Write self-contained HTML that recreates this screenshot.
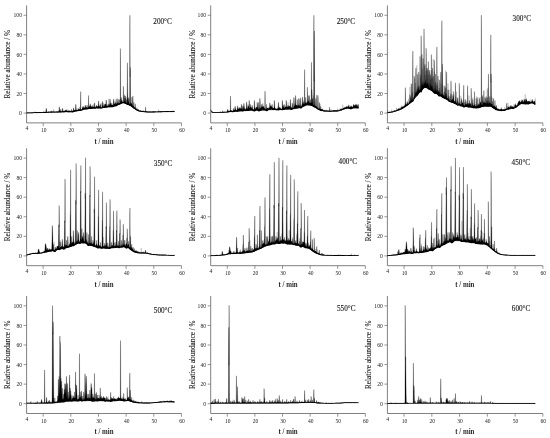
<!DOCTYPE html>
<html lang="en"><head><meta charset="utf-8"><title>Pyrolysis chromatograms</title>
<style>
html,body{margin:0;padding:0;background:#fff;overflow:hidden;}
svg{display:block;}
text{font-family:"Liberation Serif","Times New Roman",serif;fill:#1a1a1a;}
.ax{stroke:#555;stroke-width:0.75;fill:none;}
.tk{stroke:#6a6a6a;stroke-width:0.7;fill:none;}
.tr{stroke:#000;stroke-width:0.26;fill:#000;stroke-linejoin:round;}
.bd{fill:#000;stroke:none;}
.gr{stroke:#000;stroke-width:0.3;fill:none;}
.tl{font-size:6.5px;}
.t4{font-size:5.6px;}
.xl{font-size:7.5px;font-weight:bold;fill:#2a2a2a;}
.yl{font-size:7.5px;stroke:#1a1a1a;stroke-width:0.1;}
.tp{font-size:7.2px;stroke:#1a1a1a;stroke-width:0.12;}
</style></head><body>
<svg width="550" height="438" viewBox="0 0 550 438">
<rect width="550" height="438" fill="#fff"/>
<g>
<path class="ax" d="M26.60,5.46V122.88H181.44"/>
<text class="tl" x="22.00" y="115.25" text-anchor="end" textLength="2.9" lengthAdjust="spacingAndGlyphs">0</text>
<text class="tl" x="22.00" y="95.68" text-anchor="end" textLength="5.5" lengthAdjust="spacingAndGlyphs">20</text>
<text class="tl" x="22.00" y="76.11" text-anchor="end" textLength="5.5" lengthAdjust="spacingAndGlyphs">40</text>
<text class="tl" x="22.00" y="56.54" text-anchor="end" textLength="5.5" lengthAdjust="spacingAndGlyphs">60</text>
<text class="tl" x="22.00" y="36.97" text-anchor="end" textLength="5.5" lengthAdjust="spacingAndGlyphs">80</text>
<text class="tl" x="22.00" y="17.40" text-anchor="end" textLength="8.5" lengthAdjust="spacingAndGlyphs">100</text>
<text class="tl" x="43.69" y="132.38" text-anchor="middle" textLength="5.5" lengthAdjust="spacingAndGlyphs">10</text>
<text class="tl" x="71.34" y="132.38" text-anchor="middle" textLength="5.5" lengthAdjust="spacingAndGlyphs">20</text>
<text class="tl" x="98.99" y="132.38" text-anchor="middle" textLength="5.5" lengthAdjust="spacingAndGlyphs">30</text>
<text class="tl" x="126.64" y="132.38" text-anchor="middle" textLength="5.5" lengthAdjust="spacingAndGlyphs">40</text>
<text class="tl" x="154.29" y="132.38" text-anchor="middle" textLength="5.5" lengthAdjust="spacingAndGlyphs">50</text>
<text class="tl" x="181.94" y="132.38" text-anchor="middle" textLength="5.5" lengthAdjust="spacingAndGlyphs">60</text>
<path class="tk" d="M23.60,113.10H26.60M23.60,93.53H26.60M23.60,73.96H26.60M23.60,54.39H26.60M23.60,34.82H26.60M23.60,15.25H26.60M43.19,122.88v3.2M70.84,122.88v3.2M98.49,122.88v3.2M126.14,122.88v3.2M153.79,122.88v3.2M181.44,122.88v3.2"/>
<text class="t4" x="26.80" y="130.28" text-anchor="middle">4</text>
<text class="xl" x="104.02" y="143.78" text-anchor="middle" textLength="19.1" lengthAdjust="spacingAndGlyphs">t / min</text>
<text class="yl" transform="translate(10.40,64.17) rotate(-90)" text-anchor="middle" textLength="68.6" lengthAdjust="spacingAndGlyphs">Relative abundance / %</text>
<text class="tp" x="153.30" y="24.10">200°C</text>
<polygon class="bd" points="26.6,113.3 26.9,113.3 27.2,113.3 27.4,113.3 27.7,113.3 28.0,113.3 28.3,113.2 28.5,113.2 28.8,113.2 29.1,113.2 29.4,113.2 29.6,113.2 29.9,113.2 30.2,113.2 30.5,113.2 30.7,113.2 31.0,113.2 31.3,113.2 31.6,113.2 31.9,113.2 32.1,113.2 32.4,113.2 32.7,113.2 33.0,113.1 33.2,113.1 33.5,113.1 33.8,113.1 34.1,113.1 34.3,113.1 34.6,113.1 34.9,113.1 35.2,113.0 35.4,113.0 35.7,113.0 36.0,113.0 36.3,113.0 36.6,113.0 36.8,113.0 37.1,113.0 37.4,113.0 37.7,113.0 37.9,113.0 38.2,113.0 38.5,113.0 38.8,112.9 39.0,112.9 39.3,113.0 39.6,113.0 39.9,113.0 40.1,113.0 40.4,113.0 40.7,113.0 41.0,113.0 41.3,113.0 41.5,113.0 41.8,112.9 42.1,112.9 42.4,112.9 42.6,112.9 42.9,112.9 43.2,112.9 43.5,112.9 43.7,112.9 44.0,112.9 44.3,112.9 44.6,112.9 44.8,112.9 45.1,112.9 45.4,112.9 45.7,112.9 46.0,112.9 46.2,112.9 46.5,112.8 46.8,112.8 47.1,112.8 47.3,112.8 47.6,112.8 47.9,112.7 48.2,112.7 48.4,112.7 48.7,112.7 49.0,112.6 49.3,112.6 49.5,112.6 49.8,112.6 50.1,112.6 50.4,112.6 50.7,112.7 50.9,112.7 51.2,112.7 51.5,112.7 51.8,112.6 52.0,112.6 52.3,112.6 52.6,112.6 52.9,112.6 53.1,112.6 53.4,112.5 53.7,112.5 54.0,112.5 54.2,112.5 54.5,112.5 54.8,112.5 55.1,112.5 55.4,112.5 55.6,112.5 55.9,112.5 56.2,112.5 56.5,112.5 56.7,112.5 57.0,112.4 57.3,112.4 57.6,112.4 57.8,112.4 58.1,112.4 58.4,112.4 58.7,112.5 59.0,112.5 59.2,112.5 59.5,112.5 59.8,112.5 60.1,112.5 60.3,112.4 60.6,112.4 60.9,112.4 61.2,112.4 61.4,112.4 61.7,112.4 62.0,112.3 62.3,112.3 62.5,112.3 62.8,112.3 63.1,112.4 63.4,112.4 63.7,112.3 63.9,112.3 64.2,112.3 64.5,112.2 64.8,112.2 65.0,112.1 65.3,112.1 65.6,112.0 65.9,112.0 66.1,112.0 66.4,112.0 66.7,112.0 67.0,112.1 67.2,112.1 67.5,112.2 67.8,112.2 68.1,112.2 68.4,112.3 68.6,112.2 68.9,112.2 69.2,112.2 69.5,112.2 69.7,112.2 70.0,112.2 70.3,112.2 70.6,112.2 70.8,112.3 71.1,112.3 71.4,112.3 71.7,112.3 71.9,112.4 72.2,112.4 72.5,112.4 72.8,112.4 73.1,112.3 73.3,112.3 73.6,112.2 73.9,112.1 74.2,111.9 74.4,111.8 74.7,111.7 75.0,111.6 75.3,111.5 75.5,111.4 75.8,111.3 76.1,111.3 76.4,111.3 76.6,111.2 76.9,111.2 77.2,111.2 77.5,111.1 77.8,111.1 78.0,111.0 78.3,111.0 78.6,111.0 78.9,111.0 79.1,111.0 79.4,111.0 79.7,111.0 80.0,111.0 80.2,110.9 80.5,110.9 80.8,110.9 81.1,110.8 81.3,110.7 81.6,110.7 81.9,110.6 82.2,110.4 82.5,110.3 82.7,110.1 83.0,109.9 83.3,109.7 83.6,109.5 83.8,109.4 84.1,109.3 84.4,109.2 84.7,109.2 84.9,109.2 85.2,109.2 85.5,109.2 85.8,109.3 86.0,109.3 86.3,109.4 86.6,109.4 86.9,109.4 87.2,109.4 87.4,109.3 87.7,109.2 88.0,109.2 88.3,109.1 88.5,109.0 88.8,109.0 89.1,109.0 89.4,109.1 89.6,109.1 89.9,109.1 90.2,109.0 90.5,109.0 90.7,109.0 91.0,108.9 91.3,108.8 91.6,108.8 91.9,108.7 92.1,108.6 92.4,108.6 92.7,108.6 93.0,108.6 93.2,108.6 93.5,108.6 93.8,108.6 94.1,108.6 94.3,108.7 94.6,108.7 94.9,108.6 95.2,108.6 95.4,108.5 95.7,108.4 96.0,108.4 96.3,108.3 96.6,108.3 96.8,108.3 97.1,108.3 97.4,108.4 97.7,108.4 97.9,108.5 98.2,108.5 98.5,108.5 98.8,108.5 99.0,108.5 99.3,108.4 99.6,108.4 99.9,108.4 100.1,108.5 100.4,108.6 100.7,108.7 101.0,108.7 101.3,108.8 101.5,108.7 101.8,108.6 102.1,108.5 102.4,108.3 102.6,108.2 102.9,108.0 103.2,108.0 103.5,107.9 103.7,107.9 104.0,107.9 104.3,107.9 104.6,107.9 104.8,107.9 105.1,107.9 105.4,107.8 105.7,107.8 106.0,107.7 106.2,107.6 106.5,107.5 106.8,107.4 107.1,107.4 107.3,107.3 107.6,107.2 107.9,107.2 108.2,107.2 108.4,107.1 108.7,107.1 109.0,107.2 109.3,107.2 109.5,107.2 109.8,107.3 110.1,107.3 110.4,107.3 110.7,107.3 110.9,107.3 111.2,107.3 111.5,107.3 111.8,107.3 112.0,107.3 112.3,107.3 112.6,107.3 112.9,107.2 113.1,107.2 113.4,107.1 113.7,106.9 114.0,106.8 114.3,106.6 114.5,106.4 114.8,106.2 115.1,106.2 115.4,106.2 115.6,106.2 115.9,106.3 116.2,106.3 116.5,106.3 116.7,106.2 117.0,106.0 117.3,105.8 117.6,105.6 117.8,105.3 118.1,105.1 118.4,105.0 118.7,104.9 119.0,104.8 119.2,104.7 119.5,104.7 119.8,104.6 120.1,104.5 120.3,104.4 120.6,104.2 120.9,104.1 121.2,103.9 121.4,103.7 121.7,103.6 122.0,103.5 122.3,103.4 122.5,103.3 122.8,103.3 123.1,103.2 123.4,103.2 123.7,103.2 123.9,103.2 124.2,103.3 124.5,103.3 124.8,103.4 125.0,103.6 125.3,103.7 125.6,103.9 125.9,104.1 126.1,104.3 126.4,104.5 126.7,104.6 127.0,104.8 127.2,104.9 127.5,104.9 127.8,105.0 128.1,105.1 128.4,105.1 128.6,105.2 128.9,105.3 129.2,105.3 129.5,105.4 129.7,105.4 130.0,105.5 130.3,105.6 130.6,105.8 130.8,106.0 131.1,106.3 131.4,106.5 131.7,106.7 131.9,107.0 132.2,107.2 132.5,107.4 132.8,107.5 133.1,107.7 133.3,107.9 133.6,108.2 133.9,108.4 134.2,108.6 134.4,108.9 134.7,109.1 135.0,109.3 135.3,109.5 135.5,109.7 135.8,109.9 136.1,110.1 136.4,110.3 136.6,110.5 136.9,110.6 137.2,110.8 137.5,110.9 137.8,111.1 138.0,111.2 138.3,111.2 138.6,111.3 138.9,111.4 139.1,111.4 139.4,111.5 139.7,111.6 140.0,111.6 140.2,111.7 140.5,111.8 140.8,111.8 141.1,111.9 141.3,111.9 141.6,111.9 141.9,111.9 142.2,112.0 142.5,112.0 142.7,112.0 143.0,112.0 143.3,112.0 143.6,112.0 143.8,112.1 144.1,112.1 144.4,112.2 144.7,112.2 144.9,112.2 145.2,112.3 145.5,112.3 145.8,112.3 146.0,112.3 146.3,112.4 146.6,112.4 146.9,112.4 147.2,112.4 147.4,112.5 147.7,112.5 148.0,112.5 148.3,112.5 148.5,112.5 148.8,112.5 149.1,112.5 149.4,112.5 149.6,112.5 149.9,112.5 150.2,112.5 150.5,112.4 150.7,112.4 151.0,112.4 151.3,112.4 151.6,112.4 151.9,112.4 152.1,112.4 152.4,112.4 152.7,112.4 153.0,112.4 153.2,112.4 153.5,112.4 153.8,112.4 154.1,112.4 154.3,112.4 154.6,112.4 154.9,112.4 155.2,112.3 155.4,112.3 155.7,112.3 156.0,112.3 156.3,112.3 156.6,112.3 156.8,112.3 157.1,112.3 157.4,112.3 157.7,112.3 157.9,112.3 158.2,112.3 158.5,112.3 158.8,112.3 159.0,112.3 159.3,112.3 159.6,112.2 159.9,112.2 160.1,112.2 160.4,112.2 160.7,112.2 161.0,112.2 161.3,112.2 161.5,112.2 161.8,112.2 162.1,112.2 162.4,112.1 162.6,112.1 162.9,112.1 163.2,112.1 163.5,112.1 163.7,112.1 164.0,112.1 164.3,112.0 164.6,112.0 164.8,112.0 165.1,112.0 165.4,112.0 165.7,112.0 166.0,112.0 166.2,112.1 166.5,112.1 166.8,112.1 167.1,112.1 167.3,112.1 167.6,112.1 167.9,112.1 168.2,112.1 168.4,112.1 168.7,112.1 169.0,112.1 169.3,112.1 169.6,112.0 169.8,112.0 170.1,112.0 170.4,112.0 170.7,112.0 170.9,112.0 171.2,112.0 171.5,112.0 171.8,112.0 172.0,112.0 172.3,112.0 172.6,112.0 172.9,112.0 173.1,112.0 173.4,111.9 173.7,111.9 174.0,111.9 174.3,111.9 174.5,111.9 174.5,111.1 174.3,111.0 174.0,111.0 173.7,111.1 173.4,111.0 173.1,111.1 172.9,111.2 172.6,111.1 172.3,111.2 172.0,111.1 171.8,111.1 171.5,111.1 171.2,111.0 170.9,111.0 170.7,111.1 170.4,111.1 170.1,111.2 169.8,111.2 169.6,111.2 169.3,111.2 169.0,111.1 168.7,111.0 168.4,111.2 168.2,111.0 167.9,111.2 167.6,111.1 167.3,111.1 167.1,111.1 166.8,111.1 166.5,111.1 166.2,111.1 166.0,111.2 165.7,111.1 165.4,111.2 165.1,111.2 164.8,111.1 164.6,111.0 164.3,111.2 164.0,111.0 163.7,111.2 163.5,111.2 163.2,111.2 162.9,111.3 162.6,111.2 162.4,111.2 162.1,111.2 161.8,111.2 161.5,111.1 161.3,111.2 161.0,111.3 160.7,111.3 160.4,111.2 160.1,111.0 159.9,111.1 159.6,111.3 159.3,111.4 159.0,111.1 158.8,111.4 158.5,111.4 158.2,111.4 157.9,111.4 157.7,111.4 157.4,111.4 157.1,111.4 156.8,111.5 156.6,111.4 156.3,111.5 156.0,111.4 155.7,111.4 155.4,111.3 155.2,111.3 154.9,111.4 154.6,111.5 154.3,111.2 154.1,111.2 153.8,111.4 153.5,111.3 153.2,111.1 153.0,111.5 152.7,111.3 152.4,111.5 152.1,111.5 151.9,111.4 151.6,111.5 151.3,111.4 151.0,111.4 150.7,111.6 150.5,111.4 150.2,111.5 149.9,111.5 149.6,111.4 149.4,111.4 149.1,111.4 148.8,111.4 148.5,111.6 148.3,111.7 148.0,111.6 147.7,111.5 147.4,111.6 147.2,111.5 146.9,111.2 146.6,111.2 146.3,111.3 146.0,111.2 145.8,111.1 145.5,111.1 145.2,111.4 144.9,111.2 144.7,111.2 144.4,111.3 144.1,111.2 143.8,111.2 143.6,111.0 143.3,111.1 143.0,111.0 142.7,110.9 142.5,111.0 142.2,110.8 141.9,111.0 141.6,110.9 141.3,110.7 141.1,110.9 140.8,110.6 140.5,110.7 140.2,110.8 140.0,110.8 139.7,110.7 139.4,110.6 139.1,110.5 138.9,110.5 138.6,110.3 138.3,109.9 138.0,109.8 137.8,109.4 137.5,109.5 137.2,109.7 136.9,109.2 136.6,109.3 136.4,108.8 136.1,109.1 135.8,108.7 135.5,108.4 135.3,108.0 135.0,107.7 134.7,107.7 134.4,107.2 134.2,107.4 133.9,107.1 133.6,106.3 133.3,106.6 133.1,106.0 132.8,106.2 132.5,105.1 132.2,105.5 131.9,103.8 131.7,102.9 131.4,103.9 131.1,102.7 130.8,103.6 130.6,103.5 130.3,104.1 130.0,104.3 129.7,104.2 129.5,104.2 129.2,104.1 128.9,103.6 128.6,102.6 128.4,101.1 128.1,101.3 127.8,102.2 127.5,102.9 127.2,103.6 127.0,103.6 126.7,103.6 126.4,103.2 126.1,103.0 125.9,103.1 125.6,101.4 125.3,102.2 125.0,101.1 124.8,101.6 124.5,100.7 124.2,101.1 123.9,101.4 123.7,101.7 123.4,102.1 123.1,102.0 122.8,102.3 122.5,101.7 122.3,101.4 122.0,101.3 121.7,100.8 121.4,101.5 121.2,102.0 120.9,102.1 120.6,101.8 120.3,102.4 120.1,102.5 119.8,103.5 119.5,102.9 119.2,102.9 119.0,102.8 118.7,102.9 118.4,103.5 118.1,103.8 117.8,103.3 117.6,103.1 117.3,103.0 117.0,104.2 116.7,103.6 116.5,102.6 116.2,104.1 115.9,103.3 115.6,103.4 115.4,103.1 115.1,103.3 114.8,104.6 114.5,103.6 114.3,103.7 114.0,104.6 113.7,105.2 113.4,104.6 113.1,105.1 112.9,105.0 112.6,104.6 112.3,105.0 112.0,104.6 111.8,105.1 111.5,105.3 111.2,103.8 110.9,105.2 110.7,102.9 110.4,103.6 110.1,103.5 109.8,103.9 109.5,104.7 109.3,105.3 109.0,105.1 108.7,105.4 108.4,106.1 108.2,105.9 107.9,106.0 107.6,106.3 107.3,106.4 107.1,106.2 106.8,106.4 106.5,105.8 106.2,105.4 106.0,104.4 105.7,103.6 105.4,104.8 105.1,103.9 104.8,104.4 104.6,106.2 104.3,106.2 104.0,106.6 103.7,106.4 103.5,106.8 103.2,106.7 102.9,106.9 102.6,107.1 102.4,106.9 102.1,107.1 101.8,107.7 101.5,107.8 101.3,107.6 101.0,107.6 100.7,107.6 100.4,106.4 100.1,106.6 99.9,106.7 99.6,106.1 99.3,106.6 99.0,104.0 98.8,104.7 98.5,106.9 98.2,105.4 97.9,106.8 97.7,106.1 97.4,106.5 97.1,106.2 96.8,105.6 96.6,105.8 96.3,106.9 96.0,106.9 95.7,106.4 95.4,106.9 95.2,107.5 94.9,107.8 94.6,107.6 94.3,107.4 94.1,107.0 93.8,107.3 93.5,107.0 93.2,106.5 93.0,106.9 92.7,107.1 92.4,106.5 92.1,106.8 91.9,106.2 91.6,107.1 91.3,106.5 91.0,106.0 90.7,105.2 90.5,107.3 90.2,106.1 89.9,105.4 89.6,105.8 89.4,106.8 89.1,106.4 88.8,106.3 88.5,107.5 88.3,107.0 88.0,107.4 87.7,107.8 87.4,107.7 87.2,107.9 86.9,107.5 86.6,107.3 86.3,106.9 86.0,107.7 85.8,107.6 85.5,108.0 85.2,107.4 84.9,107.5 84.7,108.0 84.4,108.0 84.1,107.6 83.8,108.1 83.6,107.5 83.3,106.4 83.0,106.8 82.7,107.8 82.5,107.1 82.2,108.2 81.9,109.4 81.6,109.7 81.3,109.5 81.1,109.7 80.8,109.7 80.5,109.4 80.2,109.8 80.0,109.8 79.7,109.6 79.4,108.9 79.1,108.7 78.9,108.6 78.6,109.0 78.3,109.5 78.0,110.0 77.8,110.1 77.5,110.1 77.2,110.2 76.9,110.2 76.6,110.2 76.4,110.1 76.1,109.7 75.8,109.6 75.5,109.9 75.3,109.9 75.0,110.3 74.7,110.4 74.4,109.9 74.2,109.7 73.9,110.1 73.6,111.1 73.3,110.7 73.1,111.1 72.8,111.0 72.5,110.6 72.2,110.7 71.9,111.4 71.7,111.3 71.4,111.2 71.1,111.2 70.8,111.2 70.6,110.9 70.3,111.0 70.0,110.7 69.7,110.8 69.5,110.9 69.2,110.6 68.9,111.1 68.6,110.8 68.4,111.2 68.1,111.2 67.8,111.1 67.5,111.1 67.2,111.2 67.0,111.0 66.7,110.6 66.4,110.6 66.1,110.1 65.9,110.5 65.6,110.2 65.3,110.8 65.0,110.5 64.8,110.4 64.5,110.8 64.2,110.9 63.9,111.0 63.7,110.7 63.4,110.7 63.1,111.4 62.8,111.3 62.5,111.0 62.3,111.3 62.0,111.1 61.7,111.4 61.4,111.4 61.2,111.4 60.9,111.1 60.6,111.4 60.3,110.8 60.1,111.4 59.8,110.9 59.5,111.3 59.2,111.6 59.0,111.6 58.7,111.4 58.4,111.5 58.1,111.4 57.8,111.5 57.6,111.6 57.3,111.6 57.0,111.6 56.7,111.5 56.5,111.5 56.2,111.7 55.9,111.6 55.6,111.7 55.4,111.6 55.1,111.7 54.8,111.5 54.5,111.6 54.2,111.7 54.0,111.4 53.7,111.7 53.4,111.6 53.1,111.5 52.9,111.5 52.6,111.4 52.3,111.5 52.0,111.6 51.8,111.7 51.5,111.7 51.2,111.7 50.9,111.6 50.7,111.8 50.4,111.5 50.1,111.6 49.8,111.8 49.5,111.8 49.3,111.7 49.0,111.8 48.7,111.7 48.4,111.8 48.2,111.9 47.9,111.9 47.6,111.9 47.3,111.9 47.1,111.8 46.8,111.7 46.5,111.7 46.2,111.8 46.0,112.0 45.7,111.9 45.4,112.1 45.1,112.1 44.8,112.0 44.6,112.0 44.3,112.0 44.0,112.1 43.7,112.0 43.5,112.0 43.2,112.1 42.9,112.2 42.6,112.2 42.4,112.2 42.1,112.2 41.8,112.1 41.5,112.1 41.3,112.1 41.0,112.1 40.7,112.2 40.4,112.1 40.1,112.0 39.9,112.2 39.6,112.0 39.3,112.0 39.0,112.1 38.8,112.0 38.5,112.0 38.2,112.0 37.9,112.1 37.7,112.0 37.4,112.2 37.1,112.1 36.8,112.1 36.6,112.2 36.3,112.1 36.0,112.1 35.7,112.1 35.4,112.1 35.2,112.2 34.9,112.2 34.6,112.3 34.3,112.3 34.1,112.3 33.8,112.3 33.5,112.3 33.2,112.3 33.0,112.3 32.7,112.3 32.4,112.4 32.1,112.3 31.9,112.4 31.6,112.4 31.3,112.3 31.0,112.4 30.7,112.4 30.5,112.4 30.2,112.4 29.9,112.4 29.6,112.4 29.4,112.4 29.1,112.4 28.8,112.4 28.5,112.5 28.3,112.5 28.0,112.4 27.7,112.5 27.4,112.5 27.2,112.5 26.9,112.5 26.6,112.5"/>
<path class="gr" d="M26.72,112.9v-0.2M27.31,112.9v-0.2M27.45,112.9v-0.3M28.36,112.9v-0.2M28.68,112.9v-0.3M29.15,112.8v-0.3M30.34,112.8v-0.2M30.64,112.8v-0.2M31.20,112.8v-0.2M31.52,112.8v-0.4M33.33,112.8v-0.5M33.62,112.7v-0.3M34.32,112.7v-0.3M34.49,112.7v-0.2M34.82,112.7v-1.3M36.39,112.7v-0.2M36.74,112.7v-0.3M37.47,112.7v-0.2M37.96,112.6v-0.2M38.45,112.6v-0.4M40.56,112.6v-0.3M40.89,112.6v-0.3M41.82,112.5v-0.3M42.67,112.5v-0.3M43.13,112.5v-0.5M43.63,112.5v-1.5M43.93,112.5v-0.6M44.63,112.5v-0.2M45.21,112.5v-2.4M45.53,112.5v-0.4M45.95,112.4v-0.2M46.37,112.4v-0.2M46.70,112.4v-0.4M48.07,112.4v-1.1M48.43,112.4v-0.9M48.74,112.4v-0.8M49.07,112.4v-0.2M49.95,112.3v-1.1M50.40,112.3v-0.2M50.66,112.3v-0.2M50.83,112.3v-0.2M51.17,112.3v-0.3M51.76,112.3v-0.2M52.26,112.3v-0.7M52.83,112.2v-0.5M53.06,112.2v-0.4M53.32,112.2v-0.2M53.60,112.2v-2.8M54.07,112.2v-0.6M54.25,112.2v-0.2M54.48,112.2v-0.3M54.77,112.2v-0.3M55.59,112.2v-0.2M55.76,112.2v-0.4M56.52,112.1v-0.6M56.61,112.1v-0.2M56.97,112.1v-0.7M57.35,112.1v-0.3M57.58,112.1v-0.3M58.23,112.1v-0.6M58.60,112.1v-0.6M58.89,112.1v-0.3M59.08,112.1v-2.1M59.48,112.1v-0.5M59.71,112.1v-0.4M60.00,112.0v-0.5M60.47,112.0v-1.1M60.61,112.0v-0.3M61.08,112.0v-0.3M61.20,112.0v-0.2M61.59,112.0v-0.5M61.85,112.0v-0.7M62.26,112.0v-3.0M62.90,112.0v-0.2M63.15,112.0v-0.5M63.32,112.0v-0.8M63.75,112.0v-1.0M63.91,112.0v-0.4M64.52,111.9v-0.3M64.81,111.9v-0.2M65.20,111.9v-1.7M65.58,111.9v-0.5M65.89,111.9v-0.5M66.18,111.9v-0.4M66.47,111.9v-0.5M66.84,111.9v-1.7M67.06,111.9v-3.1M67.26,111.9v-0.2M67.57,111.9v-0.7M68.08,111.8v-0.8M68.34,111.8v-0.5M68.45,111.8v-0.8M68.99,111.8v-0.8M69.22,111.8v-1.6M69.59,111.8v-0.2M69.70,111.8v-0.3M70.12,111.8v-0.6M70.40,111.8v-1.0M70.62,111.7v-0.2M70.90,111.7v-0.2M71.35,111.7v-0.8M71.50,111.7v-0.4M71.85,111.7v-0.9M72.23,111.6v-0.2M72.55,111.6v-0.2M72.78,111.6v-0.9M73.22,111.5v-0.2M73.54,111.5v-0.2M73.80,111.5v-0.4M74.15,111.4v-1.3M74.24,111.4v-1.1M74.55,111.4v-0.2M74.87,111.3v-0.2M75.17,111.3v-0.2M75.58,111.3v-0.4M75.97,111.2v-1.0M76.10,111.2v-0.2M76.60,111.1v-0.6M76.88,111.1v-0.3M77.05,111.0v-0.3M77.32,111.0v-0.2M77.70,110.9v-0.2M77.96,110.9v-0.6M78.19,110.8v-0.9M78.51,110.7v-1.3M78.94,110.6v-0.6M79.25,110.6v-0.3M79.64,110.5v-3.8M79.71,110.5v-1.5M80.19,110.4v-0.8M80.47,110.3v-1.9M80.74,110.2v-0.3M80.95,110.2v-0.4M81.43,110.1v-0.5M81.70,110.0v-0.7M81.97,110.0v-0.5M82.38,109.9v-0.2M82.46,109.9v-0.3M82.92,109.8v-0.5M83.17,109.7v-0.3M83.42,109.6v-0.9M83.87,109.5v-1.6M84.16,109.5v-1.0M84.37,109.4v-2.1M84.73,109.4v-0.7M85.03,109.3v-2.1M85.18,109.3v-3.1M85.54,109.2v-1.1M85.84,109.1v-1.7M86.15,109.1v-3.9M86.58,109.0v-0.2M86.93,109.0v-0.2M87.07,108.9v-0.8M87.49,108.9v-1.5M87.61,108.9v-0.7M88.11,108.8v-0.8M88.42,108.8v-0.4M88.54,108.8v-0.6M88.85,108.7v-1.5M89.27,108.7v-0.7M89.62,108.6v-0.8M89.92,108.6v-0.2M90.21,108.6v-1.0M90.54,108.6v-1.2M90.80,108.5v-1.0M91.02,108.5v-0.6M91.27,108.5v-1.6M91.79,108.4v-0.3M91.97,108.4v-0.5M92.35,108.4v-0.3M92.54,108.4v-1.5M93.02,108.3v-0.6M93.13,108.3v-0.2M93.40,108.3v-4.3M93.82,108.3v-1.4M94.09,108.3v-2.2M94.46,108.2v-0.4M94.61,108.2v-1.5M94.95,108.2v-0.7M95.43,108.2v-0.4M95.69,108.1v-0.3M95.91,108.1v-0.5M96.13,108.1v-0.3M96.44,108.1v-2.1M96.83,108.1v-0.3M97.27,108.0v-0.2M97.57,108.0v-0.4M97.73,108.0v-0.3M98.04,108.0v-2.3M98.32,107.9v-0.3M98.60,107.9v-1.5M99.01,107.9v-0.3M99.28,107.8v-1.1M99.68,107.8v-0.5M99.90,107.8v-0.3M100.09,107.8v-0.9M100.49,107.7v-3.1M100.72,107.7v-4.0M101.08,107.7v-4.4M101.42,107.7v-0.3M101.74,107.6v-0.4M102.08,107.6v-0.5M102.45,107.6v-1.9M102.61,107.6v-0.5M103.00,107.5v-2.4M103.25,107.5v-1.7M103.64,107.5v-4.8M103.87,107.5v-2.5M104.13,107.5v-0.6M104.46,107.4v-0.6M104.77,107.4v-0.4M105.19,107.4v-3.5M105.27,107.4v-0.3M105.57,107.3v-0.3M105.91,107.3v-0.4M106.17,107.3v-0.3M106.50,107.3v-2.0M106.87,107.2v-0.3M107.13,107.2v-0.8M107.50,107.2v-2.5M107.89,107.1v-0.4M108.15,107.1v-2.4M108.48,107.1v-2.2M108.80,107.0v-8.3M108.93,107.0v-0.8M109.22,107.0v-2.4M109.62,106.9v-1.9M109.93,106.9v-0.4M110.35,106.8v-4.2M110.49,106.8v-0.6M110.84,106.8v-0.4M111.17,106.7v-1.0M111.54,106.7v-1.0M111.67,106.7v-1.5M112.17,106.6v-1.2M112.39,106.6v-0.9M112.67,106.5v-1.1M112.96,106.5v-1.0M113.17,106.4v-0.8M113.53,106.4v-4.5M113.92,106.3v-0.4M114.30,106.2v-2.7M114.60,106.2v-0.3M114.74,106.1v-0.4M115.12,106.0v-0.3M115.36,106.0v-0.8M115.68,105.9v-1.6M115.98,105.8v-6.5M116.31,105.6v-1.0M116.51,105.6v-1.5M116.92,105.4v-0.5M117.19,105.2v-0.5M117.48,105.1v-2.8M117.86,104.9v-0.5M118.15,104.8v-2.8M118.51,104.6v-0.7M118.75,104.5v-0.5M119.15,104.3v-0.6M119.44,104.2v-4.1M119.68,104.1v-4.3M120.08,103.9v-5.0M120.31,103.8v-0.5M120.56,103.6v-2.6M120.82,103.5v-1.1M121.11,103.3v-4.1M121.46,103.2v-3.5M121.74,103.1v-2.7M122.10,102.9v-2.8M122.47,102.9v-1.1M122.60,102.8v-1.0M123.08,102.8v-0.6M123.24,102.9v-0.5M123.65,102.9v-0.6M123.81,103.0v-0.5M124.31,103.1v-4.9M124.59,103.2v-1.2M124.76,103.3v-9.0M125.25,103.5v-5.5M125.41,103.5v-4.8M125.78,103.7v-1.8M125.99,103.7v-6.8M126.36,103.9v-0.9M126.71,104.0v-0.8M126.90,104.1v-1.5M127.23,104.2v-5.9M127.56,104.4v-0.5M127.90,104.5v-0.8M128.14,104.6v-1.0M128.48,104.8v-3.1M128.70,104.9v-7.7M129.08,105.1v-6.7M129.29,105.2v-0.4M129.63,105.4v-2.1M130.11,105.7v-3.2M130.24,105.7v-0.6M130.59,105.9v-3.5M130.85,106.1v-0.7M131.25,106.4v-1.1M131.55,106.6v-2.7M131.93,106.9v-0.4M132.20,107.1v-1.8M132.55,107.4v-1.1M132.67,107.4v-0.5M132.99,107.7v-0.5M133.45,108.0v-2.1M133.75,108.2v-2.0M133.88,108.3v-0.3M134.24,108.6v-1.6M134.45,108.7v-1.5M134.81,108.9v-0.3M135.14,109.1v-1.6M135.44,109.3v-0.3M135.70,109.5v-1.5M136.20,109.8v-0.3M136.36,109.9v-1.0M136.70,110.1v-0.8M137.05,110.3v-1.0M137.39,110.5v-1.0M137.71,110.6v-0.4M137.94,110.7v-0.3M138.32,110.9v-0.2M138.54,110.9v-0.2M138.90,111.0v-0.7M139.07,111.1v-0.3M139.50,111.2v-0.2M139.69,111.2v-0.9M140.07,111.3v-0.2M140.46,111.3v-0.9M140.68,111.4v-0.2M140.86,111.4v-1.2M141.57,111.5v-0.3M141.77,111.5v-0.5M142.15,111.6v-1.2M142.54,111.6v-0.2M142.69,111.6v-0.7M143.13,111.7v-0.3M143.51,111.7v-1.4M143.62,111.7v-0.9M144.04,111.8v-0.2M144.41,111.8v-0.3M145.26,111.9v-0.8M145.61,111.9v-0.2M145.87,111.9v-0.6M146.82,112.0v-0.3M147.26,112.0v-0.7M147.96,112.1v-0.3M148.17,112.1v-0.7M148.97,112.1v-0.2M149.23,112.1v-0.5M149.37,112.1v-0.2M149.84,112.1v-0.7M150.50,112.1v-0.3M150.74,112.1v-0.4M151.67,112.1v-0.2M152.44,112.1v-0.3M152.84,112.1v-0.6M153.20,112.1v-0.2M153.37,112.0v-0.2M154.67,112.0v-0.7M157.36,111.9v-0.4M158.03,111.9v-0.5M158.37,111.9v-0.2M158.64,111.8v-2.4M159.46,111.8v-0.5M160.05,111.8v-0.2M160.80,111.8v-0.4M161.12,111.8v-0.5M161.28,111.8v-0.2M162.33,111.8v-0.5M162.93,111.8v-0.6M163.18,111.8v-0.4M165.30,111.7v-0.3M165.57,111.7v-0.3M165.88,111.7v-0.2M166.10,111.7v-0.4M166.53,111.7v-0.2M166.86,111.7v-0.2M167.02,111.7v-0.4M168.14,111.7v-0.8M168.44,111.7v-0.2M168.72,111.7v-0.2M168.94,111.7v-0.4M169.23,111.7v-0.2M169.43,111.7v-0.2M170.35,111.7v-0.3M171.99,111.6v-0.4M172.31,111.6v-0.7M172.98,111.6v-0.2M173.10,111.6v-1.4M173.69,111.6v-0.2M174.47,111.6v-0.2"/>
<polygon class="tr" points="26.60,112.90 28.81,112.86 31.02,112.81 33.24,112.76 35.45,112.71 37.66,112.65 39.87,112.60 42.08,112.54 44.30,112.48 45.68,112.41 45.79,112.26 45.84,112.06 45.90,111.71 45.95,111.19 46.01,110.50 46.12,108.96 46.18,108.41 46.23,108.21 46.29,108.29 46.34,108.53 46.45,109.36 46.62,110.84 46.73,111.58 46.84,112.04 47.01,112.33 47.67,112.39 49.88,112.33 51.21,112.28 51.26,112.22 51.32,112.01 51.37,111.54 51.43,110.94 51.48,110.65 51.54,110.78 51.71,111.82 51.76,112.05 51.87,112.24 54.08,112.21 56.30,112.14 58.51,112.08 58.73,111.97 58.78,111.84 58.84,111.59 58.90,111.15 58.95,110.50 59.01,109.63 59.12,107.69 59.17,106.99 59.23,106.74 59.28,106.84 59.34,107.15 59.39,107.61 59.61,110.06 59.72,111.00 59.84,111.58 59.95,111.87 60.17,112.03 60.33,112.02 60.39,111.91 60.44,111.55 60.50,110.73 60.55,109.69 60.61,109.19 60.66,109.40 60.72,109.96 60.83,111.24 60.89,111.64 60.94,111.87 61.05,112.01 61.99,111.98 62.10,111.84 62.16,111.65 62.21,111.35 62.27,110.88 62.43,108.88 62.49,108.39 62.54,108.21 62.60,108.28 62.66,108.50 62.77,109.24 62.93,110.56 63.04,111.23 63.15,111.64 63.32,111.90 64.15,111.96 65.59,111.90 65.64,111.82 65.70,111.53 65.75,110.89 65.81,110.07 65.86,109.68 65.92,109.85 66.08,111.28 66.14,111.60 66.25,111.86 67.80,111.84 67.85,111.78 67.91,111.56 67.96,111.08 68.02,110.46 68.07,110.16 68.13,110.29 68.30,111.37 68.35,111.61 68.46,111.80 70.67,111.74 71.12,111.70 71.17,111.60 71.23,111.28 71.28,110.56 71.34,109.64 71.39,109.19 71.45,109.38 71.50,109.87 71.61,110.99 71.67,111.34 71.72,111.54 71.89,111.66 73.05,111.53 73.16,111.38 73.22,111.20 73.27,110.88 73.33,110.42 73.49,108.40 73.55,107.90 73.60,107.72 73.66,107.79 73.72,108.00 73.83,108.73 73.99,110.04 74.10,110.69 74.21,111.09 74.38,111.33 75.10,111.32 75.32,111.16 75.37,110.98 75.43,110.64 75.49,110.07 75.54,109.21 75.60,108.08 75.71,105.54 75.76,104.63 75.82,104.29 75.87,104.42 75.93,104.81 75.98,105.41 76.20,108.57 76.26,109.23 76.31,109.78 76.37,110.21 76.48,110.74 76.65,111.02 77.31,110.99 77.75,110.88 77.81,110.77 77.86,110.42 77.92,109.66 77.97,108.69 78.03,108.21 78.08,108.40 78.14,108.91 78.25,110.06 78.31,110.43 78.36,110.63 78.53,110.73 80.35,110.30 80.41,110.16 80.46,109.47 80.52,107.06 80.57,101.72 80.63,94.90 80.68,91.57 80.74,93.00 80.79,96.66 80.85,101.11 80.90,105.00 80.96,107.65 81.02,109.11 81.07,109.78 81.13,110.02 81.29,110.10 82.73,109.77 82.78,109.63 82.84,109.17 82.90,108.16 82.95,106.88 83.01,106.25 83.06,106.51 83.12,107.18 83.17,108.00 83.23,108.72 83.28,109.20 83.34,109.47 83.45,109.62 84.66,109.35 84.78,109.18 84.83,108.98 84.89,108.64 84.94,108.14 85.05,106.73 85.11,106.00 85.16,105.47 85.22,105.27 85.27,105.34 85.33,105.56 85.44,106.32 85.61,107.69 85.72,108.38 85.83,108.79 85.99,109.04 86.77,108.99 86.88,108.94 86.93,108.80 86.99,108.32 87.04,107.27 87.10,105.93 87.15,105.27 87.21,105.55 87.26,106.26 87.32,107.13 87.37,107.88 87.43,108.40 87.49,108.68 87.60,108.85 88.20,108.79 88.26,108.69 88.31,108.20 88.37,106.49 88.43,102.70 88.48,97.85 88.54,95.49 88.59,96.50 88.65,99.11 88.70,102.28 88.76,105.05 88.81,106.93 88.87,107.98 88.92,108.45 88.98,108.63 89.31,108.68 89.64,108.61 89.75,108.42 89.81,108.19 89.86,107.80 89.92,107.20 89.97,106.42 90.08,104.66 90.14,104.04 90.19,103.80 90.25,103.89 90.31,104.16 90.36,104.58 90.58,106.76 90.69,107.59 90.80,108.11 90.97,108.42 91.47,108.47 91.85,108.42 91.91,108.30 91.96,107.89 92.02,106.99 92.08,105.83 92.13,105.27 92.19,105.51 92.24,106.12 92.35,107.52 92.41,107.97 92.46,108.21 92.57,108.36 94.07,108.22 94.18,108.02 94.23,107.76 94.29,107.32 94.34,106.65 94.40,105.77 94.51,103.79 94.56,103.09 94.62,102.83 94.67,102.93 94.73,103.23 94.78,103.70 95.01,106.17 95.12,107.12 95.23,107.70 95.34,107.98 95.56,108.13 96.28,108.07 96.33,107.97 96.39,107.60 96.44,106.80 96.50,105.77 96.55,105.27 96.61,105.48 96.67,106.03 96.78,107.28 96.83,107.67 96.89,107.89 97.00,108.02 98.05,107.90 98.16,107.63 98.21,107.30 98.27,106.72 98.32,105.85 98.38,104.70 98.49,102.13 98.55,101.21 98.60,100.87 98.66,101.00 98.71,101.40 98.77,102.01 98.99,105.23 99.04,105.91 99.10,106.47 99.15,106.90 99.26,107.45 99.43,107.75 100.09,107.78 100.20,107.64 100.26,107.25 100.31,106.40 100.37,105.31 100.43,104.78 100.48,105.01 100.54,105.59 100.65,106.91 100.70,107.33 100.76,107.56 100.87,107.70 101.81,107.59 101.92,107.36 101.97,107.06 102.03,106.55 102.08,105.78 102.14,104.76 102.25,102.47 102.31,101.66 102.36,101.36 102.42,101.48 102.47,101.83 102.53,102.37 102.75,105.22 102.80,105.83 102.86,106.32 102.91,106.71 103.02,107.19 103.19,107.46 103.96,107.47 104.08,107.32 104.13,106.91 104.19,106.01 104.24,104.86 104.30,104.29 104.35,104.53 104.41,105.15 104.52,106.55 104.57,106.99 104.63,107.24 104.74,107.39 105.57,107.28 105.68,107.00 105.73,106.64 105.79,106.04 105.84,105.13 105.90,103.92 106.01,101.21 106.07,100.25 106.12,99.89 106.18,100.03 106.23,100.45 106.29,101.09 106.40,102.78 106.51,104.48 106.56,105.19 106.62,105.78 106.67,106.23 106.73,106.57 106.84,106.97 107.01,107.16 107.89,107.09 107.95,106.97 108.00,106.54 108.06,105.60 108.11,104.39 108.17,103.80 108.22,104.05 108.28,104.69 108.33,105.47 108.39,106.15 108.44,106.61 108.50,106.87 108.61,107.02 109.38,106.93 109.49,106.79 109.55,106.59 109.61,106.20 109.66,105.55 109.72,104.56 109.77,103.26 109.88,100.34 109.94,99.30 109.99,98.91 110.05,99.06 110.10,99.51 110.16,100.21 110.27,102.02 110.38,103.84 110.43,104.61 110.49,105.25 110.55,105.74 110.60,106.10 110.71,106.52 110.88,106.73 111.49,106.67 111.54,106.52 111.60,106.02 111.65,104.92 111.71,103.51 111.76,102.83 111.82,103.11 111.87,103.86 111.93,104.77 111.98,105.56 112.04,106.10 112.09,106.40 112.20,106.57 113.09,106.43 113.20,106.29 113.26,106.10 113.31,105.74 113.37,105.12 113.42,104.20 113.48,102.98 113.59,100.25 113.64,99.28 113.70,98.91 113.75,99.05 113.81,99.46 113.86,100.10 113.97,101.78 114.08,103.48 114.14,104.19 114.20,104.78 114.25,105.23 114.31,105.57 114.42,105.95 114.58,106.12 114.80,106.08 114.86,105.90 114.91,105.28 114.97,103.93 115.02,102.20 115.08,101.36 115.14,101.71 115.19,102.62 115.25,103.73 115.30,104.69 115.36,105.35 115.41,105.70 115.47,105.86 115.69,105.88 116.46,105.53 116.57,105.23 116.63,104.88 116.68,104.29 116.74,103.42 116.79,102.27 116.90,99.70 116.96,98.78 117.02,98.42 117.07,98.53 117.13,98.90 117.18,99.48 117.40,102.55 117.46,103.20 117.51,103.73 117.57,104.13 117.68,104.63 117.84,104.86 118.34,104.69 118.40,104.63 118.45,104.41 118.51,103.73 118.56,102.24 118.62,100.34 118.67,99.40 118.73,99.77 118.79,100.76 118.84,101.96 118.90,103.01 118.95,103.72 119.01,104.10 119.06,104.26 119.28,104.27 120.06,103.84 120.11,103.44 120.17,101.41 120.22,94.29 120.28,78.50 120.33,58.34 120.39,48.52 120.44,52.73 120.50,63.57 120.55,76.76 120.61,88.25 120.67,96.09 120.72,100.43 120.78,102.41 120.83,103.14 120.89,103.36 121.11,103.33 121.16,103.26 121.22,103.02 121.27,102.26 121.33,100.60 121.38,98.49 121.44,97.44 121.49,97.86 121.55,98.97 121.61,100.31 121.66,101.49 121.72,102.28 121.77,102.72 121.83,102.90 122.05,102.95 123.04,102.82 123.10,102.71 123.15,102.11 123.21,99.97 123.26,95.22 123.32,89.14 123.37,86.19 123.43,87.48 123.49,90.78 123.54,94.78 123.60,98.27 123.65,100.67 123.71,102.00 123.76,102.62 123.82,102.86 123.93,102.93 123.98,102.67 124.04,101.71 124.09,99.57 124.15,96.82 124.20,95.49 124.26,96.09 124.32,97.60 124.37,99.44 124.43,101.04 124.48,102.14 124.54,102.76 124.59,103.05 124.70,103.23 125.03,103.32 125.09,103.07 125.14,102.12 125.20,100.00 125.26,97.29 125.31,95.98 125.37,96.58 125.42,98.08 125.48,99.90 125.53,101.48 125.59,102.58 125.64,103.19 125.70,103.49 125.81,103.67 126.14,103.77 126.20,103.63 126.25,103.07 126.31,101.80 126.36,100.18 126.42,99.40 126.47,99.77 126.53,100.68 126.58,101.78 126.64,102.74 126.69,103.40 126.75,103.78 126.80,103.97 126.97,104.11 127.02,104.08 127.08,103.79 127.14,102.29 127.19,97.13 127.25,85.71 127.30,70.87 127.36,62.71 127.41,63.78 127.47,69.16 127.52,76.25 127.58,82.74 127.63,87.66 127.69,90.94 127.74,93.01 127.80,94.58 127.96,98.92 128.02,100.24 128.08,101.39 128.13,102.34 128.19,103.09 128.24,103.66 128.30,104.06 128.35,104.30 128.41,104.26 128.46,103.56 128.52,101.81 128.57,99.52 128.63,98.42 128.68,98.95 128.74,100.25 128.79,101.83 128.85,103.20 128.90,104.15 128.96,104.68 129.02,104.95 129.18,105.16 129.51,105.33 129.57,105.28 129.62,104.71 129.68,101.46 129.73,89.89 129.79,64.15 129.85,31.24 129.90,15.25 129.96,22.19 130.01,39.76 130.07,60.08 130.12,74.28 130.18,76.78 130.23,70.66 130.29,67.50 130.34,71.59 130.40,79.21 130.45,88.08 130.51,95.75 130.56,100.99 130.62,103.91 130.67,105.27 130.73,105.81 130.79,106.01 131.61,106.63 131.67,106.61 131.73,106.29 131.78,105.05 131.84,102.26 131.89,98.68 131.95,96.95 132.00,97.76 132.06,99.76 132.11,102.18 132.17,104.29 132.22,105.75 132.28,106.58 132.33,106.99 132.44,107.25 132.55,107.34 132.61,107.31 132.67,106.92 132.72,105.46 132.78,102.15 132.83,97.92 132.89,95.88 132.94,96.82 133.00,99.17 133.05,102.02 133.11,104.51 133.16,106.23 133.22,107.20 133.27,107.67 133.33,107.87 133.55,108.10 133.61,108.10 133.66,107.92 133.72,107.18 133.77,105.51 133.83,103.36 133.88,102.34 133.94,102.84 133.99,104.05 134.05,105.53 134.10,106.82 134.16,107.71 134.21,108.22 134.27,108.47 134.43,108.69 134.99,109.00 135.04,108.84 135.10,108.18 135.15,106.67 135.21,104.73 135.26,103.80 135.32,104.26 135.38,105.36 135.43,106.69 135.49,107.86 135.54,108.67 135.60,109.13 135.65,109.37 135.87,109.61 136.65,110.07 136.70,110.01 136.76,109.72 136.81,109.03 136.87,108.14 136.92,107.72 136.98,107.94 137.03,108.47 137.14,109.66 137.20,110.05 137.26,110.28 137.42,110.50 138.31,110.85 138.36,110.81 138.42,110.60 138.47,110.11 138.53,109.48 138.58,109.19 138.64,109.34 138.80,110.51 138.86,110.78 138.97,111.01 141.18,111.45 143.39,111.70 145.22,111.84 145.27,111.67 145.33,111.05 145.38,109.66 145.44,107.89 145.49,107.03 145.55,107.41 145.61,108.38 145.66,109.54 145.72,110.56 145.77,111.26 145.83,111.65 145.88,111.83 146.10,111.95 148.32,112.09 150.53,112.12 152.74,112.07 154.95,111.98 157.16,111.89 159.38,111.83 161.59,111.79 163.80,111.75 166.01,111.71 168.22,111.68 170.44,111.66 172.65,111.64 174.53,111.63 174.5,111.63 173.9,111.63 173.2,111.64 172.5,111.64 171.9,111.64 171.2,111.65 170.5,111.65 169.9,111.66 169.2,111.67 168.6,111.68 167.9,111.68 167.2,111.69 166.6,111.70 165.9,111.71 165.2,111.72 164.6,111.73 163.9,111.74 163.2,111.76 162.6,111.77 161.9,111.78 161.3,111.79 160.6,111.80 159.9,111.82 159.3,111.83 158.6,111.84 157.9,111.86 157.3,111.89 156.6,111.91 155.9,111.94 155.3,111.97 154.6,112.00 154.0,112.02 153.3,112.05 152.6,112.07 152.0,112.09 151.3,112.11 150.6,112.12 150.0,112.12 149.3,112.12 148.6,112.10 148.0,112.07 147.3,112.04 146.7,111.99 146.0,111.94 145.3,111.88 144.7,111.82 144.0,111.76 143.3,111.69 142.7,111.63 142.0,111.55 141.3,111.47 140.7,111.37 140.0,111.26 139.4,111.13 138.7,110.97 138.0,110.77 137.4,110.48 136.7,110.12 136.0,109.72 135.4,109.29 134.7,108.87 134.0,108.45 133.4,107.98 132.7,107.48 132.1,106.97 131.4,106.48 130.7,106.03 130.1,105.64 129.4,105.28 128.7,104.93 128.1,104.61 127.4,104.31 126.7,104.03 126.1,103.78 125.4,103.53 124.8,103.27 124.1,103.04 123.4,102.88 122.8,102.83 122.1,102.93 121.4,103.17 120.8,103.50 120.1,103.86 119.4,104.20 118.8,104.49 118.1,104.80 117.5,105.12 116.8,105.43 116.1,105.72 115.5,105.95 114.8,106.12 114.1,106.26 113.5,106.39 112.8,106.50 112.1,106.60 111.5,106.70 110.8,106.78 110.2,106.86 109.5,106.94 108.8,107.02 108.2,107.09 107.5,107.16 106.8,107.22 106.2,107.28 105.5,107.34 104.8,107.40 104.2,107.45 103.5,107.50 102.9,107.56 102.2,107.61 101.5,107.66 100.9,107.72 100.2,107.77 99.5,107.82 98.9,107.88 98.2,107.94 97.5,107.99 96.9,108.05 96.2,108.10 95.6,108.15 94.9,108.20 94.2,108.25 93.6,108.30 92.9,108.35 92.2,108.41 91.6,108.46 90.9,108.52 90.3,108.58 89.6,108.65 88.9,108.72 88.3,108.79 87.6,108.87 86.9,108.96 86.3,109.07 85.6,109.19 84.9,109.32 84.3,109.46 83.6,109.60 83.0,109.75 82.3,109.89 81.6,110.03 81.0,110.17 80.3,110.33 79.6,110.48 79.0,110.64 78.3,110.79 77.6,110.92 77.0,111.05 76.3,111.15 75.7,111.24 75.0,111.33 74.3,111.42 73.7,111.49 73.0,111.57 72.3,111.63 71.7,111.68 71.0,111.72 70.3,111.75 69.7,111.78 69.0,111.81 68.4,111.83 67.7,111.86 67.0,111.88 66.4,111.90 65.7,111.92 65.0,111.93 64.4,111.95 63.7,111.97 63.0,111.98 62.4,112.00 61.7,112.01 61.1,112.02 60.4,112.04 59.7,112.05 59.1,112.07 58.4,112.08 57.7,112.10 57.1,112.12 56.4,112.14 55.7,112.16 55.1,112.18 54.4,112.20 53.8,112.22 53.1,112.23 52.4,112.25 51.8,112.27 51.1,112.29 50.4,112.31 49.8,112.33 49.1,112.35 48.4,112.37 47.8,112.39 47.1,112.41 46.5,112.43 45.8,112.44 45.1,112.46 44.5,112.48 43.8,112.50 43.1,112.51 42.5,112.53 41.8,112.55 41.1,112.57 40.5,112.58 39.8,112.60 39.2,112.62 38.5,112.63 37.8,112.65 37.2,112.66 36.5,112.68 35.8,112.70 35.2,112.71 34.5,112.73 33.8,112.74 33.2,112.76 32.5,112.77 31.9,112.79 31.2,112.80 30.5,112.82 29.9,112.83 29.2,112.85 28.5,112.86 27.9,112.88 27.2,112.89"/>
</g>
<g>
<path class="ax" d="M210.70,5.46V122.88H365.37"/>
<text class="tl" x="206.10" y="115.25" text-anchor="end" textLength="2.9" lengthAdjust="spacingAndGlyphs">0</text>
<text class="tl" x="206.10" y="95.68" text-anchor="end" textLength="5.5" lengthAdjust="spacingAndGlyphs">20</text>
<text class="tl" x="206.10" y="76.11" text-anchor="end" textLength="5.5" lengthAdjust="spacingAndGlyphs">40</text>
<text class="tl" x="206.10" y="56.54" text-anchor="end" textLength="5.5" lengthAdjust="spacingAndGlyphs">60</text>
<text class="tl" x="206.10" y="36.97" text-anchor="end" textLength="5.5" lengthAdjust="spacingAndGlyphs">80</text>
<text class="tl" x="206.10" y="17.40" text-anchor="end" textLength="8.5" lengthAdjust="spacingAndGlyphs">100</text>
<text class="tl" x="227.77" y="132.38" text-anchor="middle" textLength="5.5" lengthAdjust="spacingAndGlyphs">10</text>
<text class="tl" x="255.39" y="132.38" text-anchor="middle" textLength="5.5" lengthAdjust="spacingAndGlyphs">20</text>
<text class="tl" x="283.01" y="132.38" text-anchor="middle" textLength="5.5" lengthAdjust="spacingAndGlyphs">30</text>
<text class="tl" x="310.63" y="132.38" text-anchor="middle" textLength="5.5" lengthAdjust="spacingAndGlyphs">40</text>
<text class="tl" x="338.25" y="132.38" text-anchor="middle" textLength="5.5" lengthAdjust="spacingAndGlyphs">50</text>
<text class="tl" x="365.87" y="132.38" text-anchor="middle" textLength="5.5" lengthAdjust="spacingAndGlyphs">60</text>
<path class="tk" d="M207.70,113.10H210.70M207.70,93.53H210.70M207.70,73.96H210.70M207.70,54.39H210.70M207.70,34.82H210.70M207.70,15.25H210.70M227.27,122.88v3.2M254.89,122.88v3.2M282.51,122.88v3.2M310.13,122.88v3.2M337.75,122.88v3.2M365.37,122.88v3.2"/>
<text class="t4" x="210.90" y="130.28" text-anchor="middle">4</text>
<text class="xl" x="288.12" y="143.78" text-anchor="middle" textLength="19.1" lengthAdjust="spacingAndGlyphs">t / min</text>
<text class="yl" transform="translate(194.50,64.17) rotate(-90)" text-anchor="middle" textLength="68.6" lengthAdjust="spacingAndGlyphs">Relative abundance / %</text>
<text class="tp" x="336.70" y="24.10">250°C</text>
<polygon class="bd" points="210.7,110.0 211.0,111.0 211.3,111.8 211.5,112.3 211.8,112.4 212.1,112.6 212.4,112.7 212.6,112.8 212.9,112.8 213.2,112.8 213.5,112.8 213.7,112.8 214.0,112.8 214.3,112.8 214.6,112.8 214.8,112.8 215.1,112.8 215.4,112.8 215.7,112.8 216.0,112.8 216.2,112.8 216.5,112.8 216.8,112.8 217.1,112.8 217.3,112.8 217.6,112.8 217.9,112.8 218.2,112.8 218.4,112.8 218.7,112.8 219.0,112.8 219.3,112.8 219.5,112.8 219.8,112.8 220.1,112.8 220.4,112.8 220.7,112.8 220.9,112.8 221.2,112.8 221.5,112.8 221.8,112.8 222.0,112.8 222.3,112.8 222.6,112.8 222.9,112.8 223.1,112.8 223.4,112.7 223.7,112.7 224.0,112.7 224.2,112.7 224.5,112.7 224.8,112.6 225.1,112.6 225.4,112.6 225.6,112.6 225.9,112.6 226.2,112.5 226.5,112.5 226.7,112.5 227.0,112.5 227.3,112.5 227.6,112.4 227.8,112.4 228.1,112.3 228.4,112.3 228.7,112.2 228.9,112.2 229.2,112.1 229.5,112.1 229.8,112.1 230.1,112.0 230.3,112.0 230.6,112.0 230.9,112.0 231.2,112.0 231.4,112.0 231.7,112.1 232.0,112.1 232.3,112.2 232.5,112.2 232.8,112.3 233.1,112.3 233.4,112.2 233.6,112.1 233.9,112.0 234.2,111.9 234.5,111.8 234.8,111.7 235.0,111.7 235.3,111.6 235.6,111.6 235.9,111.7 236.1,111.8 236.4,111.8 236.7,111.8 237.0,111.8 237.2,111.8 237.5,111.7 237.8,111.7 238.1,111.6 238.3,111.6 238.6,111.6 238.9,111.6 239.2,111.5 239.5,111.5 239.7,111.4 240.0,111.3 240.3,111.2 240.6,111.2 240.8,111.2 241.1,111.2 241.4,111.3 241.7,111.4 241.9,111.4 242.2,111.5 242.5,111.5 242.8,111.5 243.1,111.4 243.3,111.3 243.6,111.2 243.9,111.1 244.2,111.0 244.4,111.0 244.7,110.9 245.0,110.9 245.3,110.9 245.5,110.8 245.8,110.8 246.1,110.7 246.4,110.7 246.6,110.7 246.9,110.7 247.2,110.8 247.5,110.9 247.8,111.0 248.0,111.0 248.3,111.0 248.6,110.9 248.9,110.8 249.1,110.6 249.4,110.4 249.7,110.3 250.0,110.1 250.2,110.0 250.5,109.9 250.8,109.9 251.1,110.0 251.3,110.1 251.6,110.3 251.9,110.4 252.2,110.6 252.5,110.8 252.7,111.0 253.0,111.1 253.3,111.2 253.6,111.3 253.8,111.4 254.1,111.5 254.4,111.5 254.7,111.5 254.9,111.4 255.2,111.2 255.5,111.0 255.8,110.8 256.0,110.6 256.3,110.4 256.6,110.3 256.9,110.3 257.2,110.4 257.4,110.6 257.7,110.8 258.0,111.1 258.3,111.3 258.5,111.5 258.8,111.6 259.1,111.5 259.4,111.4 259.6,111.2 259.9,111.1 260.2,111.0 260.5,110.9 260.7,110.8 261.0,110.8 261.3,110.7 261.6,110.6 261.9,110.5 262.1,110.4 262.4,110.3 262.7,110.3 263.0,110.3 263.2,110.3 263.5,110.4 263.8,110.4 264.1,110.5 264.3,110.5 264.6,110.5 264.9,110.5 265.2,110.6 265.4,110.7 265.7,110.9 266.0,111.0 266.3,111.2 266.6,111.3 266.8,111.3 267.1,111.2 267.4,111.0 267.7,110.8 267.9,110.5 268.2,110.3 268.5,110.1 268.8,109.9 269.0,109.8 269.3,109.7 269.6,109.7 269.9,109.6 270.1,109.6 270.4,109.5 270.7,109.4 271.0,109.3 271.3,109.2 271.5,109.2 271.8,109.3 272.1,109.4 272.4,109.6 272.6,109.8 272.9,109.9 273.2,110.0 273.5,110.0 273.7,109.9 274.0,109.8 274.3,109.8 274.6,109.7 274.8,109.7 275.1,109.8 275.4,110.0 275.7,110.1 276.0,110.2 276.2,110.3 276.5,110.3 276.8,110.3 277.1,110.3 277.3,110.3 277.6,110.3 277.9,110.3 278.2,110.4 278.4,110.4 278.7,110.4 279.0,110.3 279.3,110.2 279.5,110.1 279.8,110.0 280.1,109.9 280.4,109.9 280.7,109.9 280.9,110.0 281.2,110.0 281.5,110.1 281.8,110.2 282.0,110.2 282.3,110.2 282.6,110.2 282.9,110.1 283.1,110.1 283.4,110.0 283.7,110.0 284.0,109.9 284.2,109.8 284.5,109.6 284.8,109.4 285.1,109.2 285.4,109.1 285.6,109.0 285.9,108.9 286.2,108.8 286.5,108.8 286.7,108.9 287.0,108.9 287.3,109.0 287.6,109.1 287.8,109.2 288.1,109.2 288.4,109.2 288.7,109.2 288.9,109.1 289.2,109.1 289.5,109.1 289.8,109.2 290.1,109.4 290.3,109.6 290.6,109.8 290.9,110.0 291.2,110.1 291.4,110.1 291.7,110.0 292.0,109.9 292.3,109.7 292.5,109.6 292.8,109.4 293.1,109.2 293.4,109.0 293.6,108.8 293.9,108.5 294.2,108.3 294.5,108.2 294.8,108.1 295.0,108.0 295.3,108.1 295.6,108.1 295.9,108.2 296.1,108.2 296.4,108.2 296.7,108.1 297.0,107.9 297.2,107.8 297.5,107.7 297.8,107.6 298.1,107.6 298.4,107.7 298.6,107.8 298.9,107.9 299.2,108.0 299.5,108.1 299.7,108.2 300.0,108.3 300.3,108.4 300.6,108.5 300.8,108.6 301.1,108.5 301.4,108.4 301.7,108.2 301.9,107.9 302.2,107.6 302.5,107.2 302.8,106.9 303.1,106.7 303.3,106.6 303.6,106.5 303.9,106.4 304.2,106.3 304.4,106.1 304.7,105.9 305.0,105.6 305.3,105.4 305.5,105.3 305.8,105.1 306.1,105.1 306.4,105.1 306.6,105.1 306.9,105.1 307.2,105.2 307.5,105.3 307.8,105.3 308.0,105.4 308.3,105.5 308.6,105.5 308.9,105.5 309.1,105.5 309.4,105.4 309.7,105.4 310.0,105.5 310.2,105.6 310.5,105.7 310.8,105.8 311.1,105.9 311.3,106.0 311.6,106.0 311.9,106.1 312.2,106.2 312.5,106.3 312.7,106.5 313.0,106.7 313.3,106.9 313.6,107.1 313.8,107.2 314.1,107.3 314.4,107.4 314.7,107.5 314.9,107.6 315.2,107.7 315.5,107.9 315.8,108.0 316.0,108.2 316.3,108.4 316.6,108.6 316.9,108.8 317.2,109.1 317.4,109.3 317.7,109.5 318.0,109.7 318.3,109.8 318.5,109.9 318.8,110.0 319.1,110.1 319.4,110.2 319.6,110.3 319.9,110.5 320.2,110.6 320.5,110.8 320.7,110.9 321.0,111.0 321.3,111.0 321.6,111.1 321.9,111.1 322.1,111.1 322.4,111.1 322.7,111.1 323.0,111.1 323.2,111.2 323.5,111.3 323.8,111.3 324.1,111.4 324.3,111.4 324.6,111.5 324.9,111.5 325.2,111.5 325.4,111.6 325.7,111.6 326.0,111.6 326.3,111.6 326.6,111.6 326.8,111.6 327.1,111.6 327.4,111.6 327.7,111.6 327.9,111.6 328.2,111.6 328.5,111.7 328.8,111.7 329.0,111.7 329.3,111.7 329.6,111.7 329.9,111.7 330.1,111.7 330.4,111.7 330.7,111.7 331.0,111.7 331.3,111.7 331.5,111.7 331.8,111.6 332.1,111.6 332.4,111.6 332.6,111.5 332.9,111.5 333.2,111.5 333.5,111.5 333.7,111.5 334.0,111.5 334.3,111.5 334.6,111.5 334.8,111.5 335.1,111.5 335.4,111.5 335.7,111.5 336.0,111.5 336.2,111.5 336.5,111.5 336.8,111.5 337.1,111.5 337.3,111.5 337.6,111.5 337.9,111.4 338.2,111.4 338.4,111.3 338.7,111.2 339.0,111.1 339.3,111.0 339.5,110.8 339.8,110.7 340.1,110.6 340.4,110.5 340.7,110.5 340.9,110.4 341.2,110.4 341.5,110.4 341.8,110.3 342.0,110.3 342.3,110.1 342.6,110.0 342.9,109.8 343.1,109.6 343.4,109.5 343.7,109.4 344.0,109.3 344.2,109.2 344.5,109.2 344.8,109.1 345.1,109.1 345.4,109.0 345.6,108.9 345.9,108.8 346.2,108.7 346.5,108.6 346.7,108.5 347.0,108.4 347.3,108.4 347.6,108.3 347.8,108.4 348.1,108.4 348.4,108.5 348.7,108.6 348.9,108.8 349.2,108.9 349.5,109.0 349.8,109.1 350.1,109.2 350.3,109.2 350.6,109.3 350.9,109.3 351.2,109.3 351.4,109.2 351.7,109.2 352.0,109.0 352.3,108.9 352.5,108.7 352.8,108.5 353.1,108.4 353.4,108.3 353.7,108.3 353.9,108.2 354.2,108.2 354.5,108.2 354.8,108.2 355.0,108.2 355.3,108.2 355.6,108.2 355.9,108.2 356.1,108.3 356.4,108.3 356.7,108.3 357.0,108.3 357.2,108.3 357.5,108.3 357.8,108.4 358.1,108.4 358.4,108.5 358.6,108.5 358.6,105.0 358.4,104.6 358.1,104.2 357.8,104.3 357.5,106.3 357.2,106.2 357.0,103.6 356.7,104.1 356.4,105.4 356.1,104.9 355.9,104.2 355.6,106.0 355.3,103.7 355.0,104.7 354.8,106.2 354.5,104.4 354.2,105.4 353.9,103.8 353.7,103.9 353.4,105.7 353.1,104.7 352.8,106.8 352.5,107.4 352.3,106.7 352.0,106.5 351.7,107.5 351.4,105.6 351.2,105.8 350.9,106.8 350.6,105.3 350.3,106.9 350.1,107.1 349.8,107.5 349.5,107.3 349.2,105.3 348.9,104.4 348.7,105.0 348.4,105.8 348.1,106.8 347.8,106.6 347.6,106.6 347.3,106.5 347.0,106.9 346.7,106.1 346.5,106.4 346.2,106.4 345.9,107.0 345.6,106.6 345.4,107.6 345.1,107.7 344.8,106.9 344.5,107.2 344.2,107.7 344.0,108.1 343.7,107.8 343.4,108.0 343.1,108.1 342.9,108.7 342.6,108.3 342.3,108.7 342.0,109.2 341.8,108.9 341.5,109.1 341.2,108.8 340.9,108.9 340.7,108.9 340.4,109.2 340.1,109.6 339.8,109.8 339.5,110.0 339.3,110.1 339.0,110.3 338.7,110.4 338.4,110.4 338.2,110.4 337.9,110.4 337.6,110.6 337.3,110.4 337.1,110.3 336.8,110.1 336.5,110.4 336.2,110.5 336.0,109.7 335.7,110.2 335.4,110.2 335.1,110.4 334.8,109.9 334.6,110.1 334.3,110.4 334.0,110.5 333.7,110.2 333.5,110.1 333.2,110.3 332.9,110.5 332.6,110.5 332.4,110.3 332.1,110.4 331.8,110.5 331.5,110.7 331.3,110.7 331.0,110.8 330.7,110.7 330.4,110.8 330.1,110.6 329.9,110.8 329.6,110.8 329.3,110.8 329.0,110.8 328.8,110.9 328.5,110.8 328.2,110.7 327.9,110.5 327.7,110.7 327.4,110.6 327.1,110.7 326.8,110.7 326.6,110.4 326.3,110.3 326.0,110.5 325.7,110.2 325.4,110.4 325.2,110.3 324.9,110.4 324.6,110.4 324.3,110.2 324.1,110.1 323.8,110.3 323.5,110.2 323.2,109.9 323.0,110.0 322.7,109.6 322.4,109.6 322.1,109.8 321.9,109.6 321.6,109.0 321.3,109.0 321.0,109.2 320.7,108.5 320.5,109.5 320.2,108.7 319.9,108.7 319.6,108.2 319.4,108.7 319.1,108.4 318.8,108.5 318.5,109.0 318.3,108.7 318.0,108.8 317.7,108.3 317.4,107.4 317.2,107.4 316.9,106.8 316.6,106.5 316.3,106.4 316.0,106.6 315.8,106.6 315.5,105.8 315.2,106.3 314.9,106.1 314.7,105.5 314.4,105.5 314.1,104.7 313.8,105.1 313.6,105.4 313.3,104.1 313.0,105.2 312.7,104.6 312.5,104.8 312.2,103.7 311.9,102.9 311.6,102.4 311.3,103.0 311.1,102.7 310.8,103.3 310.5,102.2 310.2,102.7 310.0,103.6 309.7,103.0 309.4,102.4 309.1,102.8 308.9,101.3 308.6,100.4 308.3,101.8 308.0,100.7 307.8,101.2 307.5,102.8 307.2,102.2 306.9,103.5 306.6,103.3 306.4,103.2 306.1,101.7 305.8,102.3 305.5,103.6 305.3,102.9 305.0,103.3 304.7,104.3 304.4,104.0 304.2,103.3 303.9,103.6 303.6,100.0 303.3,102.8 303.1,104.0 302.8,101.7 302.5,104.7 302.2,103.8 301.9,104.6 301.7,105.3 301.4,106.0 301.1,107.1 300.8,107.0 300.6,107.4 300.3,107.2 300.0,107.3 299.7,106.5 299.5,105.7 299.2,105.0 298.9,104.9 298.6,104.8 298.4,104.8 298.1,105.9 297.8,104.9 297.5,105.9 297.2,105.5 297.0,106.3 296.7,104.9 296.4,105.1 296.1,104.8 295.9,106.1 295.6,103.5 295.3,105.5 295.0,103.9 294.8,104.4 294.5,105.7 294.2,106.5 293.9,106.5 293.6,107.6 293.4,107.8 293.1,107.9 292.8,108.3 292.5,108.2 292.3,107.4 292.0,108.2 291.7,106.5 291.4,108.0 291.2,107.4 290.9,108.6 290.6,108.1 290.3,107.9 290.1,106.0 289.8,106.1 289.5,106.7 289.2,106.1 288.9,105.8 288.7,105.1 288.4,106.7 288.1,106.3 287.8,105.0 287.6,107.1 287.3,107.0 287.0,106.7 286.7,107.3 286.5,106.8 286.2,106.9 285.9,107.1 285.6,107.2 285.4,105.8 285.1,106.5 284.8,107.6 284.5,107.6 284.2,108.4 284.0,107.8 283.7,107.1 283.4,105.1 283.1,105.0 282.9,106.2 282.6,107.8 282.3,108.2 282.0,109.0 281.8,109.1 281.5,109.1 281.2,108.8 280.9,108.7 280.7,108.5 280.4,108.1 280.1,108.2 279.8,107.6 279.5,107.7 279.3,107.4 279.0,108.1 278.7,108.8 278.4,108.1 278.2,108.7 277.9,107.7 277.6,108.2 277.3,108.9 277.1,109.2 276.8,109.1 276.5,109.1 276.2,109.2 276.0,108.8 275.7,108.4 275.4,108.5 275.1,108.3 274.8,107.5 274.6,106.7 274.3,107.3 274.0,106.9 273.7,108.0 273.5,108.6 273.2,108.0 272.9,108.2 272.6,107.2 272.4,108.2 272.1,107.7 271.8,106.4 271.5,105.3 271.3,107.1 271.0,104.8 270.7,105.4 270.4,106.3 270.1,106.3 269.9,107.8 269.6,108.2 269.3,107.1 269.0,108.5 268.8,107.5 268.5,108.0 268.2,108.7 267.9,107.8 267.7,107.7 267.4,107.9 267.1,108.6 266.8,109.3 266.6,109.4 266.3,108.6 266.0,109.3 265.7,109.5 265.4,109.4 265.2,108.7 264.9,108.4 264.6,108.0 264.3,108.7 264.1,106.5 263.8,106.4 263.5,107.0 263.2,105.8 263.0,102.6 262.7,104.0 262.4,106.9 262.1,106.7 261.9,106.5 261.6,107.3 261.3,105.9 261.0,108.2 260.7,108.3 260.5,107.4 260.2,108.2 259.9,107.6 259.6,109.2 259.4,108.8 259.1,109.3 258.8,109.9 258.5,108.9 258.3,109.0 258.0,106.7 257.7,107.5 257.4,107.7 257.2,107.1 256.9,107.6 256.6,107.0 256.3,106.8 256.0,108.5 255.8,109.1 255.5,106.9 255.2,109.0 254.9,108.4 254.7,109.5 254.4,109.6 254.1,109.3 253.8,110.1 253.6,109.6 253.3,109.8 253.0,109.2 252.7,109.3 252.5,108.5 252.2,106.5 251.9,108.6 251.6,108.1 251.3,106.4 251.1,106.6 250.8,107.7 250.5,107.0 250.2,106.5 250.0,108.1 249.7,107.8 249.4,108.3 249.1,108.6 248.9,107.0 248.6,106.4 248.3,105.8 248.0,106.4 247.8,106.9 247.5,108.2 247.2,109.0 246.9,108.1 246.6,108.5 246.4,108.6 246.1,108.1 245.8,108.6 245.5,109.3 245.3,109.5 245.0,109.6 244.7,109.8 244.4,109.1 244.2,107.6 243.9,108.8 243.6,108.4 243.3,106.7 243.1,106.1 242.8,107.7 242.5,109.3 242.2,109.8 241.9,108.5 241.7,109.3 241.4,109.0 241.1,108.4 240.8,107.9 240.6,109.1 240.3,108.3 240.0,107.6 239.7,109.2 239.5,108.0 239.2,108.0 238.9,109.8 238.6,108.1 238.3,108.6 238.1,108.4 237.8,109.9 237.5,108.3 237.2,108.7 237.0,109.1 236.7,109.9 236.4,110.2 236.1,110.2 235.9,109.9 235.6,109.6 235.3,109.9 235.0,109.3 234.8,109.7 234.5,110.1 234.2,110.1 233.9,110.1 233.6,110.2 233.4,110.4 233.1,110.7 232.8,111.0 232.5,111.2 232.3,111.0 232.0,110.2 231.7,110.4 231.4,110.0 231.2,110.9 230.9,110.2 230.6,110.4 230.3,110.4 230.1,110.8 229.8,111.0 229.5,110.5 229.2,111.0 228.9,110.7 228.7,111.1 228.4,110.9 228.1,111.2 227.8,111.3 227.6,111.6 227.3,111.7 227.0,111.7 226.7,111.8 226.5,111.7 226.2,111.7 225.9,111.7 225.6,111.7 225.4,111.7 225.1,111.8 224.8,111.8 224.5,111.7 224.2,111.8 224.0,111.8 223.7,111.7 223.4,111.8 223.1,111.9 222.9,111.9 222.6,111.9 222.3,111.9 222.0,112.0 221.8,112.0 221.5,112.0 221.2,112.1 220.9,112.0 220.7,112.0 220.4,112.0 220.1,112.0 219.8,112.0 219.5,112.0 219.3,112.0 219.0,112.0 218.7,112.0 218.4,112.0 218.2,112.0 217.9,112.0 217.6,112.0 217.3,112.0 217.1,112.0 216.8,112.1 216.5,112.1 216.2,112.1 216.0,112.1 215.7,112.1 215.4,112.0 215.1,112.0 214.8,112.1 214.6,112.0 214.3,112.0 214.0,112.0 213.7,111.9 213.5,112.0 213.2,112.0 212.9,111.9 212.6,111.9 212.4,111.8 212.1,111.7 211.8,111.5 211.5,111.4 211.3,111.0 211.0,110.2 210.7,109.3"/>
<path class="gr" d="M211.69,112.0v-0.6M212.17,112.3v-1.1M212.47,112.4v-0.8M212.85,112.5v-0.4M213.02,112.5v-0.5M213.72,112.5v-0.3M214.31,112.5v-0.3M214.60,112.5v-0.4M214.90,112.5v-0.4M215.85,112.5v-0.3M216.45,112.5v-0.4M216.84,112.5v-0.5M217.41,112.5v-0.6M217.73,112.5v-0.3M219.41,112.5v-0.4M219.76,112.5v-0.4M220.17,112.4v-0.8M220.33,112.4v-1.0M220.64,112.4v-0.4M221.09,112.4v-0.2M221.94,112.4v-0.4M222.20,112.4v-0.3M223.47,112.4v-0.2M223.68,112.3v-0.2M224.11,112.3v-0.5M224.79,112.3v-0.2M225.10,112.3v-0.2M225.65,112.2v-0.2M226.48,112.2v-0.2M227.19,112.1v-0.3M227.53,112.1v-2.0M227.82,112.1v-0.3M228.08,112.1v-1.1M228.73,112.0v-2.0M228.85,112.0v-0.2M230.14,111.8v-0.8M230.37,111.8v-0.7M230.88,111.7v-1.5M231.10,111.7v-0.7M231.35,111.7v-0.2M231.77,111.6v-0.2M232.01,111.6v-0.5M232.38,111.6v-0.2M232.59,111.6v-0.2M232.90,111.5v-2.0M233.14,111.5v-0.5M233.56,111.5v-0.2M233.84,111.4v-1.0M234.21,111.4v-0.7M234.52,111.4v-0.3M234.78,111.4v-0.7M234.92,111.4v-1.1M235.34,111.3v-3.7M235.54,111.3v-2.5M235.91,111.3v-0.3M236.15,111.3v-0.6M236.56,111.2v-1.1M236.86,111.2v-0.2M237.16,111.2v-0.2M237.52,111.2v-2.2M237.84,111.1v-1.5M237.96,111.1v-2.2M238.42,111.1v-0.2M238.65,111.1v-0.6M239.02,111.1v-0.3M239.30,111.1v-1.2M239.70,111.0v-0.8M239.82,111.0v-0.3M240.17,111.0v-3.8M240.48,111.0v-1.0M240.79,111.0v-0.3M241.04,111.0v-0.2M241.52,110.9v-0.9M241.76,110.9v-1.3M241.99,110.9v-0.4M242.40,110.9v-0.7M242.75,110.9v-0.7M242.92,110.9v-0.5M243.17,110.8v-0.7M243.61,110.8v-0.2M243.94,110.8v-0.8M244.12,110.8v-0.4M244.42,110.8v-4.3M244.86,110.8v-0.4M245.06,110.8v-0.9M245.47,110.7v-0.4M245.70,110.7v-1.8M246.09,110.7v-0.4M246.36,110.7v-0.7M246.60,110.7v-0.3M246.87,110.7v-0.2M247.30,110.7v-0.4M247.55,110.6v-1.3M247.91,110.6v-0.2M248.18,110.6v-0.5M248.48,110.6v-0.8M248.80,110.6v-0.4M249.06,110.6v-0.8M249.37,110.6v-0.7M249.67,110.6v-0.4M249.98,110.5v-0.3M250.33,110.5v-0.2M250.56,110.5v-2.7M250.92,110.5v-1.4M251.07,110.5v-0.7M251.47,110.5v-0.5M251.67,110.5v-0.2M252.01,110.5v-0.3M252.29,110.5v-0.5M252.79,110.4v-0.8M252.93,110.4v-0.3M253.21,110.4v-0.4M253.49,110.4v-1.0M253.81,110.4v-1.6M254.15,110.4v-1.1M254.60,110.4v-0.7M254.77,110.4v-3.1M255.14,110.4v-1.5M255.29,110.3v-0.3M255.60,110.3v-1.9M256.12,110.3v-1.1M256.23,110.3v-0.9M256.66,110.3v-0.6M256.84,110.3v-1.7M257.30,110.3v-0.4M257.53,110.3v-1.0M257.84,110.2v-0.3M258.20,110.2v-0.3M258.48,110.2v-0.5M258.83,110.2v-0.5M258.97,110.2v-1.0M259.31,110.2v-4.6M259.59,110.2v-1.9M259.87,110.2v-0.4M260.25,110.2v-0.3M260.57,110.1v-1.2M260.82,110.1v-0.8M261.29,110.1v-1.5M261.41,110.1v-2.1M261.79,110.1v-0.5M261.99,110.1v-2.1M262.46,110.1v-1.1M262.82,110.1v-0.6M263.09,110.0v-3.9M263.25,110.0v-1.3M263.66,110.0v-2.7M263.95,110.0v-0.6M264.31,110.0v-0.5M264.59,110.0v-0.3M264.73,110.0v-2.2M265.14,110.0v-0.3M265.43,110.0v-0.2M265.75,110.0v-1.3M266.00,110.0v-1.1M266.39,109.9v-2.8M266.62,109.9v-0.3M267.04,109.9v-1.0M267.24,109.9v-0.4M267.65,109.9v-0.3M267.80,109.9v-0.2M268.30,109.9v-1.2M268.50,109.9v-0.6M268.75,109.9v-0.3M269.01,109.9v-3.1M269.42,109.9v-0.3M269.65,109.8v-1.4M270.05,109.8v-0.5M270.40,109.8v-0.5M270.62,109.8v-0.9M270.82,109.8v-0.3M271.23,109.8v-0.3M271.59,109.8v-0.3M271.90,109.8v-0.5M272.07,109.8v-0.6M272.52,109.8v-2.7M272.73,109.8v-1.6M272.97,109.8v-0.2M273.31,109.8v-0.6M273.57,109.8v-0.4M273.96,109.8v-0.5M274.26,109.8v-1.6M274.67,109.7v-0.3M274.80,109.7v-1.9M275.22,109.7v-0.5M275.51,109.7v-0.5M275.79,109.7v-0.2M275.98,109.7v-0.3M276.46,109.7v-0.3M276.80,109.7v-1.6M277.01,109.7v-1.8M277.19,109.7v-0.4M277.60,109.7v-0.2M277.89,109.7v-0.2M278.16,109.7v-3.0M278.61,109.7v-1.5M278.93,109.7v-1.8M279.22,109.7v-3.0M279.54,109.7v-2.0M279.76,109.7v-0.4M279.93,109.6v-0.3M280.29,109.6v-2.5M280.69,109.6v-1.2M281.07,109.6v-0.5M281.29,109.6v-0.4M281.57,109.6v-0.3M281.92,109.6v-0.5M282.06,109.6v-0.9M282.55,109.6v-0.9M282.73,109.6v-1.9M283.01,109.6v-2.7M283.35,109.6v-0.4M283.58,109.5v-1.0M283.89,109.5v-0.4M284.26,109.5v-1.0M284.57,109.5v-1.1M284.93,109.5v-0.4M285.30,109.5v-1.0M285.46,109.5v-0.3M285.70,109.5v-1.3M286.15,109.4v-0.6M286.55,109.4v-0.6M286.80,109.4v-0.8M287.07,109.4v-1.4M287.35,109.4v-0.4M287.68,109.4v-2.6M288.07,109.4v-7.2M288.18,109.4v-4.3M288.60,109.3v-0.6M288.79,109.3v-1.2M289.21,109.3v-0.4M289.49,109.3v-0.7M289.89,109.3v-0.3M290.04,109.2v-0.8M290.39,109.2v-0.3M290.71,109.2v-0.6M291.08,109.2v-1.3M291.21,109.2v-0.5M291.59,109.1v-2.1M292.01,109.1v-0.8M292.12,109.1v-0.6M292.53,109.0v-4.8M292.80,109.0v-0.5M293.24,109.0v-0.9M293.55,108.9v-0.5M293.85,108.9v-1.4M294.11,108.9v-0.6M294.27,108.8v-0.4M294.56,108.8v-2.9M295.07,108.7v-2.3M295.23,108.7v-1.4M295.64,108.7v-1.4M295.94,108.6v-0.5M296.25,108.6v-1.3M296.41,108.5v-2.9M296.89,108.4v-0.9M296.96,108.4v-0.3M297.29,108.4v-0.5M297.69,108.3v-1.2M297.92,108.3v-0.3M298.22,108.2v-0.8M298.55,108.1v-0.3M298.91,108.1v-1.8M299.26,108.0v-1.7M299.52,107.9v-0.9M299.93,107.8v-8.7M300.02,107.8v-3.3M300.39,107.7v-2.0M300.77,107.6v-1.8M301.15,107.4v-0.8M301.25,107.4v-1.1M301.72,107.2v-1.1M301.86,107.2v-0.8M302.21,107.0v-2.4M302.54,106.9v-0.6M302.79,106.8v-0.5M303.05,106.7v-0.5M303.48,106.5v-0.5M303.71,106.4v-1.4M304.18,106.2v-0.4M304.47,106.1v-1.3M304.75,106.0v-0.5M304.88,106.0v-4.2M305.33,105.8v-1.5M305.64,105.7v-0.6M306.01,105.5v-0.6M306.15,105.4v-0.5M306.44,105.3v-1.1M306.77,105.1v-3.4M307.12,105.0v-2.8M307.44,104.9v-1.8M307.61,104.9v-0.5M308.07,104.8v-4.4M308.29,104.8v-1.3M308.74,104.8v-1.5M309.05,104.8v-3.8M309.30,104.9v-2.0M309.43,104.9v-2.0M309.88,105.0v-0.4M310.06,105.0v-0.5M310.52,105.1v-1.0M310.79,105.2v-1.4M311.02,105.3v-1.8M311.48,105.4v-2.7M311.71,105.5v-2.5M311.86,105.5v-4.5M312.37,105.8v-0.8M312.54,105.8v-7.2M312.87,106.0v-0.5M313.17,106.2v-1.3M313.51,106.4v-10.9M313.89,106.6v-5.0M314.19,106.8v-0.9M314.40,107.0v-0.6M314.82,107.2v-2.4M315.01,107.4v-0.7M315.21,107.5v-0.4M315.64,107.7v-0.9M315.91,107.9v-1.1M316.34,108.2v-1.3M316.60,108.3v-0.4M316.95,108.5v-0.8M317.05,108.6v-1.5M317.47,108.9v-0.5M317.74,109.0v-1.5M317.95,109.2v-0.3M318.26,109.4v-1.2M318.57,109.5v-0.6M319.02,109.8v-0.9M319.17,109.9v-1.0M319.49,110.0v-0.3M319.89,110.2v-0.6M320.14,110.2v-6.5M320.46,110.3v-1.1M320.69,110.4v-0.8M321.16,110.6v-0.6M321.43,110.6v-0.4M321.69,110.7v-0.2M322.09,110.8v-0.5M322.24,110.9v-1.4M322.55,110.9v-0.5M322.96,111.0v-0.7M323.88,111.1v-0.4M324.06,111.1v-1.8M324.55,111.2v-0.2M324.68,111.2v-0.7M325.00,111.2v-0.4M325.43,111.2v-0.2M325.75,111.2v-0.2M326.07,111.3v-0.5M326.47,111.3v-1.6M326.91,111.3v-0.9M327.11,111.3v-0.5M327.44,111.3v-1.0M327.69,111.3v-0.3M328.46,111.3v-1.4M329.26,111.3v-0.5M329.85,111.3v-0.4M330.16,111.3v-0.2M330.46,111.3v-0.4M330.96,111.3v-0.2M331.24,111.3v-2.1M331.44,111.3v-0.3M332.05,111.3v-0.4M332.57,111.3v-0.3M332.86,111.3v-0.6M333.21,111.3v-0.2M333.48,111.3v-0.2M333.90,111.3v-1.3M334.30,111.2v-0.4M334.58,111.2v-0.3M334.77,111.2v-0.9M335.00,111.2v-0.2M335.29,111.2v-0.5M335.83,111.2v-0.6M335.98,111.2v-0.7M336.34,111.2v-0.5M336.57,111.1v-0.9M337.03,111.1v-0.8M337.13,111.1v-0.4M337.61,111.0v-2.3M337.87,111.0v-1.3M338.17,110.9v-0.6M338.41,110.9v-0.2M338.70,110.8v-1.0M339.16,110.7v-0.3M339.70,110.6v-0.7M339.89,110.5v-1.9M340.52,110.4v-0.3M340.95,110.3v-0.5M341.07,110.2v-2.2M341.69,110.0v-0.9M342.05,109.9v-0.7M342.40,109.8v-0.2M342.79,109.6v-4.9M342.92,109.5v-0.4M343.27,109.4v-0.3M343.72,109.2v-0.2M343.95,109.1v-0.3M344.11,109.1v-0.3M344.93,108.9v-0.5M345.08,108.8v-0.3M345.35,108.8v-0.4M345.74,108.7v-1.1M346.17,108.6v-0.8M346.24,108.6v-0.3M346.60,108.5v-1.4M346.98,108.4v-1.6M347.22,108.4v-0.4M347.68,108.3v-0.6M347.88,108.3v-0.3M348.26,108.3v-0.5M348.36,108.3v-0.6M348.68,108.2v-0.3M349.14,108.2v-0.7M349.42,108.2v-0.7M349.82,108.2v-0.4M350.10,108.1v-0.4M350.21,108.1v-0.8M350.59,108.1v-0.3M350.83,108.1v-1.6M351.16,108.1v-0.2M351.54,108.1v-2.2M351.87,108.1v-0.4M352.23,108.1v-0.4M352.48,108.0v-0.2M352.79,108.0v-0.2M352.99,108.0v-0.7M353.40,108.0v-1.3M353.72,108.0v-0.7M353.97,108.0v-0.3M354.14,108.0v-0.3M354.54,108.0v-0.3M354.79,108.0v-0.3M355.06,108.0v-1.3M355.41,108.0v-0.5M355.77,108.0v-1.0M355.98,108.0v-0.4M356.32,108.0v-0.2M356.62,108.0v-0.2M357.11,108.0v-0.2M357.38,108.0v-1.2M357.69,108.0v-0.5M358.01,108.0v-0.4M358.25,108.0v-0.6M358.59,108.0v-0.9"/>
<polygon class="tr" points="210.70,109.68 211.20,111.33 211.42,111.81 212.08,112.21 213.19,112.50 215.40,112.51 217.61,112.48 219.82,112.45 222.04,112.41 222.31,112.39 222.37,112.32 222.42,112.10 222.48,111.60 222.53,110.96 222.59,110.65 222.64,110.79 222.81,111.90 222.87,112.15 222.98,112.34 225.19,112.26 227.07,112.08 227.18,111.86 227.23,111.62 227.29,111.26 227.46,109.71 227.51,109.33 227.57,109.19 227.62,109.24 227.73,109.65 228.01,111.25 228.17,111.79 228.40,111.99 230.17,111.81 230.22,111.70 230.28,111.12 230.33,109.08 230.39,104.56 230.44,98.79 230.50,95.98 230.55,97.19 230.61,100.29 230.66,104.07 230.72,107.36 230.77,109.61 230.83,110.86 230.88,111.43 230.94,111.64 231.16,111.71 233.37,111.46 233.43,111.34 233.48,110.92 233.54,109.98 233.59,108.79 233.65,108.21 233.70,108.45 233.76,109.09 233.87,110.54 233.93,111.00 233.98,111.25 234.09,111.41 234.48,111.36 234.59,111.16 234.64,110.92 234.70,110.50 234.76,109.87 234.81,109.03 234.92,107.16 234.98,106.50 235.03,106.25 235.09,106.35 235.14,106.63 235.20,107.08 235.42,109.41 235.53,110.30 235.64,110.85 235.81,111.19 236.25,111.26 236.97,111.17 237.08,110.96 237.13,110.70 237.19,110.26 237.24,109.59 237.30,108.71 237.41,106.73 237.47,106.02 237.52,105.76 237.58,105.86 237.63,106.17 237.69,106.64 237.91,109.11 238.02,110.07 238.13,110.65 238.24,110.94 238.46,111.09 238.90,111.05 238.96,110.91 239.01,110.41 239.07,109.31 239.12,107.91 239.18,107.23 239.23,107.52 239.29,108.27 239.35,109.19 239.40,109.98 239.46,110.52 239.51,110.82 239.62,111.01 240.84,110.91 240.95,110.66 241.00,110.35 241.06,109.81 241.11,108.99 241.17,107.90 241.28,105.48 241.34,104.61 241.39,104.29 241.45,104.42 241.50,104.80 241.56,105.38 241.78,108.42 241.83,109.06 241.89,109.59 241.94,110.00 242.06,110.52 242.22,110.82 242.50,110.83 242.55,110.65 242.61,109.99 242.66,108.53 242.72,106.67 242.77,105.76 242.83,106.15 242.88,107.15 242.94,108.37 243.00,109.43 243.05,110.16 243.11,110.56 243.16,110.74 243.27,110.81 243.38,110.69 243.44,110.50 243.49,110.14 243.55,109.53 243.60,108.61 243.66,107.39 243.77,104.65 243.82,103.67 243.88,103.32 243.94,103.46 243.99,103.89 244.05,104.54 244.16,106.25 244.27,107.98 244.32,108.70 244.38,109.30 244.43,109.77 244.49,110.11 244.60,110.52 244.76,110.72 246.04,110.69 246.15,110.54 246.20,110.31 246.26,109.89 246.31,109.17 246.37,108.09 246.42,106.65 246.53,103.42 246.59,102.27 246.64,101.85 246.70,102.02 246.76,102.52 246.81,103.30 246.92,105.31 247.03,107.35 247.09,108.21 247.14,108.91 247.20,109.46 247.25,109.87 247.36,110.35 247.53,110.59 247.75,110.59 247.81,110.38 247.86,109.63 247.92,107.96 247.97,105.82 248.03,104.78 248.08,105.23 248.14,106.38 248.19,107.78 248.25,108.99 248.30,109.82 248.36,110.28 248.41,110.49 248.53,110.57 248.64,110.41 248.69,110.15 248.75,109.67 248.80,108.84 248.86,107.58 248.91,105.92 249.02,102.19 249.08,100.87 249.13,100.38 249.19,100.58 249.24,101.16 249.30,102.05 249.35,103.16 249.47,105.60 249.52,106.74 249.58,107.73 249.63,108.54 249.69,109.18 249.74,109.65 249.80,109.98 249.91,110.35 250.13,110.53 250.24,110.49 250.29,110.26 250.35,109.46 250.41,107.68 250.46,105.40 250.52,104.29 250.57,104.77 250.63,106.00 250.68,107.49 250.74,108.79 250.79,109.67 250.85,110.17 250.90,110.39 251.07,110.51 251.90,110.44 251.95,110.25 252.01,109.58 252.06,108.09 252.12,106.20 252.17,105.27 252.23,105.67 252.29,106.69 252.34,107.93 252.40,109.01 252.45,109.75 252.51,110.16 252.56,110.35 252.78,110.44 253.78,110.38 253.89,110.21 253.94,109.96 254.00,109.48 254.06,108.67 254.11,107.44 254.17,105.81 254.28,102.16 254.33,100.86 254.39,100.38 254.44,100.58 254.50,101.14 254.55,102.02 254.61,103.11 254.72,105.50 254.77,106.61 254.83,107.58 254.88,108.38 254.94,109.01 255.00,109.47 255.05,109.79 255.16,110.15 255.38,110.33 256.54,110.28 256.65,110.14 256.71,109.94 256.76,109.56 256.82,108.92 256.88,107.94 256.93,106.65 257.04,103.75 257.10,102.72 257.15,102.34 257.21,102.49 257.26,102.94 257.32,103.64 257.43,105.45 257.54,107.28 257.59,108.05 257.65,108.68 257.70,109.18 257.76,109.54 257.87,109.98 258.04,110.19 258.26,110.17 258.31,109.88 258.37,108.87 258.42,106.62 258.48,103.74 258.53,102.34 258.59,102.94 258.65,104.49 258.70,106.38 258.76,108.02 258.81,109.14 258.87,109.77 258.92,110.05 259.03,110.19 259.31,110.16 259.42,109.96 259.47,109.67 259.53,109.11 259.59,108.15 259.64,106.71 259.70,104.80 259.81,100.51 259.86,98.98 259.92,98.42 259.97,98.65 260.03,99.32 260.08,100.35 260.14,101.63 260.25,104.44 260.30,105.74 260.36,106.89 260.41,107.82 260.47,108.56 260.53,109.10 260.58,109.48 260.69,109.90 260.86,110.10 261.30,110.07 261.35,109.86 261.41,109.11 261.47,107.45 261.52,105.33 261.58,104.29 261.63,104.74 261.69,105.88 261.74,107.27 261.80,108.48 261.85,109.31 261.91,109.77 261.96,109.98 262.13,110.08 264.34,110.01 264.67,109.98 264.73,109.85 264.78,109.16 264.84,106.73 264.89,101.33 264.95,94.44 265.00,91.08 265.06,92.54 265.12,96.26 265.17,100.78 265.23,104.72 265.28,107.42 265.34,108.91 265.39,109.60 265.45,109.86 265.61,109.96 266.28,109.90 266.33,109.69 266.39,108.97 266.44,107.36 266.50,105.30 266.55,104.29 266.61,104.73 266.66,105.83 266.72,107.18 266.77,108.36 266.83,109.16 266.88,109.61 266.94,109.81 267.11,109.92 269.32,109.80 269.43,109.55 269.48,109.21 269.54,108.64 269.59,107.78 269.65,106.64 269.76,104.07 269.82,103.16 269.87,102.83 269.93,102.96 269.98,103.36 270.04,103.98 270.26,107.20 270.31,107.88 270.37,108.44 270.42,108.88 270.53,109.43 270.70,109.75 271.42,109.81 271.81,109.76 271.86,109.56 271.92,108.85 271.97,107.28 272.03,105.27 272.08,104.29 272.14,104.72 272.19,105.80 272.25,107.11 272.30,108.26 272.36,109.05 272.41,109.48 272.47,109.68 272.69,109.78 273.69,109.74 273.80,109.58 273.85,109.35 273.91,108.90 273.96,108.14 274.02,106.99 274.07,105.47 274.18,102.04 274.24,100.83 274.29,100.38 274.35,100.56 274.41,101.10 274.46,101.92 274.57,104.06 274.68,106.23 274.74,107.14 274.79,107.89 274.85,108.48 274.90,108.91 274.96,109.22 275.07,109.56 275.29,109.72 277.50,109.70 277.89,109.63 278.00,109.37 278.06,109.02 278.11,108.42 278.17,107.52 278.22,106.32 278.33,103.64 278.39,102.69 278.44,102.34 278.50,102.48 278.55,102.90 278.61,103.54 278.72,105.22 278.83,106.92 278.88,107.63 278.94,108.22 279.00,108.67 279.05,109.01 279.16,109.41 279.33,109.62 281.54,109.61 281.76,109.53 281.82,109.42 281.87,109.19 281.93,108.76 281.98,108.01 282.04,106.88 282.09,105.38 282.20,102.02 282.26,100.82 282.31,100.38 282.37,100.56 282.42,101.08 282.48,101.89 282.59,103.99 282.70,106.12 282.76,107.01 282.81,107.75 282.87,108.32 282.92,108.75 283.03,109.25 283.20,109.50 283.97,109.49 284.03,109.30 284.08,108.63 284.14,107.13 284.19,105.22 284.25,104.29 284.30,104.69 284.36,105.72 284.41,106.97 284.47,108.06 284.53,108.81 284.58,109.22 284.64,109.41 284.86,109.50 285.58,109.45 285.69,109.30 285.74,109.07 285.80,108.64 285.85,107.90 285.91,106.78 285.96,105.31 286.07,101.99 286.13,100.81 286.18,100.38 286.24,100.56 286.30,101.07 286.35,101.87 286.46,103.94 286.57,106.03 286.63,106.91 286.68,107.63 286.74,108.20 286.79,108.61 286.90,109.11 287.07,109.35 289.28,109.29 289.78,109.19 289.83,109.07 289.89,108.82 289.94,108.35 290.00,107.55 290.06,106.34 290.11,104.74 290.22,101.15 290.28,99.87 290.33,99.40 290.39,99.59 290.44,100.15 290.50,101.01 290.55,102.08 290.66,104.42 290.72,105.51 290.77,106.46 290.83,107.25 290.88,107.86 290.94,108.31 291.00,108.63 291.11,108.98 291.33,109.14 291.99,109.05 292.05,108.82 292.10,108.01 292.16,106.22 292.21,103.94 292.27,102.83 292.32,103.30 292.38,104.53 292.43,106.02 292.49,107.31 292.54,108.20 292.60,108.69 292.65,108.91 292.82,109.01 293.32,108.93 293.43,108.73 293.48,108.44 293.54,107.89 293.59,106.96 293.65,105.55 293.71,103.68 293.82,99.49 293.87,98.00 293.93,97.44 293.98,97.66 294.04,98.31 294.09,99.31 294.15,100.55 294.26,103.28 294.31,104.54 294.37,105.65 294.42,106.56 294.48,107.27 294.53,107.79 294.59,108.16 294.70,108.56 294.87,108.73 295.03,108.64 295.09,108.48 295.14,108.15 295.20,107.51 295.25,106.44 295.31,104.81 295.36,102.66 295.42,100.20 295.47,97.84 295.53,96.12 295.59,95.49 295.64,95.74 295.70,96.48 295.75,97.63 295.81,99.06 295.92,102.20 295.97,103.66 296.03,104.93 296.08,105.98 296.14,106.79 296.19,107.39 296.25,107.82 296.30,108.10 296.41,108.38 296.69,108.48 296.97,108.37 297.02,108.03 297.08,106.87 297.13,104.29 297.19,101.00 297.24,99.40 297.30,100.08 297.36,101.84 297.41,103.98 297.47,105.85 297.52,107.12 297.58,107.82 297.63,108.14 297.74,108.28 298.30,108.16 298.41,107.98 298.46,107.73 298.52,107.26 298.57,106.47 298.63,105.28 298.68,103.70 298.79,100.16 298.85,98.89 298.90,98.42 298.96,98.60 299.01,99.14 299.07,99.98 299.12,101.02 299.24,103.30 299.29,104.37 299.35,105.29 299.40,106.05 299.46,106.64 299.51,107.08 299.57,107.38 299.68,107.70 299.90,107.82 300.23,107.73 300.29,107.65 300.34,107.28 300.40,106.02 300.45,103.23 300.51,99.67 300.56,97.93 300.62,98.66 300.67,100.55 300.73,102.86 300.78,104.86 300.84,106.23 300.89,106.98 300.95,107.31 301.06,107.45 301.89,107.13 302.00,106.92 302.06,106.65 302.11,106.16 302.17,105.33 302.22,104.09 302.28,102.44 302.39,98.77 302.44,97.45 302.50,96.95 302.55,97.13 302.61,97.68 302.66,98.53 302.72,99.59 302.83,101.93 302.89,103.02 302.94,103.97 303.00,104.74 303.05,105.34 303.11,105.78 303.16,106.09 303.27,106.41 303.49,106.50 304.27,106.18 304.32,105.92 304.38,104.57 304.43,99.85 304.49,89.41 304.54,76.06 304.60,69.56 304.65,72.35 304.71,79.52 304.77,88.25 304.82,95.86 304.88,101.05 304.93,103.92 304.99,105.23 305.04,105.71 305.10,105.85 305.21,105.85 305.26,105.77 305.32,105.45 305.37,104.36 305.43,101.98 305.48,98.94 305.54,97.44 305.59,98.05 305.65,99.66 305.71,101.61 305.76,103.31 305.82,104.46 305.87,105.09 305.93,105.36 306.04,105.46 307.03,105.03 307.09,104.89 307.14,104.22 307.20,101.92 307.25,96.84 307.31,90.34 307.36,87.17 307.42,88.52 307.47,92.00 307.53,96.24 307.59,99.94 307.64,102.46 307.70,103.85 307.75,104.49 307.81,104.72 307.97,104.79 308.03,104.73 308.08,104.38 308.14,103.19 308.19,100.53 308.25,97.14 308.30,95.49 308.36,96.20 308.42,98.03 308.47,100.26 308.53,102.20 308.58,103.53 308.64,104.27 308.69,104.61 308.80,104.79 309.08,104.83 309.13,104.77 309.19,104.44 309.24,103.24 309.30,100.56 309.36,97.15 309.41,95.49 309.47,96.22 309.52,98.08 309.58,100.34 309.63,102.32 309.69,103.67 309.74,104.42 309.80,104.78 309.91,104.97 310.24,105.03 310.30,104.83 310.35,104.11 310.41,102.48 310.46,100.40 310.52,99.40 310.57,99.86 310.63,101.00 310.68,102.39 310.74,103.61 310.79,104.44 310.85,104.92 310.90,105.14 311.07,105.30 311.12,105.28 311.18,105.01 311.24,103.47 311.29,98.00 311.35,85.80 311.40,70.13 311.46,62.22 311.51,64.76 311.57,71.88 311.62,80.15 311.68,86.48 311.73,89.64 311.79,90.23 311.84,89.75 311.90,89.62 311.95,90.14 312.01,91.10 312.06,92.52 312.12,94.25 312.23,98.06 312.29,99.83 312.34,101.38 312.40,102.66 312.45,103.62 312.51,104.10 312.56,103.70 312.62,101.98 312.67,99.56 312.73,98.42 312.78,99.10 312.84,100.62 312.89,102.43 312.95,104.00 313.00,105.09 313.06,105.70 313.12,106.00 313.23,106.20 313.50,106.37 313.56,106.33 313.61,105.76 313.67,102.47 313.72,90.76 313.78,64.72 313.83,31.43 313.89,15.25 313.95,22.31 314.00,40.28 314.06,61.68 314.11,78.05 314.17,81.43 314.22,67.16 314.28,42.99 314.33,30.91 314.39,37.15 314.44,52.16 314.50,70.29 314.55,86.08 314.61,96.88 314.66,102.90 314.72,105.67 314.77,106.75 314.83,107.12 314.94,107.31 315.44,107.61 315.49,107.58 315.55,107.28 315.60,106.10 315.66,103.45 315.71,100.06 315.77,98.42 315.83,99.18 315.88,101.06 315.94,103.34 315.99,105.33 316.05,106.71 316.10,107.48 316.16,107.86 316.27,108.10 316.54,108.27 316.60,108.21 316.65,107.76 316.71,106.06 316.77,102.24 316.82,97.36 316.88,95.00 316.93,96.07 316.99,98.76 317.04,102.03 317.10,104.88 317.15,106.84 317.21,107.95 317.26,108.47 317.32,108.70 317.59,108.95 317.71,108.92 317.76,108.46 317.82,106.73 317.87,102.85 317.93,97.89 317.98,95.49 318.04,96.58 318.09,99.31 318.15,102.62 318.20,105.52 318.26,107.51 318.31,108.63 318.37,109.16 318.42,109.38 318.70,109.62 319.09,109.76 319.14,109.51 319.20,108.56 319.25,106.41 319.31,103.66 319.36,102.34 319.42,102.95 319.48,104.47 319.53,106.31 319.59,107.93 319.64,109.03 319.70,109.66 319.75,109.96 319.86,110.13 320.47,110.31 320.53,110.18 320.58,109.66 320.64,108.48 320.69,106.98 320.75,106.25 320.80,106.59 320.86,107.43 320.91,108.45 320.97,109.34 321.02,109.95 321.08,110.30 321.19,110.55 322.13,110.81 322.18,110.74 322.24,110.48 322.30,109.86 322.35,109.07 322.41,108.70 322.46,108.88 322.63,110.33 322.68,110.66 322.79,110.93 324.12,111.15 326.33,111.27 328.54,111.33 329.32,111.31 329.37,111.16 329.43,110.63 329.48,109.46 329.54,107.96 329.59,107.23 329.65,107.54 329.71,108.35 329.76,109.34 329.82,110.20 329.87,110.78 329.93,111.11 330.04,111.31 332.25,111.31 334.46,111.24 336.67,111.13 338.89,110.79 341.10,110.24 343.31,109.38 345.13,108.82 347.35,108.39 349.56,108.17 351.77,108.07 353.98,108.01 356.19,108.01 358.41,108.01 358.63,108.01 358.6,108.01 358.0,108.01 357.3,108.01 356.6,108.01 356.0,108.01 355.3,108.01 354.6,108.01 354.0,108.01 353.3,108.02 352.7,108.04 352.0,108.06 351.3,108.08 350.7,108.11 350.0,108.15 349.3,108.18 348.7,108.23 348.0,108.29 347.3,108.39 346.7,108.50 346.0,108.63 345.4,108.77 344.7,108.92 344.0,109.11 343.4,109.36 342.7,109.63 342.0,109.90 341.4,110.15 340.7,110.35 340.0,110.51 339.4,110.67 338.7,110.82 338.1,110.95 337.4,111.06 336.7,111.13 336.1,111.17 335.4,111.20 334.7,111.23 334.1,111.25 333.4,111.28 332.7,111.29 332.1,111.31 331.4,111.32 330.8,111.33 330.1,111.34 329.4,111.34 328.8,111.33 328.1,111.32 327.4,111.31 326.8,111.28 326.1,111.26 325.4,111.22 324.8,111.19 324.1,111.15 323.5,111.08 322.8,110.97 322.1,110.83 321.5,110.65 320.8,110.45 320.1,110.24 319.5,110.00 318.8,109.68 318.1,109.30 317.5,108.88 316.8,108.46 316.2,108.04 315.5,107.65 314.8,107.24 314.2,106.81 313.5,106.38 312.8,105.99 312.2,105.67 311.5,105.43 310.8,105.24 310.2,105.06 309.5,104.91 308.9,104.81 308.2,104.79 307.5,104.89 306.9,105.11 306.2,105.40 305.5,105.71 304.9,105.99 304.2,106.24 303.5,106.49 302.9,106.76 302.2,107.03 301.6,107.28 300.9,107.52 300.2,107.74 299.6,107.92 298.9,108.07 298.2,108.20 297.6,108.33 296.9,108.44 296.2,108.56 295.6,108.66 294.9,108.76 294.3,108.85 293.6,108.93 292.9,109.00 292.3,109.07 291.6,109.13 290.9,109.18 290.3,109.23 289.6,109.27 288.9,109.31 288.3,109.35 287.6,109.38 287.0,109.41 286.3,109.44 285.6,109.47 285.0,109.50 284.3,109.52 283.6,109.54 283.0,109.57 282.3,109.59 281.6,109.60 281.0,109.62 280.3,109.64 279.7,109.65 279.0,109.67 278.3,109.68 277.7,109.69 277.0,109.71 276.3,109.72 275.7,109.73 275.0,109.74 274.4,109.75 273.7,109.77 273.0,109.78 272.4,109.79 271.7,109.80 271.0,109.82 270.4,109.83 269.7,109.85 269.0,109.86 268.4,109.88 267.7,109.90 267.1,109.92 266.4,109.94 265.7,109.96 265.1,109.98 264.4,110.00 263.7,110.03 263.1,110.05 262.4,110.07 261.7,110.10 261.1,110.12 260.4,110.15 259.8,110.17 259.1,110.20 258.4,110.22 257.8,110.25 257.1,110.28 256.4,110.30 255.8,110.33 255.1,110.35 254.4,110.38 253.8,110.40 253.1,110.43 252.5,110.46 251.8,110.48 251.1,110.51 250.5,110.53 249.8,110.56 249.1,110.58 248.5,110.61 247.8,110.64 247.1,110.66 246.5,110.69 245.8,110.72 245.2,110.75 244.5,110.78 243.8,110.81 243.2,110.84 242.5,110.87 241.8,110.91 241.2,110.94 240.5,110.98 239.8,111.02 239.2,111.06 238.5,111.10 237.9,111.15 237.2,111.19 236.5,111.24 235.9,111.29 235.2,111.34 234.5,111.39 233.9,111.45 233.2,111.50 232.5,111.56 231.9,111.63 231.2,111.70 230.6,111.78 229.9,111.86 229.2,111.94 228.6,112.01 227.9,112.07 227.2,112.13 226.6,112.17 225.9,112.22 225.2,112.26 224.6,112.30 223.9,112.34 223.3,112.37 222.6,112.39 221.9,112.41 221.3,112.42 220.6,112.44 219.9,112.45 219.3,112.46 218.6,112.47 217.9,112.48 217.3,112.49 216.6,112.50 216.0,112.50 215.3,112.51 214.6,112.51 214.0,112.51 213.3,112.51 212.6,112.41 212.0,112.16 211.3,111.61"/>
</g>
<g>
<path class="ax" d="M387.40,5.46V122.88H542.86"/>
<text class="tl" x="382.80" y="115.25" text-anchor="end" textLength="2.9" lengthAdjust="spacingAndGlyphs">0</text>
<text class="tl" x="382.80" y="95.68" text-anchor="end" textLength="5.5" lengthAdjust="spacingAndGlyphs">20</text>
<text class="tl" x="382.80" y="76.11" text-anchor="end" textLength="5.5" lengthAdjust="spacingAndGlyphs">40</text>
<text class="tl" x="382.80" y="56.54" text-anchor="end" textLength="5.5" lengthAdjust="spacingAndGlyphs">60</text>
<text class="tl" x="382.80" y="36.97" text-anchor="end" textLength="5.5" lengthAdjust="spacingAndGlyphs">80</text>
<text class="tl" x="382.80" y="17.40" text-anchor="end" textLength="8.5" lengthAdjust="spacingAndGlyphs">100</text>
<text class="tl" x="404.56" y="132.38" text-anchor="middle" textLength="5.5" lengthAdjust="spacingAndGlyphs">10</text>
<text class="tl" x="432.32" y="132.38" text-anchor="middle" textLength="5.5" lengthAdjust="spacingAndGlyphs">20</text>
<text class="tl" x="460.08" y="132.38" text-anchor="middle" textLength="5.5" lengthAdjust="spacingAndGlyphs">30</text>
<text class="tl" x="487.84" y="132.38" text-anchor="middle" textLength="5.5" lengthAdjust="spacingAndGlyphs">40</text>
<text class="tl" x="515.60" y="132.38" text-anchor="middle" textLength="5.5" lengthAdjust="spacingAndGlyphs">50</text>
<text class="tl" x="543.36" y="132.38" text-anchor="middle" textLength="5.5" lengthAdjust="spacingAndGlyphs">60</text>
<path class="tk" d="M384.40,113.10H387.40M384.40,93.53H387.40M384.40,73.96H387.40M384.40,54.39H387.40M384.40,34.82H387.40M384.40,15.25H387.40M404.06,122.88v3.2M431.82,122.88v3.2M459.58,122.88v3.2M487.34,122.88v3.2M515.10,122.88v3.2M542.86,122.88v3.2"/>
<text class="t4" x="387.60" y="130.28" text-anchor="middle">4</text>
<text class="xl" x="464.82" y="143.78" text-anchor="middle" textLength="19.1" lengthAdjust="spacingAndGlyphs">t / min</text>
<text class="yl" transform="translate(371.20,64.17) rotate(-90)" text-anchor="middle" textLength="68.6" lengthAdjust="spacingAndGlyphs">Relative abundance / %</text>
<text class="tp" x="512.60" y="21.20">300°C</text>
<polygon class="bd" points="387.4,113.1 387.7,113.1 388.0,113.1 388.2,113.0 388.5,113.0 388.8,113.0 389.1,112.9 389.3,112.9 389.6,112.8 389.9,112.8 390.2,112.7 390.4,112.7 390.7,112.7 391.0,112.6 391.3,112.6 391.5,112.5 391.8,112.5 392.1,112.4 392.4,112.4 392.7,112.4 392.9,112.3 393.2,112.2 393.5,112.1 393.8,112.0 394.0,112.0 394.3,111.9 394.6,111.8 394.9,111.7 395.1,111.7 395.4,111.6 395.7,111.5 396.0,111.4 396.2,111.3 396.5,111.2 396.8,111.1 397.1,111.0 397.4,110.9 397.6,110.8 397.9,110.7 398.2,110.6 398.5,110.5 398.7,110.4 399.0,110.4 399.3,110.3 399.6,110.2 399.8,110.0 400.1,109.9 400.4,109.8 400.7,109.7 400.9,109.5 401.2,109.4 401.5,109.3 401.8,109.2 402.1,109.1 402.3,108.9 402.6,108.7 402.9,108.5 403.2,108.2 403.4,108.0 403.7,107.8 404.0,107.7 404.3,107.5 404.5,107.3 404.8,107.2 405.1,107.0 405.4,106.7 405.6,106.5 405.9,106.3 406.2,106.1 406.5,105.9 406.8,105.8 407.0,105.7 407.3,105.6 407.6,105.5 407.9,105.3 408.1,105.1 408.4,104.9 408.7,104.6 409.0,104.4 409.2,104.2 409.5,104.0 409.8,103.8 410.1,103.6 410.3,103.4 410.6,103.2 410.9,103.0 411.2,102.8 411.5,102.6 411.7,102.4 412.0,102.2 412.3,102.0 412.6,101.9 412.8,101.7 413.1,101.5 413.4,101.3 413.7,100.9 413.9,100.3 414.2,99.5 414.5,98.6 414.8,97.7 415.0,96.9 415.3,96.2 415.6,95.8 415.9,95.5 416.2,95.5 416.4,95.5 416.7,95.6 417.0,95.7 417.3,95.6 417.5,95.4 417.8,95.1 418.1,94.7 418.4,94.2 418.6,93.7 418.9,93.2 419.2,92.7 419.5,92.2 419.8,92.0 420.0,91.9 420.3,92.0 420.6,92.2 420.9,92.4 421.1,92.5 421.4,92.4 421.7,92.0 422.0,91.4 422.2,90.7 422.5,90.0 422.8,89.4 423.1,89.0 423.3,88.7 423.6,88.5 423.9,88.4 424.2,88.3 424.5,88.1 424.7,88.0 425.0,87.9 425.3,87.8 425.6,87.8 425.8,87.9 426.1,87.9 426.4,88.0 426.7,88.0 426.9,88.1 427.2,88.3 427.5,88.5 427.8,88.8 428.0,89.1 428.3,89.4 428.6,89.6 428.9,89.8 429.2,89.9 429.4,90.0 429.7,90.1 430.0,90.2 430.3,90.2 430.5,90.3 430.8,90.4 431.1,90.6 431.4,90.8 431.6,91.0 431.9,91.2 432.2,91.5 432.5,91.8 432.7,92.1 433.0,92.5 433.3,92.8 433.6,93.1 433.9,93.4 434.1,93.6 434.4,93.8 434.7,93.9 435.0,94.0 435.2,94.0 435.5,94.0 435.8,93.9 436.1,93.8 436.3,93.8 436.6,93.9 436.9,94.2 437.2,94.5 437.4,94.8 437.7,95.2 438.0,95.6 438.3,96.0 438.6,96.3 438.8,96.5 439.1,96.6 439.4,96.6 439.7,96.6 439.9,96.5 440.2,96.4 440.5,96.3 440.8,96.4 441.0,96.6 441.3,96.9 441.6,97.2 441.9,97.4 442.1,97.7 442.4,97.8 442.7,98.0 443.0,98.1 443.3,98.3 443.5,98.4 443.8,98.5 444.1,98.7 444.4,98.8 444.6,98.8 444.9,98.9 445.2,99.0 445.5,99.2 445.7,99.3 446.0,99.4 446.3,99.5 446.6,99.6 446.8,99.7 447.1,99.9 447.4,100.2 447.7,100.5 448.0,100.9 448.2,101.2 448.5,101.5 448.8,101.7 449.1,101.9 449.3,102.0 449.6,102.0 449.9,102.1 450.2,102.2 450.4,102.3 450.7,102.4 451.0,102.5 451.3,102.7 451.5,102.8 451.8,102.9 452.1,103.0 452.4,103.1 452.7,103.1 452.9,103.2 453.2,103.3 453.5,103.4 453.8,103.5 454.0,103.7 454.3,103.8 454.6,104.0 454.9,104.1 455.1,104.2 455.4,104.3 455.7,104.4 456.0,104.6 456.2,104.8 456.5,105.1 456.8,105.3 457.1,105.6 457.4,105.7 457.6,105.8 457.9,105.8 458.2,105.7 458.5,105.6 458.7,105.5 459.0,105.5 459.3,105.6 459.6,105.7 459.8,105.9 460.1,106.1 460.4,106.3 460.7,106.4 460.9,106.5 461.2,106.5 461.5,106.5 461.8,106.5 462.1,106.6 462.3,106.7 462.6,106.8 462.9,107.0 463.2,107.2 463.4,107.4 463.7,107.5 464.0,107.6 464.3,107.5 464.5,107.4 464.8,107.3 465.1,107.1 465.4,107.0 465.6,106.9 465.9,106.8 466.2,106.7 466.5,106.8 466.8,106.8 467.0,107.0 467.3,107.1 467.6,107.2 467.9,107.4 468.1,107.5 468.4,107.5 468.7,107.5 469.0,107.5 469.2,107.4 469.5,107.3 469.8,107.3 470.1,107.2 470.3,107.2 470.6,107.2 470.9,107.3 471.2,107.4 471.5,107.6 471.7,107.7 472.0,107.8 472.3,107.9 472.6,108.0 472.8,108.2 473.1,108.3 473.4,108.3 473.7,108.4 473.9,108.4 474.2,108.3 474.5,108.3 474.8,108.3 475.1,108.3 475.3,108.4 475.6,108.5 475.9,108.6 476.2,108.6 476.4,108.6 476.7,108.5 477.0,108.5 477.3,108.4 477.5,108.3 477.8,108.2 478.1,108.3 478.4,108.3 478.6,108.3 478.9,108.3 479.2,108.2 479.5,108.1 479.8,108.0 480.0,107.9 480.3,107.7 480.6,107.6 480.9,107.5 481.1,107.3 481.4,107.1 481.7,106.9 482.0,106.7 482.2,106.5 482.5,106.4 482.8,106.4 483.1,106.3 483.3,106.3 483.6,106.3 483.9,106.2 484.2,106.2 484.5,106.1 484.7,106.1 485.0,106.1 485.3,106.1 485.6,106.2 485.8,106.3 486.1,106.4 486.4,106.4 486.7,106.5 486.9,106.6 487.2,106.6 487.5,106.6 487.8,106.6 488.0,106.5 488.3,106.4 488.6,106.3 488.9,106.2 489.2,106.1 489.4,106.1 489.7,106.1 490.0,106.0 490.3,106.0 490.5,106.1 490.8,106.1 491.1,106.3 491.4,106.6 491.6,106.9 491.9,107.3 492.2,107.7 492.5,108.0 492.7,108.2 493.0,108.3 493.3,108.4 493.6,108.5 493.9,108.7 494.1,108.8 494.4,109.1 494.7,109.3 495.0,109.6 495.2,109.8 495.5,110.0 495.8,110.2 496.1,110.2 496.3,110.3 496.6,110.3 496.9,110.3 497.2,110.3 497.4,110.4 497.7,110.5 498.0,110.5 498.3,110.6 498.6,110.6 498.8,110.6 499.1,110.6 499.4,110.7 499.7,110.7 499.9,110.8 500.2,110.9 500.5,111.0 500.8,111.1 501.0,111.1 501.3,111.2 501.6,111.2 501.9,111.1 502.1,111.1 502.4,111.0 502.7,111.0 503.0,111.0 503.3,111.0 503.5,111.0 503.8,111.0 504.1,111.0 504.4,111.0 504.6,110.9 504.9,110.8 505.2,110.7 505.5,110.6 505.7,110.4 506.0,110.2 506.3,110.0 506.6,109.9 506.8,109.7 507.1,109.6 507.4,109.5 507.7,109.5 508.0,109.5 508.2,109.5 508.5,109.5 508.8,109.4 509.1,109.3 509.3,109.2 509.6,109.1 509.9,108.9 510.2,108.8 510.4,108.7 510.7,108.7 511.0,108.7 511.3,108.7 511.5,108.7 511.8,108.8 512.1,108.8 512.4,108.9 512.7,108.9 512.9,108.9 513.2,108.9 513.5,108.9 513.8,108.8 514.0,108.8 514.3,108.6 514.6,108.5 514.9,108.3 515.1,108.1 515.4,107.9 515.7,107.8 516.0,107.6 516.2,107.5 516.5,107.3 516.8,107.2 517.1,106.9 517.4,106.7 517.6,106.4 517.9,106.1 518.2,105.9 518.5,105.6 518.7,105.3 519.0,105.0 519.3,104.8 519.6,104.5 519.8,104.4 520.1,104.2 520.4,104.1 520.7,104.1 520.9,104.0 521.2,104.0 521.5,104.0 521.8,104.0 522.1,104.0 522.3,104.1 522.6,104.2 522.9,104.2 523.2,104.3 523.4,104.3 523.7,104.3 524.0,104.3 524.3,104.3 524.5,104.3 524.8,104.4 525.1,104.4 525.4,104.5 525.6,104.5 525.9,104.5 526.2,104.4 526.5,104.4 526.8,104.3 527.0,104.3 527.3,104.3 527.6,104.4 527.9,104.4 528.1,104.4 528.4,104.5 528.7,104.4 529.0,104.3 529.2,104.2 529.5,104.1 529.8,104.0 530.1,103.8 530.4,103.7 530.6,103.6 530.9,103.4 531.2,103.3 531.5,103.1 531.7,103.0 532.0,103.0 532.3,103.0 532.6,103.2 532.8,103.3 533.1,103.6 533.4,103.8 533.7,104.1 533.9,104.3 534.2,104.5 534.5,104.8 534.8,104.9 535.1,105.1 535.3,105.2 535.3,101.4 535.1,97.3 534.8,100.5 534.5,101.5 534.2,101.4 533.9,101.7 533.7,102.8 533.4,101.7 533.1,100.8 532.8,101.2 532.6,100.6 532.3,98.9 532.0,99.5 531.7,101.4 531.5,100.9 531.2,101.9 530.9,101.8 530.6,102.5 530.4,102.0 530.1,102.3 529.8,101.5 529.5,100.6 529.2,102.0 529.0,99.9 528.7,101.7 528.4,101.1 528.1,101.0 527.9,101.2 527.6,101.7 527.3,101.2 527.0,100.4 526.8,100.0 526.5,97.5 526.2,100.0 525.9,98.7 525.6,99.8 525.4,102.4 525.1,100.1 524.8,100.4 524.5,100.6 524.3,99.0 524.0,101.7 523.7,101.8 523.4,101.7 523.2,100.9 522.9,101.9 522.6,99.4 522.3,99.9 522.1,100.1 521.8,99.3 521.5,101.2 521.2,101.0 520.9,102.4 520.7,101.7 520.4,101.8 520.1,102.6 519.8,100.9 519.6,100.4 519.3,100.8 519.0,101.0 518.7,101.5 518.5,102.1 518.2,101.9 517.9,104.4 517.6,104.0 517.4,105.1 517.1,105.4 516.8,106.0 516.5,105.3 516.2,104.4 516.0,105.6 515.7,104.9 515.4,103.6 515.1,103.4 514.9,104.4 514.6,105.2 514.3,107.5 514.0,107.8 513.8,107.7 513.5,107.1 513.2,106.6 512.9,107.1 512.7,107.3 512.4,106.2 512.1,105.9 511.8,106.8 511.5,107.1 511.3,105.0 511.0,106.3 510.7,104.4 510.4,106.7 510.2,106.6 509.9,106.6 509.6,106.7 509.3,107.4 509.1,108.0 508.8,107.1 508.5,107.0 508.2,106.6 508.0,107.4 507.7,107.9 507.4,108.1 507.1,108.4 506.8,108.7 506.6,109.0 506.3,109.1 506.0,109.1 505.7,108.9 505.5,109.1 505.2,109.2 504.9,109.6 504.6,109.3 504.4,109.4 504.1,109.5 503.8,109.5 503.5,109.2 503.3,109.5 503.0,109.2 502.7,109.0 502.4,109.7 502.1,109.7 501.9,108.0 501.6,109.0 501.3,108.7 501.0,108.9 500.8,109.4 500.5,109.2 500.2,109.1 499.9,109.3 499.7,109.0 499.4,109.6 499.1,109.2 498.8,109.0 498.6,109.3 498.3,109.1 498.0,109.2 497.7,108.9 497.4,108.3 497.2,108.3 496.9,108.3 496.6,107.9 496.3,107.8 496.1,106.0 495.8,107.7 495.5,106.8 495.2,107.0 495.0,105.2 494.7,106.0 494.4,105.9 494.1,106.2 493.9,106.9 493.6,106.0 493.3,106.8 493.0,106.6 492.7,106.6 492.5,105.2 492.2,104.8 491.9,103.7 491.6,104.4 491.4,103.9 491.1,103.7 490.8,104.4 490.5,103.4 490.3,102.6 490.0,103.2 489.7,102.1 489.4,103.3 489.2,102.5 488.9,103.4 488.6,104.2 488.3,101.3 488.0,102.1 487.8,103.8 487.5,100.4 487.2,102.7 486.9,104.5 486.7,102.6 486.4,104.4 486.1,103.7 485.8,103.4 485.6,102.4 485.3,103.0 485.0,102.5 484.7,103.6 484.5,102.5 484.2,101.7 483.9,103.4 483.6,102.1 483.3,103.2 483.1,103.2 482.8,104.7 482.5,104.0 482.2,105.2 482.0,105.3 481.7,105.2 481.4,104.8 481.1,103.0 480.9,102.4 480.6,102.7 480.3,101.9 480.0,102.2 479.8,104.9 479.5,105.5 479.2,104.9 478.9,103.9 478.6,106.0 478.4,102.9 478.1,105.1 477.8,106.2 477.5,105.5 477.3,104.7 477.0,105.9 476.7,105.6 476.4,105.9 476.2,106.8 475.9,106.7 475.6,105.6 475.3,106.2 475.1,106.3 474.8,104.8 474.5,104.4 474.2,105.5 473.9,105.7 473.7,105.8 473.4,105.7 473.1,104.6 472.8,104.9 472.6,104.4 472.3,105.5 472.0,106.5 471.7,106.3 471.5,106.4 471.2,106.1 470.9,104.4 470.6,103.4 470.3,102.5 470.1,104.5 469.8,102.3 469.5,103.7 469.2,103.2 469.0,105.2 468.7,104.7 468.4,103.2 468.1,103.3 467.9,103.5 467.6,104.6 467.3,104.8 467.0,103.1 466.8,104.9 466.5,103.5 466.2,104.4 465.9,102.0 465.6,103.9 465.4,104.6 465.1,105.6 464.8,106.1 464.5,105.8 464.3,105.7 464.0,105.4 463.7,105.4 463.4,105.1 463.2,105.2 462.9,103.1 462.6,103.2 462.3,102.4 462.1,102.1 461.8,103.0 461.5,104.8 461.2,104.6 460.9,104.4 460.7,104.8 460.4,104.4 460.1,103.8 459.8,103.1 459.6,103.7 459.3,103.3 459.0,104.4 458.7,104.3 458.5,104.1 458.2,104.2 457.9,104.4 457.6,104.5 457.4,104.4 457.1,103.7 456.8,102.6 456.5,103.4 456.2,100.1 456.0,102.6 455.7,100.7 455.4,102.5 455.1,102.6 454.9,101.1 454.6,101.6 454.3,100.2 454.0,101.7 453.8,100.2 453.5,99.3 453.2,98.5 452.9,98.2 452.7,99.1 452.4,99.0 452.1,100.4 451.8,99.9 451.5,100.1 451.3,100.3 451.0,100.9 450.7,101.0 450.4,100.8 450.2,101.2 449.9,101.0 449.6,100.8 449.3,100.3 449.1,99.9 448.8,99.1 448.5,99.3 448.2,98.0 448.0,96.9 447.7,98.9 447.4,98.1 447.1,98.1 446.8,97.9 446.6,96.8 446.3,95.6 446.0,93.5 445.7,93.0 445.5,93.7 445.2,96.3 444.9,96.0 444.6,97.4 444.4,96.8 444.1,96.3 443.8,96.6 443.5,95.2 443.3,94.5 443.0,94.7 442.7,94.4 442.4,95.4 442.1,94.1 441.9,93.1 441.6,94.5 441.3,94.7 441.0,95.2 440.8,94.4 440.5,94.8 440.2,94.8 439.9,93.8 439.7,93.2 439.4,92.8 439.1,91.9 438.8,90.5 438.6,91.8 438.3,92.0 438.0,88.9 437.7,89.9 437.4,91.8 437.2,92.6 436.9,92.5 436.6,90.3 436.3,91.0 436.1,88.5 435.8,90.5 435.5,91.2 435.2,87.6 435.0,90.7 434.7,90.5 434.4,90.1 434.1,91.3 433.9,91.4 433.6,91.7 433.3,91.5 433.0,91.3 432.7,90.6 432.5,88.4 432.2,88.9 431.9,87.2 431.6,86.3 431.4,85.9 431.1,86.3 430.8,84.2 430.5,86.8 430.3,88.0 430.0,88.3 429.7,88.9 429.4,88.6 429.2,88.6 428.9,87.3 428.6,84.5 428.3,86.6 428.0,82.1 427.8,83.4 427.5,82.9 427.2,83.6 426.9,82.7 426.7,84.4 426.4,84.7 426.1,83.8 425.8,80.5 425.6,79.3 425.3,84.7 425.0,82.0 424.7,84.6 424.5,82.9 424.2,84.0 423.9,85.1 423.6,86.3 423.3,85.9 423.1,82.4 422.8,86.3 422.5,82.8 422.2,85.3 422.0,84.9 421.7,86.6 421.4,88.5 421.1,86.9 420.9,90.3 420.6,88.1 420.3,89.6 420.0,89.8 419.8,90.3 419.5,90.5 419.2,89.9 418.9,89.0 418.6,86.7 418.4,89.2 418.1,90.5 417.8,89.6 417.5,92.1 417.3,92.0 417.0,90.6 416.7,91.4 416.4,92.5 416.2,92.6 415.9,92.4 415.6,92.7 415.3,94.0 415.0,94.9 414.8,95.8 414.5,96.2 414.2,97.1 413.9,98.6 413.7,99.1 413.4,99.9 413.1,100.1 412.8,100.6 412.6,100.0 412.3,100.1 412.0,99.2 411.7,99.6 411.5,100.6 411.2,100.7 410.9,101.5 410.6,101.0 410.3,100.9 410.1,101.7 409.8,101.6 409.5,101.4 409.2,102.1 409.0,103.0 408.7,103.5 408.4,103.7 408.1,103.9 407.9,104.0 407.6,103.9 407.3,103.8 407.0,102.4 406.8,102.8 406.5,104.5 406.2,104.5 405.9,104.3 405.6,104.4 405.4,104.2 405.1,104.9 404.8,105.7 404.5,104.5 404.3,105.4 404.0,106.2 403.7,106.4 403.4,106.4 403.2,106.4 402.9,106.8 402.6,107.2 402.3,106.8 402.1,106.8 401.8,107.7 401.5,107.5 401.2,106.9 400.9,107.1 400.7,108.0 400.4,108.5 400.1,109.1 399.8,109.0 399.6,109.1 399.3,108.5 399.0,108.5 398.7,109.0 398.5,108.4 398.2,108.8 397.9,109.5 397.6,109.6 397.4,109.6 397.1,109.6 396.8,109.9 396.5,110.3 396.2,110.4 396.0,110.6 395.7,110.5 395.4,110.5 395.1,110.4 394.9,110.5 394.6,110.4 394.3,110.6 394.0,110.8 393.8,111.2 393.5,111.2 393.2,111.4 392.9,111.4 392.7,111.5 392.4,111.4 392.1,111.6 391.8,111.6 391.5,111.8 391.3,111.8 391.0,111.9 390.7,111.8 390.4,111.9 390.2,111.8 389.9,111.7 389.6,112.0 389.3,111.8 389.1,112.1 388.8,112.1 388.5,112.1 388.2,112.2 388.0,112.3 387.7,112.4 387.4,112.4"/>
<path class="gr" d="M387.42,112.8v-0.2M387.72,112.8v-2.5M388.74,112.6v-0.5M389.10,112.6v-1.0M389.32,112.5v-0.4M389.83,112.5v-0.3M389.94,112.4v-1.0M390.44,112.3v-0.4M390.95,112.2v-0.4M391.17,112.2v-0.5M391.41,112.2v-0.5M391.69,112.1v-2.6M392.61,111.9v-0.5M392.75,111.9v-0.8M393.22,111.8v-0.4M393.92,111.6v-1.9M394.39,111.5v-0.8M395.01,111.3v-0.7M395.17,111.2v-0.3M396.52,110.8v-2.9M396.80,110.7v-0.4M397.01,110.7v-2.3M397.51,110.5v-0.4M397.93,110.4v-0.3M398.72,110.1v-1.5M398.89,110.0v-0.3M399.10,109.9v-2.0M399.36,109.8v-0.5M399.84,109.7v-2.0M400.04,109.6v-0.6M400.34,109.4v-0.3M400.81,109.3v-0.4M401.02,109.2v-1.1M401.23,109.1v-0.5M401.46,109.0v-3.5M401.78,108.8v-1.2M402.06,108.7v-0.2M402.25,108.6v-0.3M402.35,108.6v-2.6M402.65,108.4v-1.1M402.99,108.3v-1.3M403.22,108.1v-2.4M403.40,108.0v-0.3M403.62,107.9v-0.3M403.87,107.8v-1.2M404.02,107.7v-0.6M404.40,107.5v-0.9M404.64,107.3v-1.4M404.86,107.2v-1.0M405.08,107.0v-0.3M405.31,106.9v-4.2M405.48,106.8v-2.7M405.68,106.6v-1.6M405.95,106.4v-1.0M406.26,106.2v-1.2M406.41,106.1v-1.4M406.73,105.8v-1.3M406.87,105.7v-0.3M407.06,105.6v-0.4M407.32,105.4v-1.4M407.53,105.2v-2.2M407.89,104.9v-3.2M408.00,104.8v-1.6M408.41,104.5v-0.7M408.60,104.3v-5.7M408.82,104.1v-0.4M409.10,103.9v-0.5M409.20,103.8v-0.9M409.45,103.6v-9.4M409.70,103.4v-3.2M409.94,103.1v-16.1M410.17,102.9v-0.8M410.45,102.7v-2.0M410.65,102.5v-4.8M410.81,102.3v-4.3M411.06,102.1v-18.6M411.30,101.9v-0.9M411.52,101.6v-1.5M411.83,101.3v-3.9M411.98,101.2v-8.5M412.25,100.9v-1.0M412.57,100.6v-8.3M412.79,100.4v-1.2M413.00,100.1v-1.6M413.34,99.8v-1.3M413.50,99.6v-1.2M413.79,99.3v-1.8M414.00,99.1v-1.8M414.10,99.0v-3.3M414.51,98.5v-2.9M414.67,98.3v-20.1M414.95,98.0v-5.8M415.15,97.8v-2.4M415.30,97.7v-1.9M415.52,97.4v-14.3M415.80,97.1v-6.0M416.01,96.8v-3.9M416.22,96.6v-7.9M416.58,96.2v-3.5M416.82,95.9v-30.5M417.08,95.5v-3.9M417.26,95.3v-5.6M417.57,94.9v-8.4M417.65,94.8v-6.4M418.04,94.3v-1.0M418.20,94.1v-2.2M418.52,93.8v-7.3M418.60,93.7v-2.5M418.91,93.3v-7.8M419.15,93.0v-4.9M419.40,92.7v-2.2M419.67,92.4v-6.4M419.78,92.3v-2.1M419.99,92.0v-17.1M420.35,91.6v-1.2M420.50,91.5v-13.8M420.83,91.1v-5.5M421.02,90.9v-16.8M421.33,90.5v-1.6M421.52,90.3v-7.2M421.69,90.1v-3.1M421.86,89.8v-2.0M422.15,89.5v-1.8M422.38,89.2v-20.5M422.60,88.9v-7.7M422.80,88.7v-4.6M423.22,88.3v-6.3M423.36,88.1v-1.8M423.60,87.9v-2.7M423.74,87.8v-1.6M424.10,87.6v-1.3M424.34,87.5v-3.6M424.57,87.5v-21.6M424.73,87.5v-4.6M425.04,87.5v-5.4M425.27,87.5v-6.1M425.46,87.5v-12.6M425.74,87.6v-3.9M425.97,87.7v-17.1M426.20,87.8v-2.4M426.48,87.9v-1.1M426.73,88.0v-19.7M426.88,88.0v-9.4M427.15,88.2v-17.6M427.40,88.3v-1.4M427.55,88.4v-1.4M427.88,88.5v-18.4M427.98,88.6v-1.6M428.27,88.7v-13.9M428.57,88.9v-5.5M428.80,89.0v-1.2M428.93,89.1v-3.4M429.22,89.2v-1.6M429.40,89.3v-17.5M429.61,89.4v-6.3M429.88,89.6v-1.5M430.23,89.8v-10.4M430.50,89.9v-14.0M430.61,90.0v-6.3M430.96,90.2v-1.6M431.06,90.3v-19.8M431.35,90.5v-5.9M431.51,90.6v-4.0M431.76,90.8v-12.5M432.11,91.0v-1.2M432.25,91.1v-13.6M432.45,91.3v-5.0M432.69,91.4v-5.4M433.03,91.7v-3.5M433.19,91.8v-32.8M433.54,92.0v-2.8M433.62,92.1v-2.6M433.93,92.3v-1.0M434.20,92.4v-20.9M434.49,92.6v-1.0M434.70,92.7v-4.8M434.92,92.8v-1.0M435.05,92.9v-9.8M435.41,93.1v-7.4M435.62,93.3v-11.5M435.90,93.4v-0.8M436.00,93.5v-0.9M436.35,93.6v-1.5M436.50,93.7v-8.9M436.82,93.9v-3.3M437.03,94.0v-3.5M437.27,94.2v-11.3M437.38,94.2v-8.3M437.76,94.4v-1.9M437.96,94.5v-0.7M438.11,94.6v-1.8M438.37,94.7v-1.1M438.56,94.8v-1.1M438.90,95.0v-2.6M439.17,95.2v-7.2M439.28,95.2v-4.7M439.54,95.4v-2.1M439.85,95.5v-2.8M439.96,95.6v-4.3M440.22,95.7v-1.4M440.45,95.9v-1.5M440.71,96.0v-0.6M440.90,96.1v-1.4M441.17,96.3v-12.7M441.39,96.4v-3.1M441.74,96.6v-1.6M441.99,96.7v-6.9M442.22,96.9v-3.0M442.45,97.0v-2.2M442.65,97.1v-2.2M442.79,97.2v-1.0M443.10,97.4v-3.2M443.25,97.5v-0.9M443.53,97.6v-1.4M443.73,97.7v-2.4M444.11,97.9v-6.0M444.25,98.0v-6.2M444.42,98.1v-0.7M444.65,98.3v-3.0M445.00,98.4v-12.3M445.21,98.6v-1.2M445.41,98.7v-2.3M445.69,98.8v-28.3M446.01,99.0v-0.6M446.14,99.1v-0.9M446.43,99.2v-0.6M446.67,99.4v-3.6M446.85,99.5v-5.6M447.05,99.6v-1.3M447.38,99.7v-10.0M447.53,99.8v-1.2M447.75,99.9v-0.5M447.99,100.1v-16.6M448.31,100.2v-0.6M448.50,100.3v-4.0M448.80,100.5v-1.1M448.98,100.6v-0.5M449.20,100.7v-4.5M449.51,100.8v-1.2M449.59,100.9v-3.2M449.97,101.1v-2.4M450.18,101.2v-0.7M450.29,101.2v-5.6M450.55,101.4v-0.5M450.89,101.6v-7.4M451.08,101.7v-8.1M451.40,101.8v-1.0M451.61,101.9v-0.5M451.81,102.0v-0.5M452.08,102.2v-6.1M452.28,102.3v-0.5M452.43,102.3v-0.7M452.80,102.5v-0.8M453.00,102.6v-8.5M453.22,102.7v-11.8M453.38,102.8v-5.7M453.70,102.9v-10.8M453.84,103.0v-8.6M454.18,103.2v-1.2M454.30,103.2v-0.4M454.64,103.4v-0.5M454.80,103.4v-2.1M455.12,103.6v-2.5M455.38,103.7v-0.4M455.47,103.7v-3.6M455.70,103.8v-7.1M456.11,103.9v-0.9M456.32,104.0v-0.4M456.45,104.1v-12.4M456.73,104.2v-0.7M456.90,104.2v-1.0M457.28,104.4v-0.4M457.35,104.4v-5.0M457.60,104.5v-2.7M458.00,104.6v-6.6M458.07,104.6v-4.1M458.34,104.7v-2.1M458.54,104.8v-2.2M458.81,104.9v-1.3M459.07,105.0v-2.2M459.34,105.1v-0.4M459.57,105.1v-0.5M459.79,105.2v-0.6M460.01,105.3v-0.4M460.34,105.4v-0.7M460.50,105.4v-3.2M460.79,105.5v-9.6M460.89,105.5v-1.5M461.22,105.6v-4.5M461.41,105.7v-0.5M461.75,105.8v-5.9M461.97,105.8v-0.6M462.07,105.9v-0.8M462.29,105.9v-4.9M462.58,106.0v-0.6M462.89,106.1v-1.6M462.99,106.1v-1.0M463.34,106.2v-3.0M463.52,106.2v-1.6M463.75,106.2v-0.7M464.07,106.3v-7.0M464.18,106.3v-3.5M464.48,106.4v-4.6M464.67,106.4v-1.7M464.88,106.5v-0.5M465.23,106.5v-1.8M465.44,106.5v-1.5M465.60,106.6v-2.3M465.91,106.6v-1.2M466.14,106.7v-5.6M466.39,106.7v-3.0M466.61,106.7v-2.2M466.93,106.8v-1.2M467.10,106.8v-4.9M467.30,106.9v-0.3M467.48,106.9v-2.8M467.83,106.9v-0.5M467.92,107.0v-3.6M468.32,107.0v-4.0M468.55,107.1v-1.0M468.66,107.1v-2.3M468.94,107.1v-11.5M469.24,107.1v-1.2M469.34,107.2v-2.5M469.66,107.2v-0.7M469.91,107.2v-1.0M470.08,107.2v-0.5M470.41,107.3v-0.4M470.58,107.3v-1.0M470.87,107.3v-1.5M471.16,107.3v-3.6M471.35,107.4v-0.4M471.46,107.4v-0.5M471.85,107.4v-1.7M471.99,107.4v-0.6M472.24,107.4v-4.9M472.47,107.4v-4.0M472.75,107.4v-9.9M473.00,107.4v-0.4M473.12,107.4v-1.5M473.40,107.4v-0.7M473.64,107.4v-1.3M473.89,107.4v-4.1M474.21,107.4v-0.4M474.28,107.4v-0.6M474.65,107.4v-0.3M474.78,107.4v-0.8M475.08,107.4v-1.1M475.25,107.4v-0.8M475.59,107.4v-3.4M475.68,107.4v-0.9M475.93,107.4v-1.2M476.26,107.4v-0.5M476.47,107.4v-0.6M476.66,107.4v-11.0M476.99,107.4v-1.1M477.10,107.4v-3.0M477.51,107.4v-0.7M477.59,107.4v-0.4M477.88,107.4v-0.8M478.18,107.4v-0.6M478.35,107.4v-1.8M478.52,107.4v-3.6M478.79,107.4v-3.6M478.97,107.4v-0.8M479.34,107.4v-0.9M479.46,107.4v-3.6M479.84,107.3v-1.2M480.08,107.3v-10.2M480.18,107.3v-1.0M480.48,107.2v-0.7M480.64,107.2v-5.8M480.96,107.1v-1.1M481.22,107.0v-4.3M481.47,107.0v-0.6M481.72,106.9v-1.5M481.94,106.9v-0.9M482.06,106.9v-0.4M482.34,106.8v-6.2M482.53,106.8v-0.8M482.80,106.7v-9.5M483.06,106.7v-6.1M483.37,106.7v-1.1M483.50,106.6v-4.3M483.68,106.6v-0.4M483.92,106.6v-5.1M484.23,106.5v-0.7M484.47,106.5v-3.9M484.78,106.4v-1.3M484.96,106.4v-2.8M485.19,106.4v-2.4M485.34,106.4v-0.5M485.57,106.3v-8.0M485.92,106.3v-1.4M486.17,106.3v-2.9M486.38,106.3v-6.8M486.64,106.3v-5.0M486.91,106.3v-4.1M487.14,106.3v-16.7M487.25,106.3v-0.5M487.50,106.3v-0.7M487.83,106.3v-18.5M487.96,106.3v-1.0M488.26,106.3v-0.6M488.45,106.3v-0.5M488.71,106.4v-0.4M488.85,106.4v-2.2M489.11,106.4v-2.3M489.37,106.4v-0.6M489.58,106.5v-0.7M489.94,106.5v-5.6M490.08,106.6v-3.1M490.28,106.6v-2.8M490.61,106.6v-1.2M490.90,106.7v-0.4M491.11,106.7v-1.2M491.20,106.8v-10.1M491.56,106.9v-0.5M491.70,106.9v-0.6M492.04,107.1v-0.3M492.17,107.2v-1.4M492.51,107.4v-3.4M492.65,107.5v-9.9M492.84,107.6v-1.0M493.13,107.8v-0.3M493.36,108.0v-1.1M493.57,108.1v-3.4M493.82,108.3v-2.2M494.08,108.5v-0.4M494.37,108.7v-0.9M494.54,108.8v-1.8M494.77,109.0v-0.6M495.01,109.1v-1.7M495.28,109.2v-0.8M495.46,109.3v-0.6M495.78,109.4v-1.2M496.05,109.5v-0.8M496.18,109.6v-3.0M496.48,109.7v-0.4M496.77,109.8v-0.7M496.98,109.9v-0.3M497.14,110.0v-1.6M497.43,110.1v-0.3M497.54,110.1v-0.9M497.93,110.3v-0.5M498.17,110.4v-1.7M498.36,110.4v-1.1M498.60,110.5v-2.0M498.79,110.5v-0.3M498.94,110.6v-0.4M499.18,110.6v-0.5M499.52,110.6v-0.3M499.65,110.6v-1.0M500.01,110.7v-0.4M500.14,110.7v-0.3M500.45,110.6v-0.6M500.69,110.6v-1.3M500.98,110.6v-0.7M501.18,110.6v-3.5M501.43,110.6v-0.2M501.56,110.6v-0.2M501.80,110.6v-0.4M502.02,110.5v-0.6M502.23,110.5v-0.2M502.62,110.5v-0.5M502.88,110.4v-0.8M502.97,110.4v-0.5M503.90,110.3v-1.3M504.28,110.3v-0.6M504.48,110.2v-0.3M504.62,110.2v-0.8M504.87,110.1v-2.9M505.08,110.1v-0.9M505.38,110.0v-0.6M505.64,110.0v-1.7M505.87,109.9v-0.2M506.12,109.8v-0.3M506.31,109.8v-0.7M506.57,109.7v-0.2M506.74,109.7v-0.2M507.45,109.5v-3.0M507.73,109.4v-0.4M507.90,109.4v-6.7M508.12,109.3v-0.5M508.35,109.3v-0.6M509.00,109.1v-3.3M509.22,109.1v-0.4M509.36,109.1v-1.2M509.63,109.0v-0.4M509.93,108.9v-0.8M510.03,108.9v-0.3M510.39,108.8v-0.2M510.57,108.8v-1.6M510.99,108.7v-0.2M511.32,108.6v-2.8M511.46,108.6v-0.4M511.73,108.5v-0.4M512.00,108.4v-1.2M512.13,108.4v-0.5M512.49,108.3v-0.5M512.68,108.3v-2.4M512.84,108.2v-0.2M513.13,108.2v-0.2M513.35,108.1v-1.1M513.59,108.0v-0.4M513.79,108.0v-0.3M514.00,107.9v-3.8M514.31,107.8v-0.2M514.47,107.8v-1.0M514.75,107.7v-1.4M515.09,107.6v-0.8M515.32,107.5v-1.3M515.47,107.4v-0.2M515.72,107.3v-1.1M516.04,107.2v-0.4M516.15,107.2v-1.4M516.45,107.0v-0.6M516.57,106.9v-0.6M516.82,106.8v-0.4M517.12,106.6v-0.2M517.46,106.4v-0.8M517.68,106.2v-3.4M517.83,106.1v-3.0M518.09,105.9v-0.2M518.38,105.7v-0.6M518.56,105.6v-0.2M518.84,105.3v-0.4M518.97,105.2v-3.9M519.20,105.0v-3.6M519.47,104.8v-3.1M519.77,104.6v-1.7M519.98,104.5v-0.7M520.11,104.4v-4.1M520.42,104.2v-0.2M520.64,104.0v-0.5M520.91,103.9v-2.1M521.14,103.8v-0.2M521.31,103.7v-0.3M521.60,103.6v-0.8M521.78,103.5v-1.1M522.08,103.4v-0.4M522.39,103.3v-1.9M522.60,103.3v-0.2M522.78,103.2v-0.4M523.07,103.1v-1.3M523.18,103.1v-0.2M523.45,103.0v-0.6M523.68,103.0v-3.8M523.93,102.9v-0.3M524.13,102.9v-0.7M524.46,102.8v-0.7M524.64,102.8v-3.7M524.91,102.8v-3.8M525.19,102.7v-8.3M525.39,102.7v-1.2M525.67,102.7v-0.7M525.78,102.7v-0.2M526.08,102.7v-0.3M526.29,102.7v-0.2M526.57,102.7v-1.1M526.78,102.7v-0.4M527.02,102.8v-1.1M527.24,102.8v-0.2M527.57,102.8v-0.2M527.67,102.8v-0.4M527.97,102.8v-0.2M528.25,102.8v-0.4M528.46,102.8v-0.5M528.63,102.8v-0.8M528.96,102.9v-0.4M529.21,102.9v-1.0M529.29,102.9v-0.6M529.55,102.9v-0.5M529.91,102.9v-0.7M530.01,102.9v-1.9M530.22,103.0v-1.7M530.53,103.0v-0.2M530.70,103.0v-0.8M531.06,103.1v-3.8M531.24,103.1v-0.2M531.47,103.1v-0.7M531.70,103.1v-0.4M531.96,103.2v-1.5M532.15,103.2v-0.9M532.40,103.3v-0.3M532.63,103.3v-0.4M532.95,103.4v-0.8M533.09,103.4v-1.0M533.35,103.4v-0.8M533.64,103.5v-1.8M533.90,103.6v-0.3M534.10,103.6v-0.2M534.32,103.7v-1.8M534.57,103.7v-2.1M534.81,103.8v-0.3M534.95,103.8v-1.4M535.18,103.9v-0.2"/>
<polygon class="tr" points="387.40,112.81 389.61,112.49 391.82,112.07 394.04,111.56 396.25,110.92 398.46,110.16 400.67,109.32 402.88,108.31 404.99,107.11 405.04,107.06 405.10,106.89 405.15,106.16 405.21,103.65 405.26,98.14 405.32,91.10 405.37,87.66 405.43,89.10 405.48,92.84 405.54,97.39 405.59,101.36 405.65,104.06 405.70,105.54 405.76,106.20 405.81,106.42 405.98,106.42 407.03,105.58 407.09,105.39 407.14,104.83 407.20,103.63 407.25,102.12 407.31,101.36 407.36,101.62 407.42,102.37 407.47,103.29 407.53,104.08 407.58,104.61 407.64,104.89 407.75,105.00 409.96,103.12 410.07,102.97 410.13,102.65 410.18,101.66 410.24,99.54 410.29,96.83 410.35,95.49 410.40,96.00 410.46,97.38 410.52,99.07 410.57,100.54 410.63,101.52 410.68,102.05 410.74,102.26 410.85,102.29 411.40,101.75 411.46,101.58 411.51,100.88 411.57,98.55 411.62,93.45 411.68,86.94 411.73,83.75 411.79,85.05 411.84,88.48 411.90,92.66 411.95,96.29 412.01,98.76 412.06,100.11 412.12,100.69 412.17,100.88 412.34,100.82 412.51,100.60 412.56,100.22 412.62,98.37 412.67,91.97 412.73,77.83 412.78,59.78 412.84,50.97 412.89,54.70 412.95,64.36 413.00,76.11 413.06,86.35 413.11,93.34 413.17,97.19 413.23,98.92 413.28,99.54 413.34,99.70 413.67,99.43 413.89,99.17 413.94,98.96 414.00,98.06 414.05,95.06 414.11,88.46 414.17,80.04 414.22,75.92 414.28,77.62 414.33,82.07 414.39,87.50 414.44,92.22 414.50,95.43 414.55,97.19 414.61,97.96 414.66,98.22 414.77,98.23 415.55,97.35 415.60,97.09 415.66,95.98 415.71,92.20 415.77,83.89 415.82,73.28 415.88,68.09 415.93,70.25 415.99,75.87 416.05,82.73 416.10,88.69 416.16,92.75 416.21,94.98 416.27,95.96 416.32,96.29 416.43,96.32 416.93,95.70 416.99,95.49 417.04,94.65 417.10,91.84 417.15,85.67 417.21,77.82 417.26,73.96 417.32,75.53 417.37,79.67 417.43,84.71 417.48,89.10 417.54,92.08 417.59,93.70 417.65,94.41 417.70,94.63 417.81,94.62 418.31,93.99 418.37,93.78 418.42,92.92 418.48,90.08 418.53,83.85 418.59,75.90 418.64,72.00 418.70,73.60 418.76,77.78 418.81,82.89 418.87,87.33 418.92,90.34 418.98,91.98 419.03,92.70 419.09,92.93 419.20,92.92 419.70,92.32 419.75,92.02 419.81,90.66 419.86,86.02 419.92,75.79 419.97,62.73 420.03,56.35 420.08,59.02 420.14,65.98 420.19,74.45 420.25,81.83 420.30,86.85 420.36,89.61 420.41,90.85 420.47,91.28 420.52,91.38 420.75,91.20 420.80,91.09 420.86,90.66 420.91,88.60 420.97,81.47 421.02,65.72 421.08,45.61 421.13,35.80 421.19,39.96 421.24,50.71 421.30,63.80 421.35,75.20 421.41,82.98 421.46,87.26 421.52,89.19 421.58,89.88 421.63,90.02 421.69,89.78 421.74,88.44 421.80,83.84 421.85,73.68 421.91,60.73 421.96,54.39 422.02,57.04 422.07,63.93 422.13,72.32 422.18,79.62 422.24,84.59 422.29,87.32 422.35,88.54 422.40,88.96 422.46,89.05 422.74,88.76 422.79,88.49 422.85,87.34 422.90,83.41 422.96,74.75 423.01,63.71 423.07,58.30 423.12,60.56 423.18,66.44 423.23,73.60 423.29,79.83 423.34,84.08 423.40,86.42 423.46,87.46 423.51,87.83 423.62,87.91 423.68,87.83 423.73,87.40 423.79,85.22 423.84,77.64 423.90,60.85 423.95,39.40 424.01,28.95 424.06,33.43 424.12,44.97 424.17,59.01 424.23,71.24 424.29,79.60 424.34,84.23 424.40,86.34 424.45,87.14 424.51,87.39 424.67,87.44 424.73,87.29 424.78,86.44 424.84,83.45 424.89,76.80 424.95,68.30 425.00,64.18 425.06,65.97 425.11,70.57 425.17,76.15 425.23,81.02 425.28,84.36 425.34,86.21 425.39,87.07 425.45,87.40 425.56,87.56 425.78,87.59 425.83,87.34 425.89,85.92 425.94,80.86 426.00,69.60 426.05,55.21 426.11,48.23 426.17,51.28 426.22,59.08 426.28,68.56 426.33,76.82 426.39,82.48 426.44,85.63 426.50,87.09 426.55,87.66 426.61,87.86 426.88,88.02 426.94,87.91 426.99,87.21 427.05,84.65 427.11,78.94 427.16,71.63 427.22,68.09 427.27,69.66 427.33,73.65 427.38,78.49 427.44,82.72 427.49,85.61 427.55,87.23 427.60,87.99 427.66,88.30 427.82,88.50 427.99,88.57 428.05,88.41 428.10,87.45 428.16,83.98 428.21,76.24 428.27,66.34 428.32,61.53 428.38,63.65 428.43,69.04 428.49,75.59 428.54,81.30 428.60,85.21 428.65,87.39 428.71,88.41 428.76,88.81 428.87,89.02 429.10,89.12 429.15,89.02 429.21,88.35 429.26,85.90 429.32,80.43 429.37,73.43 429.43,70.05 429.48,71.56 429.54,75.38 429.59,80.02 429.65,84.07 429.70,86.85 429.76,88.41 429.82,89.14 429.87,89.44 429.93,89.55 429.98,89.50 430.04,88.96 430.09,86.96 430.15,82.47 430.20,76.73 430.26,73.96 430.31,75.21 430.37,78.36 430.42,82.19 430.48,85.53 430.53,87.82 430.59,89.11 430.64,89.72 430.70,89.98 430.92,90.22 431.03,90.26 431.09,90.06 431.14,88.78 431.20,84.19 431.25,73.95 431.31,60.84 431.36,54.49 431.42,57.30 431.47,64.43 431.53,73.09 431.58,80.65 431.64,85.83 431.70,88.72 431.75,90.07 431.81,90.61 431.86,90.80 432.14,91.03 432.19,90.92 432.25,90.11 432.30,87.17 432.36,80.59 432.41,72.17 432.47,68.09 432.52,69.91 432.58,74.52 432.64,80.11 432.69,84.99 432.75,88.34 432.80,90.21 432.86,91.09 432.91,91.45 432.97,91.58 433.02,91.54 433.08,91.00 433.13,88.99 433.19,84.48 433.24,78.71 433.30,75.92 433.35,77.18 433.41,80.35 433.46,84.21 433.52,87.57 433.58,89.88 433.63,91.18 433.69,91.79 433.74,92.05 433.96,92.28 434.07,92.32 434.13,92.14 434.18,91.00 434.24,86.88 434.29,77.70 434.35,65.96 434.40,60.26 434.46,62.78 434.52,69.17 434.57,76.93 434.63,83.70 434.68,88.34 434.74,90.93 434.79,92.14 434.85,92.62 434.90,92.79 435.18,92.98 435.23,92.89 435.29,92.22 435.35,89.78 435.40,84.32 435.46,77.34 435.51,73.96 435.57,75.47 435.62,79.29 435.68,83.92 435.73,87.96 435.79,90.74 435.84,92.29 435.90,93.02 435.95,93.32 436.12,93.52 436.56,93.72 436.62,93.44 436.67,91.76 436.73,85.74 436.78,72.33 436.84,55.18 436.89,46.86 436.95,50.51 437.00,59.81 437.06,71.11 437.11,80.97 437.17,87.72 437.23,91.48 437.28,93.22 437.34,93.90 437.39,94.14 437.67,94.35 437.72,94.25 437.78,93.60 437.83,91.24 437.89,85.95 437.94,79.19 438.00,75.92 438.05,77.38 438.11,81.08 438.17,85.56 438.22,89.48 438.28,92.17 438.33,93.67 438.39,94.38 438.44,94.66 438.61,94.86 439.05,95.09 439.11,95.02 439.16,94.48 439.22,92.53 439.27,88.15 439.33,82.54 439.38,79.83 439.44,81.05 439.49,84.12 439.55,87.85 439.60,91.11 439.66,93.34 439.71,94.60 439.77,95.19 439.82,95.43 440.05,95.65 440.43,95.84 440.49,95.71 440.54,94.87 440.60,91.81 440.65,84.98 440.71,76.24 440.76,72.00 440.82,73.88 440.88,78.65 440.93,84.44 440.99,89.49 441.04,92.95 441.10,94.88 441.15,95.79 441.21,96.15 441.32,96.35 441.54,96.41 441.59,95.94 441.65,93.20 441.70,83.47 441.76,61.79 441.82,34.09 441.87,20.63 441.93,26.51 441.98,41.52 442.04,59.75 442.09,75.62 442.15,86.29 442.20,91.15 442.26,89.73 442.31,81.46 442.37,69.87 442.42,64.17 442.48,66.75 442.53,73.24 442.59,81.12 442.64,87.99 442.70,92.70 442.76,95.33 442.81,96.55 442.87,97.04 442.92,97.22 443.75,97.73 443.81,97.68 443.86,97.26 443.92,95.73 443.97,92.27 444.03,87.84 444.08,85.70 444.14,86.67 444.19,89.11 444.25,92.07 444.30,94.65 444.36,96.43 444.41,97.43 444.47,97.90 444.52,98.10 444.91,98.39 445.13,98.51 445.19,98.47 445.24,98.10 445.30,96.71 445.35,93.59 445.41,89.59 445.46,87.66 445.52,88.54 445.58,90.74 445.63,93.42 445.69,95.76 445.74,97.36 445.80,98.27 445.85,98.70 445.91,98.88 446.24,99.11 446.29,98.95 446.35,97.99 446.41,94.51 446.46,86.75 446.52,76.82 446.57,72.00 446.63,74.13 446.68,79.54 446.74,86.11 446.79,91.84 446.85,95.76 446.90,97.96 446.96,98.98 447.01,99.39 447.12,99.60 448.45,100.29 448.51,100.24 448.56,99.88 448.62,98.51 448.67,95.44 448.73,91.51 448.78,89.62 448.84,90.48 448.89,92.64 448.95,95.27 449.00,97.56 449.06,99.14 449.11,100.03 449.17,100.45 449.23,100.63 449.83,101.01 450.66,101.42 450.72,101.31 450.77,100.58 450.83,97.94 450.88,92.03 450.94,84.47 450.99,80.81 451.05,82.44 451.11,86.56 451.16,91.57 451.22,95.94 451.27,98.93 451.33,100.61 451.38,101.39 451.44,101.71 451.55,101.88 452.88,102.54 452.93,102.52 452.99,102.28 453.04,101.38 453.10,99.35 453.15,96.74 453.21,95.49 453.26,96.07 453.32,97.52 453.37,99.27 453.43,100.80 453.48,101.86 453.54,102.45 453.59,102.74 453.70,102.92 455.09,103.52 455.14,103.41 455.20,102.67 455.25,100.01 455.31,94.06 455.36,86.45 455.42,82.77 455.47,84.40 455.53,88.54 455.58,93.57 455.64,97.95 455.70,100.96 455.75,102.64 455.81,103.42 455.86,103.73 455.97,103.89 457.08,104.24 457.13,104.01 457.19,103.13 457.24,101.17 457.30,98.66 457.35,97.44 457.41,98.00 457.47,99.38 457.52,101.07 457.58,102.53 457.63,103.54 457.69,104.11 457.74,104.38 457.85,104.55 458.96,104.91 459.01,104.78 459.07,104.01 459.12,101.23 459.18,95.03 459.23,87.10 459.29,83.26 459.35,84.95 459.40,89.26 459.46,94.49 459.51,99.05 459.57,102.18 459.62,103.92 459.68,104.73 459.73,105.05 459.84,105.21 461.17,105.60 461.23,105.57 461.28,105.32 461.34,104.40 461.39,102.34 461.45,99.70 461.50,98.42 461.56,99.00 461.61,100.45 461.67,102.20 461.72,103.74 461.78,104.79 461.83,105.38 461.89,105.66 462.00,105.82 463.38,106.15 463.44,106.02 463.49,105.27 463.55,102.58 463.60,96.59 463.66,88.93 463.71,85.21 463.77,86.84 463.82,90.99 463.88,96.04 463.94,100.44 463.99,103.45 464.05,105.13 464.10,105.90 464.16,106.20 464.27,106.34 465.37,106.48 465.43,106.23 465.48,105.32 465.54,103.28 465.59,100.67 465.65,99.40 465.70,99.96 465.76,101.39 465.82,103.12 465.87,104.63 465.93,105.66 465.98,106.24 466.04,106.51 466.15,106.66 467.25,106.83 467.31,106.70 467.36,105.94 467.42,103.22 467.47,97.18 467.53,89.46 467.58,85.70 467.64,87.34 467.70,91.53 467.75,96.61 467.81,101.04 467.86,104.08 467.92,105.77 467.97,106.54 468.03,106.85 468.14,106.98 469.24,107.09 469.30,106.85 469.35,105.99 469.41,104.05 469.47,101.58 469.52,100.38 469.58,100.91 469.63,102.26 469.69,103.89 469.74,105.32 469.80,106.29 469.85,106.84 469.91,107.09 470.02,107.23 470.85,107.30 470.90,107.18 470.96,106.49 471.01,104.02 471.07,98.55 471.12,91.55 471.18,88.15 471.23,89.63 471.29,93.41 471.35,98.01 471.40,102.03 471.46,104.77 471.51,106.29 471.57,106.99 471.62,107.26 471.79,107.39 472.51,107.41 472.56,107.36 472.62,107.07 472.67,106.04 472.73,103.75 472.78,100.82 472.84,99.40 472.89,100.02 472.95,101.60 473.00,103.52 473.06,105.19 473.11,106.34 473.17,106.97 473.23,107.27 473.34,107.41 474.17,107.41 474.22,107.30 474.28,106.73 474.33,104.69 474.39,100.17 474.44,94.39 474.50,91.57 474.55,92.79 474.61,95.91 474.66,99.71 474.72,103.02 474.77,105.28 474.83,106.53 474.88,107.11 474.94,107.33 475.16,107.42 475.82,107.42 475.88,107.36 475.94,107.03 475.99,105.87 476.05,103.30 476.10,100.02 476.16,98.42 476.21,99.11 476.27,100.89 476.32,103.04 476.38,104.92 476.43,106.21 476.49,106.92 476.54,107.25 476.65,107.41 477.48,107.42 477.54,107.35 477.59,106.99 477.65,105.70 477.70,102.86 477.76,99.21 477.82,97.44 477.87,98.21 477.93,100.18 477.98,102.57 478.04,104.65 478.09,106.07 478.15,106.86 478.20,107.23 478.31,107.41 479.14,107.40 479.20,107.33 479.25,107.00 479.31,105.85 479.36,103.29 479.42,100.02 479.47,98.42 479.53,99.10 479.59,100.86 479.64,102.99 479.70,104.85 479.75,106.12 479.81,106.82 479.86,107.14 479.97,107.29 480.97,107.09 481.02,107.01 481.08,106.38 481.13,103.03 481.19,91.23 481.24,65.03 481.30,31.54 481.35,15.25 481.41,22.29 481.47,40.36 481.52,62.31 481.58,81.45 481.63,94.53 481.69,101.79 481.74,105.11 481.80,106.37 481.85,106.77 481.96,106.88 482.18,106.83 482.24,106.74 482.29,106.32 482.35,104.86 482.41,101.63 482.46,97.50 482.52,95.49 482.57,96.35 482.63,98.56 482.68,101.26 482.74,103.61 482.79,105.21 482.85,106.10 482.90,106.50 482.96,106.65 483.46,106.64 483.57,106.61 483.62,106.49 483.68,105.91 483.73,103.84 483.79,99.27 483.84,93.44 483.90,90.59 483.95,91.81 484.01,94.95 484.06,98.77 484.12,102.09 484.17,104.37 484.23,105.62 484.29,106.19 484.34,106.41 484.56,106.47 484.73,106.38 484.78,106.04 484.84,104.88 484.89,102.32 484.95,99.04 485.00,97.44 485.06,98.13 485.12,99.88 485.17,102.02 485.23,103.88 485.28,105.16 485.34,105.86 485.39,106.18 485.50,106.33 485.78,106.30 485.83,106.23 485.89,105.87 485.94,104.60 486.00,101.80 486.06,98.21 486.11,96.47 486.17,97.22 486.22,99.15 486.28,101.49 486.33,103.54 486.39,104.94 486.44,105.71 486.50,106.07 486.61,106.24 486.94,106.18 487.00,105.86 487.05,104.73 487.11,102.22 487.16,99.01 487.22,97.44 487.27,98.12 487.33,99.86 487.38,101.97 487.44,103.81 487.49,105.07 487.55,105.77 487.60,106.09 487.71,106.26 488.10,106.27 488.16,106.06 488.21,104.89 488.27,100.73 488.32,91.50 488.38,79.70 488.43,73.96 488.49,76.45 488.54,82.84 488.60,90.59 488.65,97.35 488.71,101.98 488.76,104.55 488.82,105.73 488.88,106.18 488.93,106.33 489.10,106.39 489.15,106.34 489.21,105.98 489.26,104.70 489.32,101.86 489.37,98.23 489.43,96.47 489.48,97.24 489.54,99.22 489.59,101.61 489.65,103.71 489.70,105.14 489.76,105.94 489.82,106.31 489.93,106.51 490.42,106.61 490.48,106.56 490.53,106.09 490.59,103.49 490.65,94.26 490.70,73.76 490.76,47.56 490.81,34.82 490.87,40.33 490.92,54.29 490.98,70.36 491.03,81.34 491.09,82.65 491.14,76.91 491.20,73.96 491.25,77.38 491.31,83.90 491.36,91.51 491.42,98.10 491.47,102.60 491.53,105.11 491.59,106.27 491.64,106.73 491.70,106.89 492.19,107.15 492.25,106.97 492.30,106.23 492.36,104.55 492.41,102.39 492.47,101.36 492.53,101.86 492.58,103.08 492.64,104.55 492.69,105.85 492.75,106.74 492.80,107.26 492.86,107.51 493.02,107.75 493.24,107.90 493.30,107.88 493.35,107.57 493.41,106.36 493.47,103.62 493.52,100.11 493.58,98.42 493.63,99.21 493.69,101.17 493.74,103.54 493.80,105.61 493.85,107.04 493.91,107.85 493.96,108.25 494.07,108.50 494.63,108.87 494.68,108.84 494.74,108.56 494.79,107.48 494.85,105.03 494.90,101.89 494.96,100.38 495.01,101.07 495.07,102.81 495.12,104.91 495.18,106.75 495.23,108.01 495.29,108.72 495.35,109.06 495.46,109.26 496.06,109.50 496.12,109.37 496.18,108.83 496.23,107.60 496.29,106.03 496.34,105.27 496.40,105.63 496.45,106.52 496.51,107.59 496.56,108.53 496.62,109.18 496.67,109.55 496.78,109.82 498.55,110.47 499.99,110.65 502.20,110.51 504.41,110.23 506.29,109.75 506.35,109.51 506.41,108.67 506.46,106.82 506.52,104.47 506.57,103.32 506.63,103.79 506.68,105.04 506.74,106.57 506.79,107.89 506.85,108.79 506.90,109.29 506.96,109.50 507.12,109.59 509.34,109.06 511.55,108.55 513.76,107.97 515.97,107.23 517.30,106.50 519.51,104.81 521.06,103.80 522.77,103.22 524.93,102.77 527.14,102.76 529.36,102.89 531.57,103.12 533.78,103.54 535.33,103.90 535.3,103.90 534.7,103.74 534.0,103.59 533.3,103.44 532.7,103.31 532.0,103.19 531.3,103.09 530.7,103.01 530.0,102.94 529.4,102.89 528.7,102.85 528.0,102.80 527.4,102.77 526.7,102.74 526.0,102.73 525.4,102.73 524.7,102.79 524.0,102.90 523.4,103.06 522.7,103.23 522.1,103.43 521.4,103.65 520.7,103.98 520.1,104.41 519.4,104.89 518.7,105.41 518.1,105.93 517.4,106.42 516.7,106.85 516.1,107.18 515.4,107.44 514.8,107.66 514.1,107.87 513.4,108.07 512.8,108.25 512.1,108.42 511.4,108.58 510.8,108.73 510.1,108.89 509.4,109.04 508.8,109.19 508.1,109.34 507.5,109.50 506.8,109.67 506.1,109.84 505.5,110.00 504.8,110.15 504.1,110.27 503.5,110.37 502.8,110.44 502.1,110.52 501.5,110.58 500.8,110.63 500.2,110.65 499.5,110.63 498.8,110.53 498.2,110.36 497.5,110.13 496.8,109.87 496.2,109.59 495.5,109.30 494.8,109.00 494.2,108.59 493.5,108.12 492.9,107.63 492.2,107.20 491.5,106.87 490.9,106.70 490.2,106.57 489.5,106.47 488.9,106.38 488.2,106.31 487.5,106.26 486.9,106.25 486.2,106.28 485.6,106.34 484.9,106.42 484.2,106.52 483.6,106.62 482.9,106.72 482.2,106.83 481.6,106.97 480.9,107.11 480.2,107.25 479.6,107.36 478.9,107.42 478.3,107.42 477.6,107.42 476.9,107.42 476.3,107.42 475.6,107.42 474.9,107.42 474.3,107.42 473.6,107.42 472.9,107.42 472.3,107.41 471.6,107.38 471.0,107.33 470.3,107.27 469.6,107.19 469.0,107.11 468.3,107.01 467.6,106.91 467.0,106.81 466.3,106.70 465.6,106.59 465.0,106.47 464.3,106.36 463.7,106.23 463.0,106.08 462.3,105.92 461.7,105.75 461.0,105.56 460.3,105.37 459.7,105.16 459.0,104.95 458.3,104.73 457.7,104.50 457.0,104.27 456.4,104.04 455.7,103.79 455.0,103.52 454.4,103.24 453.7,102.94 453.0,102.62 452.4,102.30 451.7,101.97 451.1,101.64 450.4,101.30 449.7,100.95 449.1,100.61 448.4,100.27 447.7,99.93 447.1,99.58 446.4,99.22 445.7,98.86 445.1,98.49 444.4,98.11 443.8,97.74 443.1,97.36 442.4,96.98 441.8,96.61 441.1,96.23 440.4,95.86 439.8,95.49 439.1,95.13 438.4,94.78 437.8,94.42 437.1,94.06 436.5,93.71 435.8,93.34 435.1,92.97 434.5,92.58 433.8,92.18 433.1,91.74 432.5,91.28 431.8,90.82 431.1,90.37 430.5,89.93 429.8,89.52 429.2,89.16 428.5,88.84 427.8,88.50 427.2,88.17 426.5,87.87 425.8,87.64 425.2,87.49 424.5,87.48 423.8,87.77 423.2,88.31 422.5,89.04 421.9,89.86 421.2,90.69 420.5,91.44 419.9,92.16 419.2,92.93 418.5,93.73 417.9,94.56 417.2,95.38 416.5,96.20 415.9,96.99 415.2,97.75 414.6,98.47 413.9,99.19 413.2,99.90 412.6,100.59 411.9,101.27 411.2,101.93 410.6,102.56 409.9,103.17 409.2,103.75 408.6,104.32 407.9,104.88 407.3,105.43 406.6,105.96 405.9,106.46 405.3,106.93 404.6,107.36 403.9,107.75 403.3,108.11 402.6,108.44 401.9,108.76 401.3,109.06 400.6,109.34 400.0,109.61 399.3,109.86 398.6,110.10 398.0,110.34 397.3,110.57 396.6,110.79 396.0,111.00 395.3,111.21 394.6,111.40 394.0,111.57 393.3,111.74 392.7,111.89 392.0,112.03 391.3,112.17 390.7,112.30 390.0,112.42 389.3,112.53 388.7,112.64 388.0,112.73"/>
</g>
<g>
<path class="ax" d="M26.60,148.26V265.69H181.44"/>
<text class="tl" x="22.00" y="258.05" text-anchor="end" textLength="2.9" lengthAdjust="spacingAndGlyphs">0</text>
<text class="tl" x="22.00" y="238.48" text-anchor="end" textLength="5.5" lengthAdjust="spacingAndGlyphs">20</text>
<text class="tl" x="22.00" y="218.91" text-anchor="end" textLength="5.5" lengthAdjust="spacingAndGlyphs">40</text>
<text class="tl" x="22.00" y="199.34" text-anchor="end" textLength="5.5" lengthAdjust="spacingAndGlyphs">60</text>
<text class="tl" x="22.00" y="179.77" text-anchor="end" textLength="5.5" lengthAdjust="spacingAndGlyphs">80</text>
<text class="tl" x="22.00" y="160.20" text-anchor="end" textLength="8.5" lengthAdjust="spacingAndGlyphs">100</text>
<text class="tl" x="43.69" y="275.19" text-anchor="middle" textLength="5.5" lengthAdjust="spacingAndGlyphs">10</text>
<text class="tl" x="71.34" y="275.19" text-anchor="middle" textLength="5.5" lengthAdjust="spacingAndGlyphs">20</text>
<text class="tl" x="98.99" y="275.19" text-anchor="middle" textLength="5.5" lengthAdjust="spacingAndGlyphs">30</text>
<text class="tl" x="126.64" y="275.19" text-anchor="middle" textLength="5.5" lengthAdjust="spacingAndGlyphs">40</text>
<text class="tl" x="154.29" y="275.19" text-anchor="middle" textLength="5.5" lengthAdjust="spacingAndGlyphs">50</text>
<text class="tl" x="181.94" y="275.19" text-anchor="middle" textLength="5.5" lengthAdjust="spacingAndGlyphs">60</text>
<path class="tk" d="M23.60,255.90H26.60M23.60,236.33H26.60M23.60,216.76H26.60M23.60,197.19H26.60M23.60,177.62H26.60M23.60,158.05H26.60M43.19,265.69v3.2M70.84,265.69v3.2M98.49,265.69v3.2M126.14,265.69v3.2M153.79,265.69v3.2M181.44,265.69v3.2"/>
<text class="t4" x="26.80" y="273.08" text-anchor="middle">4</text>
<text class="xl" x="104.02" y="286.58" text-anchor="middle" textLength="19.1" lengthAdjust="spacingAndGlyphs">t / min</text>
<text class="yl" transform="translate(10.40,206.97) rotate(-90)" text-anchor="middle" textLength="68.6" lengthAdjust="spacingAndGlyphs">Relative abundance / %</text>
<text class="tp" x="153.80" y="166.00">350°C</text>
<polygon class="bd" points="26.6,255.5 26.9,255.4 27.2,255.4 27.4,255.3 27.7,255.2 28.0,255.1 28.3,255.1 28.5,255.0 28.8,254.9 29.1,254.9 29.4,254.8 29.6,254.7 29.9,254.6 30.2,254.6 30.5,254.5 30.7,254.4 31.0,254.3 31.3,254.2 31.6,254.1 31.9,254.1 32.1,254.0 32.4,253.9 32.7,253.9 33.0,253.9 33.2,253.9 33.5,253.9 33.8,253.9 34.1,253.9 34.3,253.9 34.6,253.9 34.9,253.9 35.2,253.8 35.4,253.8 35.7,253.8 36.0,253.8 36.3,253.8 36.6,253.8 36.8,253.8 37.1,253.9 37.4,253.9 37.7,253.9 37.9,253.9 38.2,253.8 38.5,253.8 38.8,253.8 39.0,253.7 39.3,253.7 39.6,253.7 39.9,253.6 40.1,253.6 40.4,253.6 40.7,253.5 41.0,253.5 41.3,253.5 41.5,253.4 41.8,253.4 42.1,253.3 42.4,253.3 42.6,253.2 42.9,253.1 43.2,253.1 43.5,253.0 43.7,252.9 44.0,252.9 44.3,252.8 44.6,252.8 44.8,252.7 45.1,252.7 45.4,252.6 45.7,252.6 46.0,252.5 46.2,252.5 46.5,252.4 46.8,252.4 47.1,252.3 47.3,252.3 47.6,252.2 47.9,252.1 48.2,252.0 48.4,251.9 48.7,251.8 49.0,251.6 49.3,251.6 49.5,251.5 49.8,251.5 50.1,251.6 50.4,251.6 50.7,251.7 50.9,251.7 51.2,251.6 51.5,251.5 51.8,251.4 52.0,251.3 52.3,251.2 52.6,251.1 52.9,251.2 53.1,251.3 53.4,251.5 53.7,251.7 54.0,251.9 54.2,252.0 54.5,252.1 54.8,252.1 55.1,252.0 55.4,251.9 55.6,251.7 55.9,251.4 56.2,251.1 56.5,250.8 56.7,250.5 57.0,250.2 57.3,250.0 57.6,249.9 57.8,249.8 58.1,249.9 58.4,250.0 58.7,250.1 59.0,250.1 59.2,250.2 59.5,250.1 59.8,250.0 60.1,249.9 60.3,249.7 60.6,249.6 60.9,249.4 61.2,249.3 61.4,249.2 61.7,249.1 62.0,249.1 62.3,249.1 62.5,249.2 62.8,249.3 63.1,249.5 63.4,249.6 63.7,249.8 63.9,249.8 64.2,249.8 64.5,249.6 64.8,249.3 65.0,249.0 65.3,248.7 65.6,248.4 65.9,248.3 66.1,248.2 66.4,248.1 66.7,248.1 67.0,248.0 67.2,248.0 67.5,247.9 67.8,247.8 68.1,247.7 68.4,247.5 68.6,247.4 68.9,247.3 69.2,247.3 69.5,247.2 69.7,247.2 70.0,247.1 70.3,247.0 70.6,246.9 70.8,246.7 71.1,246.6 71.4,246.4 71.7,246.3 71.9,246.2 72.2,246.1 72.5,246.1 72.8,246.2 73.1,246.2 73.3,246.2 73.6,246.2 73.9,246.2 74.2,246.0 74.4,245.8 74.7,245.6 75.0,245.3 75.3,245.1 75.5,244.8 75.8,244.6 76.1,244.5 76.4,244.3 76.6,244.2 76.9,244.0 77.2,243.9 77.5,243.7 77.8,243.6 78.0,243.5 78.3,243.4 78.6,243.5 78.9,243.6 79.1,243.7 79.4,243.8 79.7,243.9 80.0,244.0 80.2,243.9 80.5,243.8 80.8,243.7 81.1,243.5 81.3,243.4 81.6,243.3 81.9,243.3 82.2,243.3 82.5,243.3 82.7,243.4 83.0,243.4 83.3,243.4 83.6,243.4 83.8,243.3 84.1,243.2 84.4,243.0 84.7,242.8 84.9,242.6 85.2,242.6 85.5,242.8 85.8,243.1 86.0,243.6 86.3,244.1 86.6,244.6 86.9,245.0 87.2,245.4 87.4,245.6 87.7,245.8 88.0,245.9 88.3,245.9 88.5,246.0 88.8,245.9 89.1,245.9 89.4,245.9 89.6,245.8 89.9,245.8 90.2,245.8 90.5,245.8 90.7,245.8 91.0,245.8 91.3,245.9 91.6,245.9 91.9,246.0 92.1,246.1 92.4,246.1 92.7,246.1 93.0,246.1 93.2,246.2 93.5,246.2 93.8,246.2 94.1,246.3 94.3,246.4 94.6,246.5 94.9,246.7 95.2,246.8 95.4,247.0 95.7,247.2 96.0,247.4 96.3,247.6 96.6,247.9 96.8,248.1 97.1,248.3 97.4,248.4 97.7,248.5 97.9,248.5 98.2,248.4 98.5,248.4 98.8,248.3 99.0,248.2 99.3,248.2 99.6,248.2 99.9,248.2 100.1,248.3 100.4,248.4 100.7,248.5 101.0,248.6 101.3,248.7 101.5,248.8 101.8,248.8 102.1,248.7 102.4,248.6 102.6,248.4 102.9,248.3 103.2,248.2 103.5,248.1 103.7,248.1 104.0,248.2 104.3,248.3 104.6,248.4 104.8,248.4 105.1,248.5 105.4,248.6 105.7,248.7 106.0,248.7 106.2,248.8 106.5,248.8 106.8,248.8 107.1,248.7 107.3,248.7 107.6,248.6 107.9,248.6 108.2,248.7 108.4,248.7 108.7,248.8 109.0,248.9 109.3,249.0 109.5,249.0 109.8,248.9 110.1,248.8 110.4,248.6 110.7,248.4 110.9,248.3 111.2,248.1 111.5,247.9 111.8,247.8 112.0,247.7 112.3,247.7 112.6,247.7 112.9,247.7 113.1,247.8 113.4,247.8 113.7,247.8 114.0,247.8 114.3,247.8 114.5,247.8 114.8,247.8 115.1,247.8 115.4,247.8 115.6,247.8 115.9,247.8 116.2,247.7 116.5,247.7 116.7,247.7 117.0,247.6 117.3,247.6 117.6,247.7 117.8,247.8 118.1,247.9 118.4,248.1 118.7,248.2 119.0,248.3 119.2,248.3 119.5,248.2 119.8,248.1 120.1,248.0 120.3,247.8 120.6,247.7 120.9,247.7 121.2,247.7 121.4,247.7 121.7,247.7 122.0,247.7 122.3,247.7 122.5,247.6 122.8,247.5 123.1,247.4 123.4,247.3 123.7,247.3 123.9,247.3 124.2,247.4 124.5,247.5 124.8,247.7 125.0,247.9 125.3,248.1 125.6,248.3 125.9,248.5 126.1,248.7 126.4,248.7 126.7,248.6 127.0,248.5 127.2,248.4 127.5,248.2 127.8,248.1 128.1,248.1 128.4,248.2 128.6,248.4 128.9,248.7 129.2,249.0 129.5,249.3 129.7,249.6 130.0,249.8 130.3,249.9 130.6,250.1 130.8,250.2 131.1,250.3 131.4,250.4 131.7,250.6 131.9,250.7 132.2,250.9 132.5,251.2 132.8,251.4 133.1,251.6 133.3,251.9 133.6,252.0 133.9,252.2 134.2,252.3 134.4,252.4 134.7,252.5 135.0,252.5 135.3,252.6 135.5,252.6 135.8,252.7 136.1,252.8 136.4,252.9 136.6,253.0 136.9,253.1 137.2,253.2 137.5,253.2 137.8,253.2 138.0,253.2 138.3,253.3 138.6,253.3 138.9,253.3 139.1,253.4 139.4,253.4 139.7,253.5 140.0,253.5 140.2,253.5 140.5,253.5 140.8,253.5 141.1,253.5 141.3,253.5 141.6,253.5 141.9,253.5 142.2,253.5 142.5,253.5 142.7,253.5 143.0,253.5 143.3,253.5 143.6,253.5 143.8,253.5 144.1,253.4 144.4,253.4 144.7,253.4 144.9,253.5 145.2,253.5 145.5,253.5 145.8,253.5 146.0,253.6 146.3,253.6 146.6,253.7 146.9,253.7 147.2,253.8 147.4,253.8 147.7,253.9 148.0,253.9 148.3,254.0 148.5,254.0 148.8,254.1 149.1,254.2 149.4,254.2 149.6,254.3 149.9,254.4 150.2,254.4 150.5,254.4 150.7,254.5 151.0,254.6 151.3,254.6 151.6,254.7 151.9,254.7 152.1,254.8 152.4,254.8 152.7,254.8 153.0,254.9 153.2,254.9 153.5,254.9 153.8,255.0 154.1,255.0 154.3,255.0 154.6,255.0 154.9,255.0 155.2,255.1 155.4,255.1 155.7,255.1 156.0,255.1 156.3,255.2 156.6,255.2 156.8,255.2 157.1,255.2 157.4,255.3 157.7,255.3 157.9,255.3 158.2,255.3 158.5,255.4 158.8,255.4 159.0,255.4 159.3,255.4 159.6,255.4 159.9,255.4 160.1,255.5 160.4,255.5 160.7,255.5 161.0,255.5 161.3,255.5 161.5,255.5 161.8,255.5 162.1,255.5 162.4,255.5 162.6,255.5 162.9,255.5 163.2,255.6 163.5,255.6 163.7,255.6 164.0,255.6 164.3,255.6 164.6,255.6 164.8,255.6 165.1,255.6 165.4,255.6 165.7,255.6 166.0,255.6 166.2,255.6 166.5,255.6 166.8,255.6 167.1,255.6 167.3,255.6 167.6,255.6 167.9,255.6 168.2,255.6 168.4,255.7 168.7,255.7 169.0,255.7 169.3,255.7 169.6,255.7 169.8,255.7 170.1,255.7 170.4,255.7 170.7,255.7 170.9,255.7 171.2,255.7 171.5,255.7 171.8,255.7 172.0,255.8 172.3,255.8 172.6,255.8 172.9,255.8 173.1,255.8 173.4,255.8 173.7,255.8 174.0,255.8 174.3,255.8 174.5,255.8 174.5,255.1 174.3,255.0 174.0,255.0 173.7,255.0 173.4,255.0 173.1,255.0 172.9,255.0 172.6,255.0 172.3,255.0 172.0,255.0 171.8,254.9 171.5,254.9 171.2,254.9 170.9,255.0 170.7,254.9 170.4,255.0 170.1,255.0 169.8,254.9 169.6,254.9 169.3,254.9 169.0,254.9 168.7,254.9 168.4,254.9 168.2,254.8 167.9,254.9 167.6,254.9 167.3,254.9 167.1,254.9 166.8,254.8 166.5,254.9 166.2,254.9 166.0,254.8 165.7,254.8 165.4,254.8 165.1,254.8 164.8,254.8 164.6,254.8 164.3,254.7 164.0,254.7 163.7,254.7 163.5,254.7 163.2,254.6 162.9,254.5 162.6,254.7 162.4,254.6 162.1,254.7 161.8,254.7 161.5,254.7 161.3,254.7 161.0,254.7 160.7,254.7 160.4,254.7 160.1,254.7 159.9,254.6 159.6,254.7 159.3,254.6 159.0,254.6 158.8,254.6 158.5,254.5 158.2,254.5 157.9,254.5 157.7,254.5 157.4,254.3 157.1,254.3 156.8,254.2 156.6,254.4 156.3,254.2 156.0,254.2 155.7,254.3 155.4,254.3 155.2,254.3 154.9,254.2 154.6,254.2 154.3,254.0 154.1,254.1 153.8,254.1 153.5,254.0 153.2,254.0 153.0,254.0 152.7,253.9 152.4,253.9 152.1,253.9 151.9,253.9 151.6,253.8 151.3,253.7 151.0,253.5 150.7,253.7 150.5,253.5 150.2,253.4 149.9,253.6 149.6,253.4 149.4,253.3 149.1,253.4 148.8,253.1 148.5,253.1 148.3,253.1 148.0,252.6 147.7,252.8 147.4,252.6 147.2,252.6 146.9,252.9 146.6,252.8 146.3,252.8 146.0,252.6 145.8,252.5 145.5,252.4 145.2,252.3 144.9,252.4 144.7,252.4 144.4,252.5 144.1,252.3 143.8,252.1 143.6,252.5 143.3,252.5 143.0,252.4 142.7,252.3 142.5,252.5 142.2,252.4 141.9,252.4 141.6,252.2 141.3,252.2 141.1,252.6 140.8,252.1 140.5,252.4 140.2,252.6 140.0,252.4 139.7,252.6 139.4,252.5 139.1,252.5 138.9,252.4 138.6,252.2 138.3,251.8 138.0,251.6 137.8,251.9 137.5,251.8 137.2,251.9 136.9,251.4 136.6,251.6 136.4,250.9 136.1,250.7 135.8,250.9 135.5,251.3 135.3,250.3 135.0,250.7 134.7,251.0 134.4,250.9 134.2,250.8 133.9,250.6 133.6,250.1 133.3,250.6 133.1,250.0 132.8,249.3 132.5,249.0 132.2,248.7 131.9,248.6 131.7,248.6 131.4,247.0 131.1,247.4 130.8,246.8 130.6,247.7 130.3,247.8 130.0,248.1 129.7,247.0 129.5,247.5 129.2,246.7 128.9,245.1 128.6,243.5 128.4,245.1 128.1,243.7 127.8,246.0 127.5,246.0 127.2,244.2 127.0,244.6 126.7,243.1 126.4,244.6 126.1,242.3 125.9,244.1 125.6,245.3 125.3,246.6 125.0,246.1 124.8,245.6 124.5,244.3 124.2,244.9 123.9,243.5 123.7,244.5 123.4,245.6 123.1,245.5 122.8,246.0 122.5,245.5 122.3,246.2 122.0,246.3 121.7,245.2 121.4,245.4 121.2,245.5 120.9,246.1 120.6,246.8 120.3,246.9 120.1,247.1 119.8,247.0 119.5,247.2 119.2,246.4 119.0,246.1 118.7,246.2 118.4,246.3 118.1,245.4 117.8,246.3 117.6,245.4 117.3,245.6 117.0,246.5 116.7,245.8 116.5,246.3 116.2,245.4 115.9,246.4 115.6,245.2 115.4,245.7 115.1,246.2 114.8,246.6 114.5,246.4 114.3,246.2 114.0,245.4 113.7,246.3 113.4,246.5 113.1,245.3 112.9,245.8 112.6,244.9 112.3,245.2 112.0,245.8 111.8,245.1 111.5,245.9 111.2,246.7 110.9,246.7 110.7,247.2 110.4,246.9 110.1,247.3 109.8,247.5 109.5,247.9 109.3,247.8 109.0,248.0 108.7,247.6 108.4,247.7 108.2,247.3 107.9,246.9 107.6,247.4 107.3,246.5 107.1,245.8 106.8,245.4 106.5,246.9 106.2,244.6 106.0,244.9 105.7,245.6 105.4,245.0 105.1,247.0 104.8,246.8 104.6,246.5 104.3,246.0 104.0,246.7 103.7,245.8 103.5,246.1 103.2,246.6 102.9,246.6 102.6,247.4 102.4,247.0 102.1,247.2 101.8,246.9 101.5,247.0 101.3,246.4 101.0,246.1 100.7,245.6 100.4,246.6 100.1,246.6 99.9,245.6 99.6,245.6 99.3,245.8 99.0,245.0 98.8,244.7 98.5,245.6 98.2,243.8 97.9,244.6 97.7,244.9 97.4,245.4 97.1,245.9 96.8,244.8 96.6,244.4 96.3,243.4 96.0,243.9 95.7,245.8 95.4,245.2 95.2,245.5 94.9,245.4 94.6,245.4 94.3,245.4 94.1,244.6 93.8,243.5 93.5,242.9 93.2,244.1 93.0,244.4 92.7,243.5 92.4,244.4 92.1,243.7 91.9,244.1 91.6,242.8 91.3,242.6 91.0,242.8 90.7,243.1 90.5,244.1 90.2,242.8 89.9,242.5 89.6,243.5 89.4,244.1 89.1,243.9 88.8,243.7 88.5,244.0 88.3,243.2 88.0,243.1 87.7,242.3 87.4,243.5 87.2,241.1 86.9,242.1 86.6,240.8 86.3,239.7 86.0,239.3 85.8,239.4 85.5,240.4 85.2,238.8 84.9,241.3 84.7,241.2 84.4,241.2 84.1,241.5 83.8,241.1 83.6,240.6 83.3,239.5 83.0,238.3 82.7,235.4 82.5,236.0 82.2,237.4 81.9,240.4 81.6,237.8 81.3,240.8 81.1,238.7 80.8,238.1 80.5,239.7 80.2,238.7 80.0,239.5 79.7,242.0 79.4,241.8 79.1,242.0 78.9,240.4 78.6,240.2 78.3,240.4 78.0,239.4 77.8,241.5 77.5,240.0 77.2,242.2 76.9,240.8 76.6,242.2 76.4,242.2 76.1,242.9 75.8,242.8 75.5,243.2 75.3,243.4 75.0,243.9 74.7,243.9 74.4,242.7 74.2,242.7 73.9,240.5 73.6,241.9 73.3,243.6 73.1,239.8 72.8,243.4 72.5,241.3 72.2,242.6 71.9,241.8 71.7,244.0 71.4,242.8 71.1,243.5 70.8,244.7 70.6,244.1 70.3,242.9 70.0,243.3 69.7,244.3 69.5,243.9 69.2,245.1 68.9,245.6 68.6,246.0 68.4,245.9 68.1,245.6 67.8,245.9 67.5,246.0 67.2,246.1 67.0,245.6 66.7,245.6 66.4,245.0 66.1,245.0 65.9,246.5 65.6,243.6 65.3,245.7 65.0,244.4 64.8,244.8 64.5,245.7 64.2,247.1 63.9,247.2 63.7,247.0 63.4,247.8 63.1,246.5 62.8,246.9 62.5,246.8 62.3,246.9 62.0,246.6 61.7,246.3 61.4,246.2 61.2,246.8 60.9,247.0 60.6,247.1 60.3,248.0 60.1,247.2 59.8,247.7 59.5,248.7 59.2,248.5 59.0,247.5 58.7,247.3 58.4,245.1 58.1,246.4 57.8,246.5 57.6,246.5 57.3,245.8 57.0,247.9 56.7,247.4 56.5,249.0 56.2,248.5 55.9,249.8 55.6,250.0 55.4,250.5 55.1,250.3 54.8,250.1 54.5,249.9 54.2,250.1 54.0,250.1 53.7,250.2 53.4,250.2 53.1,250.3 52.9,249.8 52.6,249.7 52.3,248.7 52.0,248.8 51.8,249.8 51.5,248.9 51.2,250.0 50.9,249.3 50.7,249.5 50.4,250.1 50.1,250.0 49.8,250.1 49.5,249.6 49.3,249.5 49.0,249.6 48.7,249.8 48.4,249.9 48.2,249.9 47.9,251.0 47.6,251.1 47.3,251.1 47.1,250.7 46.8,251.4 46.5,251.4 46.2,251.5 46.0,251.6 45.7,251.3 45.4,251.4 45.1,250.8 44.8,250.9 44.6,251.5 44.3,251.2 44.0,251.4 43.7,251.8 43.5,251.9 43.2,252.0 42.9,251.8 42.6,252.1 42.4,252.4 42.1,252.5 41.8,252.5 41.5,252.6 41.3,252.7 41.0,252.7 40.7,252.8 40.4,252.8 40.1,252.8 39.9,252.9 39.6,252.9 39.3,252.8 39.0,252.8 38.8,252.8 38.5,252.9 38.2,253.0 37.9,252.9 37.7,253.1 37.4,253.0 37.1,253.0 36.8,253.0 36.6,252.8 36.3,252.8 36.0,252.7 35.7,252.8 35.4,252.8 35.2,252.8 34.9,252.8 34.6,253.1 34.3,253.0 34.1,253.1 33.8,253.0 33.5,252.8 33.2,252.9 33.0,252.8 32.7,252.9 32.4,253.0 32.1,253.1 31.9,253.2 31.6,253.3 31.3,253.4 31.0,253.4 30.7,253.6 30.5,253.7 30.2,253.7 29.9,253.8 29.6,253.8 29.4,254.0 29.1,253.9 28.8,254.1 28.5,254.1 28.3,254.2 28.0,254.3 27.7,254.4 27.4,254.4 27.2,254.5 26.9,254.5 26.6,254.6"/>
<path class="gr" d="M26.60,255.1v-0.2M27.40,254.9v-0.4M27.79,254.8v-0.2M28.13,254.7v-0.2M28.37,254.7v-0.8M29.11,254.5v-0.2M29.23,254.5v-0.2M29.65,254.4v-0.3M29.85,254.3v-0.4M30.15,254.2v-0.2M30.47,254.1v-0.2M30.88,254.0v-0.2M32.08,253.6v-0.3M32.42,253.6v-0.4M32.59,253.5v-0.4M32.87,253.5v-0.2M33.41,253.5v-0.3M33.62,253.5v-0.5M34.14,253.5v-0.4M34.77,253.5v-0.2M35.41,253.5v-0.2M35.80,253.5v-0.7M36.05,253.5v-0.2M36.32,253.5v-0.3M36.60,253.5v-0.5M36.87,253.5v-0.2M37.57,253.5v-0.6M37.91,253.5v-0.3M38.14,253.4v-0.5M38.70,253.4v-0.2M38.97,253.4v-0.4M39.68,253.3v-0.2M39.92,253.3v-0.4M40.28,253.2v-0.3M40.47,253.2v-0.3M41.20,253.1v-0.5M41.74,253.0v-0.5M42.04,252.9v-0.3M42.36,252.9v-0.2M42.82,252.8v-0.4M42.95,252.7v-0.2M43.29,252.6v-1.9M43.67,252.6v-0.2M43.94,252.5v-0.9M44.13,252.5v-0.2M44.53,252.4v-0.7M44.80,252.3v-1.2M45.21,252.2v-0.7M45.43,252.2v-0.6M45.65,252.1v-0.2M46.07,252.0v-2.1M46.35,252.0v-0.6M46.64,251.9v-1.5M47.07,251.8v-0.4M47.16,251.8v-0.2M47.55,251.7v-0.6M47.88,251.7v-1.5M48.29,251.6v-2.9M48.61,251.5v-0.2M48.78,251.5v-0.2M49.06,251.4v-0.4M49.45,251.4v-0.7M49.62,251.3v-2.3M49.90,251.3v-0.3M50.27,251.2v-0.9M50.65,251.2v-0.6M51.02,251.1v-0.3M51.15,251.1v-1.6M51.57,251.0v-1.4M51.88,251.0v-0.7M52.12,250.9v-0.3M52.52,250.8v-0.7M52.68,250.8v-0.5M52.99,250.8v-0.3M53.38,250.7v-0.9M53.61,250.6v-2.0M54.09,250.6v-8.5M54.36,250.5v-1.1M54.69,250.4v-0.7M54.87,250.4v-0.3M55.16,250.3v-0.5M55.61,250.2v-1.3M55.76,250.1v-0.7M56.01,250.1v-0.4M56.44,250.0v-0.5M56.70,249.9v-0.3M57.06,249.8v-0.4M57.33,249.7v-3.9M57.68,249.6v-3.5M57.90,249.5v-1.2M58.15,249.5v-0.3M58.49,249.4v-0.3M58.87,249.3v-1.2M59.11,249.2v-2.6M59.37,249.1v-1.0M59.72,249.1v-7.8M60.10,249.0v-0.6M60.38,248.9v-8.4M60.64,248.9v-1.8M61.00,248.8v-0.9M61.26,248.8v-0.8M61.66,248.7v-0.5M61.77,248.7v-1.4M62.09,248.6v-0.9M62.59,248.6v-2.3M62.84,248.5v-2.8M63.16,248.5v-1.5M63.43,248.4v-1.5M63.61,248.4v-1.9M64.07,248.3v-2.0M64.37,248.3v-0.8M64.59,248.2v-0.6M64.87,248.2v-1.7M65.18,248.1v-0.5M65.59,248.0v-0.6M65.81,248.0v-0.4M66.17,247.9v-2.7M66.45,247.8v-2.2M66.85,247.7v-0.9M67.09,247.7v-1.0M67.41,247.6v-0.6M67.63,247.5v-0.4M67.98,247.4v-0.4M68.28,247.4v-0.3M68.51,247.3v-1.5M68.92,247.2v-1.0M69.26,247.1v-0.8M69.50,247.0v-0.7M69.73,247.0v-1.3M70.09,246.8v-3.7M70.45,246.7v-4.8M70.74,246.6v-1.4M71.12,246.5v-4.5M71.19,246.5v-0.5M71.71,246.3v-1.1M71.86,246.2v-0.7M72.13,246.1v-0.4M72.43,246.0v-1.9M72.79,245.8v-3.7M73.13,245.7v-1.5M73.32,245.6v-0.6M73.71,245.4v-0.7M74.09,245.2v-1.3M74.44,245.0v-0.5M74.75,244.9v-0.8M74.98,244.8v-3.5M75.16,244.7v-0.9M75.48,244.5v-1.7M75.84,244.4v-2.6M76.27,244.2v-1.7M76.45,244.1v-0.4M76.70,244.0v-3.4M77.02,243.9v-1.3M77.48,243.7v-2.0M77.72,243.6v-0.6M77.97,243.4v-0.7M78.23,243.3v-0.5M78.50,243.2v-8.6M78.90,243.0v-0.6M79.18,242.9v-0.7M79.47,242.8v-0.4M79.75,242.8v-1.3M80.03,242.7v-1.0M80.52,242.7v-2.0M80.80,242.7v-0.6M80.94,242.7v-3.4M81.26,242.7v-1.4M81.56,242.7v-0.5M81.84,242.8v-1.1M82.29,242.8v-0.5M82.59,242.8v-1.1M82.91,242.9v-0.8M83.18,242.9v-0.6M83.52,243.0v-0.6M83.88,243.0v-0.7M84.01,243.1v-2.1M84.42,243.1v-0.5M84.79,243.2v-1.4M84.95,243.2v-7.7M85.21,243.3v-0.7M85.60,243.4v-4.4M85.98,243.5v-0.4M86.16,243.6v-3.7M86.46,243.7v-0.5M86.89,243.8v-1.6M87.14,243.9v-0.6M87.33,244.0v-2.1M87.72,244.1v-0.5M87.94,244.2v-0.5M88.40,244.4v-0.4M88.56,244.5v-1.4M89.06,244.7v-0.6M89.18,244.8v-2.4M89.53,244.9v-1.1M89.90,245.0v-1.4M90.23,245.1v-4.4M90.39,245.2v-1.0M90.81,245.4v-1.2M91.12,245.5v-0.8M91.46,245.6v-1.6M91.73,245.7v-0.4M91.94,245.8v-0.8M92.32,245.9v-2.1M92.55,246.0v-1.0M92.95,246.2v-2.6M93.12,246.3v-0.3M93.40,246.4v-4.6M93.70,246.5v-3.5M94.21,246.7v-0.5M94.33,246.7v-0.5M94.62,246.8v-3.1M95.14,246.9v-0.4M95.46,247.0v-0.3M95.54,247.0v-0.3M95.95,247.1v-2.1M96.37,247.2v-0.3M96.48,247.3v-1.6M96.82,247.3v-0.3M97.23,247.4v-0.8M97.54,247.5v-1.0M97.78,247.6v-1.1M98.10,247.6v-0.3M98.34,247.7v-0.3M98.63,247.7v-2.0M99.06,247.8v-3.1M99.33,247.9v-0.4M99.50,247.9v-0.4M99.95,247.9v-1.0M100.20,248.0v-1.1M100.61,248.0v-0.8M100.84,248.0v-0.4M101.08,248.1v-1.1M101.46,248.1v-1.4M101.62,248.1v-0.4M102.04,248.1v-0.3M102.29,248.1v-0.3M102.73,248.2v-0.8M102.93,248.2v-0.3M103.23,248.2v-11.1M103.53,248.2v-0.3M103.86,248.2v-0.3M104.13,248.2v-2.2M104.35,248.2v-3.4M104.83,248.2v-1.1M105.04,248.2v-0.3M105.37,248.3v-2.6M105.76,248.3v-0.8M105.94,248.3v-0.6M106.36,248.3v-0.3M106.50,248.3v-4.7M106.79,248.3v-0.3M107.20,248.3v-5.9M107.50,248.3v-0.4M107.91,248.3v-2.6M108.21,248.3v-1.5M108.52,248.2v-1.7M108.77,248.2v-0.8M109.05,248.2v-1.0M109.42,248.2v-1.3M109.67,248.2v-1.2M109.90,248.2v-0.3M110.25,248.2v-0.6M110.57,248.2v-1.4M110.90,248.1v-2.8M111.14,248.1v-0.4M111.50,248.1v-1.0M111.78,248.1v-1.0M111.98,248.1v-0.8M112.26,248.1v-0.6M112.61,248.1v-0.8M112.89,248.0v-1.9M113.16,248.0v-0.6M113.62,248.0v-3.1M113.80,247.9v-5.3M114.26,247.9v-5.0M114.56,247.8v-0.4M114.90,247.8v-1.6M115.15,247.7v-0.3M115.31,247.7v-1.0M115.69,247.6v-1.0M115.92,247.6v-3.0M116.35,247.5v-1.1M116.72,247.5v-0.8M117.05,247.4v-2.0M117.36,247.4v-2.8M117.58,247.3v-0.4M117.93,247.3v-1.8M118.05,247.3v-0.7M118.54,247.2v-1.0M118.69,247.2v-0.5M119.16,247.1v-0.4M119.25,247.1v-2.0M119.66,247.0v-0.3M120.09,246.9v-2.1M120.37,246.8v-1.0M120.68,246.8v-0.7M120.77,246.8v-0.6M121.13,246.7v-0.5M121.53,246.7v-0.3M121.92,246.6v-1.5M122.09,246.6v-0.5M122.46,246.5v-2.9M122.74,246.5v-0.5M122.93,246.5v-2.4M123.26,246.5v-1.7M123.68,246.5v-1.3M123.84,246.5v-0.6M124.19,246.5v-1.7M124.51,246.6v-1.5M124.79,246.6v-6.3M125.17,246.6v-1.7M125.51,246.7v-0.8M125.68,246.7v-2.2M125.99,246.8v-1.9M126.47,246.9v-0.3M126.64,246.9v-0.4M127.01,247.0v-0.4M127.27,247.0v-1.3M127.61,247.1v-0.4M127.80,247.2v-1.1M128.20,247.4v-0.4M128.49,247.6v-1.2M128.68,247.7v-1.1M129.18,248.2v-0.4M129.35,248.4v-0.4M129.59,248.6v-0.9M130.11,249.2v-0.5M130.35,249.4v-0.3M130.69,249.7v-0.5M130.97,250.0v-4.0M131.14,250.1v-1.6M131.56,250.4v-1.5M131.82,250.6v-2.2M132.02,250.7v-3.2M132.51,251.0v-2.8M132.77,251.2v-2.5M133.06,251.3v-0.4M133.32,251.5v-0.2M133.66,251.7v-0.6M133.85,251.7v-1.1M134.33,252.0v-0.5M134.54,252.1v-0.3M134.98,252.2v-0.2M135.21,252.3v-0.7M135.48,252.4v-0.5M135.79,252.5v-1.2M136.14,252.5v-2.2M136.38,252.6v-2.2M136.60,252.6v-0.9M137.10,252.7v-0.6M137.38,252.8v-0.5M137.68,252.8v-1.7M138.02,252.9v-0.2M138.24,252.9v-0.2M138.51,252.9v-0.2M138.88,253.0v-1.2M139.19,253.0v-0.3M139.55,253.0v-1.2M139.64,253.0v-0.2M140.02,253.1v-0.5M140.62,253.1v-0.3M140.90,253.1v-0.5M141.18,253.1v-5.2M141.63,253.1v-0.2M141.90,253.1v-1.2M142.24,253.1v-0.2M142.51,253.1v-0.4M142.80,253.1v-1.3M143.03,253.1v-0.4M143.30,253.1v-0.3M143.71,253.1v-1.6M144.35,253.1v-0.2M144.66,253.1v-0.3M145.94,253.2v-0.2M146.13,253.2v-0.2M146.34,253.2v-0.5M146.95,253.3v-0.4M147.97,253.6v-0.2M149.27,253.9v-0.2M150.09,254.0v-0.3M150.58,254.1v-1.0M151.51,254.3v-0.3M151.94,254.4v-0.2M152.13,254.4v-0.3M152.74,254.5v-0.3M153.34,254.6v-0.4M154.14,254.7v-0.2M154.59,254.7v-0.9M155.37,254.8v-0.5M155.46,254.8v-0.4M156.37,254.8v-0.4M156.80,254.9v-0.2M156.99,254.9v-0.4M158.52,255.0v-0.2M159.78,255.0v-0.5M160.74,255.1v-0.5M160.98,255.1v-0.2M161.59,255.1v-1.0M161.85,255.1v-0.3M162.58,255.1v-0.2M162.91,255.1v-0.4M163.88,255.2v-0.2M164.00,255.2v-1.1M164.80,255.2v-0.9M164.98,255.2v-0.2M165.81,255.2v-0.2M166.26,255.3v-0.8M167.66,255.3v-0.2M170.72,255.4v-0.4M171.05,255.4v-0.2M172.36,255.4v-0.3M172.85,255.4v-0.2M173.44,255.4v-0.4M173.85,255.4v-0.3M174.16,255.4v-0.3M174.37,255.4v-0.7"/>
<polygon class="tr" points="26.60,255.12 28.81,254.57 29.70,254.31 29.75,254.19 29.86,253.62 29.92,253.45 30.03,253.65 30.19,254.09 30.42,254.13 32.63,253.53 34.78,253.45 37.00,253.44 37.38,253.26 37.60,252.86 37.77,252.29 37.99,251.13 38.21,249.84 38.32,249.36 38.43,249.09 38.60,249.10 38.82,249.50 39.15,250.61 39.54,251.94 39.82,252.59 40.15,252.99 40.65,253.12 42.86,252.75 44.30,252.35 44.46,252.14 44.57,251.82 44.68,251.27 44.79,250.40 44.90,249.18 45.18,245.34 45.24,244.69 45.29,244.18 45.35,243.84 45.40,243.67 45.51,243.64 45.68,243.97 45.90,244.78 46.12,245.88 46.51,248.44 46.73,249.62 46.90,250.24 47.01,250.45 47.12,250.39 47.23,250.01 47.50,248.31 47.56,248.12 47.61,248.07 47.72,248.22 47.89,248.81 48.22,250.39 48.39,250.94 48.61,251.32 48.94,251.42 49.16,251.29 49.33,250.91 49.49,250.10 49.66,249.08 49.77,248.63 49.88,248.58 50.05,248.89 50.49,250.42 50.71,250.87 51.04,251.06 51.37,250.99 51.48,250.83 51.54,250.65 51.60,250.36 51.65,249.88 51.71,249.15 51.76,248.09 51.82,246.60 51.87,244.64 51.93,242.21 51.98,239.35 52.09,233.03 52.15,230.09 52.20,227.69 52.26,226.12 52.31,225.57 52.37,225.78 52.43,226.43 52.48,227.48 52.54,228.88 52.59,230.56 52.65,232.44 52.81,238.47 52.87,240.38 52.92,242.14 52.98,243.73 53.03,245.12 53.09,246.31 53.14,247.27 53.20,247.87 53.25,247.78 53.31,246.63 53.37,244.90 53.42,244.16 53.48,244.81 53.53,246.11 53.59,247.60 53.64,248.88 53.70,249.75 53.75,250.23 53.81,250.46 53.97,250.57 54.80,250.37 54.91,250.23 54.97,250.06 55.02,249.79 55.08,249.39 55.25,247.68 55.30,247.26 55.36,247.09 55.41,247.14 55.52,247.57 55.80,249.25 55.91,249.68 56.07,249.95 56.52,249.93 56.74,249.84 56.79,249.69 56.85,249.20 56.90,248.14 56.96,246.78 57.01,246.12 57.07,246.38 57.13,247.09 57.18,247.95 57.24,248.70 57.29,249.21 57.35,249.48 57.46,249.63 58.12,249.44 58.23,249.25 58.29,248.95 58.34,248.32 58.40,247.13 58.45,245.12 58.51,242.07 58.56,238.04 58.62,233.42 58.67,229.00 58.73,225.78 58.78,224.59 58.84,225.03 58.90,226.20 58.95,227.10 59.01,225.36 59.06,218.48 59.12,208.87 59.17,205.51 59.23,210.54 59.28,219.29 59.34,229.06 59.39,237.37 59.45,243.08 59.50,246.34 59.56,247.93 59.61,248.61 59.67,248.87 59.78,249.01 60.61,248.84 60.66,248.58 60.72,247.72 60.78,245.82 60.83,243.39 60.89,242.20 60.94,242.70 61.00,244.00 61.05,245.58 61.11,246.95 61.16,247.89 61.22,248.41 61.27,248.64 61.44,248.74 61.72,248.62 61.77,248.51 61.83,248.27 61.88,247.81 61.94,247.05 61.99,245.89 62.05,244.36 62.16,240.94 62.21,239.72 62.27,239.27 62.32,239.44 62.38,239.97 62.43,240.78 62.54,242.90 62.66,245.04 62.71,245.94 62.77,246.68 62.82,247.25 62.88,247.68 62.99,248.17 63.15,248.41 63.98,248.30 64.09,248.10 64.15,247.77 64.20,247.08 64.26,245.76 64.31,243.52 64.37,240.14 64.43,235.64 64.48,230.50 64.54,225.58 64.59,222.00 64.65,220.67 64.70,221.16 64.76,222.33 64.81,222.60 64.87,218.05 64.92,204.58 64.98,186.45 65.03,179.09 65.09,186.27 65.14,200.03 65.20,215.79 65.25,229.31 65.31,238.58 65.37,243.83 65.42,246.34 65.48,247.38 65.53,247.77 65.64,247.95 66.08,247.90 66.14,247.83 66.19,247.54 66.25,246.56 66.31,244.38 66.36,241.60 66.42,240.24 66.47,240.81 66.53,242.30 66.58,244.10 66.64,245.67 66.69,246.74 66.75,247.32 66.80,247.59 66.91,247.70 67.19,247.61 67.30,247.40 67.36,247.11 67.41,246.57 67.47,245.65 67.52,244.27 67.58,242.44 67.69,238.34 67.74,236.88 67.80,236.33 67.85,236.54 67.91,237.16 67.96,238.13 68.02,239.33 68.13,241.97 68.19,243.20 68.24,244.27 68.30,245.15 68.35,245.84 68.41,246.34 68.46,246.69 68.57,247.07 68.74,247.21 69.62,246.96 69.73,246.71 69.79,246.33 69.84,245.52 69.90,243.99 69.96,241.38 70.01,237.45 70.07,232.24 70.12,226.26 70.18,220.56 70.23,216.39 70.29,214.80 70.34,215.01 70.40,214.58 70.45,209.49 70.51,195.44 70.56,176.87 70.62,169.79 70.67,178.05 70.73,193.22 70.78,210.44 70.84,225.23 70.90,235.44 70.95,241.33 71.01,244.24 71.06,245.53 71.12,246.06 71.17,246.28 71.34,246.40 71.39,246.32 71.45,245.94 71.50,244.64 71.56,241.78 71.61,238.12 71.67,236.33 71.72,237.07 71.78,239.01 71.84,241.38 71.89,243.44 71.95,244.84 72.00,245.60 72.06,245.94 72.17,246.07 72.72,245.80 72.78,245.70 72.83,245.50 72.89,245.10 72.94,244.36 73.00,243.11 73.05,241.23 73.11,238.75 73.16,235.91 73.22,233.19 73.27,231.20 73.33,230.46 73.38,230.73 73.44,231.57 73.49,232.87 73.55,234.49 73.66,238.05 73.72,239.70 73.77,241.14 73.83,242.33 73.88,243.25 73.94,243.92 73.99,244.39 74.05,244.69 74.16,244.99 74.38,245.04 75.04,244.69 75.10,244.59 75.15,244.35 75.21,243.81 75.26,242.68 75.32,240.56 75.37,236.94 75.43,231.48 75.49,224.25 75.54,215.96 75.60,208.04 75.65,202.27 75.71,200.13 75.76,200.93 75.82,203.00 75.87,204.54 75.93,201.10 75.98,188.05 76.04,169.91 76.09,163.43 76.15,172.66 76.20,188.83 76.26,206.95 76.31,222.39 76.37,232.98 76.43,239.02 76.48,241.96 76.54,243.22 76.59,243.71 76.65,243.89 76.81,243.96 76.92,243.82 76.98,243.31 77.03,241.57 77.09,237.74 77.14,232.85 77.20,230.46 77.25,231.46 77.31,234.06 77.37,237.23 77.42,239.99 77.48,241.86 77.53,242.89 77.59,243.35 77.64,243.51 77.92,243.45 78.03,243.33 78.08,243.18 78.14,242.88 78.19,242.35 78.25,241.45 78.31,240.11 78.36,238.34 78.47,234.37 78.53,232.95 78.58,232.42 78.64,232.61 78.69,233.20 78.75,234.12 78.80,235.27 78.91,237.80 78.97,238.98 79.02,240.00 79.08,240.84 79.13,241.50 79.19,241.98 79.25,242.31 79.36,242.67 79.58,242.80 79.91,242.70 79.96,242.60 80.02,242.34 80.08,241.74 80.13,240.46 80.19,238.02 80.24,233.85 80.30,227.56 80.35,219.20 80.41,209.62 80.46,200.47 80.52,193.81 80.57,191.32 80.63,191.99 80.68,193.01 80.74,190.80 80.79,181.47 80.85,168.52 80.90,165.39 80.96,175.13 81.02,190.43 81.07,207.08 81.13,221.21 81.18,231.06 81.24,236.89 81.29,239.93 81.35,241.39 81.40,242.07 81.46,242.40 81.57,242.64 81.62,242.59 81.68,242.10 81.73,240.28 81.79,236.22 81.84,231.03 81.90,228.50 81.96,229.60 82.01,232.42 82.07,235.84 82.12,238.82 82.18,240.86 82.23,242.00 82.29,242.52 82.34,242.73 82.62,242.85 83.01,242.82 83.06,242.71 83.12,242.46 83.17,241.96 83.23,241.11 83.28,239.83 83.34,238.11 83.45,234.27 83.50,232.91 83.56,232.42 83.61,232.63 83.67,233.25 83.72,234.19 83.78,235.35 83.89,237.90 83.95,239.09 84.00,240.12 84.06,240.98 84.11,241.65 84.17,242.15 84.22,242.51 84.33,242.91 84.50,243.07 84.55,243.01 84.61,242.78 84.66,242.22 84.72,240.99 84.78,238.63 84.83,234.59 84.89,228.47 84.94,220.34 85.00,211.02 85.05,202.13 85.11,195.65 85.16,193.28 85.22,194.22 85.27,196.64 85.33,198.62 85.38,195.50 85.44,182.41 85.49,164.03 85.55,157.76 85.61,167.78 85.66,184.97 85.72,204.12 85.77,220.41 85.83,231.60 85.88,238.02 85.94,241.17 85.99,242.56 86.05,243.13 86.10,243.37 86.27,243.58 86.55,243.69 86.60,243.63 86.66,243.24 86.71,241.79 86.77,238.56 86.82,234.42 86.88,232.42 86.93,233.31 86.99,235.58 87.04,238.33 87.10,240.73 87.15,242.38 87.21,243.31 87.26,243.74 87.32,243.92 87.82,244.19 87.98,244.18 88.04,243.84 88.09,242.58 88.15,239.75 88.20,236.12 88.26,234.37 88.31,235.16 88.37,237.16 88.43,239.57 88.48,241.68 88.54,243.13 88.59,243.95 88.65,244.33 88.76,244.56 89.09,244.67 89.14,244.60 89.20,244.38 89.25,243.83 89.31,242.62 89.37,240.28 89.42,236.28 89.48,230.21 89.53,222.14 89.59,212.89 89.64,204.06 89.70,197.62 89.75,195.23 89.81,195.87 89.86,196.75 89.92,194.13 89.97,184.00 90.03,170.07 90.08,166.37 90.14,176.12 90.19,191.71 90.25,208.77 90.31,223.29 90.36,233.40 90.42,239.36 90.47,242.46 90.53,243.94 90.58,244.64 90.64,244.98 90.75,245.26 91.25,245.52 91.30,245.48 91.36,245.16 91.41,243.98 91.47,241.34 91.52,237.96 91.58,236.33 91.63,237.07 91.69,238.93 91.74,241.18 91.80,243.15 91.85,244.50 91.91,245.26 91.96,245.62 92.08,245.84 92.68,246.04 92.74,245.85 92.79,245.11 92.85,243.43 92.90,241.28 92.96,240.24 93.02,240.72 93.07,241.92 93.13,243.36 93.18,244.63 93.24,245.50 93.29,245.99 93.35,246.22 93.46,246.37 93.57,246.32 93.62,246.16 93.68,245.74 93.73,244.83 93.79,243.06 93.84,240.02 93.90,235.42 93.96,229.30 94.01,222.29 94.07,215.59 94.12,210.71 94.18,208.93 94.23,209.65 94.29,211.45 94.34,212.74 94.40,209.68 94.45,198.24 94.51,182.35 94.56,176.64 94.62,184.63 94.67,198.69 94.73,214.47 94.78,227.92 94.84,237.16 94.90,242.44 94.95,245.03 95.01,246.15 95.06,246.61 95.12,246.80 95.34,246.99 96.00,247.11 96.06,246.87 96.11,245.98 96.17,244.00 96.22,241.47 96.28,240.24 96.33,240.79 96.39,242.18 96.44,243.87 96.50,245.33 96.55,246.34 96.61,246.91 96.67,247.18 96.78,247.33 97.61,247.50 97.72,247.31 97.77,246.97 97.83,246.22 97.88,244.76 97.94,242.27 97.99,238.50 98.05,233.49 98.10,227.74 98.16,222.25 98.21,218.25 98.27,216.76 98.32,217.10 98.38,217.31 98.43,214.53 98.49,205.67 98.55,193.75 98.60,189.85 98.66,196.60 98.71,208.05 98.77,220.79 98.82,231.68 98.88,239.23 98.93,243.65 98.99,245.90 99.04,246.94 99.10,247.41 99.15,247.63 99.32,247.83 100.15,247.93 100.20,247.72 100.26,246.98 100.31,245.33 100.37,243.22 100.43,242.20 100.48,242.65 100.54,243.80 100.59,245.20 100.65,246.41 100.70,247.24 100.76,247.71 100.81,247.92 100.98,248.05 101.59,248.07 101.70,247.89 101.75,247.58 101.81,246.90 101.86,245.60 101.92,243.38 101.97,240.02 102.03,235.56 102.08,230.45 102.14,225.57 102.20,222.01 102.25,220.67 102.31,220.93 102.36,220.94 102.42,217.82 102.47,208.55 102.53,196.15 102.58,191.81 102.64,198.17 102.69,209.31 102.75,221.80 102.80,232.49 102.86,239.90 102.91,244.21 102.97,246.38 103.02,247.37 103.08,247.80 103.14,247.99 103.30,248.16 104.02,248.17 104.08,247.99 104.13,247.35 104.19,245.91 104.24,244.07 104.30,243.18 104.35,243.57 104.41,244.56 104.46,245.77 104.52,246.83 104.57,247.55 104.63,247.95 104.68,248.13 104.90,248.24 105.40,248.19 105.46,248.09 105.51,247.84 105.57,247.30 105.62,246.27 105.68,244.51 105.73,241.85 105.79,238.32 105.84,234.27 105.90,230.40 105.96,227.58 106.01,226.55 106.07,226.95 106.12,227.93 106.18,228.48 106.23,226.02 106.29,217.91 106.34,206.81 106.40,202.57 106.45,207.57 106.51,216.71 106.56,227.05 106.62,235.90 106.67,241.97 106.73,245.42 106.78,247.09 106.84,247.80 106.90,248.08 107.01,248.23 107.61,248.22 107.67,248.04 107.73,247.38 107.78,245.93 107.84,244.08 107.89,243.18 107.95,243.57 108.00,244.57 108.06,245.78 108.11,246.84 108.17,247.56 108.22,247.97 108.28,248.15 108.50,248.24 109.11,248.17 109.16,248.06 109.22,247.81 109.27,247.27 109.33,246.24 109.38,244.49 109.44,241.83 109.49,238.31 109.55,234.28 109.61,230.42 109.66,227.61 109.72,226.55 109.77,226.71 109.83,226.55 109.88,223.53 109.94,214.95 109.99,203.55 110.05,199.34 110.10,204.70 110.16,214.35 110.21,225.25 110.27,234.60 110.32,241.07 110.38,244.81 110.43,246.67 110.49,247.51 110.55,247.87 110.66,248.09 111.15,248.13 111.21,248.09 111.26,247.87 111.32,247.11 111.37,245.41 111.43,243.25 111.49,242.20 111.54,242.65 111.60,243.82 111.65,245.23 111.71,246.46 111.76,247.30 111.82,247.77 111.87,247.98 112.04,248.09 112.59,248.01 112.65,247.92 112.70,247.71 112.76,247.27 112.81,246.44 112.87,245.01 112.92,242.86 112.98,240.00 113.03,236.73 113.09,233.60 113.14,231.32 113.20,230.46 113.26,230.61 113.31,230.56 113.37,228.43 113.42,222.19 113.48,213.86 113.53,210.89 113.59,215.03 113.64,222.35 113.70,230.58 113.75,237.63 113.81,242.51 113.86,245.34 113.92,246.75 113.97,247.39 114.03,247.66 114.14,247.83 114.75,247.79 114.80,247.74 114.86,247.53 114.91,246.81 114.97,245.22 115.02,243.19 115.08,242.20 115.14,242.62 115.19,243.70 115.25,245.02 115.30,246.16 115.36,246.94 115.41,247.37 115.47,247.57 115.69,247.64 115.91,247.55 115.96,247.46 116.02,247.26 116.08,246.82 116.13,246.01 116.19,244.62 116.24,242.52 116.30,239.74 116.35,236.55 116.41,233.50 116.46,231.28 116.52,230.46 116.57,230.76 116.63,231.52 116.68,231.90 116.74,229.84 116.79,223.18 116.85,214.11 116.90,210.60 116.96,214.58 117.02,221.94 117.07,230.28 117.13,237.42 117.18,242.31 117.24,245.09 117.29,246.43 117.35,246.99 117.40,247.21 117.62,247.32 118.12,247.20 118.18,246.98 118.23,246.20 118.29,244.48 118.34,242.29 118.40,241.22 118.45,241.67 118.51,242.84 118.56,244.26 118.62,245.50 118.67,246.35 118.73,246.81 118.79,247.02 118.95,247.10 119.12,246.97 119.17,246.81 119.23,246.46 119.28,245.81 119.34,244.70 119.39,243.02 119.45,240.80 119.50,238.26 119.56,235.83 119.61,234.05 119.67,233.39 119.73,233.63 119.78,234.25 119.84,234.62 119.89,233.23 119.95,228.47 120.00,221.95 120.06,219.50 120.11,222.53 120.17,228.00 120.22,234.18 120.28,239.45 120.33,243.07 120.39,245.13 120.44,246.12 120.50,246.54 120.55,246.69 120.83,246.76 121.16,246.66 121.22,246.42 121.27,245.58 121.33,243.74 121.38,241.39 121.44,240.24 121.49,240.73 121.55,241.99 121.61,243.52 121.66,244.85 121.72,245.76 121.77,246.26 121.83,246.48 121.99,246.59 122.32,246.53 122.43,246.33 122.49,246.05 122.55,245.52 122.60,244.61 122.66,243.24 122.71,241.42 122.82,237.34 122.88,235.89 122.93,235.35 122.99,235.56 123.04,236.07 123.10,236.39 123.15,235.26 123.21,231.40 123.26,226.09 123.32,224.10 123.37,226.59 123.43,231.07 123.49,236.13 123.54,240.45 123.60,243.42 123.65,245.11 123.71,245.93 123.76,246.28 123.87,246.48 124.48,246.51 124.54,246.28 124.59,245.47 124.65,243.67 124.70,241.36 124.76,240.24 124.81,240.74 124.87,241.99 124.92,243.52 124.98,244.85 125.03,245.76 125.09,246.27 125.14,246.51 125.31,246.65 126.31,246.76 126.36,246.67 126.42,246.47 126.47,246.07 126.53,245.38 126.58,244.33 126.64,242.93 126.75,239.80 126.80,238.69 126.86,238.29 126.91,238.46 126.97,238.86 127.02,239.09 127.08,238.11 127.14,234.85 127.19,230.40 127.25,228.70 127.30,230.71 127.36,234.39 127.41,238.55 127.47,242.12 127.52,244.57 127.58,245.97 127.63,246.65 127.69,246.96 127.80,247.15 128.35,247.45 128.41,247.25 128.46,246.46 128.52,244.65 128.57,242.33 128.63,241.22 128.68,241.77 128.74,243.09 128.79,244.69 128.85,246.09 128.90,247.07 128.96,247.63 129.02,247.92 129.18,248.20 129.57,248.56 129.62,248.34 129.68,246.90 129.73,241.70 129.79,230.06 129.85,215.17 129.90,207.95 129.96,211.16 130.01,219.29 130.07,229.16 130.12,237.77 130.18,243.67 130.23,246.97 130.29,248.42 130.34,248.56 130.40,247.09 130.45,243.41 130.51,238.63 130.56,236.33 130.62,237.41 130.67,240.07 130.73,243.31 130.79,246.13 130.84,248.08 130.90,249.18 130.95,249.71 131.01,249.94 131.28,250.25 131.39,250.29 131.45,250.09 131.50,249.32 131.56,247.54 131.61,245.25 131.67,244.16 131.73,244.68 131.78,245.97 131.84,247.52 131.89,248.88 131.95,249.82 132.00,250.36 132.06,250.62 132.22,250.85 132.78,251.14 132.83,251.02 132.89,250.50 132.94,249.33 133.00,247.81 133.05,247.09 133.11,247.45 133.16,248.31 133.22,249.36 133.27,250.27 133.33,250.91 133.38,251.27 133.49,251.54 134.16,251.87 134.21,251.77 134.27,251.35 134.32,250.39 134.38,249.15 134.43,248.56 134.49,248.85 134.55,249.55 134.60,250.41 134.66,251.15 134.71,251.66 134.77,251.96 134.88,252.18 136.43,252.60 137.48,252.79 137.53,252.73 137.59,252.50 137.64,251.99 137.70,251.32 137.75,251.01 137.81,251.16 137.97,252.37 138.03,252.64 138.14,252.86 140.13,253.07 142.34,253.11 144.55,253.14 145.00,253.09 145.11,252.86 145.16,252.61 145.22,252.23 145.38,250.58 145.44,250.18 145.49,250.03 145.55,250.09 145.66,250.55 145.94,252.32 146.05,252.78 146.21,253.11 146.71,253.30 148.92,253.80 151.14,254.22 153.35,254.58 155.56,254.78 157.77,254.92 159.98,255.03 162.20,255.12 164.41,255.20 166.62,255.27 168.83,255.33 171.04,255.37 173.26,255.40 174.53,255.41 174.5,255.41 173.9,255.41 173.2,255.40 172.5,255.40 171.9,255.39 171.2,255.38 170.5,255.37 169.9,255.35 169.2,255.34 168.6,255.32 167.9,255.30 167.2,255.28 166.6,255.27 165.9,255.24 165.2,255.22 164.6,255.20 163.9,255.18 163.2,255.16 162.6,255.13 161.9,255.11 161.3,255.09 160.6,255.06 159.9,255.03 159.3,255.00 158.6,254.97 157.9,254.93 157.3,254.89 156.6,254.85 155.9,254.80 155.3,254.75 154.6,254.70 154.0,254.64 153.3,254.57 152.6,254.48 152.0,254.37 151.3,254.25 150.6,254.13 150.0,254.00 149.3,253.88 148.6,253.73 148.0,253.58 147.3,253.42 146.7,253.29 146.0,253.20 145.3,253.15 144.7,253.14 144.0,253.13 143.3,253.12 142.7,253.11 142.0,253.10 141.3,253.09 140.7,253.08 140.0,253.06 139.4,253.03 138.7,252.97 138.0,252.89 137.4,252.78 136.7,252.66 136.0,252.52 135.4,252.36 134.7,252.13 134.0,251.84 133.4,251.51 132.7,251.14 132.1,250.75 131.4,250.33 130.7,249.77 130.1,249.11 129.4,248.42 128.7,247.80 128.1,247.32 127.4,247.07 126.7,246.92 126.1,246.78 125.4,246.67 124.8,246.58 124.1,246.53 123.4,246.51 122.8,246.52 122.1,246.58 121.4,246.66 120.8,246.77 120.1,246.89 119.4,247.02 118.8,247.14 118.1,247.25 117.5,247.35 116.8,247.45 116.1,247.56 115.5,247.68 114.8,247.78 114.1,247.88 113.5,247.97 112.8,248.04 112.1,248.08 111.5,248.12 110.8,248.15 110.2,248.18 109.5,248.21 108.8,248.23 108.2,248.25 107.5,248.26 106.8,248.27 106.2,248.26 105.5,248.25 104.8,248.24 104.2,248.22 103.5,248.19 102.9,248.16 102.2,248.13 101.5,248.09 100.9,248.04 100.2,247.98 99.5,247.89 98.9,247.78 98.2,247.65 97.5,247.51 96.9,247.36 96.2,247.21 95.6,247.05 94.9,246.87 94.2,246.66 93.6,246.42 92.9,246.18 92.2,245.92 91.6,245.66 90.9,245.40 90.3,245.16 89.6,244.91 88.9,244.65 88.3,244.37 87.6,244.10 86.9,243.84 86.3,243.60 85.6,243.39 84.9,243.23 84.3,243.11 83.6,243.00 83.0,242.90 82.3,242.81 81.6,242.74 81.0,242.70 80.3,242.70 79.6,242.80 79.0,243.01 78.3,243.28 77.6,243.59 77.0,243.90 76.3,244.18 75.7,244.46 75.0,244.76 74.3,245.07 73.7,245.40 73.0,245.71 72.3,246.02 71.7,246.30 71.0,246.55 70.3,246.77 69.7,246.97 69.0,247.16 68.4,247.35 67.7,247.52 67.0,247.68 66.4,247.84 65.7,247.99 65.0,248.13 64.4,248.26 63.7,248.37 63.0,248.48 62.4,248.59 61.7,248.69 61.1,248.81 60.4,248.93 59.7,249.06 59.1,249.22 58.4,249.39 57.7,249.58 57.1,249.77 56.4,249.96 55.7,250.15 55.1,250.32 54.4,250.48 53.8,250.62 53.1,250.75 52.4,250.86 51.8,250.98 51.1,251.09 50.4,251.19 49.8,251.31 49.1,251.42 48.4,251.55 47.8,251.68 47.1,251.82 46.5,251.95 45.8,252.10 45.1,252.24 44.5,252.38 43.8,252.52 43.1,252.68 42.5,252.84 41.8,252.96 41.1,253.07 40.5,253.18 39.8,253.28 39.2,253.36 38.5,253.42 37.8,253.45 37.2,253.45 36.5,253.45 35.8,253.45 35.2,253.45 34.5,253.45 33.8,253.45 33.2,253.47 32.5,253.55 31.9,253.70 31.2,253.89 30.5,254.10 29.9,254.30 29.2,254.47 28.5,254.63 27.9,254.80 27.2,254.96"/>
</g>
<g>
<path class="ax" d="M210.70,148.26V265.69H365.37"/>
<text class="tl" x="206.10" y="258.05" text-anchor="end" textLength="2.9" lengthAdjust="spacingAndGlyphs">0</text>
<text class="tl" x="206.10" y="238.48" text-anchor="end" textLength="5.5" lengthAdjust="spacingAndGlyphs">20</text>
<text class="tl" x="206.10" y="218.91" text-anchor="end" textLength="5.5" lengthAdjust="spacingAndGlyphs">40</text>
<text class="tl" x="206.10" y="199.34" text-anchor="end" textLength="5.5" lengthAdjust="spacingAndGlyphs">60</text>
<text class="tl" x="206.10" y="179.77" text-anchor="end" textLength="5.5" lengthAdjust="spacingAndGlyphs">80</text>
<text class="tl" x="206.10" y="160.20" text-anchor="end" textLength="8.5" lengthAdjust="spacingAndGlyphs">100</text>
<text class="tl" x="227.77" y="275.19" text-anchor="middle" textLength="5.5" lengthAdjust="spacingAndGlyphs">10</text>
<text class="tl" x="255.39" y="275.19" text-anchor="middle" textLength="5.5" lengthAdjust="spacingAndGlyphs">20</text>
<text class="tl" x="283.01" y="275.19" text-anchor="middle" textLength="5.5" lengthAdjust="spacingAndGlyphs">30</text>
<text class="tl" x="310.63" y="275.19" text-anchor="middle" textLength="5.5" lengthAdjust="spacingAndGlyphs">40</text>
<text class="tl" x="338.25" y="275.19" text-anchor="middle" textLength="5.5" lengthAdjust="spacingAndGlyphs">50</text>
<text class="tl" x="365.87" y="275.19" text-anchor="middle" textLength="5.5" lengthAdjust="spacingAndGlyphs">60</text>
<path class="tk" d="M207.70,255.90H210.70M207.70,236.33H210.70M207.70,216.76H210.70M207.70,197.19H210.70M207.70,177.62H210.70M207.70,158.05H210.70M227.27,265.69v3.2M254.89,265.69v3.2M282.51,265.69v3.2M310.13,265.69v3.2M337.75,265.69v3.2M365.37,265.69v3.2"/>
<text class="t4" x="210.90" y="273.08" text-anchor="middle">4</text>
<text class="xl" x="288.12" y="286.58" text-anchor="middle" textLength="19.1" lengthAdjust="spacingAndGlyphs">t / min</text>
<text class="yl" transform="translate(194.50,206.97) rotate(-90)" text-anchor="middle" textLength="68.6" lengthAdjust="spacingAndGlyphs">Relative abundance / %</text>
<text class="tp" x="338.60" y="164.00">400°C</text>
<polygon class="bd" points="210.7,256.1 211.0,256.1 211.3,256.1 211.5,256.1 211.8,256.0 212.1,256.0 212.4,256.0 212.6,256.0 212.9,256.0 213.2,256.0 213.5,256.0 213.7,256.0 214.0,256.0 214.3,256.0 214.6,256.0 214.8,256.0 215.1,256.0 215.4,255.9 215.7,255.9 216.0,255.9 216.2,255.9 216.5,255.9 216.8,255.9 217.1,255.9 217.3,255.8 217.6,255.8 217.9,255.8 218.2,255.8 218.4,255.8 218.7,255.8 219.0,255.8 219.3,255.8 219.5,255.8 219.8,255.7 220.1,255.7 220.4,255.7 220.7,255.7 220.9,255.6 221.2,255.6 221.5,255.6 221.8,255.6 222.0,255.6 222.3,255.5 222.6,255.5 222.9,255.4 223.1,255.4 223.4,255.4 223.7,255.3 224.0,255.3 224.2,255.3 224.5,255.3 224.8,255.3 225.1,255.2 225.4,255.2 225.6,255.1 225.9,255.1 226.2,255.0 226.5,254.9 226.7,254.8 227.0,254.8 227.3,254.7 227.6,254.6 227.8,254.5 228.1,254.4 228.4,254.4 228.7,254.3 228.9,254.3 229.2,254.3 229.5,254.3 229.8,254.3 230.1,254.3 230.3,254.3 230.6,254.2 230.9,254.2 231.2,254.1 231.4,254.1 231.7,254.0 232.0,254.0 232.3,254.0 232.5,254.0 232.8,254.1 233.1,254.1 233.4,254.1 233.6,254.1 233.9,254.1 234.2,254.0 234.5,254.0 234.8,254.0 235.0,254.0 235.3,254.0 235.6,253.9 235.9,253.9 236.1,253.8 236.4,253.8 236.7,253.7 237.0,253.6 237.2,253.6 237.5,253.5 237.8,253.5 238.1,253.5 238.3,253.5 238.6,253.6 238.9,253.7 239.2,253.8 239.5,253.8 239.7,253.9 240.0,253.9 240.3,253.9 240.6,253.9 240.8,253.9 241.1,253.8 241.4,253.7 241.7,253.7 241.9,253.6 242.2,253.5 242.5,253.5 242.8,253.4 243.1,253.4 243.3,253.3 243.6,253.3 243.9,253.3 244.2,253.2 244.4,253.2 244.7,253.2 245.0,253.2 245.3,253.2 245.5,253.1 245.8,253.1 246.1,253.1 246.4,253.1 246.6,253.0 246.9,253.0 247.2,252.9 247.5,252.9 247.8,252.8 248.0,252.8 248.3,252.7 248.6,252.7 248.9,252.6 249.1,252.6 249.4,252.5 249.7,252.5 250.0,252.5 250.2,252.4 250.5,252.4 250.8,252.4 251.1,252.4 251.3,252.5 251.6,252.5 251.9,252.5 252.2,252.5 252.5,252.4 252.7,252.3 253.0,252.1 253.3,252.0 253.6,251.9 253.8,251.9 254.1,251.8 254.4,251.7 254.7,251.6 254.9,251.4 255.2,251.1 255.5,250.9 255.8,250.6 256.0,250.4 256.3,250.2 256.6,250.1 256.9,250.0 257.2,249.9 257.4,249.9 257.7,249.8 258.0,249.8 258.3,249.7 258.5,249.6 258.8,249.4 259.1,249.3 259.4,249.2 259.6,249.2 259.9,249.1 260.2,249.1 260.5,249.0 260.7,248.9 261.0,248.7 261.3,248.6 261.6,248.4 261.9,248.2 262.1,248.0 262.4,247.7 262.7,247.5 263.0,247.2 263.2,247.0 263.5,246.8 263.8,246.6 264.1,246.4 264.3,246.3 264.6,246.2 264.9,246.2 265.2,246.1 265.4,246.1 265.7,246.1 266.0,246.1 266.3,246.0 266.6,245.9 266.8,245.8 267.1,245.6 267.4,245.5 267.7,245.4 267.9,245.4 268.2,245.4 268.5,245.4 268.8,245.5 269.0,245.5 269.3,245.4 269.6,245.4 269.9,245.4 270.1,245.3 270.4,245.2 270.7,245.2 271.0,245.1 271.3,245.0 271.5,244.9 271.8,244.8 272.1,244.7 272.4,244.6 272.6,244.6 272.9,244.5 273.2,244.5 273.5,244.5 273.7,244.5 274.0,244.6 274.3,244.6 274.6,244.6 274.8,244.6 275.1,244.4 275.4,244.3 275.7,244.1 276.0,243.9 276.2,243.7 276.5,243.6 276.8,243.6 277.1,243.6 277.3,243.6 277.6,243.7 277.9,243.8 278.2,243.9 278.4,244.0 278.7,244.1 279.0,244.1 279.3,244.1 279.5,244.1 279.8,244.0 280.1,243.8 280.4,243.7 280.7,243.5 280.9,243.3 281.2,243.2 281.5,243.1 281.8,243.1 282.0,243.1 282.3,243.2 282.6,243.3 282.9,243.4 283.1,243.4 283.4,243.4 283.7,243.3 284.0,243.2 284.2,243.1 284.5,243.1 284.8,243.1 285.1,243.2 285.4,243.4 285.6,243.6 285.9,243.9 286.2,244.1 286.5,244.3 286.7,244.5 287.0,244.5 287.3,244.5 287.6,244.5 287.8,244.4 288.1,244.4 288.4,244.3 288.7,244.4 288.9,244.4 289.2,244.5 289.5,244.5 289.8,244.5 290.1,244.4 290.3,244.3 290.6,244.1 290.9,244.0 291.2,243.9 291.4,243.9 291.7,243.9 292.0,244.1 292.3,244.2 292.5,244.4 292.8,244.6 293.1,244.7 293.4,244.7 293.6,244.8 293.9,244.8 294.2,244.9 294.5,244.9 294.8,245.0 295.0,245.1 295.3,245.3 295.6,245.4 295.9,245.5 296.1,245.6 296.4,245.6 296.7,245.6 297.0,245.5 297.2,245.4 297.5,245.3 297.8,245.3 298.1,245.3 298.4,245.4 298.6,245.6 298.9,245.9 299.2,246.2 299.5,246.6 299.7,246.9 300.0,247.2 300.3,247.4 300.6,247.6 300.8,247.7 301.1,247.6 301.4,247.5 301.7,247.4 301.9,247.2 302.2,247.1 302.5,247.0 302.8,247.0 303.1,247.0 303.3,247.1 303.6,247.3 303.9,247.4 304.2,247.6 304.4,247.8 304.7,248.0 305.0,248.2 305.3,248.3 305.5,248.3 305.8,248.3 306.1,248.3 306.4,248.3 306.6,248.3 306.9,248.4 307.2,248.4 307.5,248.5 307.8,248.6 308.0,248.6 308.3,248.6 308.6,248.6 308.9,248.6 309.1,248.6 309.4,248.6 309.7,248.7 310.0,248.9 310.2,249.1 310.5,249.3 310.8,249.6 311.1,249.9 311.3,250.2 311.6,250.4 311.9,250.7 312.2,251.0 312.5,251.2 312.7,251.4 313.0,251.6 313.3,251.8 313.6,252.0 313.8,252.2 314.1,252.4 314.4,252.5 314.7,252.7 314.9,252.9 315.2,253.0 315.5,253.2 315.8,253.3 316.0,253.5 316.3,253.6 316.6,253.7 316.9,253.8 317.2,254.0 317.4,254.0 317.7,254.1 318.0,254.2 318.3,254.3 318.5,254.4 318.8,254.5 319.1,254.6 319.4,254.7 319.6,254.8 319.9,254.9 320.2,255.0 320.5,255.1 320.7,255.2 321.0,255.2 321.3,255.3 321.6,255.3 321.9,255.4 322.1,255.4 322.4,255.5 322.7,255.5 323.0,255.5 323.2,255.6 323.5,255.6 323.8,255.6 324.1,255.6 324.3,255.6 324.6,255.6 324.9,255.6 325.2,255.6 325.4,255.6 325.7,255.6 326.0,255.7 326.3,255.7 326.6,255.7 326.8,255.7 327.1,255.7 327.4,255.7 327.7,255.7 327.9,255.8 328.2,255.8 328.5,255.8 328.8,255.8 329.0,255.8 329.3,255.8 329.6,255.8 329.9,255.8 330.1,255.8 330.4,255.8 330.7,255.8 331.0,255.8 331.3,255.8 331.5,255.8 331.8,255.8 332.1,255.8 332.4,255.8 332.6,255.8 332.9,255.8 333.2,255.9 333.5,255.9 333.7,255.9 334.0,255.9 334.3,255.9 334.6,255.9 334.8,255.9 335.1,255.9 335.4,255.9 335.7,255.9 336.0,255.9 336.2,255.9 336.5,255.9 336.8,255.9 337.1,255.9 337.3,255.9 337.6,255.9 337.9,255.9 338.2,255.9 338.4,255.9 338.7,255.9 339.0,255.9 339.3,255.8 339.5,255.8 339.8,255.8 340.1,255.8 340.4,255.8 340.7,255.9 340.9,255.9 341.2,255.9 341.5,255.9 341.8,255.9 342.0,255.9 342.3,255.9 342.6,255.9 342.9,255.9 343.1,255.9 343.4,255.9 343.7,255.9 344.0,255.9 344.2,255.9 344.5,255.9 344.8,255.8 345.1,255.8 345.4,255.8 345.6,255.8 345.9,255.8 346.2,255.8 346.5,255.8 346.7,255.8 347.0,255.8 347.3,255.8 347.6,255.8 347.8,255.8 348.1,255.8 348.4,255.9 348.7,255.9 348.9,255.9 349.2,255.9 349.5,255.9 349.8,255.9 350.1,255.9 350.3,255.9 350.6,255.9 350.9,255.9 351.2,255.9 351.4,255.9 351.7,255.8 352.0,255.8 352.3,255.8 352.5,255.8 352.8,255.8 353.1,255.8 353.4,255.8 353.7,255.8 353.9,255.8 354.2,255.8 354.5,255.8 354.8,255.8 355.0,255.8 355.3,255.8 355.6,255.8 355.9,255.8 356.1,255.8 356.4,255.8 356.7,255.8 357.0,255.8 357.2,255.8 357.5,255.8 357.8,255.8 358.1,255.8 358.4,255.8 358.6,255.8 358.6,254.9 358.4,255.0 358.1,255.0 357.8,255.0 357.5,255.0 357.2,255.0 357.0,255.0 356.7,255.0 356.4,255.0 356.1,255.0 355.9,255.0 355.6,255.1 355.3,255.1 355.0,255.0 354.8,255.0 354.5,255.1 354.2,255.1 353.9,255.0 353.7,255.1 353.4,255.1 353.1,255.1 352.8,255.0 352.5,255.0 352.3,255.1 352.0,255.0 351.7,255.0 351.4,255.1 351.2,255.0 350.9,255.1 350.6,255.1 350.3,255.1 350.1,255.1 349.8,255.1 349.5,255.1 349.2,255.1 348.9,255.1 348.7,255.1 348.4,255.1 348.1,255.1 347.8,255.1 347.6,255.0 347.3,254.9 347.0,254.9 346.7,255.0 346.5,255.0 346.2,255.0 345.9,255.0 345.6,255.1 345.4,254.9 345.1,255.0 344.8,255.0 344.5,255.0 344.2,255.0 344.0,255.1 343.7,255.1 343.4,255.1 343.1,255.1 342.9,255.1 342.6,255.1 342.3,255.1 342.0,255.1 341.8,255.1 341.5,255.0 341.2,255.1 340.9,255.1 340.7,255.0 340.4,255.1 340.1,255.0 339.8,255.0 339.5,255.0 339.3,255.0 339.0,255.1 338.7,255.0 338.4,255.0 338.2,255.1 337.9,255.0 337.6,255.0 337.3,255.0 337.1,255.0 336.8,255.0 336.5,255.1 336.2,255.1 336.0,255.1 335.7,255.1 335.4,255.1 335.1,255.1 334.8,255.1 334.6,255.1 334.3,255.1 334.0,255.1 333.7,255.1 333.5,255.0 333.2,254.9 332.9,254.9 332.6,254.9 332.4,255.0 332.1,255.1 331.8,255.0 331.5,255.0 331.3,255.0 331.0,255.0 330.7,255.1 330.4,255.0 330.1,255.1 329.9,255.0 329.6,255.0 329.3,255.0 329.0,254.9 328.8,254.9 328.5,255.0 328.2,254.8 327.9,254.8 327.7,254.9 327.4,254.9 327.1,254.9 326.8,255.0 326.6,254.9 326.3,254.9 326.0,254.9 325.7,254.9 325.4,254.9 325.2,254.9 324.9,254.8 324.6,254.7 324.3,254.7 324.1,254.5 323.8,254.7 323.5,254.6 323.2,254.5 323.0,254.6 322.7,254.6 322.4,254.5 322.1,254.4 321.9,254.5 321.6,254.4 321.3,254.4 321.0,254.3 320.7,254.3 320.5,254.2 320.2,254.1 319.9,254.1 319.6,253.9 319.4,253.7 319.1,253.6 318.8,253.1 318.5,253.3 318.3,253.1 318.0,253.3 317.7,253.0 317.4,252.8 317.2,252.7 316.9,252.3 316.6,252.2 316.3,252.1 316.0,251.6 315.8,251.0 315.5,251.1 315.2,250.7 314.9,251.7 314.7,251.1 314.4,250.8 314.1,250.7 313.8,250.1 313.6,250.5 313.3,249.9 313.0,249.8 312.7,248.2 312.5,249.5 312.2,248.4 311.9,248.6 311.6,248.3 311.3,248.4 311.1,248.7 310.8,247.7 310.5,248.2 310.2,247.1 310.0,247.0 309.7,245.9 309.4,246.6 309.1,247.0 308.9,246.6 308.6,246.9 308.3,246.0 308.0,247.3 307.8,247.4 307.5,246.9 307.2,246.6 306.9,247.1 306.6,246.9 306.4,246.6 306.1,246.2 305.8,245.9 305.5,246.3 305.3,244.2 305.0,244.0 304.7,245.4 304.4,241.5 304.2,241.4 303.9,242.6 303.6,241.8 303.3,242.6 303.1,241.6 302.8,241.1 302.5,244.1 302.2,244.3 301.9,243.9 301.7,245.1 301.4,244.3 301.1,244.0 300.8,245.0 300.6,245.4 300.3,244.9 300.0,245.0 299.7,244.8 299.5,244.5 299.2,244.8 298.9,243.8 298.6,243.2 298.4,244.2 298.1,243.0 297.8,243.0 297.5,243.8 297.2,243.9 297.0,242.9 296.7,243.0 296.4,243.0 296.1,243.7 295.9,241.1 295.6,242.5 295.3,243.1 295.0,243.2 294.8,243.2 294.5,243.6 294.2,243.3 293.9,243.8 293.6,243.3 293.4,243.4 293.1,243.6 292.8,243.4 292.5,243.2 292.3,242.1 292.0,240.8 291.7,241.4 291.4,241.0 291.2,241.5 290.9,242.1 290.6,242.4 290.3,241.5 290.1,241.6 289.8,240.2 289.5,240.4 289.2,239.5 288.9,241.3 288.7,241.4 288.4,239.8 288.1,240.5 287.8,239.5 287.6,240.1 287.3,240.9 287.0,241.9 286.7,241.5 286.5,240.2 286.2,240.9 285.9,239.9 285.6,239.8 285.4,241.2 285.1,241.2 284.8,241.7 284.5,240.1 284.2,240.3 284.0,238.8 283.7,238.9 283.4,240.1 283.1,239.4 282.9,241.3 282.6,239.6 282.3,239.8 282.0,241.7 281.8,240.4 281.5,240.1 281.2,239.6 280.9,241.2 280.7,240.2 280.4,239.9 280.1,240.7 279.8,240.7 279.5,240.5 279.3,242.1 279.0,241.4 278.7,242.1 278.4,240.4 278.2,241.0 277.9,238.0 277.6,237.9 277.3,239.2 277.1,240.9 276.8,238.8 276.5,239.2 276.2,240.6 276.0,240.0 275.7,240.2 275.4,241.1 275.1,241.2 274.8,241.9 274.6,243.2 274.3,243.0 274.0,242.6 273.7,242.3 273.5,242.6 273.2,242.1 272.9,243.1 272.6,243.1 272.4,241.8 272.1,241.7 271.8,241.4 271.5,242.6 271.3,241.4 271.0,243.3 270.7,242.2 270.4,243.2 270.1,243.0 269.9,241.3 269.6,239.3 269.3,239.2 269.0,238.4 268.8,241.4 268.5,241.0 268.2,242.1 267.9,243.7 267.7,243.3 267.4,244.3 267.1,244.0 266.8,244.2 266.6,244.2 266.3,245.0 266.0,244.9 265.7,244.6 265.4,244.9 265.2,244.8 264.9,242.9 264.6,242.4 264.3,243.9 264.1,244.1 263.8,242.7 263.5,243.6 263.2,243.8 263.0,243.9 262.7,243.3 262.4,243.8 262.1,245.7 261.9,245.5 261.6,246.8 261.3,247.1 261.0,247.3 260.7,247.6 260.5,247.7 260.2,247.7 259.9,247.2 259.6,247.2 259.4,248.1 259.1,247.8 258.8,248.1 258.5,248.3 258.3,248.3 258.0,248.7 257.7,248.1 257.4,247.8 257.2,247.5 256.9,248.3 256.6,248.1 256.3,248.5 256.0,248.7 255.8,249.2 255.5,247.9 255.2,248.3 254.9,247.6 254.7,248.5 254.4,248.9 254.1,248.4 253.8,250.3 253.6,248.8 253.3,249.2 253.0,250.0 252.7,251.1 252.5,251.1 252.2,251.1 251.9,251.0 251.6,251.1 251.3,251.2 251.1,250.7 250.8,251.1 250.5,251.2 250.2,250.5 250.0,249.8 249.7,250.4 249.4,250.2 249.1,251.3 248.9,250.8 248.6,251.2 248.3,250.7 248.0,250.6 247.8,250.8 247.5,250.7 247.2,250.7 246.9,250.6 246.6,251.2 246.4,251.2 246.1,251.5 245.8,251.7 245.5,251.2 245.3,251.7 245.0,251.8 244.7,250.9 244.4,250.0 244.2,249.7 243.9,250.7 243.6,250.7 243.3,251.4 243.1,251.5 242.8,251.8 242.5,251.2 242.2,251.0 241.9,251.9 241.7,251.3 241.4,252.4 241.1,252.5 240.8,252.0 240.6,252.8 240.3,252.1 240.0,252.4 239.7,252.5 239.5,252.6 239.2,252.3 238.9,252.4 238.6,252.6 238.3,252.6 238.1,252.5 237.8,252.6 237.5,252.6 237.2,252.2 237.0,252.3 236.7,252.2 236.4,252.3 236.1,252.0 235.9,252.6 235.6,252.5 235.3,252.6 235.0,252.8 234.8,253.1 234.5,253.1 234.2,253.0 233.9,252.7 233.6,253.0 233.4,252.5 233.1,252.8 232.8,252.6 232.5,252.7 232.3,252.9 232.0,252.9 231.7,252.9 231.4,252.9 231.2,252.9 230.9,252.5 230.6,253.1 230.3,252.8 230.1,253.0 229.8,253.2 229.5,253.4 229.2,253.1 228.9,253.3 228.7,253.4 228.4,253.3 228.1,253.5 227.8,253.5 227.6,253.5 227.3,253.4 227.0,253.7 226.7,253.7 226.5,253.8 226.2,253.9 225.9,254.2 225.6,254.3 225.4,254.2 225.1,254.4 224.8,254.5 224.5,254.3 224.2,254.3 224.0,254.2 223.7,254.3 223.4,254.5 223.1,254.5 222.9,254.6 222.6,254.7 222.3,254.7 222.0,254.7 221.8,254.7 221.5,254.7 221.2,254.7 220.9,254.8 220.7,254.8 220.4,254.9 220.1,254.9 219.8,255.0 219.5,254.8 219.3,255.0 219.0,254.8 218.7,254.9 218.4,255.0 218.2,255.0 217.9,255.0 217.6,255.1 217.3,255.0 217.1,255.0 216.8,255.0 216.5,255.1 216.2,255.1 216.0,255.1 215.7,255.1 215.4,255.1 215.1,255.1 214.8,255.1 214.6,255.2 214.3,255.2 214.0,255.2 213.7,255.3 213.5,255.3 213.2,255.3 212.9,255.3 212.6,255.3 212.4,255.3 212.1,255.3 211.8,255.3 211.5,255.3 211.3,255.3 211.0,255.3 210.7,255.3"/>
<path class="gr" d="M210.81,255.7v-0.3M211.38,255.7v-0.3M211.63,255.7v-0.2M212.51,255.7v-0.3M213.95,255.6v-0.2M215.67,255.6v-0.2M215.93,255.6v-0.6M216.49,255.5v-0.9M216.69,255.5v-0.4M217.21,255.5v-0.3M217.31,255.5v-0.7M217.77,255.5v-0.6M218.90,255.4v-0.2M220.20,255.3v-0.6M220.86,255.3v-0.2M221.75,255.2v-0.2M222.87,255.1v-0.4M223.56,255.0v-0.3M224.09,255.0v-0.2M224.27,255.0v-0.2M225.04,254.8v-0.3M225.30,254.8v-0.2M225.60,254.7v-0.6M226.30,254.5v-0.2M226.44,254.5v-0.5M226.75,254.4v-0.2M227.19,254.2v-0.3M227.34,254.2v-0.9M227.64,254.1v-0.4M228.02,254.0v-1.0M228.24,254.0v-0.3M228.70,253.9v-3.7M228.89,253.9v-1.8M229.25,253.9v-0.5M229.63,253.9v-0.7M229.81,253.8v-0.2M230.22,253.8v-1.2M230.36,253.8v-0.9M230.81,253.8v-0.5M231.03,253.7v-0.6M231.43,253.7v-0.3M231.77,253.7v-1.9M231.97,253.7v-0.4M232.21,253.7v-0.2M232.48,253.7v-0.2M232.83,253.6v-0.3M233.31,253.6v-0.2M233.43,253.6v-0.2M233.87,253.6v-0.4M234.06,253.6v-0.3M234.42,253.6v-1.0M234.76,253.6v-0.3M235.14,253.6v-0.3M235.41,253.6v-0.5M235.74,253.5v-0.2M235.98,253.5v-0.5M236.27,253.5v-0.2M236.65,253.5v-0.5M236.83,253.5v-0.4M237.14,253.5v-0.9M237.52,253.5v-0.2M237.80,253.5v-0.2M238.16,253.5v-1.5M238.30,253.5v-0.2M238.62,253.5v-0.5M238.95,253.4v-0.3M239.40,253.4v-0.2M239.56,253.4v-1.5M239.80,253.4v-1.1M240.30,253.4v-0.5M240.61,253.4v-3.9M240.72,253.4v-0.7M241.04,253.4v-0.3M241.49,253.3v-0.7M241.66,253.3v-0.4M242.03,253.3v-0.5M242.24,253.3v-0.3M242.62,253.3v-0.5M242.86,253.2v-0.2M243.17,253.2v-1.1M243.49,253.2v-0.9M243.77,253.2v-0.9M244.08,253.1v-2.8M244.51,253.1v-0.2M244.70,253.1v-0.4M244.97,253.1v-1.0M245.46,253.0v-1.8M245.70,253.0v-0.4M245.87,253.0v-0.3M246.17,252.9v-1.5M246.59,252.9v-0.5M246.99,252.8v-0.4M247.09,252.8v-0.4M247.60,252.7v-0.3M247.73,252.7v-0.5M248.11,252.7v-0.8M248.44,252.6v-0.3M248.80,252.6v-1.7M248.97,252.5v-0.8M249.29,252.5v-0.3M249.55,252.5v-0.8M249.96,252.4v-12.2M250.30,252.3v-0.7M250.63,252.2v-0.8M250.92,252.2v-1.2M251.17,252.1v-1.0M251.43,252.1v-3.0M251.74,252.0v-3.5M251.95,251.9v-0.6M252.30,251.8v-0.8M252.56,251.8v-1.6M252.95,251.6v-0.7M253.28,251.5v-0.3M253.56,251.5v-0.6M253.94,251.3v-0.3M254.24,251.2v-1.3M254.60,251.1v-1.8M254.70,251.1v-1.1M255.10,251.0v-0.3M255.29,250.9v-2.1M255.65,250.8v-0.3M256.10,250.6v-2.8M256.39,250.5v-1.5M256.72,250.3v-0.4M256.99,250.2v-4.8M257.29,250.1v-0.9M257.58,249.9v-0.4M257.84,249.8v-0.6M258.27,249.6v-0.9M258.39,249.5v-0.3M258.83,249.3v-2.4M258.99,249.2v-2.5M259.36,249.1v-0.6M259.61,249.0v-2.4M260.06,248.7v-0.3M260.20,248.7v-3.7M260.54,248.5v-0.6M260.82,248.4v-0.5M261.11,248.3v-0.9M261.45,248.1v-0.6M261.92,247.9v-0.4M262.22,247.8v-3.4M262.49,247.6v-1.6M262.79,247.5v-6.4M262.95,247.4v-1.8M263.25,247.3v-0.5M263.60,247.1v-4.2M263.88,247.0v-0.4M264.24,246.9v-0.7M264.54,246.7v-8.0M264.95,246.5v-0.7M265.21,246.4v-2.9M265.50,246.3v-0.4M265.63,246.3v-0.8M266.16,246.1v-0.5M266.41,246.0v-1.4M266.67,245.9v-0.8M266.96,245.7v-0.4M267.24,245.6v-1.4M267.65,245.5v-1.1M267.80,245.4v-0.4M268.29,245.2v-0.4M268.45,245.1v-0.5M268.83,245.0v-0.4M269.06,244.9v-0.4M269.36,244.8v-0.8M269.72,244.7v-6.3M269.90,244.6v-0.8M270.29,244.5v-0.5M270.59,244.4v-1.7M271.01,244.3v-0.7M271.11,244.3v-2.5M271.62,244.1v-0.4M271.72,244.1v-1.8M272.07,244.0v-0.4M272.44,243.9v-8.0M272.67,243.9v-0.5M273.01,243.8v-0.4M273.24,243.7v-1.0M273.60,243.7v-2.5M273.91,243.6v-1.2M274.30,243.5v-0.5M274.57,243.5v-0.9M274.86,243.4v-0.8M275.08,243.4v-1.0M275.47,243.3v-1.8M275.86,243.2v-0.6M276.05,243.2v-2.2M276.30,243.2v-1.6M276.72,243.2v-0.7M277.10,243.2v-11.2M277.19,243.2v-1.7M277.68,243.2v-1.7M277.98,243.2v-0.6M278.10,243.2v-0.8M278.41,243.2v-0.4M278.80,243.2v-1.5M279.14,243.2v-1.3M279.46,243.2v-0.5M279.72,243.2v-1.1M279.94,243.2v-0.8M280.47,243.2v-1.7M280.75,243.2v-0.7M280.97,243.2v-1.0M281.29,243.2v-3.7M281.53,243.2v-2.2M281.79,243.2v-9.3M282.06,243.2v-0.5M282.59,243.2v-0.4M282.68,243.2v-3.0M282.99,243.2v-0.5M283.48,243.2v-0.7M283.62,243.2v-3.0M283.99,243.3v-0.5M284.28,243.3v-0.8M284.64,243.3v-0.5M284.99,243.4v-0.5M285.16,243.4v-0.4M285.41,243.4v-0.4M285.85,243.5v-0.4M286.13,243.5v-2.5M286.39,243.6v-0.8M286.81,243.7v-0.7M287.02,243.7v-7.8M287.34,243.7v-1.1M287.56,243.8v-0.6M288.08,243.9v-0.4M288.34,243.9v-0.8M288.67,243.9v-0.4M288.77,244.0v-2.3M289.19,244.0v-13.8M289.48,244.1v-0.8M289.74,244.1v-4.8M290.20,244.2v-0.7M290.46,244.3v-0.4M290.66,244.3v-2.3M290.89,244.3v-1.5M291.22,244.4v-0.9M291.52,244.5v-2.2M291.99,244.5v-0.4M292.22,244.6v-1.2M292.49,244.6v-7.3M292.76,244.7v-0.5M293.10,244.7v-0.5M293.37,244.8v-0.4M293.62,244.8v-0.7M294.11,244.9v-3.9M294.44,245.0v-1.1M294.57,245.0v-0.4M295.04,245.1v-1.6M295.24,245.1v-0.6M295.64,245.2v-0.8M295.98,245.2v-0.5M296.18,245.3v-1.5M296.59,245.3v-0.5M296.87,245.4v-11.5M297.08,245.4v-9.7M297.42,245.5v-0.6M297.70,245.5v-0.5M298.10,245.6v-2.1M298.27,245.6v-0.4M298.57,245.7v-1.2M298.97,245.8v-0.4M299.28,245.8v-0.7M299.51,245.9v-0.5M299.75,245.9v-7.8M300.01,246.0v-0.5M300.54,246.1v-0.6M300.64,246.1v-3.6M300.97,246.2v-0.6M301.45,246.3v-1.2M301.58,246.3v-0.5M302.00,246.4v-0.7M302.20,246.5v-5.0M302.56,246.5v-0.6M302.79,246.6v-0.4M303.05,246.7v-2.5M303.53,246.8v-3.9M303.85,246.9v-0.4M303.97,246.9v-4.8M304.34,247.0v-0.3M304.75,247.1v-0.7M305.05,247.2v-4.0M305.33,247.3v-2.6M305.53,247.3v-4.5M305.93,247.5v-0.5M306.21,247.5v-0.4M306.54,247.6v-1.9M306.92,247.8v-2.9M307.02,247.8v-2.4M307.36,247.9v-0.8M307.70,248.1v-0.7M308.07,248.2v-6.0M308.35,248.3v-1.5M308.57,248.4v-4.9M309.02,248.6v-3.7M309.15,248.7v-2.5M309.47,248.9v-0.8M309.82,249.1v-0.6M310.27,249.4v-1.1M310.49,249.6v-4.7M310.75,249.8v-2.4M311.08,250.1v-0.6M311.41,250.3v-1.0M311.66,250.5v-0.6M311.88,250.7v-0.4M312.20,251.0v-0.3M312.53,251.2v-0.8M312.93,251.5v-1.6M313.08,251.5v-2.2M313.44,251.8v-1.2M313.78,252.0v-0.5M314.08,252.1v-1.2M314.52,252.4v-0.2M314.71,252.5v-0.3M314.93,252.6v-0.3M315.28,252.8v-3.9M315.56,252.9v-0.7M315.92,253.1v-0.3M316.28,253.3v-0.9M316.46,253.4v-0.2M316.89,253.5v-1.3M317.27,253.7v-0.6M317.45,253.8v-0.8M317.75,253.9v-4.2M318.03,254.0v-0.2M318.38,254.1v-0.5M318.59,254.2v-2.3M319.01,254.3v-0.5M319.31,254.4v-0.6M319.69,254.6v-0.6M319.92,254.6v-1.0M320.29,254.7v-0.2M320.42,254.8v-0.5M321.06,254.9v-1.0M321.41,254.9v-0.2M321.81,255.0v-0.2M322.10,255.0v-1.8M322.72,255.1v-1.2M322.92,255.1v-0.2M323.15,255.2v-0.3M323.54,255.2v-1.3M323.80,255.2v-0.3M324.15,255.3v-0.5M324.54,255.3v-0.2M325.13,255.3v-0.2M326.04,255.4v-0.2M326.97,255.4v-0.8M327.78,255.4v-0.4M327.99,255.4v-0.2M328.34,255.4v-0.2M329.09,255.4v-0.3M329.59,255.5v-0.3M329.98,255.5v-0.2M330.74,255.5v-0.9M331.34,255.5v-0.9M331.83,255.5v-0.2M333.53,255.5v-0.5M335.19,255.5v-0.2M335.49,255.5v-0.3M335.89,255.5v-0.8M337.31,255.5v-0.3M337.44,255.5v-0.3M338.33,255.5v-1.3M338.97,255.5v-0.4M339.38,255.5v-0.2M339.55,255.5v-0.4M340.02,255.5v-1.1M340.31,255.5v-0.7M340.93,255.5v-0.3M341.86,255.5v-0.6M343.02,255.5v-0.3M343.37,255.5v-0.3M344.03,255.5v-0.2M344.46,255.5v-0.2M345.23,255.5v-0.7M346.07,255.5v-0.2M346.94,255.5v-0.2M347.83,255.5v-0.6M348.27,255.5v-0.2M349.59,255.5v-0.6M351.23,255.5v-0.4M351.45,255.5v-2.0M352.11,255.5v-0.3M352.79,255.5v-0.2M353.07,255.5v-0.5M354.45,255.5v-1.1M355.75,255.4v-0.2M356.11,255.4v-0.2M358.50,255.4v-0.3"/>
<polygon class="tr" points="210.70,255.70 212.91,255.67 215.12,255.60 217.34,255.50 219.55,255.38 221.43,255.19 221.59,254.95 221.70,254.56 221.82,253.88 222.04,252.00 222.09,251.63 222.15,251.39 222.20,251.30 222.31,251.43 222.48,252.05 222.81,253.80 222.98,254.42 223.14,254.79 223.42,255.00 225.13,254.81 227.35,254.21 228.62,253.86 228.78,253.62 228.89,253.27 229.00,252.68 229.11,251.79 229.23,250.62 229.45,247.99 229.50,247.46 229.56,247.05 229.61,246.79 229.67,246.70 229.78,246.83 229.89,247.23 230.05,248.22 230.39,250.68 230.50,251.27 230.55,251.43 230.61,251.47 230.72,251.23 230.83,250.96 230.88,251.01 231.00,251.40 231.27,252.83 231.44,253.39 231.60,253.63 232.27,253.68 233.43,253.57 233.54,253.38 233.59,253.17 233.65,252.85 233.82,251.47 233.87,251.13 233.93,251.01 234.04,251.20 234.20,252.02 234.37,252.86 234.53,253.35 234.76,253.54 235.97,253.49 236.03,253.41 236.08,253.22 236.14,252.81 236.19,252.03 236.25,250.70 236.30,248.69 236.36,246.01 236.41,242.95 236.47,240.03 236.53,237.90 236.58,237.11 236.64,237.44 236.69,238.37 236.75,239.81 236.80,241.60 236.91,245.52 236.97,247.35 237.02,248.94 237.08,250.26 237.13,251.28 237.19,252.04 237.24,252.54 237.30,252.70 237.35,252.24 237.41,250.85 237.47,248.98 237.52,248.07 237.58,248.51 237.63,249.58 237.69,250.87 237.74,251.99 237.80,252.76 237.85,253.18 237.91,253.37 238.13,253.47 239.73,253.40 239.79,253.29 239.84,252.92 239.90,252.09 239.95,251.03 240.01,250.52 240.06,250.74 240.12,251.30 240.23,252.60 240.29,253.01 240.34,253.23 240.45,253.37 242.39,253.25 242.50,253.10 242.55,252.87 242.61,252.43 242.66,251.70 242.72,250.58 242.77,249.10 242.88,245.79 242.94,244.61 243.00,244.16 243.11,244.25 243.16,243.28 243.22,240.35 243.27,236.41 243.33,235.06 243.38,237.12 243.44,240.70 243.49,244.71 243.55,248.14 243.60,250.52 243.66,251.90 243.71,252.59 243.77,252.91 243.88,253.10 244.65,253.08 244.71,253.04 244.76,252.86 244.82,252.21 244.88,250.78 244.93,248.96 244.99,248.07 245.04,248.45 245.10,249.42 245.15,250.61 245.21,251.64 245.26,252.35 245.32,252.74 245.37,252.91 245.59,252.99 246.37,252.86 246.48,252.65 246.53,252.40 246.59,251.97 246.64,251.32 246.70,250.45 246.81,248.53 246.87,247.84 246.92,247.58 246.98,247.68 247.03,247.97 247.09,248.43 247.31,250.81 247.42,251.73 247.53,252.28 247.64,252.56 247.86,252.69 248.19,252.58 248.25,252.45 248.30,252.19 248.36,251.68 248.41,250.84 248.47,249.56 248.53,247.86 248.64,244.06 248.69,242.70 248.75,242.20 248.80,242.38 248.86,242.83 248.91,242.99 248.97,241.49 249.02,236.90 249.08,230.68 249.13,228.21 249.19,230.78 249.24,235.62 249.30,241.15 249.35,245.88 249.41,249.13 249.47,250.97 249.52,251.85 249.58,252.21 249.69,252.39 250.52,252.22 250.57,251.99 250.63,251.20 250.68,249.44 250.74,247.21 250.79,246.12 250.85,246.57 250.90,247.76 250.96,249.21 251.01,250.47 251.07,251.32 251.12,251.79 251.18,252.00 251.35,252.08 252.06,251.86 252.12,251.71 252.17,251.22 252.23,250.13 252.29,248.75 252.34,248.07 252.40,248.34 252.45,249.07 252.51,249.95 252.56,250.71 252.62,251.23 252.67,251.51 252.78,251.67 253.83,251.33 253.94,251.05 254.00,250.66 254.06,249.94 254.11,248.72 254.17,246.89 254.22,244.46 254.28,241.68 254.33,239.02 254.39,237.08 254.44,236.33 254.50,236.42 254.55,236.23 254.61,233.94 254.66,227.58 254.72,219.17 254.77,215.98 254.83,219.75 254.88,226.67 254.94,234.51 255.00,241.23 255.05,245.88 255.11,248.55 255.16,249.87 255.22,250.45 255.27,250.69 255.44,250.81 255.77,250.66 255.82,250.40 255.88,249.55 255.94,247.69 255.99,245.32 256.05,244.16 256.10,244.63 256.16,245.88 256.21,247.39 256.27,248.72 256.32,249.61 256.38,250.10 256.43,250.31 256.60,250.36 257.04,250.15 257.10,250.03 257.15,249.45 257.21,247.46 257.26,243.08 257.32,237.50 257.37,234.76 257.43,235.91 257.48,238.89 257.54,242.51 257.59,245.67 257.65,247.82 257.70,249.00 257.76,249.53 257.82,249.72 258.09,249.68 258.98,249.20 259.03,249.09 259.09,248.85 259.14,248.36 259.20,247.46 259.25,245.93 259.31,243.64 259.36,240.60 259.42,237.12 259.47,233.80 259.53,231.37 259.59,230.46 259.64,230.77 259.70,231.56 259.75,231.86 259.81,229.26 259.86,221.25 259.92,210.40 259.97,206.09 260.03,210.62 260.08,219.12 260.14,228.81 260.19,237.10 260.25,242.78 260.30,246.00 260.36,247.53 260.41,248.17 260.47,248.40 260.64,248.47 260.91,248.35 260.97,248.20 261.02,247.53 261.08,245.23 261.13,240.14 261.19,233.63 261.24,230.46 261.30,231.80 261.35,235.27 261.41,239.50 261.47,243.18 261.52,245.69 261.58,247.07 261.63,247.69 261.69,247.91 261.85,247.94 262.68,247.50 262.74,247.22 262.79,246.27 262.85,244.19 262.90,241.54 262.96,240.24 263.01,240.77 263.07,242.16 263.12,243.86 263.18,245.33 263.23,246.33 263.29,246.88 263.35,247.11 263.46,247.19 264.06,246.88 264.12,246.75 264.18,246.50 264.23,245.98 264.29,245.00 264.34,243.35 264.40,240.86 264.45,237.57 264.51,233.79 264.56,230.19 264.62,227.56 264.67,226.55 264.73,226.66 264.78,226.35 264.84,223.03 264.89,213.96 264.95,201.99 265.00,197.39 265.06,202.63 265.12,212.31 265.17,223.32 265.23,232.77 265.28,239.29 265.34,243.05 265.39,244.90 265.45,245.70 265.50,246.03 265.61,246.21 265.94,246.13 266.00,246.04 266.06,245.67 266.11,244.40 266.17,241.62 266.22,238.07 266.28,236.33 266.33,237.05 266.39,238.94 266.44,241.23 266.50,243.23 266.55,244.59 266.61,245.33 266.66,245.66 266.77,245.79 267.11,245.61 267.16,245.48 267.22,245.23 267.27,244.77 267.33,244.01 267.38,242.87 267.44,241.36 267.55,237.99 267.60,236.79 267.66,236.33 267.71,236.49 267.77,236.99 267.82,237.77 267.94,239.81 268.05,241.88 268.10,242.74 268.16,243.45 268.21,244.00 268.27,244.41 268.38,244.86 268.54,245.06 268.88,244.95 268.93,244.87 268.99,244.67 269.04,244.24 269.10,243.33 269.15,241.62 269.21,238.70 269.26,234.29 269.32,228.45 269.37,221.76 269.43,215.36 269.48,210.70 269.54,208.93 269.59,209.27 269.65,209.37 269.71,205.69 269.76,194.46 269.82,179.42 269.87,174.29 269.93,182.33 269.98,196.22 270.04,211.74 270.09,225.01 270.15,234.20 270.20,239.55 270.26,242.24 270.31,243.47 270.37,244.00 270.42,244.23 270.59,244.38 270.98,244.24 271.03,243.94 271.09,242.91 271.14,240.64 271.20,237.75 271.25,236.33 271.31,236.92 271.36,238.46 271.42,240.34 271.47,241.98 271.53,243.09 271.59,243.70 271.64,243.98 271.75,244.09 272.36,243.90 272.41,243.61 272.47,242.63 272.53,240.46 272.58,237.68 272.64,236.33 272.69,236.90 272.75,238.37 272.80,240.17 272.86,241.73 272.91,242.80 272.97,243.38 273.02,243.64 273.13,243.75 273.30,243.62 273.35,243.42 273.41,242.96 273.47,241.99 273.52,240.15 273.58,237.01 273.63,232.27 273.69,225.98 273.74,218.77 273.80,211.89 273.85,206.87 273.91,205.02 273.96,205.72 274.02,207.46 274.07,208.40 274.13,204.01 274.18,189.52 274.24,169.74 274.29,162.16 274.35,171.04 274.41,187.29 274.46,205.70 274.52,221.44 274.57,232.24 274.63,238.37 274.68,241.34 274.74,242.59 274.79,243.08 274.85,243.26 275.07,243.35 275.68,243.22 275.73,242.96 275.79,242.07 275.84,240.09 275.90,237.56 275.95,236.33 276.01,236.86 276.06,238.21 276.12,239.86 276.18,241.30 276.23,242.28 276.29,242.82 276.34,243.07 276.45,243.19 276.78,243.14 276.84,242.92 276.89,242.17 276.95,240.49 277.00,238.35 277.06,237.31 277.12,237.76 277.17,238.92 277.23,240.32 277.28,241.55 277.34,242.38 277.39,242.85 277.45,243.06 277.61,243.18 277.94,243.14 278.00,243.07 278.06,242.88 278.11,242.41 278.17,241.42 278.22,239.51 278.28,236.26 278.33,231.35 278.39,224.81 278.44,217.33 278.50,210.18 278.55,204.98 278.61,203.06 278.66,203.80 278.72,205.62 278.77,206.59 278.83,201.93 278.88,186.68 278.94,165.85 279.00,157.85 279.05,167.16 279.11,184.21 279.16,203.55 279.22,220.07 279.27,231.42 279.33,237.87 279.38,240.99 279.44,242.31 279.49,242.83 279.55,243.03 279.77,243.17 280.10,243.13 280.16,242.88 280.21,242.00 280.27,240.04 280.32,237.55 280.38,236.33 280.43,236.86 280.49,238.21 280.54,239.85 280.60,241.28 280.65,242.25 280.71,242.80 280.77,243.04 280.88,243.17 281.76,243.15 281.82,243.08 281.87,242.91 281.93,242.49 281.98,241.59 282.04,239.87 282.09,236.94 282.15,232.50 282.20,226.61 282.26,219.85 282.31,213.40 282.37,208.70 282.42,206.98 282.48,207.64 282.53,209.24 282.59,209.90 282.65,204.95 282.70,189.50 282.76,168.56 282.81,160.30 282.87,169.15 282.92,185.70 282.98,204.56 283.03,220.70 283.09,231.78 283.14,238.07 283.20,241.10 283.25,242.38 283.31,242.88 283.36,243.07 283.59,243.21 284.25,243.23 284.30,243.02 284.36,242.25 284.41,240.55 284.47,238.37 284.53,237.31 284.58,237.78 284.64,238.97 284.69,240.41 284.75,241.67 284.80,242.53 284.86,243.01 284.91,243.24 285.08,243.38 285.85,243.47 285.96,243.27 286.02,242.90 286.07,242.10 286.13,240.55 286.18,237.91 286.24,233.91 286.30,228.59 286.35,222.50 286.41,216.68 286.46,212.44 286.52,210.89 286.57,211.49 286.63,212.93 286.68,213.41 286.74,208.51 286.79,193.59 286.85,173.44 286.90,165.39 286.96,173.65 287.01,189.29 287.07,207.14 287.12,222.45 287.18,232.95 287.24,238.91 287.29,241.78 287.35,242.99 287.40,243.46 287.46,243.64 287.68,243.79 288.12,243.82 288.18,243.63 288.23,242.91 288.29,241.32 288.34,239.28 288.40,238.29 288.45,238.73 288.51,239.84 288.56,241.20 288.62,242.38 288.67,243.19 288.73,243.64 288.78,243.85 288.95,243.99 289.67,244.09 289.78,243.91 289.83,243.58 289.89,242.86 289.94,241.48 290.00,239.11 290.06,235.51 290.11,230.74 290.17,225.27 290.22,220.04 290.28,216.24 290.33,214.80 290.39,215.03 290.44,214.71 290.50,210.22 290.55,197.71 290.61,181.13 290.66,174.88 290.72,182.40 290.77,196.12 290.83,211.68 290.88,225.03 290.94,234.27 291.00,239.61 291.05,242.27 291.11,243.46 291.16,243.97 291.22,244.20 291.38,244.40 291.99,244.50 292.05,244.31 292.10,243.64 292.16,242.13 292.21,240.20 292.27,239.27 292.32,239.69 292.38,240.74 292.43,242.03 292.49,243.15 292.54,243.92 292.60,244.35 292.65,244.56 292.88,244.70 293.32,244.71 293.37,244.60 293.43,244.30 293.48,243.67 293.54,242.44 293.59,240.33 293.65,237.13 293.71,232.89 293.76,228.03 293.82,223.38 293.87,220.00 293.93,218.72 293.98,218.89 294.04,218.47 294.09,213.98 294.15,201.76 294.20,185.62 294.26,179.38 294.31,186.37 294.37,199.33 294.42,214.08 294.48,226.76 294.53,235.52 294.59,240.57 294.65,243.08 294.70,244.19 294.76,244.66 294.81,244.87 294.98,245.05 295.59,245.14 295.64,244.97 295.70,244.34 295.75,242.92 295.81,241.12 295.86,240.24 295.92,240.64 295.97,241.63 296.03,242.83 296.08,243.88 296.14,244.60 296.19,245.00 296.25,245.19 296.47,245.33 296.80,245.32 296.86,245.23 296.91,244.98 296.97,244.45 297.02,243.42 297.08,241.66 297.13,238.99 297.19,235.43 297.24,231.36 297.30,227.47 297.36,224.65 297.41,223.61 297.47,224.02 297.52,224.97 297.58,225.22 297.63,221.71 297.69,211.20 297.74,197.04 297.80,191.32 297.85,197.00 297.91,207.83 297.96,220.22 298.02,230.86 298.07,238.15 298.13,242.29 298.18,244.28 298.24,245.12 298.30,245.45 298.41,245.63 299.18,245.79 299.24,245.63 299.29,245.04 299.35,243.72 299.40,242.04 299.46,241.22 299.51,241.59 299.57,242.52 299.62,243.64 299.68,244.63 299.73,245.30 299.79,245.68 299.84,245.86 300.06,246.00 300.23,245.90 300.29,245.71 300.34,245.28 300.40,244.46 300.45,243.04 300.51,240.89 300.56,238.02 300.62,234.74 300.67,231.61 300.73,229.33 300.78,228.50 300.84,228.83 300.89,229.61 300.95,229.84 301.00,227.08 301.06,218.77 301.12,207.57 301.17,203.06 301.23,207.60 301.28,216.22 301.34,226.09 301.39,234.55 301.45,240.35 301.50,243.65 301.56,245.24 301.61,245.91 301.67,246.18 301.83,246.36 302.50,246.49 302.55,246.35 302.61,245.80 302.66,244.56 302.72,242.97 302.77,242.20 302.83,242.55 302.89,243.43 302.94,244.49 303.00,245.42 303.05,246.07 303.11,246.43 303.22,246.67 303.55,246.74 303.66,246.53 303.71,246.19 303.77,245.51 303.83,244.35 303.88,242.59 303.94,240.24 303.99,237.55 304.05,234.99 304.10,233.12 304.16,232.42 304.21,232.52 304.27,232.27 304.32,229.71 304.38,222.75 304.43,213.57 304.49,210.01 304.54,213.94 304.60,221.27 304.65,229.62 304.71,236.80 304.77,241.76 304.82,244.63 304.88,246.05 304.93,246.69 304.99,246.96 305.15,247.20 305.82,247.38 305.87,247.24 305.93,246.71 305.98,245.49 306.04,243.93 306.09,243.18 306.15,243.53 306.20,244.40 306.26,245.45 306.31,246.37 306.37,247.01 306.42,247.37 306.53,247.62 306.76,247.69 306.87,247.54 306.92,247.27 306.98,246.74 307.03,245.81 307.09,244.41 307.14,242.54 307.25,238.35 307.31,236.86 307.36,236.33 307.42,236.56 307.47,237.06 307.53,237.09 307.59,234.81 307.64,228.30 307.70,219.59 307.75,215.98 307.81,219.26 307.86,225.68 307.92,233.07 307.97,239.42 308.03,243.79 308.08,246.27 308.14,247.46 308.19,247.97 308.25,248.18 308.53,248.41 309.13,248.67 309.19,248.57 309.24,248.12 309.30,247.09 309.36,245.76 309.41,245.14 309.47,245.46 309.52,246.23 309.58,247.15 309.63,247.97 309.69,248.53 309.74,248.86 309.85,249.11 309.96,249.08 310.02,248.94 310.07,248.63 310.13,248.07 310.18,247.21 310.24,246.05 310.35,243.44 310.41,242.52 310.46,242.20 310.52,242.28 310.57,242.18 310.63,240.85 310.68,237.22 310.74,232.42 310.79,230.56 310.85,232.63 310.90,236.49 310.96,240.88 311.01,244.66 311.07,247.29 311.12,248.82 311.18,249.60 311.24,249.97 311.35,250.24 312.01,250.80 312.06,250.77 312.12,250.38 312.18,248.92 312.23,245.62 312.29,241.40 312.34,239.36 312.40,240.30 312.45,242.64 312.51,245.48 312.56,247.96 312.62,249.67 312.67,250.63 312.73,251.09 312.78,251.29 313.17,251.60 313.83,251.97 313.89,251.91 313.95,251.42 314.00,249.62 314.06,245.58 314.11,240.40 314.17,237.90 314.22,239.03 314.28,241.87 314.33,245.32 314.39,248.33 314.44,250.40 314.50,251.56 314.55,252.11 314.61,252.34 314.89,252.58 316.43,253.34 316.49,253.32 316.54,253.08 316.60,252.18 316.65,250.16 316.71,247.56 316.77,246.31 316.82,246.89 316.88,248.32 316.93,250.07 316.99,251.59 317.04,252.63 317.10,253.22 317.15,253.51 317.26,253.68 319.25,254.39 319.31,254.24 319.36,253.68 319.42,252.42 319.48,250.81 319.53,250.03 319.59,250.39 319.64,251.29 319.70,252.38 319.75,253.33 319.81,253.99 319.86,254.36 319.92,254.53 320.19,254.70 321.58,254.94 321.63,254.88 321.69,254.62 321.74,254.05 321.80,253.32 321.85,252.96 321.91,253.13 322.07,254.46 322.13,254.76 322.24,255.01 324.45,255.29 326.66,255.41 328.88,255.44 331.09,255.47 333.30,255.49 335.51,255.50 337.72,255.51 339.94,255.51 342.15,255.51 344.36,255.50 346.57,255.50 348.78,255.49 351.00,255.48 353.21,255.47 355.42,255.45 357.63,255.42 358.63,255.41 358.6,255.41 358.0,255.42 357.3,255.43 356.6,255.44 356.0,255.44 355.3,255.45 354.6,255.46 354.0,255.46 353.3,255.47 352.7,255.47 352.0,255.48 351.3,255.48 350.7,255.48 350.0,255.49 349.3,255.49 348.7,255.49 348.0,255.50 347.3,255.50 346.7,255.50 346.0,255.50 345.4,255.50 344.7,255.50 344.0,255.51 343.4,255.51 342.7,255.51 342.0,255.51 341.4,255.51 340.7,255.51 340.0,255.51 339.4,255.51 338.7,255.51 338.1,255.51 337.4,255.51 336.7,255.51 336.1,255.51 335.4,255.50 334.7,255.50 334.1,255.50 333.4,255.49 332.7,255.49 332.1,255.48 331.4,255.48 330.8,255.47 330.1,255.46 329.4,255.45 328.8,255.44 328.1,255.43 327.4,255.42 326.8,255.41 326.1,255.39 325.4,255.36 324.8,255.31 324.1,255.26 323.5,255.19 322.8,255.12 322.1,255.03 321.5,254.94 320.8,254.84 320.1,254.68 319.5,254.49 318.8,254.27 318.1,254.03 317.5,253.78 316.8,253.52 316.2,253.22 315.5,252.90 314.8,252.55 314.2,252.18 313.5,251.79 312.8,251.39 312.2,250.94 311.5,250.43 310.8,249.90 310.2,249.39 309.5,248.93 308.9,248.56 308.2,248.26 307.5,248.00 306.9,247.76 306.2,247.54 305.5,247.33 304.9,247.14 304.2,246.96 303.5,246.78 302.9,246.62 302.2,246.46 301.6,246.32 300.9,246.17 300.2,246.03 299.6,245.90 298.9,245.77 298.2,245.64 297.6,245.52 296.9,245.40 296.2,245.29 295.6,245.18 294.9,245.06 294.3,244.95 293.6,244.83 292.9,244.71 292.3,244.59 291.6,244.47 290.9,244.34 290.3,244.22 289.6,244.10 288.9,243.99 288.3,243.89 287.6,243.79 287.0,243.68 286.3,243.57 285.6,243.46 285.0,243.37 284.3,243.28 283.6,243.22 283.0,243.19 282.3,243.18 281.6,243.18 281.0,243.18 280.3,243.18 279.7,243.18 279.0,243.18 278.3,243.18 277.7,243.18 277.0,243.18 276.3,243.21 275.7,243.27 275.0,243.37 274.4,243.49 273.7,243.64 273.0,243.79 272.4,243.96 271.7,244.12 271.0,244.28 270.4,244.48 269.7,244.69 269.0,244.93 268.4,245.17 267.7,245.43 267.1,245.70 266.4,245.96 265.7,246.23 265.1,246.50 264.4,246.78 263.7,247.08 263.1,247.38 262.4,247.68 261.7,247.99 261.1,248.29 260.4,248.59 259.8,248.89 259.1,249.20 258.4,249.52 257.8,249.83 257.1,250.14 256.4,250.44 255.8,250.71 255.1,250.95 254.4,251.17 253.8,251.38 253.1,251.59 252.5,251.79 251.8,251.97 251.1,252.13 250.5,252.28 249.8,252.41 249.1,252.52 248.5,252.62 247.8,252.71 247.1,252.80 246.5,252.88 245.8,252.96 245.2,253.03 244.5,253.10 243.8,253.16 243.2,253.22 242.5,253.27 241.8,253.31 241.2,253.35 240.5,253.39 239.8,253.41 239.2,253.44 238.5,253.46 237.9,253.48 237.2,253.50 236.5,253.52 235.9,253.54 235.2,253.56 234.5,253.58 233.9,253.60 233.2,253.63 232.5,253.66 231.9,253.70 231.2,253.74 230.6,253.78 229.9,253.83 229.2,253.89 228.6,253.96 227.9,254.07 227.2,254.24 226.6,254.43 225.9,254.62 225.2,254.79 224.6,254.91 223.9,255.00 223.3,255.07 222.6,255.14 221.9,255.21 221.3,255.26 220.6,255.31 219.9,255.36 219.3,255.40 218.6,255.43 217.9,255.46 217.3,255.50 216.6,255.53 216.0,255.56 215.3,255.59 214.6,255.62 214.0,255.64 213.3,255.66 212.6,255.68 212.0,255.69 211.3,255.70"/>
</g>
<g>
<path class="ax" d="M387.40,148.26V265.69H542.86"/>
<text class="tl" x="382.80" y="258.05" text-anchor="end" textLength="2.9" lengthAdjust="spacingAndGlyphs">0</text>
<text class="tl" x="382.80" y="238.48" text-anchor="end" textLength="5.5" lengthAdjust="spacingAndGlyphs">20</text>
<text class="tl" x="382.80" y="218.91" text-anchor="end" textLength="5.5" lengthAdjust="spacingAndGlyphs">40</text>
<text class="tl" x="382.80" y="199.34" text-anchor="end" textLength="5.5" lengthAdjust="spacingAndGlyphs">60</text>
<text class="tl" x="382.80" y="179.77" text-anchor="end" textLength="5.5" lengthAdjust="spacingAndGlyphs">80</text>
<text class="tl" x="382.80" y="160.20" text-anchor="end" textLength="8.5" lengthAdjust="spacingAndGlyphs">100</text>
<text class="tl" x="404.56" y="275.19" text-anchor="middle" textLength="5.5" lengthAdjust="spacingAndGlyphs">10</text>
<text class="tl" x="432.32" y="275.19" text-anchor="middle" textLength="5.5" lengthAdjust="spacingAndGlyphs">20</text>
<text class="tl" x="460.08" y="275.19" text-anchor="middle" textLength="5.5" lengthAdjust="spacingAndGlyphs">30</text>
<text class="tl" x="487.84" y="275.19" text-anchor="middle" textLength="5.5" lengthAdjust="spacingAndGlyphs">40</text>
<text class="tl" x="515.60" y="275.19" text-anchor="middle" textLength="5.5" lengthAdjust="spacingAndGlyphs">50</text>
<text class="tl" x="543.36" y="275.19" text-anchor="middle" textLength="5.5" lengthAdjust="spacingAndGlyphs">60</text>
<path class="tk" d="M384.40,255.90H387.40M384.40,236.33H387.40M384.40,216.76H387.40M384.40,197.19H387.40M384.40,177.62H387.40M384.40,158.05H387.40M404.06,265.69v3.2M431.82,265.69v3.2M459.58,265.69v3.2M487.34,265.69v3.2M515.10,265.69v3.2M542.86,265.69v3.2"/>
<text class="t4" x="387.60" y="273.08" text-anchor="middle">4</text>
<text class="xl" x="464.82" y="286.58" text-anchor="middle" textLength="19.1" lengthAdjust="spacingAndGlyphs">t / min</text>
<text class="yl" transform="translate(371.20,206.97) rotate(-90)" text-anchor="middle" textLength="68.6" lengthAdjust="spacingAndGlyphs">Relative abundance / %</text>
<text class="tp" x="511.60" y="164.50">450°C</text>
<polygon class="bd" points="387.4,256.1 387.7,256.0 388.0,256.0 388.2,256.0 388.5,256.0 388.8,256.0 389.1,255.9 389.3,255.9 389.6,255.9 389.9,255.9 390.2,255.8 390.4,255.8 390.7,255.8 391.0,255.8 391.3,255.8 391.5,255.7 391.8,255.7 392.1,255.7 392.4,255.6 392.7,255.6 392.9,255.6 393.2,255.6 393.5,255.5 393.8,255.5 394.0,255.5 394.3,255.5 394.6,255.5 394.9,255.4 395.1,255.4 395.4,255.4 395.7,255.4 396.0,255.4 396.2,255.3 396.5,255.3 396.8,255.3 397.1,255.3 397.4,255.3 397.6,255.3 397.9,255.2 398.2,255.1 398.5,255.1 398.7,255.0 399.0,254.9 399.3,254.9 399.6,254.8 399.8,254.8 400.1,254.7 400.4,254.7 400.7,254.7 400.9,254.6 401.2,254.6 401.5,254.5 401.8,254.5 402.1,254.4 402.3,254.4 402.6,254.3 402.9,254.2 403.2,254.2 403.4,254.2 403.7,254.2 404.0,254.2 404.3,254.2 404.5,254.2 404.8,254.2 405.1,254.2 405.4,254.2 405.6,254.1 405.9,254.1 406.2,254.0 406.5,254.0 406.8,253.9 407.0,253.9 407.3,253.9 407.6,253.8 407.9,253.8 408.1,253.7 408.4,253.6 408.7,253.5 409.0,253.4 409.2,253.3 409.5,253.3 409.8,253.3 410.1,253.4 410.3,253.5 410.6,253.7 410.9,253.8 411.2,253.9 411.5,253.9 411.7,253.9 412.0,253.9 412.3,253.8 412.6,253.8 412.8,253.7 413.1,253.7 413.4,253.6 413.7,253.5 413.9,253.4 414.2,253.3 414.5,253.2 414.8,253.1 415.0,253.1 415.3,253.1 415.6,253.2 415.9,253.2 416.2,253.2 416.4,253.2 416.7,253.1 417.0,253.1 417.3,253.0 417.5,253.0 417.8,253.1 418.1,253.2 418.4,253.2 418.6,253.3 418.9,253.3 419.2,253.3 419.5,253.2 419.8,253.2 420.0,253.1 420.3,253.1 420.6,253.1 420.9,253.0 421.1,253.0 421.4,253.0 421.7,253.0 422.0,253.0 422.2,253.0 422.5,252.9 422.8,252.8 423.1,252.8 423.3,252.7 423.6,252.6 423.9,252.6 424.2,252.5 424.5,252.5 424.7,252.4 425.0,252.3 425.3,252.3 425.6,252.2 425.8,252.2 426.1,252.2 426.4,252.2 426.7,252.1 426.9,252.1 427.2,252.0 427.5,251.9 427.8,251.8 428.0,251.6 428.3,251.5 428.6,251.3 428.9,251.2 429.2,251.1 429.4,251.0 429.7,251.0 430.0,250.9 430.3,250.9 430.5,250.8 430.8,250.8 431.1,250.8 431.4,250.9 431.6,251.0 431.9,251.2 432.2,251.3 432.5,251.3 432.7,251.3 433.0,251.2 433.3,251.0 433.6,250.7 433.9,250.3 434.1,250.0 434.4,249.7 434.7,249.4 435.0,249.3 435.2,249.1 435.5,249.0 435.8,248.8 436.1,248.6 436.3,248.4 436.6,248.1 436.9,247.8 437.2,247.7 437.4,247.5 437.7,247.5 438.0,247.5 438.3,247.6 438.6,247.6 438.8,247.7 439.1,247.8 439.4,247.9 439.7,247.9 439.9,247.9 440.2,247.8 440.5,247.6 440.8,247.3 441.0,247.0 441.3,246.6 441.6,246.3 441.9,246.0 442.1,245.7 442.4,245.4 442.7,245.3 443.0,245.2 443.3,245.1 443.5,245.1 443.8,245.1 444.1,245.2 444.4,245.1 444.6,245.0 444.9,244.8 445.2,244.6 445.5,244.3 445.7,243.9 446.0,243.6 446.3,243.2 446.6,242.9 446.8,242.6 447.1,242.4 447.4,242.3 447.7,242.2 448.0,242.2 448.2,242.2 448.5,242.2 448.8,242.2 449.1,242.1 449.3,242.0 449.6,242.0 449.9,242.1 450.2,242.3 450.4,242.5 450.7,242.8 451.0,243.0 451.3,243.2 451.5,243.3 451.8,243.3 452.1,243.3 452.4,243.2 452.7,243.1 452.9,242.9 453.2,242.6 453.5,242.3 453.8,242.0 454.0,241.7 454.3,241.4 454.6,241.1 454.9,241.0 455.1,240.8 455.4,240.8 455.7,240.7 456.0,240.6 456.2,240.6 456.5,240.6 456.8,240.6 457.1,240.6 457.4,240.7 457.6,240.7 457.9,240.6 458.2,240.6 458.5,240.5 458.7,240.5 459.0,240.5 459.3,240.6 459.6,240.7 459.8,240.9 460.1,241.1 460.4,241.3 460.7,241.5 460.9,241.7 461.2,241.8 461.5,241.9 461.8,242.0 462.1,242.0 462.3,241.9 462.6,241.9 462.9,241.9 463.2,241.8 463.4,241.8 463.7,241.8 464.0,241.9 464.3,242.0 464.5,242.0 464.8,242.1 465.1,242.2 465.4,242.2 465.6,242.3 465.9,242.3 466.2,242.3 466.5,242.3 466.8,242.2 467.0,242.1 467.3,241.9 467.6,241.8 467.9,241.8 468.1,241.8 468.4,241.8 468.7,241.9 469.0,242.0 469.2,242.2 469.5,242.4 469.8,242.6 470.1,242.8 470.3,243.0 470.6,243.1 470.9,243.2 471.2,243.2 471.5,243.2 471.7,243.1 472.0,243.0 472.3,243.0 472.6,242.9 472.8,242.9 473.1,242.8 473.4,242.8 473.7,242.8 473.9,242.8 474.2,243.0 474.5,243.2 474.8,243.4 475.1,243.7 475.3,243.8 475.6,243.9 475.9,243.9 476.2,243.9 476.4,243.9 476.7,243.9 477.0,243.9 477.3,244.1 477.5,244.2 477.8,244.3 478.1,244.3 478.4,244.3 478.6,244.2 478.9,244.2 479.2,244.2 479.5,244.3 479.8,244.4 480.0,244.5 480.3,244.5 480.6,244.5 480.9,244.5 481.1,244.5 481.4,244.4 481.7,244.4 482.0,244.4 482.2,244.4 482.5,244.4 482.8,244.4 483.1,244.4 483.3,244.4 483.6,244.4 483.9,244.3 484.2,244.3 484.5,244.3 484.7,244.3 485.0,244.3 485.3,244.4 485.6,244.5 485.8,244.6 486.1,244.7 486.4,244.8 486.7,245.0 486.9,245.1 487.2,245.3 487.5,245.5 487.8,245.7 488.0,246.0 488.3,246.2 488.6,246.5 488.9,246.7 489.2,247.0 489.4,247.3 489.7,247.5 490.0,247.8 490.3,248.0 490.5,248.3 490.8,248.5 491.1,248.8 491.4,249.0 491.6,249.2 491.9,249.5 492.2,249.7 492.5,249.9 492.7,250.2 493.0,250.4 493.3,250.6 493.6,250.9 493.9,251.1 494.1,251.3 494.4,251.5 494.7,251.6 495.0,251.8 495.2,252.0 495.5,252.2 495.8,252.4 496.1,252.6 496.3,252.9 496.6,253.1 496.9,253.3 497.2,253.5 497.4,253.7 497.7,253.8 498.0,253.9 498.3,254.0 498.6,254.1 498.8,254.2 499.1,254.3 499.4,254.4 499.7,254.5 499.9,254.6 500.2,254.7 500.5,254.7 500.8,254.8 501.0,254.8 501.3,254.9 501.6,254.9 501.9,255.0 502.1,255.0 502.4,255.1 502.7,255.1 503.0,255.2 503.3,255.2 503.5,255.2 503.8,255.3 504.1,255.3 504.4,255.3 504.6,255.3 504.9,255.4 505.2,255.4 505.5,255.4 505.7,255.4 506.0,255.5 506.3,255.5 506.6,255.5 506.8,255.5 507.1,255.5 507.4,255.5 507.7,255.5 508.0,255.6 508.2,255.6 508.5,255.6 508.8,255.6 509.1,255.6 509.3,255.6 509.6,255.6 509.9,255.7 510.2,255.7 510.4,255.7 510.7,255.7 511.0,255.7 511.3,255.7 511.5,255.7 511.8,255.7 512.1,255.8 512.4,255.8 512.7,255.8 512.9,255.8 513.2,255.8 513.5,255.8 513.8,255.8 514.0,255.8 514.3,255.8 514.6,255.8 514.9,255.8 515.1,255.8 515.4,255.8 515.7,255.8 516.0,255.8 516.2,255.8 516.5,255.8 516.8,255.8 517.1,255.8 517.4,255.8 517.6,255.8 517.9,255.8 518.2,255.8 518.5,255.8 518.7,255.8 519.0,255.8 519.3,255.8 519.6,255.8 519.8,255.8 520.1,255.8 520.4,255.8 520.7,255.8 520.9,255.8 521.2,255.8 521.5,255.8 521.8,255.8 522.1,255.8 522.3,255.8 522.6,255.8 522.9,255.8 523.2,255.8 523.4,255.8 523.7,255.8 524.0,255.8 524.3,255.8 524.5,255.8 524.8,255.8 525.1,255.8 525.4,255.8 525.6,255.8 525.9,255.8 526.2,255.8 526.5,255.8 526.8,255.8 527.0,255.8 527.3,255.8 527.6,255.8 527.9,255.8 528.1,255.8 528.4,255.8 528.7,255.7 529.0,255.7 529.2,255.7 529.5,255.7 529.8,255.7 530.1,255.7 530.4,255.7 530.6,255.7 530.9,255.7 531.2,255.7 531.5,255.7 531.7,255.7 532.0,255.7 532.3,255.7 532.6,255.7 532.8,255.7 533.1,255.7 533.4,255.7 533.7,255.7 533.9,255.7 534.2,255.7 534.5,255.7 534.8,255.7 535.1,255.7 535.3,255.7 535.3,254.9 535.1,254.9 534.8,254.9 534.5,254.9 534.2,254.9 533.9,254.9 533.7,254.9 533.4,254.9 533.1,254.9 532.8,254.9 532.6,254.9 532.3,254.9 532.0,255.0 531.7,254.9 531.5,255.0 531.2,255.0 530.9,255.0 530.6,255.0 530.4,255.0 530.1,255.0 529.8,255.0 529.5,255.0 529.2,255.0 529.0,255.0 528.7,255.0 528.4,255.0 528.1,255.0 527.9,255.0 527.6,255.0 527.3,255.0 527.0,255.0 526.8,255.0 526.5,255.0 526.2,255.0 525.9,255.0 525.6,255.0 525.4,255.0 525.1,255.0 524.8,255.0 524.5,255.0 524.3,255.0 524.0,255.0 523.7,255.0 523.4,255.0 523.2,255.0 522.9,255.0 522.6,255.0 522.3,255.0 522.1,255.0 521.8,255.0 521.5,255.0 521.2,255.0 520.9,255.0 520.7,255.0 520.4,255.0 520.1,255.0 519.8,255.0 519.6,255.0 519.3,255.0 519.0,255.0 518.7,255.0 518.5,255.0 518.2,255.0 517.9,254.9 517.6,255.0 517.4,255.0 517.1,255.0 516.8,255.0 516.5,255.0 516.2,255.0 516.0,255.0 515.7,255.0 515.4,255.0 515.1,255.0 514.9,255.0 514.6,255.0 514.3,255.0 514.0,255.0 513.8,255.0 513.5,255.0 513.2,255.0 512.9,255.0 512.7,255.0 512.4,255.0 512.1,255.0 511.8,255.0 511.5,255.0 511.3,255.0 511.0,254.9 510.7,254.9 510.4,254.9 510.2,254.9 509.9,254.9 509.6,254.9 509.3,254.9 509.1,254.9 508.8,254.9 508.5,254.9 508.2,254.8 508.0,254.8 507.7,254.8 507.4,254.8 507.1,254.8 506.8,254.8 506.6,254.7 506.3,254.7 506.0,254.7 505.7,254.6 505.5,254.6 505.2,254.6 504.9,254.6 504.6,254.5 504.4,254.5 504.1,254.5 503.8,254.5 503.5,254.5 503.3,254.4 503.0,254.4 502.7,254.2 502.4,254.3 502.1,254.2 501.9,254.1 501.6,254.0 501.3,254.0 501.0,254.0 500.8,253.7 500.5,253.9 500.2,253.7 499.9,253.5 499.7,253.6 499.4,253.5 499.1,253.3 498.8,253.2 498.6,253.2 498.3,253.1 498.0,252.8 497.7,252.7 497.4,252.7 497.2,252.3 496.9,252.2 496.6,251.6 496.3,251.3 496.1,250.8 495.8,251.0 495.5,251.0 495.2,250.9 495.0,250.8 494.7,250.7 494.4,249.8 494.1,249.7 493.9,249.8 493.6,249.1 493.3,249.5 493.0,249.0 492.7,248.7 492.5,248.1 492.2,248.5 491.9,248.3 491.6,248.3 491.4,247.9 491.1,247.8 490.8,247.1 490.5,247.0 490.3,246.9 490.0,246.7 489.7,246.2 489.4,245.9 489.2,245.5 488.9,245.0 488.6,243.5 488.3,243.1 488.0,243.9 487.8,242.7 487.5,243.6 487.2,242.6 486.9,242.0 486.7,241.5 486.4,241.2 486.1,242.6 485.8,242.6 485.6,242.2 485.3,242.9 485.0,242.7 484.7,242.2 484.5,242.6 484.2,242.3 483.9,243.2 483.6,242.8 483.3,242.2 483.1,241.1 482.8,240.6 482.5,240.5 482.2,239.8 482.0,238.9 481.7,240.0 481.4,241.7 481.1,241.6 480.9,241.7 480.6,242.7 480.3,241.2 480.0,240.1 479.8,241.6 479.5,238.6 479.2,240.6 478.9,240.9 478.6,241.6 478.4,240.9 478.1,240.7 477.8,242.1 477.5,241.6 477.3,242.7 477.0,242.2 476.7,242.1 476.4,241.9 476.2,241.0 475.9,239.1 475.6,238.2 475.3,238.7 475.1,238.8 474.8,238.9 474.5,240.3 474.2,241.0 473.9,241.1 473.7,240.1 473.4,239.6 473.1,238.4 472.8,237.8 472.6,238.4 472.3,240.4 472.0,239.5 471.7,240.6 471.5,240.3 471.2,240.7 470.9,238.9 470.6,241.2 470.3,239.5 470.1,240.5 469.8,239.5 469.5,240.1 469.2,240.2 469.0,238.8 468.7,239.2 468.4,238.6 468.1,239.8 467.9,238.8 467.6,240.0 467.3,240.8 467.0,240.9 466.8,240.7 466.5,240.2 466.2,238.0 465.9,237.6 465.6,239.3 465.4,238.4 465.1,239.9 464.8,237.6 464.5,239.7 464.3,238.9 464.0,240.4 463.7,238.4 463.4,240.2 463.2,239.7 462.9,240.0 462.6,240.6 462.3,240.9 462.1,240.4 461.8,238.9 461.5,237.9 461.2,239.8 460.9,238.7 460.7,240.0 460.4,239.8 460.1,238.9 459.8,239.0 459.6,239.3 459.3,239.0 459.0,239.2 458.7,237.5 458.5,237.7 458.2,235.7 457.9,235.5 457.6,234.6 457.4,235.4 457.1,237.4 456.8,237.4 456.5,236.9 456.2,237.6 456.0,237.3 455.7,237.5 455.4,238.5 455.1,238.6 454.9,237.2 454.6,237.3 454.3,237.2 454.0,239.4 453.8,238.0 453.5,235.0 453.2,237.3 452.9,237.9 452.7,240.9 452.4,240.1 452.1,240.5 451.8,241.8 451.5,239.6 451.3,239.6 451.0,238.2 450.7,239.0 450.4,239.3 450.2,238.4 449.9,239.5 449.6,238.3 449.3,238.9 449.1,239.5 448.8,240.3 448.5,240.8 448.2,240.9 448.0,240.2 447.7,240.5 447.4,240.7 447.1,240.4 446.8,240.6 446.6,240.8 446.3,240.6 446.0,236.8 445.7,238.0 445.5,238.2 445.2,241.6 444.9,241.6 444.6,241.3 444.4,241.6 444.1,241.7 443.8,241.7 443.5,240.9 443.3,243.4 443.0,243.2 442.7,243.3 442.4,243.6 442.1,244.5 441.9,244.2 441.6,244.6 441.3,244.3 441.0,245.5 440.8,244.0 440.5,245.6 440.2,246.2 439.9,246.1 439.7,246.6 439.4,246.3 439.1,245.9 438.8,244.3 438.6,243.7 438.3,243.2 438.0,245.0 437.7,245.5 437.4,245.4 437.2,246.3 436.9,246.7 436.6,246.8 436.3,247.2 436.1,247.1 435.8,247.1 435.5,247.7 435.2,247.0 435.0,246.8 434.7,248.1 434.4,247.6 434.1,248.2 433.9,248.8 433.6,247.0 433.3,248.4 433.0,247.8 432.7,246.5 432.5,248.8 432.2,248.9 431.9,249.4 431.6,248.5 431.4,247.2 431.1,248.1 430.8,247.1 430.5,248.0 430.3,249.1 430.0,247.7 429.7,248.0 429.4,248.9 429.2,248.8 428.9,249.2 428.6,249.9 428.3,250.5 428.0,250.7 427.8,250.6 427.5,250.5 427.2,250.6 426.9,250.5 426.7,248.8 426.4,249.1 426.1,247.5 425.8,247.4 425.6,249.5 425.3,247.8 425.0,248.9 424.7,249.2 424.5,250.8 424.2,250.8 423.9,248.8 423.6,249.7 423.3,249.9 423.1,250.5 422.8,251.0 422.5,251.6 422.2,251.1 422.0,251.3 421.7,251.5 421.4,251.0 421.1,250.8 420.9,251.6 420.6,250.0 420.3,251.4 420.0,251.5 419.8,250.4 419.5,251.9 419.2,251.4 418.9,252.3 418.6,252.4 418.4,252.3 418.1,252.2 417.8,251.2 417.5,251.9 417.3,251.0 417.0,251.9 416.7,251.8 416.4,250.9 416.2,251.1 415.9,251.9 415.6,251.6 415.3,251.4 415.0,252.0 414.8,252.1 414.5,251.6 414.2,251.9 413.9,252.1 413.7,251.2 413.4,251.4 413.1,252.0 412.8,252.4 412.6,252.7 412.3,252.8 412.0,252.3 411.7,252.6 411.5,252.5 411.2,252.9 410.9,252.6 410.6,252.8 410.3,252.5 410.1,252.2 409.8,251.1 409.5,251.7 409.2,251.0 409.0,251.0 408.7,250.9 408.4,251.6 408.1,252.4 407.9,252.3 407.6,252.5 407.3,251.6 407.0,251.5 406.8,251.7 406.5,252.3 406.2,251.5 405.9,252.6 405.6,252.1 405.4,252.8 405.1,251.8 404.8,252.0 404.5,251.8 404.3,252.8 404.0,252.4 403.7,252.0 403.4,252.4 403.2,252.2 402.9,253.1 402.6,253.3 402.3,253.1 402.1,253.4 401.8,253.2 401.5,252.7 401.2,252.4 400.9,252.6 400.7,253.0 400.4,253.5 400.1,253.7 399.8,253.8 399.6,253.9 399.3,253.9 399.0,253.9 398.7,254.0 398.5,254.2 398.2,254.0 397.9,254.3 397.6,254.3 397.4,254.3 397.1,254.3 396.8,254.2 396.5,254.4 396.2,254.3 396.0,254.4 395.7,254.5 395.4,254.4 395.1,254.5 394.9,254.5 394.6,254.5 394.3,254.5 394.0,254.6 393.8,254.5 393.5,254.6 393.2,254.6 392.9,254.6 392.7,254.7 392.4,254.8 392.1,254.7 391.8,254.7 391.5,254.9 391.3,254.8 391.0,254.9 390.7,255.0 390.4,255.0 390.2,255.1 389.9,255.0 389.6,255.1 389.3,255.2 389.1,255.1 388.8,255.2 388.5,255.2 388.2,255.2 388.0,255.2 387.7,255.3 387.4,255.3"/>
<path class="gr" d="M388.22,255.6v-0.5M389.22,255.6v-0.2M389.47,255.5v-0.2M389.75,255.5v-0.3M390.03,255.5v-0.2M390.36,255.5v-0.2M390.86,255.4v-0.3M391.16,255.4v-0.3M391.28,255.4v-0.2M392.05,255.3v-0.5M392.21,255.3v-0.5M392.52,255.3v-0.3M393.54,255.2v-0.3M394.10,255.1v-0.4M395.66,255.0v-0.7M395.80,254.9v-0.3M396.34,254.9v-0.2M396.86,254.8v-0.4M397.07,254.8v-0.4M397.79,254.7v-0.3M397.94,254.7v-0.3M398.26,254.7v-1.2M398.59,254.6v-0.4M399.35,254.5v-0.3M399.64,254.4v-0.2M399.79,254.4v-0.6M400.36,254.3v-1.1M400.73,254.2v-1.3M401.27,254.0v-0.2M401.75,253.9v-1.1M402.02,253.9v-0.4M402.34,253.8v-0.2M402.70,253.7v-0.6M403.01,253.7v-0.4M403.19,253.6v-0.7M403.43,253.6v-0.7M403.93,253.6v-0.2M404.07,253.5v-0.6M404.44,253.5v-0.2M404.62,253.5v-1.1M405.12,253.5v-1.6M405.35,253.5v-1.0M405.68,253.4v-0.3M405.94,253.4v-1.6M406.19,253.4v-1.2M406.57,253.4v-1.0M406.81,253.4v-1.3M407.23,253.4v-1.2M407.59,253.3v-1.3M407.80,253.3v-0.3M408.02,253.3v-0.9M408.46,253.3v-0.2M408.62,253.3v-0.3M408.96,253.3v-0.3M409.31,253.3v-0.2M409.72,253.2v-0.5M409.87,253.2v-0.3M410.28,253.2v-0.2M410.58,253.2v-1.0M410.72,253.2v-0.9M411.22,253.2v-1.1M411.48,253.2v-2.1M411.69,253.1v-1.8M411.99,253.1v-0.2M412.43,253.1v-0.3M412.55,253.1v-0.9M412.89,253.1v-1.0M413.19,253.1v-0.2M413.45,253.1v-0.7M413.79,253.0v-2.3M414.14,253.0v-0.3M414.45,253.0v-2.7M414.87,253.0v-0.4M415.11,253.0v-2.1M415.49,252.9v-0.4M415.63,252.9v-0.6M416.06,252.9v-1.7M416.39,252.9v-0.4M416.58,252.9v-0.4M416.93,252.8v-0.7M417.32,252.8v-1.0M417.53,252.8v-1.4M417.88,252.7v-0.4M418.06,252.7v-0.3M418.52,252.7v-0.4M418.65,252.7v-0.9M419.10,252.6v-1.6M419.42,252.6v-1.3M419.52,252.6v-0.9M420.04,252.5v-4.7M420.16,252.5v-3.9M420.65,252.5v-1.1M420.75,252.5v-0.5M421.17,252.4v-1.2M421.37,252.4v-8.5M421.89,252.3v-1.2M422.00,252.3v-3.6M422.41,252.3v-0.6M422.57,252.2v-0.3M423.02,252.2v-1.9M423.40,252.1v-0.4M423.71,252.1v-0.3M424.00,252.0v-4.9M424.23,252.0v-1.2M424.42,252.0v-0.3M424.71,251.9v-0.6M425.03,251.9v-0.4M425.46,251.8v-0.3M425.84,251.7v-0.5M426.09,251.7v-2.3M426.45,251.6v-0.6M426.74,251.6v-1.5M427.05,251.5v-0.8M427.18,251.5v-1.1M427.58,251.4v-1.0M427.76,251.3v-0.4M428.06,251.3v-0.6M428.40,251.2v-0.9M428.78,251.1v-2.6M428.98,251.0v-0.3M429.48,250.9v-0.8M429.67,250.8v-0.9M429.95,250.8v-2.1M430.22,250.7v-1.5M430.57,250.6v-0.7M430.98,250.4v-0.5M431.31,250.3v-5.1M431.43,250.3v-0.4M431.72,250.2v-0.4M432.17,250.0v-1.4M432.31,250.0v-3.0M432.69,249.8v-1.0M432.95,249.7v-1.4M433.28,249.6v-0.9M433.66,249.4v-0.5M433.88,249.3v-1.7M434.13,249.2v-2.4M434.47,249.0v-0.5M434.74,248.9v-11.5M435.17,248.7v-1.4M435.43,248.6v-3.5M435.84,248.4v-0.6M436.05,248.3v-0.4M436.48,248.1v-1.1M436.67,248.0v-1.2M437.06,247.8v-0.4M437.31,247.7v-0.5M437.62,247.6v-6.5M437.92,247.4v-0.8M438.29,247.3v-0.8M438.38,247.2v-7.4M438.70,247.1v-3.7M439.15,246.9v-0.8M439.46,246.8v-1.5M439.73,246.7v-1.6M440.01,246.5v-0.9M440.30,246.4v-1.8M440.55,246.3v-3.0M440.89,246.1v-1.9M441.26,246.0v-0.9M441.65,245.8v-3.4M441.83,245.7v-2.8M442.14,245.6v-1.5M442.55,245.4v-1.3M442.71,245.3v-1.2M443.05,245.2v-2.2M443.37,245.0v-0.7M443.69,244.9v-1.1M444.09,244.7v-0.5M444.29,244.6v-1.8M444.50,244.4v-2.1M444.94,244.2v-1.0M445.07,244.2v-0.6M445.40,244.0v-1.9M445.77,243.8v-0.6M446.14,243.6v-0.5M446.30,243.5v-0.5M446.61,243.4v-1.1M447.11,243.2v-1.5M447.28,243.1v-0.9M447.71,242.9v-7.8M447.83,242.8v-0.5M448.34,242.6v-0.8M448.42,242.6v-2.3M448.79,242.5v-0.5M449.19,242.3v-4.3M449.36,242.2v-1.1M449.84,242.0v-2.4M450.02,242.0v-0.7M450.35,241.8v-0.6M450.69,241.7v-2.9M451.05,241.6v-3.6M451.37,241.5v-1.3M451.62,241.4v-0.5M451.80,241.3v-1.8M452.16,241.2v-1.3M452.38,241.2v-0.8M452.74,241.1v-1.8M453.17,241.0v-0.7M453.49,241.0v-0.5M453.75,240.9v-4.5M453.93,240.9v-0.6M454.36,240.9v-2.3M454.62,240.9v-4.8M454.84,240.8v-0.7M455.19,240.8v-0.5M455.49,240.8v-0.9M455.87,240.8v-0.7M456.20,240.8v-0.7M456.48,240.8v-2.3M456.86,240.7v-1.2M457.01,240.7v-2.8M457.39,240.7v-0.5M457.76,240.7v-3.9M457.87,240.7v-1.2M458.37,240.8v-0.7M458.58,240.8v-0.8M458.89,240.8v-0.5M459.24,240.9v-0.5M459.53,240.9v-4.0M459.83,241.0v-5.3M460.03,241.0v-0.8M460.36,241.1v-1.0M460.67,241.1v-3.7M460.90,241.2v-1.6M461.40,241.3v-1.0M461.55,241.3v-5.5M461.90,241.4v-20.6M462.18,241.4v-0.8M462.53,241.5v-1.4M462.84,241.5v-0.8M463.08,241.6v-0.5M463.54,241.6v-0.9M463.67,241.7v-0.9M464.11,241.7v-6.2M464.47,241.8v-0.5M464.71,241.8v-2.0M465.05,241.9v-0.9M465.33,241.9v-0.8M465.64,241.9v-0.9M465.85,242.0v-0.6M466.08,242.0v-1.0M466.45,242.0v-1.4M466.66,242.1v-2.7M466.99,242.1v-5.7M467.47,242.2v-0.7M467.72,242.2v-2.7M467.98,242.3v-9.3M468.37,242.3v-1.6M468.56,242.3v-1.2M468.91,242.4v-1.5M469.32,242.4v-0.5M469.56,242.5v-2.3M469.94,242.5v-1.0M470.24,242.6v-14.4M470.49,242.6v-6.6M470.85,242.6v-2.0M470.94,242.6v-0.8M471.31,242.7v-1.3M471.53,242.7v-6.6M471.89,242.8v-2.4M472.14,242.8v-6.6M472.68,242.8v-1.0M472.93,242.9v-4.7M473.09,242.9v-0.5M473.42,242.9v-0.5M473.70,242.9v-3.5M474.08,243.0v-2.2M474.31,243.0v-0.6M474.74,243.0v-0.4M475.06,243.1v-4.4M475.25,243.1v-0.7M475.57,243.1v-2.3M475.82,243.1v-1.2M476.16,243.1v-1.6M476.49,243.2v-2.5M476.79,243.2v-1.5M477.12,243.2v-0.9M477.32,243.2v-0.6M477.82,243.3v-0.4M477.94,243.3v-1.6M478.44,243.4v-0.5M478.59,243.4v-0.4M479.00,243.4v-1.5M479.26,243.4v-4.4M479.65,243.5v-0.8M479.94,243.5v-0.9M480.26,243.6v-0.5M480.57,243.6v-4.5M480.77,243.6v-7.4M481.06,243.6v-0.5M481.33,243.7v-0.4M481.67,243.7v-3.3M482.05,243.8v-12.0M482.35,243.8v-0.8M482.55,243.9v-1.6M482.97,243.9v-0.9M483.14,243.9v-0.5M483.54,244.0v-0.6M483.85,244.1v-0.4M484.14,244.1v-1.5M484.48,244.2v-1.1M484.78,244.3v-0.9M485.08,244.4v-0.6M485.32,244.5v-2.6M485.57,244.6v-1.1M485.91,244.8v-1.2M486.28,245.0v-0.8M486.58,245.1v-0.7M486.97,245.3v-1.0M487.04,245.4v-0.4M487.48,245.6v-0.8M487.75,245.8v-0.4M488.19,246.0v-2.3M488.46,246.2v-0.5M488.64,246.3v-3.1M489.00,246.6v-1.3M489.39,246.9v-0.4M489.66,247.1v-0.4M490.00,247.4v-6.5M490.12,247.5v-2.6M490.42,247.8v-2.7M490.81,248.1v-0.6M491.23,248.5v-0.3M491.35,248.6v-3.7M491.66,248.9v-0.6M492.08,249.2v-1.2M492.34,249.4v-0.2M492.67,249.7v-0.5M493.03,250.0v-0.3M493.32,250.2v-1.3M493.43,250.3v-0.8M493.84,250.7v-0.3M494.04,250.8v-2.9M494.38,251.1v-2.5M494.74,251.4v-0.5M495.12,251.7v-2.7M495.38,251.9v-0.3M495.67,252.1v-0.6M496.05,252.3v-0.2M496.32,252.5v-0.4M496.48,252.6v-1.4M497.18,253.0v-2.5M497.43,253.1v-0.6M497.81,253.3v-1.5M498.53,253.7v-0.2M498.61,253.7v-1.5M498.90,253.8v-0.5M499.34,254.0v-0.6M499.68,254.1v-1.2M500.03,254.2v-0.2M500.61,254.4v-0.2M500.82,254.4v-0.2M501.49,254.6v-0.4M502.43,254.7v-0.2M502.68,254.8v-0.3M503.81,254.9v-0.2M506.06,255.1v-0.2M506.52,255.1v-0.8M508.87,255.3v-0.4M509.72,255.3v-0.5M511.54,255.4v-0.2M512.29,255.4v-0.2M512.61,255.4v-0.2M514.49,255.4v-0.6M515.21,255.4v-0.4M515.49,255.4v-0.3M519.12,255.4v-0.3M520.89,255.4v-0.5M521.88,255.4v-0.3M523.08,255.4v-0.6M523.76,255.4v-0.4M524.56,255.4v-0.4M525.59,255.4v-0.4M526.81,255.4v-0.3M527.56,255.4v-0.5M528.27,255.4v-0.4M529.64,255.4v-0.3M532.83,255.3v-0.2M534.60,255.3v-0.2M534.84,255.3v-0.3"/>
<polygon class="tr" points="387.40,255.70 389.61,255.52 391.82,255.32 394.04,255.11 396.25,254.89 397.63,254.71 397.69,254.59 397.74,254.17 397.80,253.25 397.85,252.07 397.91,251.50 397.96,251.73 398.02,252.35 398.07,253.09 398.13,253.71 398.18,254.07 398.24,254.13 398.29,253.93 398.35,253.51 398.40,252.89 398.52,251.45 398.57,250.87 398.63,250.52 398.90,249.48 398.96,249.49 399.01,249.74 399.12,250.65 399.34,252.70 399.46,253.47 399.57,253.96 399.73,254.28 400.12,254.31 402.33,253.80 402.72,253.72 402.77,253.64 402.83,253.42 402.88,252.92 402.94,252.30 402.99,251.99 403.05,252.11 403.22,253.17 403.27,253.41 403.38,253.59 404.54,253.48 404.65,253.31 404.71,253.10 404.76,252.74 404.82,252.19 404.87,251.47 404.99,249.86 405.04,249.28 405.10,249.05 405.15,249.11 405.21,249.32 405.43,250.80 405.48,251.05 405.54,251.16 405.59,251.09 405.65,250.83 405.70,250.38 405.76,249.74 405.81,248.93 405.93,246.95 406.04,244.79 406.09,243.79 406.15,242.93 406.20,242.27 406.26,241.86 406.31,241.71 406.37,241.77 406.42,241.94 406.48,242.22 406.59,243.07 406.70,244.23 407.03,248.32 407.14,249.42 407.20,249.80 407.25,250.01 407.31,250.02 407.36,249.85 407.47,249.21 407.53,249.01 407.58,249.05 407.70,249.63 407.97,251.90 408.08,252.57 408.19,252.98 408.36,253.23 408.69,253.27 408.75,253.15 408.80,252.73 408.86,251.80 408.91,250.61 408.97,250.03 409.02,250.28 409.08,250.92 409.19,252.37 409.24,252.83 409.30,253.09 409.41,253.24 410.35,253.18 410.46,252.99 410.52,252.74 410.57,252.32 410.63,251.69 410.68,250.86 410.79,248.99 410.85,248.32 410.90,248.07 410.96,248.17 411.01,248.46 411.07,248.91 411.29,251.25 411.40,252.15 411.51,252.70 411.68,253.05 412.12,253.13 412.62,253.03 412.67,252.91 412.73,252.61 412.78,251.98 412.84,250.77 412.89,248.70 412.95,245.58 413.00,241.43 413.06,236.68 413.11,232.14 413.17,228.84 413.23,227.62 413.28,228.12 413.34,229.57 413.39,231.80 413.45,234.58 413.56,240.67 413.61,243.50 413.67,245.97 413.72,248.01 413.78,249.60 413.83,250.78 413.89,251.60 413.94,252.11 414.00,252.22 414.05,251.56 414.11,249.73 414.17,247.30 414.22,246.11 414.28,246.66 414.33,248.02 414.39,249.66 414.44,251.09 414.50,252.07 414.55,252.61 414.61,252.86 414.72,252.98 415.71,252.89 415.82,252.72 415.88,252.51 415.93,252.16 415.99,251.62 416.05,250.92 416.16,249.34 416.21,248.77 416.27,248.56 416.32,248.64 416.38,248.88 416.49,249.73 416.65,251.23 416.76,251.98 416.87,252.45 417.04,252.73 417.65,252.76 419.09,252.59 419.20,252.35 419.25,251.99 419.31,251.30 419.36,250.14 419.42,248.39 419.47,246.06 419.53,243.39 419.58,240.84 419.64,238.98 419.70,238.29 419.75,238.49 419.81,238.89 419.86,238.71 419.92,237.09 419.97,234.74 420.03,234.47 420.08,236.91 420.14,240.48 420.19,244.28 420.25,247.49 420.30,249.73 420.36,251.07 420.41,251.79 420.47,252.14 420.58,252.39 421.08,252.42 421.41,252.33 421.46,252.10 421.52,251.29 421.58,249.51 421.63,247.23 421.69,246.12 421.74,246.59 421.80,247.81 421.85,249.29 421.91,250.59 421.96,251.47 422.02,251.96 422.07,252.18 422.24,252.28 423.34,252.09 423.46,251.87 423.51,251.59 423.57,251.11 423.62,250.40 423.68,249.46 423.79,247.35 423.84,246.59 423.90,246.31 423.95,246.42 424.01,246.74 424.06,247.23 424.29,249.84 424.40,250.85 424.51,251.45 424.62,251.75 424.78,251.87 424.89,251.79 424.95,251.63 425.00,251.29 425.06,250.64 425.11,249.54 425.17,247.87 425.23,245.66 425.28,243.13 425.34,240.72 425.39,238.95 425.45,238.29 425.56,238.66 425.61,237.91 425.67,235.09 425.72,231.22 425.78,230.17 425.83,232.82 425.89,237.08 425.94,241.74 426.00,245.71 426.05,248.47 426.11,250.09 426.17,250.92 426.22,251.31 426.33,251.56 426.83,251.55 426.94,251.48 426.99,251.24 427.05,250.41 427.11,248.59 427.16,246.27 427.22,245.14 427.27,245.61 427.33,246.85 427.38,248.35 427.44,249.66 427.49,250.55 427.55,251.04 427.60,251.25 427.77,251.34 428.27,251.19 428.32,251.05 428.38,250.58 428.43,249.54 428.49,248.23 428.54,247.58 428.60,247.84 428.65,248.53 428.71,249.37 428.76,250.10 428.82,250.59 428.87,250.86 428.99,251.01 430.59,250.52 430.70,250.26 430.76,249.89 430.81,249.21 430.87,248.06 430.92,246.32 430.98,244.02 431.03,241.39 431.09,238.87 431.14,237.03 431.20,236.33 431.25,236.45 431.31,236.46 431.36,234.95 431.42,230.41 431.47,224.34 431.53,222.24 431.58,225.41 431.64,230.93 431.70,237.11 431.75,242.40 431.81,246.05 431.86,248.17 431.92,249.23 431.97,249.71 432.03,249.90 432.19,250.01 432.47,249.87 432.52,249.61 432.58,248.74 432.64,246.82 432.69,244.38 432.75,243.18 432.80,243.67 432.86,244.95 432.91,246.52 432.97,247.88 433.02,248.80 433.08,249.30 433.13,249.52 433.30,249.58 433.52,249.47 433.58,249.38 433.63,248.96 433.69,247.56 433.74,244.46 433.80,240.51 433.85,238.58 433.91,239.38 433.96,241.47 434.02,244.02 434.07,246.24 434.13,247.75 434.18,248.58 434.24,248.94 434.29,249.07 434.90,248.84 435.90,248.31 435.95,248.19 436.01,247.94 436.06,247.43 436.12,246.47 436.17,244.86 436.23,242.43 436.29,239.22 436.34,235.54 436.40,232.03 436.45,229.46 436.51,228.50 436.56,228.84 436.62,229.72 436.67,230.27 436.73,228.34 436.78,221.69 436.84,212.55 436.89,209.13 436.95,213.42 437.00,221.16 437.06,229.88 437.11,237.32 437.17,242.43 437.23,245.32 437.28,246.72 437.34,247.30 437.39,247.52 437.56,247.59 437.83,247.47 437.89,247.36 437.94,246.82 438.00,245.01 438.05,241.00 438.11,235.89 438.17,233.39 438.22,234.44 438.28,237.17 438.33,240.48 438.39,243.37 438.44,245.33 438.50,246.41 438.55,246.89 438.61,247.06 438.88,247.03 439.38,246.75 439.44,246.46 439.49,245.48 439.55,243.34 439.60,240.61 439.66,239.27 439.71,239.81 439.77,241.25 439.82,243.00 439.88,244.53 439.93,245.56 439.99,246.13 440.05,246.37 440.16,246.46 440.82,246.15 440.93,245.89 440.99,245.51 441.04,244.72 441.10,243.22 441.15,240.68 441.21,236.85 441.26,231.77 441.32,225.95 441.37,220.39 441.43,216.34 441.48,214.80 441.59,215.53 441.65,213.44 441.70,206.14 441.76,196.21 441.82,193.28 441.87,199.58 441.93,209.93 441.98,221.34 442.04,231.05 442.09,237.79 442.15,241.75 442.20,243.76 442.26,244.70 442.31,245.11 442.37,245.29 442.53,245.39 442.70,245.25 442.76,244.83 442.81,243.41 442.87,240.30 442.92,236.32 442.98,234.37 443.03,235.18 443.09,237.29 443.14,239.85 443.20,242.09 443.25,243.61 443.31,244.44 443.36,244.80 443.42,244.93 443.75,244.80 443.86,244.58 443.92,244.30 443.97,243.79 444.03,242.94 444.08,241.67 444.14,239.99 444.25,236.23 444.30,234.88 444.36,234.37 444.41,234.55 444.47,235.10 444.52,235.96 444.58,237.04 444.69,239.41 444.75,240.52 444.80,241.47 444.86,242.26 444.91,242.87 444.97,243.31 445.02,243.61 445.13,243.93 445.35,243.99 445.46,243.90 445.52,243.78 445.58,243.48 445.63,242.80 445.69,241.38 445.74,238.68 445.80,234.10 445.85,227.18 445.91,218.00 445.96,207.48 446.02,197.44 446.07,190.11 446.13,187.41 446.18,188.45 446.24,191.34 446.29,194.61 446.35,194.95 446.41,188.83 446.46,179.15 446.52,177.42 446.57,186.32 446.63,199.65 446.68,213.89 446.74,225.85 446.79,234.07 446.85,238.85 446.90,241.25 446.96,242.34 447.01,242.80 447.07,242.99 447.23,243.09 447.62,242.93 447.68,242.83 447.73,242.43 447.79,241.08 447.84,238.09 447.90,234.28 447.95,232.42 448.01,233.19 448.06,235.22 448.12,237.68 448.17,239.82 448.23,241.29 448.29,242.09 448.34,242.44 448.45,242.59 449.00,242.38 449.06,242.29 449.11,241.91 449.17,240.62 449.23,237.79 449.28,234.18 449.34,232.42 449.39,233.15 449.45,235.06 449.50,237.40 449.56,239.43 449.61,240.81 449.67,241.56 449.72,241.90 449.83,242.03 450.11,241.89 450.17,241.77 450.22,241.50 450.28,240.87 450.33,239.55 450.39,237.05 450.44,232.79 450.50,226.36 450.55,217.83 450.61,208.06 450.66,198.72 450.72,191.91 450.77,189.36 450.83,190.04 450.88,191.19 450.94,189.36 450.99,180.82 451.05,168.87 451.11,166.27 451.16,175.91 451.22,190.79 451.27,206.89 451.33,220.55 451.38,230.07 451.44,235.71 451.49,238.66 451.55,240.07 451.60,240.73 451.66,241.04 451.77,241.26 452.32,241.17 452.38,241.10 452.43,240.77 452.49,239.64 452.54,237.15 452.60,233.97 452.65,232.42 452.71,233.07 452.76,234.77 452.82,236.84 452.88,238.64 452.93,239.87 452.99,240.55 453.04,240.85 453.15,240.99 453.48,240.91 453.54,240.66 453.59,239.81 453.65,237.94 453.70,235.54 453.76,234.37 453.82,234.87 453.87,236.16 453.93,237.72 453.98,239.09 454.04,240.02 454.09,240.54 454.15,240.77 454.31,240.88 454.48,240.74 454.53,240.50 454.59,239.94 454.64,238.73 454.70,236.43 454.76,232.50 454.81,226.55 454.87,218.65 454.92,209.60 454.98,200.96 455.03,194.66 455.09,192.30 455.20,193.46 455.25,190.09 455.31,178.44 455.36,162.58 455.42,157.85 455.47,167.82 455.53,184.22 455.58,202.32 455.64,217.73 455.70,228.45 455.75,234.74 455.81,237.96 455.86,239.47 455.92,240.16 455.97,240.47 456.08,240.70 456.75,240.74 456.80,240.69 456.86,240.38 456.91,239.31 456.97,236.93 457.02,233.89 457.08,232.42 457.13,233.05 457.19,234.69 457.24,236.69 457.30,238.42 457.35,239.61 457.41,240.27 457.47,240.57 457.58,240.72 458.46,240.72 458.52,240.64 458.57,240.42 458.63,239.90 458.68,238.77 458.74,236.62 458.79,232.93 458.85,227.34 458.90,219.93 458.96,211.43 459.01,203.31 459.07,197.40 459.12,195.23 459.18,196.10 459.23,198.33 459.29,200.29 459.35,198.01 459.40,187.34 459.46,172.19 459.51,167.25 459.57,176.04 459.62,190.84 459.68,207.24 459.73,221.17 459.79,230.74 459.84,236.24 459.90,238.95 459.95,240.15 460.01,240.64 460.06,240.85 460.29,241.05 460.67,241.09 460.73,240.86 460.78,239.99 460.84,238.05 460.89,235.57 460.95,234.37 461.00,234.91 461.06,236.27 461.11,237.92 461.17,239.35 461.23,240.34 461.28,240.89 461.34,241.15 461.45,241.30 462.39,241.43 462.44,241.35 462.50,241.12 462.55,240.57 462.61,239.38 462.66,237.10 462.72,233.19 462.77,227.28 462.83,219.43 462.88,210.43 462.94,201.83 463.00,195.57 463.05,193.28 463.11,194.19 463.16,196.58 463.22,198.78 463.27,196.80 463.33,186.48 463.38,171.68 463.44,167.05 463.49,176.10 463.55,191.09 463.60,207.64 463.66,221.67 463.71,231.32 463.77,236.86 463.82,239.60 463.88,240.82 463.94,241.32 463.99,241.54 464.16,241.71 464.54,241.73 464.60,241.47 464.65,240.52 464.71,238.40 464.76,235.69 464.82,234.37 464.88,234.95 464.93,236.43 464.99,238.22 465.04,239.78 465.10,240.85 465.15,241.45 465.21,241.73 465.32,241.88 466.37,242.01 466.48,241.82 466.53,241.46 466.59,240.70 466.64,239.22 466.70,236.70 466.76,232.89 466.81,227.81 466.87,222.00 466.92,216.45 466.98,212.40 467.03,210.89 467.09,211.23 467.14,211.46 467.20,208.71 467.25,199.90 467.31,188.03 467.36,184.18 467.42,190.95 467.47,202.43 467.53,215.18 467.58,226.08 467.64,233.64 467.70,238.06 467.75,240.31 467.81,241.36 467.86,241.83 467.92,242.04 468.08,242.24 468.69,242.30 468.75,242.09 468.80,241.32 468.86,239.60 468.91,237.40 468.97,236.33 469.02,236.80 469.08,238.00 469.13,239.46 469.19,240.73 469.24,241.60 469.30,242.09 469.35,242.31 469.52,242.45 470.29,242.53 470.41,242.37 470.46,242.08 470.52,241.45 470.57,240.23 470.63,238.14 470.68,234.97 470.74,230.77 470.79,225.94 470.85,221.34 470.90,217.99 470.96,216.76 471.01,217.24 471.07,218.43 471.12,219.12 471.18,216.32 471.23,206.92 471.29,194.05 471.35,189.17 471.40,195.06 471.46,205.77 471.51,217.88 471.57,228.23 471.62,235.34 471.68,239.39 471.73,241.35 471.79,242.19 471.84,242.52 471.95,242.72 472.56,242.78 472.62,242.55 472.67,241.71 472.73,239.86 472.78,237.48 472.84,236.33 472.89,236.84 472.95,238.13 473.00,239.70 473.06,241.07 473.11,242.00 473.17,242.53 473.23,242.77 473.39,242.91 473.67,242.89 473.72,242.80 473.78,242.58 473.83,242.11 473.89,241.19 473.94,239.63 474.00,237.26 474.06,234.11 474.11,230.51 474.17,227.06 474.22,224.55 474.28,223.61 474.33,223.80 474.39,223.81 474.44,221.64 474.50,215.15 474.55,206.48 474.61,203.45 474.66,207.93 474.72,215.76 474.77,224.53 474.83,232.04 474.88,237.25 474.94,240.27 475.00,241.80 475.05,242.50 475.11,242.80 475.22,243.01 476.10,243.14 476.16,243.10 476.21,242.90 476.27,242.15 476.32,240.48 476.38,238.34 476.43,237.31 476.49,237.76 476.54,238.92 476.60,240.33 476.65,241.56 476.71,242.40 476.76,242.87 476.82,243.09 476.99,243.21 477.15,243.11 477.21,242.93 477.26,242.55 477.32,241.81 477.37,240.53 477.43,238.61 477.48,236.05 477.54,233.11 477.59,230.31 477.65,228.27 477.70,227.52 477.76,227.82 477.82,228.54 477.87,228.93 477.93,227.14 477.98,221.21 478.04,213.11 478.09,210.01 478.15,213.65 478.20,220.32 478.26,227.87 478.31,234.32 478.37,238.75 478.42,241.28 478.48,242.50 478.53,243.02 478.59,243.23 478.81,243.39 479.47,243.42 479.53,243.24 479.59,242.58 479.64,241.10 479.70,239.20 479.75,238.29 479.81,238.69 479.86,239.72 479.92,240.98 479.97,242.07 480.03,242.82 480.08,243.24 480.14,243.43 480.36,243.55 480.47,243.47 480.53,243.33 480.58,243.01 480.64,242.39 480.69,241.33 480.75,239.72 480.80,237.58 480.86,235.13 480.91,232.79 480.97,231.08 481.02,230.46 481.08,230.71 481.13,231.30 481.19,231.57 481.24,229.85 481.30,224.41 481.35,217.01 481.41,214.12 481.47,217.30 481.52,223.21 481.58,229.94 481.63,235.70 481.69,239.65 481.74,241.90 481.80,242.99 481.85,243.45 481.91,243.64 482.18,243.79 482.79,243.85 482.85,243.65 482.90,242.93 482.96,241.33 483.01,239.28 483.07,238.29 483.12,238.73 483.18,239.85 483.23,241.22 483.29,242.41 483.35,243.22 483.40,243.67 483.46,243.87 483.51,243.90 483.57,243.82 483.62,243.57 483.68,243.07 483.73,242.21 483.79,240.91 483.84,239.17 483.95,235.28 484.01,233.90 484.06,233.39 484.12,233.60 484.17,234.09 484.23,234.28 484.29,232.77 484.34,228.07 484.40,221.72 484.45,219.21 484.51,221.88 484.56,226.89 484.62,232.60 484.67,237.50 484.73,240.86 484.78,242.78 484.84,243.71 484.89,244.12 485.00,244.36 485.83,244.70 485.89,244.52 485.94,243.83 486.00,242.25 486.06,240.23 486.11,239.27 486.17,239.72 486.22,240.86 486.28,242.23 486.33,243.42 486.39,244.25 486.44,244.73 486.50,244.96 486.72,245.19 487.99,245.88 488.05,245.61 488.10,244.02 488.16,238.32 488.21,225.62 488.27,209.38 488.32,201.50 488.38,204.96 488.43,213.78 488.49,224.50 488.54,233.85 488.60,240.25 488.65,243.82 488.71,245.48 488.76,246.14 488.82,246.37 489.10,246.63 489.15,246.61 489.21,246.26 489.26,244.95 489.32,241.97 489.37,238.16 489.43,236.33 489.48,237.19 489.54,239.32 489.59,241.89 489.65,244.14 489.70,245.70 489.76,246.58 489.82,247.01 489.93,247.30 490.70,248.00 490.76,247.98 490.81,247.52 490.87,244.78 490.92,234.96 490.98,213.09 491.03,185.13 491.09,171.55 491.14,177.51 491.20,192.68 491.25,211.12 491.31,227.18 491.36,238.04 491.42,243.36 491.47,243.33 491.53,238.09 491.59,230.36 491.64,226.54 491.70,228.33 491.75,232.77 491.81,238.15 491.86,242.84 491.92,246.07 491.97,247.88 492.03,248.74 492.08,249.09 492.19,249.31 492.75,249.72 492.80,249.55 492.86,248.85 492.91,247.23 492.97,245.15 493.02,244.16 493.08,244.65 493.13,245.84 493.19,247.28 493.24,248.55 493.30,249.42 493.35,249.93 493.41,250.19 493.58,250.44 494.07,250.84 494.13,250.82 494.18,250.49 494.24,249.23 494.29,246.37 494.35,242.69 494.41,240.93 494.46,241.76 494.52,243.81 494.57,246.29 494.63,248.46 494.68,249.96 494.74,250.81 494.79,251.23 494.90,251.50 496.29,252.48 496.34,252.48 496.40,252.34 496.45,251.79 496.51,250.50 496.56,248.86 496.62,248.07 496.67,248.46 496.73,249.39 496.78,250.52 496.84,251.51 496.89,252.20 496.95,252.59 497.00,252.79 497.28,253.03 499.49,254.06 501.26,254.53 503.47,254.86 505.69,255.08 507.90,255.21 510.11,255.31 512.32,255.38 514.53,255.41 516.75,255.41 518.96,255.41 521.17,255.41 523.38,255.40 525.59,255.40 527.81,255.39 530.02,255.37 532.23,255.35 534.44,255.32 535.33,255.31 535.3,255.31 534.7,255.32 534.0,255.33 533.3,255.34 532.7,255.35 532.0,255.35 531.3,255.36 530.7,255.37 530.0,255.37 529.4,255.38 528.7,255.38 528.0,255.38 527.4,255.39 526.7,255.39 526.0,255.39 525.4,255.40 524.7,255.40 524.0,255.40 523.4,255.40 522.7,255.40 522.1,255.41 521.4,255.41 520.7,255.41 520.1,255.41 519.4,255.41 518.7,255.41 518.1,255.41 517.4,255.41 516.7,255.41 516.1,255.41 515.4,255.41 514.8,255.41 514.1,255.41 513.4,255.40 512.8,255.39 512.1,255.38 511.4,255.36 510.8,255.34 510.1,255.31 509.4,255.28 508.8,255.25 508.1,255.22 507.5,255.18 506.8,255.15 506.1,255.11 505.5,255.06 504.8,255.01 504.1,254.94 503.5,254.86 502.8,254.78 502.1,254.68 501.5,254.57 500.8,254.44 500.2,254.28 499.5,254.06 498.8,253.79 498.2,253.48 497.5,253.15 496.8,252.79 496.2,252.41 495.5,251.97 494.8,251.47 494.2,250.94 493.5,250.39 492.9,249.85 492.2,249.32 491.5,248.75 490.9,248.15 490.2,247.56 489.5,246.99 488.9,246.48 488.2,246.05 487.5,245.65 486.9,245.28 486.2,244.93 485.6,244.62 484.9,244.36 484.2,244.17 483.6,244.03 482.9,243.91 482.2,243.80 481.6,243.71 480.9,243.63 480.2,243.55 479.6,243.48 478.9,243.41 478.3,243.33 477.6,243.27 476.9,243.21 476.3,243.16 475.6,243.10 474.9,243.05 474.3,243.00 473.6,242.94 472.9,242.87 472.3,242.80 471.6,242.72 471.0,242.64 470.3,242.56 469.6,242.47 469.0,242.38 468.3,242.30 467.6,242.21 467.0,242.12 466.3,242.03 465.6,241.94 465.0,241.85 464.3,241.75 463.7,241.66 463.0,241.56 462.3,241.46 461.7,241.35 461.0,241.22 460.3,241.07 459.7,240.93 459.0,240.82 458.3,240.75 457.7,240.73 457.0,240.74 456.4,240.77 455.7,240.80 455.0,240.84 454.4,240.88 453.7,240.93 453.0,241.02 452.4,241.17 451.7,241.36 451.1,241.58 450.4,241.83 449.7,242.09 449.1,242.36 448.4,242.63 447.7,242.89 447.1,243.18 446.4,243.49 445.7,243.82 445.1,244.15 444.4,244.49 443.8,244.83 443.1,245.15 442.4,245.46 441.8,245.76 441.1,246.06 440.4,246.35 439.8,246.64 439.1,246.93 438.4,247.22 437.8,247.51 437.1,247.80 436.5,248.11 435.8,248.42 435.1,248.74 434.5,249.05 433.8,249.36 433.1,249.65 432.5,249.92 431.8,250.17 431.1,250.39 430.5,250.60 429.8,250.80 429.2,250.98 428.5,251.16 427.8,251.33 427.2,251.48 426.5,251.62 425.8,251.74 425.2,251.86 424.5,251.97 423.8,252.07 423.2,252.16 422.5,252.25 421.9,252.33 421.2,252.41 420.5,252.48 419.9,252.55 419.2,252.62 418.5,252.68 417.9,252.74 417.2,252.80 416.5,252.86 415.9,252.91 415.2,252.95 414.6,253.00 413.9,253.04 413.2,253.07 412.6,253.11 411.9,253.14 411.2,253.17 410.6,253.20 409.9,253.24 409.2,253.27 408.6,253.30 407.9,253.33 407.3,253.36 406.6,253.39 405.9,253.42 405.3,253.46 404.6,253.50 403.9,253.56 403.3,253.64 402.6,253.75 401.9,253.89 401.3,254.04 400.6,254.20 400.0,254.35 399.3,254.49 398.6,254.60 398.0,254.69 397.3,254.78 396.6,254.85 396.0,254.92 395.3,254.99 394.6,255.05 394.0,255.12 393.3,255.18 392.7,255.24 392.0,255.30 391.3,255.37 390.7,255.43 390.0,255.49 389.3,255.54 388.7,255.60 388.0,255.66"/>
</g>
<g>
<path class="ax" d="M26.60,296.06V413.49H181.44"/>
<text class="tl" x="22.00" y="405.85" text-anchor="end" textLength="2.9" lengthAdjust="spacingAndGlyphs">0</text>
<text class="tl" x="22.00" y="386.28" text-anchor="end" textLength="5.5" lengthAdjust="spacingAndGlyphs">20</text>
<text class="tl" x="22.00" y="366.71" text-anchor="end" textLength="5.5" lengthAdjust="spacingAndGlyphs">40</text>
<text class="tl" x="22.00" y="347.14" text-anchor="end" textLength="5.5" lengthAdjust="spacingAndGlyphs">60</text>
<text class="tl" x="22.00" y="327.57" text-anchor="end" textLength="5.5" lengthAdjust="spacingAndGlyphs">80</text>
<text class="tl" x="22.00" y="308.00" text-anchor="end" textLength="8.5" lengthAdjust="spacingAndGlyphs">100</text>
<text class="tl" x="43.69" y="422.99" text-anchor="middle" textLength="5.5" lengthAdjust="spacingAndGlyphs">10</text>
<text class="tl" x="71.34" y="422.99" text-anchor="middle" textLength="5.5" lengthAdjust="spacingAndGlyphs">20</text>
<text class="tl" x="98.99" y="422.99" text-anchor="middle" textLength="5.5" lengthAdjust="spacingAndGlyphs">30</text>
<text class="tl" x="126.64" y="422.99" text-anchor="middle" textLength="5.5" lengthAdjust="spacingAndGlyphs">40</text>
<text class="tl" x="154.29" y="422.99" text-anchor="middle" textLength="5.5" lengthAdjust="spacingAndGlyphs">50</text>
<text class="tl" x="181.94" y="422.99" text-anchor="middle" textLength="5.5" lengthAdjust="spacingAndGlyphs">60</text>
<path class="tk" d="M23.60,403.70H26.60M23.60,384.13H26.60M23.60,364.56H26.60M23.60,344.99H26.60M23.60,325.42H26.60M23.60,305.85H26.60M43.19,413.49v3.2M70.84,413.49v3.2M98.49,413.49v3.2M126.14,413.49v3.2M153.79,413.49v3.2M181.44,413.49v3.2"/>
<text class="t4" x="26.80" y="420.88" text-anchor="middle">4</text>
<text class="xl" x="104.02" y="434.38" text-anchor="middle" textLength="19.1" lengthAdjust="spacingAndGlyphs">t / min</text>
<text class="yl" transform="translate(10.40,354.77) rotate(-90)" text-anchor="middle" textLength="68.6" lengthAdjust="spacingAndGlyphs">Relative abundance / %</text>
<text class="tp" x="153.80" y="312.80">500°C</text>
<polygon class="bd" points="26.6,403.6 26.9,403.6 27.2,403.6 27.4,403.6 27.7,403.6 28.0,403.6 28.3,403.6 28.5,403.6 28.8,403.6 29.1,403.6 29.4,403.6 29.6,403.6 29.9,403.6 30.2,403.6 30.5,403.6 30.7,403.6 31.0,403.6 31.3,403.6 31.6,403.6 31.9,403.6 32.1,403.6 32.4,403.6 32.7,403.6 33.0,403.6 33.2,403.6 33.5,403.6 33.8,403.6 34.1,403.6 34.3,403.6 34.6,403.7 34.9,403.7 35.2,403.7 35.4,403.7 35.7,403.7 36.0,403.7 36.3,403.7 36.6,403.7 36.8,403.6 37.1,403.6 37.4,403.6 37.7,403.6 37.9,403.6 38.2,403.6 38.5,403.6 38.8,403.5 39.0,403.5 39.3,403.5 39.6,403.5 39.9,403.5 40.1,403.5 40.4,403.5 40.7,403.5 41.0,403.5 41.3,403.5 41.5,403.5 41.8,403.5 42.1,403.5 42.4,403.5 42.6,403.6 42.9,403.6 43.2,403.6 43.5,403.6 43.7,403.6 44.0,403.6 44.3,403.6 44.6,403.6 44.8,403.5 45.1,403.5 45.4,403.5 45.7,403.5 46.0,403.5 46.2,403.5 46.5,403.5 46.8,403.5 47.1,403.5 47.3,403.5 47.6,403.5 47.9,403.5 48.2,403.5 48.4,403.5 48.7,403.5 49.0,403.5 49.3,403.5 49.5,403.5 49.8,403.5 50.1,403.5 50.4,403.5 50.7,403.4 50.9,403.4 51.2,403.4 51.5,403.4 51.8,403.4 52.0,403.4 52.3,403.4 52.6,403.4 52.9,403.4 53.1,403.4 53.4,403.3 53.7,403.3 54.0,403.3 54.2,403.3 54.5,403.2 54.8,403.2 55.1,403.1 55.4,403.1 55.6,403.0 55.9,402.9 56.2,402.8 56.5,402.8 56.7,402.7 57.0,402.7 57.3,402.7 57.6,402.6 57.8,402.6 58.1,402.6 58.4,402.6 58.7,402.6 59.0,402.6 59.2,402.6 59.5,402.6 59.8,402.5 60.1,402.5 60.3,402.4 60.6,402.4 60.9,402.4 61.2,402.4 61.4,402.4 61.7,402.5 62.0,402.5 62.3,402.5 62.5,402.5 62.8,402.4 63.1,402.4 63.4,402.5 63.7,402.5 63.9,402.4 64.2,402.4 64.5,402.3 64.8,402.2 65.0,402.0 65.3,401.9 65.6,401.8 65.9,401.7 66.1,401.6 66.4,401.6 66.7,401.6 67.0,401.6 67.2,401.6 67.5,401.5 67.8,401.5 68.1,401.5 68.4,401.5 68.6,401.5 68.9,401.5 69.2,401.5 69.5,401.5 69.7,401.5 70.0,401.5 70.3,401.5 70.6,401.6 70.8,401.6 71.1,401.6 71.4,401.7 71.7,401.7 71.9,401.6 72.2,401.6 72.5,401.5 72.8,401.4 73.1,401.3 73.3,401.2 73.6,401.2 73.9,401.2 74.2,401.2 74.4,401.2 74.7,401.3 75.0,401.3 75.3,401.3 75.5,401.3 75.8,401.3 76.1,401.3 76.4,401.3 76.6,401.4 76.9,401.4 77.2,401.4 77.5,401.4 77.8,401.4 78.0,401.4 78.3,401.4 78.6,401.4 78.9,401.3 79.1,401.3 79.4,401.2 79.7,401.1 80.0,401.0 80.2,401.0 80.5,401.0 80.8,401.1 81.1,401.2 81.3,401.3 81.6,401.5 81.9,401.5 82.2,401.5 82.5,401.4 82.7,401.3 83.0,401.2 83.3,401.1 83.6,401.0 83.8,401.0 84.1,401.0 84.4,401.1 84.7,401.1 84.9,401.2 85.2,401.2 85.5,401.2 85.8,401.2 86.0,401.1 86.3,401.0 86.6,400.8 86.9,400.6 87.2,400.5 87.4,400.4 87.7,400.4 88.0,400.4 88.3,400.5 88.5,400.6 88.8,400.7 89.1,400.8 89.4,400.9 89.6,400.9 89.9,400.9 90.2,400.9 90.5,401.0 90.7,401.1 91.0,401.2 91.3,401.4 91.6,401.5 91.9,401.6 92.1,401.7 92.4,401.8 92.7,401.8 93.0,401.8 93.2,401.7 93.5,401.7 93.8,401.6 94.1,401.5 94.3,401.5 94.6,401.4 94.9,401.4 95.2,401.4 95.4,401.3 95.7,401.3 96.0,401.3 96.3,401.3 96.6,401.3 96.8,401.4 97.1,401.4 97.4,401.4 97.7,401.4 97.9,401.4 98.2,401.3 98.5,401.2 98.8,401.1 99.0,401.1 99.3,401.0 99.6,401.0 99.9,401.0 100.1,401.1 100.4,401.1 100.7,401.1 101.0,401.1 101.3,401.1 101.5,401.1 101.8,401.0 102.1,401.0 102.4,400.9 102.6,400.9 102.9,400.9 103.2,400.9 103.5,401.1 103.7,401.2 104.0,401.3 104.3,401.5 104.6,401.6 104.8,401.7 105.1,401.7 105.4,401.7 105.7,401.6 106.0,401.5 106.2,401.4 106.5,401.3 106.8,401.3 107.1,401.3 107.3,401.3 107.6,401.4 107.9,401.4 108.2,401.5 108.4,401.5 108.7,401.5 109.0,401.5 109.3,401.6 109.5,401.6 109.8,401.7 110.1,401.8 110.4,401.9 110.7,401.9 110.9,401.9 111.2,401.8 111.5,401.7 111.8,401.7 112.0,401.6 112.3,401.5 112.6,401.4 112.9,401.2 113.1,401.1 113.4,401.1 113.7,401.0 114.0,401.1 114.3,401.2 114.5,401.2 114.8,401.3 115.1,401.3 115.4,401.2 115.6,401.1 115.9,401.0 116.2,400.9 116.5,400.9 116.7,400.8 117.0,400.8 117.3,400.7 117.6,400.7 117.8,400.7 118.1,400.7 118.4,400.7 118.7,400.6 119.0,400.6 119.2,400.6 119.5,400.6 119.8,400.6 120.1,400.6 120.3,400.6 120.6,400.7 120.9,400.7 121.2,400.7 121.4,400.8 121.7,400.8 122.0,400.9 122.3,401.0 122.5,401.1 122.8,401.2 123.1,401.3 123.4,401.4 123.7,401.5 123.9,401.5 124.2,401.5 124.5,401.4 124.8,401.4 125.0,401.3 125.3,401.3 125.6,401.3 125.9,401.3 126.1,401.3 126.4,401.3 126.7,401.2 127.0,401.2 127.2,401.1 127.5,401.0 127.8,400.9 128.1,400.9 128.4,400.9 128.6,400.9 128.9,400.9 129.2,401.1 129.5,401.2 129.7,401.4 130.0,401.5 130.3,401.7 130.6,401.8 130.8,401.9 131.1,401.9 131.4,402.0 131.7,402.0 131.9,402.1 132.2,402.2 132.5,402.3 132.8,402.4 133.1,402.5 133.3,402.6 133.6,402.7 133.9,402.8 134.2,402.8 134.4,402.9 134.7,402.9 135.0,403.0 135.3,403.0 135.5,403.0 135.8,403.0 136.1,403.0 136.4,403.0 136.6,403.0 136.9,403.1 137.2,403.1 137.5,403.1 137.8,403.2 138.0,403.2 138.3,403.3 138.6,403.3 138.9,403.3 139.1,403.3 139.4,403.3 139.7,403.3 140.0,403.3 140.2,403.3 140.5,403.3 140.8,403.3 141.1,403.3 141.3,403.3 141.6,403.3 141.9,403.3 142.2,403.4 142.5,403.4 142.7,403.4 143.0,403.4 143.3,403.4 143.6,403.4 143.8,403.4 144.1,403.4 144.4,403.4 144.7,403.4 144.9,403.4 145.2,403.5 145.5,403.5 145.8,403.5 146.0,403.5 146.3,403.5 146.6,403.5 146.9,403.5 147.2,403.4 147.4,403.4 147.7,403.4 148.0,403.4 148.3,403.4 148.5,403.4 148.8,403.4 149.1,403.4 149.4,403.4 149.6,403.4 149.9,403.4 150.2,403.4 150.5,403.3 150.7,403.3 151.0,403.3 151.3,403.3 151.6,403.2 151.9,403.2 152.1,403.2 152.4,403.2 152.7,403.2 153.0,403.1 153.2,403.1 153.5,403.1 153.8,403.1 154.1,403.1 154.3,403.1 154.6,403.1 154.9,403.1 155.2,403.1 155.4,403.0 155.7,403.0 156.0,403.0 156.3,403.0 156.6,402.9 156.8,402.9 157.1,402.8 157.4,402.8 157.7,402.8 157.9,402.7 158.2,402.7 158.5,402.7 158.8,402.7 159.0,402.7 159.3,402.7 159.6,402.7 159.9,402.7 160.1,402.6 160.4,402.6 160.7,402.6 161.0,402.5 161.3,402.4 161.5,402.4 161.8,402.3 162.1,402.3 162.4,402.3 162.6,402.3 162.9,402.3 163.2,402.3 163.5,402.2 163.7,402.2 164.0,402.2 164.3,402.2 164.6,402.2 164.8,402.2 165.1,402.2 165.4,402.2 165.7,402.1 166.0,402.1 166.2,402.1 166.5,402.1 166.8,402.1 167.1,402.1 167.3,402.1 167.6,402.2 167.9,402.2 168.2,402.2 168.4,402.3 168.7,402.3 169.0,402.3 169.3,402.3 169.6,402.3 169.8,402.3 170.1,402.3 170.4,402.3 170.7,402.3 170.9,402.2 171.2,402.2 171.5,402.2 171.8,402.2 172.0,402.3 172.3,402.3 172.6,402.3 172.9,402.4 173.1,402.4 173.4,402.4 173.7,402.4 174.0,402.5 174.3,402.5 174.5,402.5 174.5,401.5 174.3,401.4 174.0,401.2 173.7,401.5 173.4,401.1 173.1,401.2 172.9,401.1 172.6,401.2 172.3,401.2 172.0,401.2 171.8,401.1 171.5,400.7 171.2,401.0 170.9,400.6 170.7,400.9 170.4,401.3 170.1,401.3 169.8,401.2 169.6,401.2 169.3,401.1 169.0,401.4 168.7,401.1 168.4,401.3 168.2,401.0 167.9,400.7 167.6,400.8 167.3,400.8 167.1,401.0 166.8,401.1 166.5,400.8 166.2,400.9 166.0,401.1 165.7,400.9 165.4,401.2 165.1,400.9 164.8,401.2 164.6,400.9 164.3,401.0 164.0,401.4 163.7,401.2 163.5,401.4 163.2,401.3 162.9,401.4 162.6,401.4 162.4,401.5 162.1,401.4 161.8,401.5 161.5,401.5 161.3,401.6 161.0,401.3 160.7,401.5 160.4,401.3 160.1,401.6 159.9,401.8 159.6,401.7 159.3,401.8 159.0,401.8 158.8,401.4 158.5,401.7 158.2,401.7 157.9,401.8 157.7,402.0 157.4,401.9 157.1,401.9 156.8,402.0 156.6,402.1 156.3,402.0 156.0,402.1 155.7,401.9 155.4,402.2 155.2,402.1 154.9,402.2 154.6,402.1 154.3,402.2 154.1,402.2 153.8,402.2 153.5,402.3 153.2,402.3 153.0,402.3 152.7,402.4 152.4,402.4 152.1,402.4 151.9,402.4 151.6,402.5 151.3,402.5 151.0,402.5 150.7,402.5 150.5,402.5 150.2,402.5 149.9,402.6 149.6,402.6 149.4,402.6 149.1,402.5 148.8,402.6 148.5,402.6 148.3,402.5 148.0,402.6 147.7,402.6 147.4,402.6 147.2,402.6 146.9,402.6 146.6,402.6 146.3,402.6 146.0,402.5 145.8,402.7 145.5,402.5 145.2,402.5 144.9,402.5 144.7,402.4 144.4,402.3 144.1,402.4 143.8,402.4 143.6,402.4 143.3,402.5 143.0,402.4 142.7,402.6 142.5,402.5 142.2,402.4 141.9,402.4 141.6,402.2 141.3,402.4 141.1,402.3 140.8,402.4 140.5,402.3 140.2,402.4 140.0,402.3 139.7,402.2 139.4,402.3 139.1,402.1 138.9,402.3 138.6,402.0 138.3,402.1 138.0,401.6 137.8,402.1 137.5,401.9 137.2,401.5 136.9,402.1 136.6,401.7 136.4,401.7 136.1,401.4 135.8,401.5 135.5,401.5 135.3,401.1 135.0,401.5 134.7,401.7 134.4,401.3 134.2,401.6 133.9,401.8 133.6,401.5 133.3,401.6 133.1,401.0 132.8,400.8 132.5,401.0 132.2,400.3 131.9,400.3 131.7,399.7 131.4,400.6 131.1,399.8 130.8,399.8 130.6,399.8 130.3,398.9 130.0,399.2 129.7,399.2 129.5,397.9 129.2,396.5 128.9,396.8 128.6,397.6 128.4,397.7 128.1,398.9 127.8,397.8 127.5,397.5 127.2,398.0 127.0,399.9 126.7,400.0 126.4,399.8 126.1,399.9 125.9,399.7 125.6,400.0 125.3,399.6 125.0,399.7 124.8,399.5 124.5,399.0 124.2,398.9 123.9,398.2 123.7,398.8 123.4,399.1 123.1,399.0 122.8,399.6 122.5,399.2 122.3,399.0 122.0,398.5 121.7,398.9 121.4,398.9 121.2,399.0 120.9,398.4 120.6,398.3 120.3,398.0 120.1,397.9 119.8,398.0 119.5,398.2 119.2,398.0 119.0,397.6 118.7,398.0 118.4,396.1 118.1,397.5 117.8,398.0 117.6,399.2 117.3,399.4 117.0,399.4 116.7,399.1 116.5,399.2 116.2,399.4 115.9,399.4 115.6,399.1 115.4,399.2 115.1,398.1 114.8,398.7 114.5,398.5 114.3,398.7 114.0,398.5 113.7,399.4 113.4,399.0 113.1,398.7 112.9,398.7 112.6,398.2 112.3,398.4 112.0,397.6 111.8,397.9 111.5,399.3 111.2,399.0 110.9,399.5 110.7,400.2 110.4,399.2 110.1,399.9 109.8,399.3 109.5,400.1 109.3,400.1 109.0,399.1 108.7,398.9 108.4,399.9 108.2,400.0 107.9,400.4 107.6,400.4 107.3,400.1 107.1,400.1 106.8,400.1 106.5,400.2 106.2,399.5 106.0,399.9 105.7,399.7 105.4,398.2 105.1,397.7 104.8,398.5 104.6,397.0 104.3,398.4 104.0,397.5 103.7,396.8 103.5,398.8 103.2,397.8 102.9,398.6 102.6,397.0 102.4,398.0 102.1,398.5 101.8,397.3 101.5,397.7 101.3,399.2 101.0,398.0 100.7,397.7 100.4,396.5 100.1,399.0 99.9,397.8 99.6,397.4 99.3,399.3 99.0,398.4 98.8,398.3 98.5,397.9 98.2,397.9 97.9,399.0 97.7,398.7 97.4,397.6 97.1,398.0 96.8,398.9 96.6,400.1 96.3,399.9 96.0,399.9 95.7,399.8 95.4,399.7 95.2,398.2 94.9,399.0 94.6,398.5 94.3,397.9 94.1,397.3 93.8,396.9 93.5,398.2 93.2,396.3 93.0,398.9 92.7,398.1 92.4,396.6 92.1,397.6 91.9,399.4 91.6,398.7 91.3,398.0 91.0,399.2 90.7,398.3 90.5,398.4 90.2,398.0 89.9,399.3 89.6,397.8 89.4,398.4 89.1,397.0 88.8,396.9 88.5,398.7 88.3,398.6 88.0,397.3 87.7,398.7 87.4,397.4 87.2,398.6 86.9,397.4 86.6,398.8 86.3,398.0 86.0,398.8 85.8,395.7 85.5,397.2 85.2,397.9 84.9,399.8 84.7,398.9 84.4,399.6 84.1,398.8 83.8,399.1 83.6,399.8 83.3,400.0 83.0,399.8 82.7,400.2 82.5,400.1 82.2,400.2 81.9,399.0 81.6,398.1 81.3,397.7 81.1,398.7 80.8,398.9 80.5,396.1 80.2,396.6 80.0,397.7 79.7,397.6 79.4,398.4 79.1,399.7 78.9,399.4 78.6,399.3 78.3,398.6 78.0,398.8 77.8,400.1 77.5,399.5 77.2,399.2 76.9,399.2 76.6,398.1 76.4,398.6 76.1,396.9 75.8,398.1 75.5,398.9 75.3,398.3 75.0,398.6 74.7,398.1 74.4,397.4 74.2,396.8 73.9,398.4 73.6,396.3 73.3,397.3 73.1,398.6 72.8,397.9 72.5,398.6 72.2,399.4 71.9,400.1 71.7,400.4 71.4,400.2 71.1,399.5 70.8,397.2 70.6,399.4 70.3,399.2 70.0,397.1 69.7,396.1 69.5,398.6 69.2,398.1 68.9,398.5 68.6,398.8 68.4,398.6 68.1,399.8 67.8,398.7 67.5,398.9 67.2,398.2 67.0,398.1 66.7,397.7 66.4,398.5 66.1,399.2 65.9,399.4 65.6,399.2 65.3,399.0 65.0,400.5 64.8,400.8 64.5,400.3 64.2,399.9 63.9,400.4 63.7,399.1 63.4,398.7 63.1,398.8 62.8,399.4 62.5,400.0 62.3,400.5 62.0,400.5 61.7,400.2 61.4,400.1 61.2,399.6 60.9,400.5 60.6,399.6 60.3,400.4 60.1,399.2 59.8,399.7 59.5,399.3 59.2,400.3 59.0,400.8 58.7,400.9 58.4,401.2 58.1,401.4 57.8,401.4 57.6,401.6 57.3,401.7 57.0,401.5 56.7,401.4 56.5,401.4 56.2,401.7 55.9,401.6 55.6,401.8 55.4,402.1 55.1,402.2 54.8,401.9 54.5,402.3 54.2,401.9 54.0,402.3 53.7,402.3 53.4,402.2 53.1,402.5 52.9,402.5 52.6,402.6 52.3,402.6 52.0,402.6 51.8,402.6 51.5,402.5 51.2,402.4 50.9,402.4 50.7,402.4 50.4,402.4 50.1,402.6 49.8,402.6 49.5,402.7 49.3,402.7 49.0,402.6 48.7,402.7 48.4,402.5 48.2,402.5 47.9,402.4 47.6,402.3 47.3,402.5 47.1,402.4 46.8,402.4 46.5,402.5 46.2,402.3 46.0,402.3 45.7,402.4 45.4,402.7 45.1,402.7 44.8,402.6 44.6,402.6 44.3,402.7 44.0,402.7 43.7,402.7 43.5,402.8 43.2,402.8 42.9,402.8 42.6,402.7 42.4,402.7 42.1,402.7 41.8,402.7 41.5,402.7 41.3,402.6 41.0,402.7 40.7,402.8 40.4,402.8 40.1,402.8 39.9,402.8 39.6,402.7 39.3,402.7 39.0,402.7 38.8,402.7 38.5,402.7 38.2,402.7 37.9,402.7 37.7,402.7 37.4,402.7 37.1,402.8 36.8,402.8 36.6,402.8 36.3,402.9 36.0,402.8 35.7,402.8 35.4,402.8 35.2,402.8 34.9,402.9 34.6,402.8 34.3,402.8 34.1,402.9 33.8,402.8 33.5,402.8 33.2,402.8 33.0,402.8 32.7,402.8 32.4,402.9 32.1,402.9 31.9,402.9 31.6,402.9 31.3,402.9 31.0,402.9 30.7,402.9 30.5,402.9 30.2,402.8 29.9,402.8 29.6,402.8 29.4,402.9 29.1,402.7 28.8,402.7 28.5,402.8 28.3,402.7 28.0,402.8 27.7,402.7 27.4,402.8 27.2,402.8 26.9,402.7 26.6,402.7"/>
<path class="gr" d="M26.49,403.3v-0.5M27.81,403.3v-0.2M28.14,403.3v-0.4M29.61,403.3v-0.3M30.37,403.3v-0.5M30.50,403.3v-0.2M30.91,403.3v-0.2M31.19,403.3v-1.9M32.00,403.3v-0.5M33.40,403.2v-0.2M33.62,403.2v-0.2M33.81,403.2v-0.4M35.40,403.2v-0.3M35.66,403.2v-0.2M36.08,403.2v-0.3M36.44,403.2v-0.2M36.63,403.2v-0.2M38.79,403.2v-0.8M39.06,403.2v-0.2M39.30,403.2v-0.2M39.58,403.2v-0.3M39.93,403.2v-0.7M40.56,403.2v-0.5M41.14,403.2v-0.8M41.70,403.2v-0.4M43.09,403.2v-0.2M43.40,403.2v-1.4M43.66,403.2v-0.3M44.05,403.2v-0.4M44.87,403.2v-0.2M46.10,403.1v-0.4M46.35,403.1v-1.0M46.68,403.1v-0.2M47.09,403.1v-0.3M47.64,403.1v-0.2M47.84,403.1v-0.4M48.17,403.1v-0.4M48.58,403.1v-0.5M48.88,403.1v-0.2M49.62,403.1v-1.1M50.00,403.1v-0.2M50.38,403.1v-0.6M50.60,403.1v-1.0M51.76,403.0v-2.3M52.20,403.0v-0.2M52.53,403.0v-0.3M52.69,403.0v-0.3M53.02,403.0v-0.2M53.29,403.0v-5.1M53.56,403.0v-0.4M54.01,402.9v-1.6M54.32,402.9v-0.3M54.70,402.9v-1.4M54.94,402.9v-1.5M55.15,402.9v-0.3M55.39,402.8v-0.3M55.90,402.8v-0.2M56.14,402.7v-0.2M56.42,402.7v-0.3M56.77,402.7v-0.2M56.92,402.6v-0.6M57.24,402.6v-1.2M57.52,402.6v-2.8M57.99,402.5v-0.4M58.29,402.4v-0.3M58.51,402.4v-0.3M58.73,402.4v-0.3M59.25,402.3v-0.4M59.56,402.3v-0.7M59.70,402.2v-0.4M60.14,402.2v-0.3M60.24,402.2v-0.4M60.60,402.1v-1.1M60.97,402.0v-0.5M61.26,402.0v-0.9M61.64,401.9v-0.9M61.88,401.9v-0.6M62.24,401.8v-0.9M62.52,401.8v-2.9M62.69,401.7v-3.1M63.01,401.7v-3.5M63.52,401.6v-0.9M63.75,401.5v-2.3M64.01,401.5v-0.4M64.37,401.5v-0.8M64.69,401.4v-1.4M64.86,401.4v-0.3M65.27,401.4v-1.1M65.63,401.3v-0.7M65.95,401.3v-0.8M66.15,401.3v-0.9M66.37,401.3v-0.7M66.80,401.2v-2.6M67.09,401.2v-1.0M67.40,401.2v-0.5M67.54,401.2v-1.3M67.86,401.2v-0.5M68.20,401.2v-1.2M68.67,401.1v-0.6M68.86,401.1v-5.5M69.15,401.1v-0.6M69.43,401.1v-0.3M69.74,401.1v-2.7M70.07,401.1v-0.3M70.41,401.1v-0.3M70.82,401.1v-4.1M71.00,401.1v-0.8M71.40,401.0v-0.7M71.70,401.0v-2.8M71.80,401.0v-0.9M72.33,401.0v-2.3M72.55,401.0v-0.9M72.75,401.0v-3.1M73.11,401.0v-3.5M73.45,401.0v-1.1M73.85,401.0v-1.0M74.07,401.0v-0.3M74.41,401.0v-1.3M74.57,401.0v-0.3M75.01,401.0v-0.3M75.15,401.0v-0.4M75.52,401.0v-6.1M75.96,401.0v-2.0M76.23,401.0v-3.7M76.51,401.0v-0.8M76.74,401.0v-0.3M77.06,401.0v-0.3M77.50,401.0v-0.4M77.81,401.0v-0.6M78.01,401.0v-0.3M78.22,401.0v-2.1M78.60,401.0v-1.2M79.01,401.0v-0.3M79.32,401.0v-1.0M79.64,401.0v-3.7M79.81,400.9v-0.7M80.18,400.9v-3.4M80.36,400.9v-0.3M80.84,400.9v-0.7M81.09,400.9v-0.3M81.39,400.9v-0.7M81.60,400.9v-0.8M81.86,400.9v-2.2M82.24,400.9v-1.8M82.55,400.9v-2.0M82.92,400.9v-0.4M83.15,400.9v-0.3M83.56,400.9v-1.0M83.79,400.9v-2.9M84.00,400.8v-0.4M84.41,400.8v-0.4M84.72,400.8v-6.5M84.94,400.8v-3.6M85.31,400.8v-0.3M85.64,400.8v-0.6M85.96,400.8v-3.4M86.16,400.8v-0.7M86.46,400.8v-0.4M86.72,400.8v-2.6M87.22,400.8v-0.3M87.35,400.8v-0.5M87.64,400.8v-0.2M88.05,400.8v-0.3M88.42,400.7v-0.5M88.67,400.7v-0.4M88.97,400.7v-0.2M89.34,400.7v-1.2M89.60,400.7v-0.3M89.82,400.7v-6.4M90.09,400.7v-1.3M90.35,400.7v-1.5M90.67,400.7v-0.9M90.97,400.7v-0.7M91.28,400.7v-3.0M91.71,400.7v-1.4M91.88,400.7v-0.4M92.41,400.7v-0.3M92.57,400.7v-0.4M92.84,400.7v-0.3M93.22,400.7v-0.3M93.56,400.7v-0.3M93.90,400.7v-0.4M94.13,400.7v-1.5M94.39,400.7v-0.3M94.84,400.7v-0.5M94.92,400.7v-0.3M95.42,400.7v-0.7M95.53,400.7v-1.3M96.04,400.8v-0.8M96.14,400.8v-0.6M96.45,400.8v-1.2M96.81,400.8v-0.6M97.14,400.8v-0.4M97.57,400.8v-0.4M97.72,400.8v-0.5M98.11,400.9v-0.3M98.28,400.9v-0.3M98.70,400.9v-0.2M98.87,400.9v-1.4M99.22,400.9v-1.1M99.54,400.9v-0.3M99.91,400.9v-0.5M100.17,400.9v-0.2M100.63,400.9v-0.3M100.77,400.9v-0.6M101.02,400.9v-0.3M101.52,401.0v-1.0M101.65,401.0v-2.1M102.12,401.0v-1.6M102.29,401.0v-0.2M102.65,401.0v-0.7M102.99,401.0v-0.3M103.14,401.0v-0.4M103.54,401.0v-1.4M103.82,401.0v-0.2M104.06,401.0v-0.9M104.58,401.0v-1.5M104.78,401.0v-0.2M105.13,401.0v-0.8M105.48,401.1v-0.7M105.69,401.1v-0.2M106.00,401.1v-0.3M106.28,401.1v-1.1M106.61,401.1v-1.2M106.93,401.1v-0.4M107.08,401.1v-0.9M107.42,401.1v-0.3M107.86,401.1v-1.7M108.10,401.1v-4.4M108.50,401.0v-0.5M108.71,401.0v-0.2M109.02,401.0v-0.3M109.30,401.0v-0.5M109.59,401.0v-0.9M109.85,401.0v-0.8M110.26,401.0v-0.2M110.55,401.0v-0.3M110.85,401.0v-0.7M111.04,401.0v-4.0M111.38,401.0v-0.2M111.70,401.0v-0.2M112.04,401.0v-0.3M112.27,401.0v-0.3M112.76,400.9v-0.6M112.97,400.9v-0.2M113.40,400.9v-1.0M113.49,400.9v-0.3M113.87,400.9v-0.3M114.19,400.9v-0.9M114.45,400.9v-0.2M114.83,400.9v-0.5M115.02,400.9v-1.3M115.53,400.8v-1.1M115.71,400.8v-1.5M115.94,400.8v-1.2M116.34,400.8v-0.5M116.64,400.8v-0.6M117.00,400.7v-2.7M117.31,400.7v-0.3M117.50,400.7v-0.8M117.75,400.7v-0.9M118.27,400.6v-0.2M118.44,400.6v-0.8M118.83,400.6v-0.7M119.04,400.5v-0.3M119.40,400.5v-0.2M119.65,400.5v-0.7M119.89,400.5v-2.2M120.39,400.5v-1.6M120.70,400.5v-4.1M120.88,400.5v-1.2M121.18,400.5v-1.0M121.58,400.5v-0.9M121.68,400.5v-0.6M122.04,400.5v-0.2M122.35,400.5v-0.8M122.67,400.5v-3.6M122.98,400.5v-2.7M123.42,400.5v-0.4M123.51,400.5v-0.4M123.81,400.5v-0.3M124.12,400.5v-0.4M124.55,400.5v-1.1M124.78,400.5v-0.8M125.17,400.5v-0.4M125.48,400.5v-0.3M125.75,400.5v-1.0M126.00,400.5v-1.1M126.28,400.5v-0.2M126.74,400.5v-0.4M127.05,400.5v-1.2M127.17,400.5v-0.3M127.49,400.6v-0.5M127.91,400.6v-2.0M128.29,400.7v-0.7M128.49,400.8v-0.4M128.87,400.8v-0.4M129.00,400.9v-0.8M129.31,400.9v-1.1M129.80,401.0v-0.2M130.12,401.1v-0.4M130.22,401.1v-1.0M130.63,401.2v-2.0M130.87,401.3v-0.3M131.14,401.4v-0.2M131.61,401.5v-0.2M132.04,401.7v-0.4M132.55,401.9v-0.6M132.76,402.0v-0.2M133.17,402.1v-0.2M133.47,402.2v-0.2M133.56,402.2v-0.2M134.28,402.4v-0.8M134.52,402.4v-2.1M134.95,402.5v-0.4M135.91,402.7v-2.0M136.10,402.7v-0.4M138.57,402.9v-1.1M139.25,403.0v-0.5M140.04,403.0v-0.2M140.67,403.0v-0.2M141.08,403.0v-0.3M141.15,403.0v-0.5M141.83,403.1v-2.2M142.12,403.1v-0.5M143.03,403.1v-0.4M143.80,403.1v-0.2M144.29,403.1v-0.2M144.94,403.1v-0.2M145.23,403.1v-0.2M145.62,403.1v-0.2M146.04,403.1v-1.0M146.44,403.1v-0.6M146.69,403.1v-0.2M147.14,403.1v-0.9M148.00,403.1v-0.3M148.32,403.1v-0.4M148.96,403.1v-0.3M149.11,403.1v-0.3M149.79,403.1v-0.4M150.01,403.0v-0.3M151.57,402.9v-0.2M151.81,402.9v-0.2M152.25,402.9v-0.2M152.57,402.8v-0.2M153.42,402.8v-0.3M153.71,402.7v-0.2M154.12,402.7v-0.3M154.34,402.7v-0.3M154.92,402.6v-0.2M155.15,402.6v-0.2M155.97,402.5v-0.2M156.19,402.5v-0.2M157.13,402.4v-0.3M157.33,402.4v-0.2M157.66,402.4v-0.2M158.70,402.3v-0.3M159.91,402.2v-0.8M160.00,402.2v-0.4M160.37,402.1v-0.8M161.87,402.0v-0.7M162.57,402.0v-0.3M163.07,402.0v-0.4M163.70,402.0v-1.5M164.36,401.9v-0.2M165.54,401.9v-0.2M166.29,401.9v-0.2M166.41,401.9v-0.2M166.88,401.8v-0.5M167.54,401.8v-0.4M167.79,401.8v-0.2M167.99,401.8v-0.2M168.57,401.8v-0.2M169.74,401.9v-1.9M171.12,401.9v-2.0M171.32,401.9v-0.2M172.63,401.9v-0.3M173.89,402.0v-0.3"/>
<polygon class="tr" points="26.60,403.31 28.81,403.29 30.47,403.26 30.53,403.21 30.58,403.01 30.64,402.57 30.69,402.01 30.75,401.74 30.80,401.86 30.97,402.84 31.08,403.18 31.41,403.27 33.62,403.25 35.84,403.23 36.83,403.20 36.89,403.13 36.94,402.88 37.00,402.32 37.05,401.60 37.11,401.25 37.16,401.40 37.33,402.67 37.38,402.95 37.49,403.17 39.71,403.19 40.76,403.13 40.92,402.92 41.03,402.55 41.14,401.91 41.37,400.15 41.42,399.80 41.48,399.57 41.53,399.49 41.64,399.62 41.81,400.23 42.14,401.92 42.31,402.53 42.53,402.97 42.86,403.15 44.24,403.13 44.30,402.91 44.35,401.70 44.41,397.43 44.46,387.95 44.52,375.84 44.57,369.94 44.63,372.50 44.68,379.04 44.74,386.99 44.79,393.92 44.85,398.66 44.90,401.29 44.96,402.50 45.01,402.96 45.07,403.10 45.95,403.10 46.07,402.89 46.12,402.62 46.18,402.14 46.23,401.43 46.29,400.49 46.40,398.37 46.45,397.62 46.51,397.34 46.56,397.45 46.62,397.78 46.67,398.29 46.90,400.96 47.01,401.99 47.12,402.62 47.23,402.94 47.45,403.11 48.17,403.10 48.22,403.02 48.28,402.71 48.33,402.04 48.39,401.18 48.44,400.76 48.50,400.94 48.66,402.46 48.72,402.79 48.78,402.98 48.94,403.10 49.11,402.98 49.22,402.60 49.27,402.24 49.44,400.70 49.49,400.32 49.55,400.18 49.60,400.23 49.72,400.65 49.99,402.28 50.16,402.82 50.38,403.05 51.82,403.01 51.87,402.94 51.93,402.76 51.98,402.29 52.04,401.16 52.09,398.75 52.15,394.14 52.20,386.26 52.26,374.35 52.31,358.53 52.37,340.40 52.43,323.07 52.48,310.42 52.54,305.65 52.59,307.23 52.65,311.94 52.70,318.71 52.76,325.91 52.81,331.74 52.87,334.62 52.92,333.81 52.98,329.92 53.03,324.97 53.09,321.77 53.14,322.88 53.20,327.47 53.25,333.70 53.31,341.35 53.37,349.99 53.42,359.04 53.48,367.87 53.53,375.99 53.59,383.01 53.64,388.78 53.70,393.26 53.75,396.58 53.81,398.93 53.86,400.50 53.92,401.52 53.97,402.14 54.03,402.50 54.14,402.81 54.42,402.91 54.53,402.86 54.58,402.67 54.64,402.02 54.69,400.58 54.75,398.73 54.80,397.83 54.86,398.21 54.91,399.20 54.97,400.41 55.02,401.46 55.08,402.17 55.13,402.57 55.19,402.75 55.41,402.83 57.29,402.54 57.35,402.29 57.40,401.43 57.46,399.51 57.51,397.07 57.57,395.87 57.62,396.38 57.68,397.68 57.73,399.26 57.79,400.60 57.84,401.43 57.90,401.69 57.96,401.35 58.01,400.33 58.07,398.47 58.12,395.63 58.18,391.85 58.23,387.51 58.29,383.37 58.34,380.35 58.40,379.24 58.45,379.69 58.51,381.00 58.56,383.03 58.62,385.56 58.73,391.09 58.78,393.67 58.84,395.90 58.90,397.58 58.95,398.09 59.01,395.88 59.06,389.34 59.12,380.52 59.17,376.30 59.23,378.42 59.28,383.44 59.34,389.30 59.39,393.90 59.45,395.93 59.50,394.85 59.56,390.47 59.61,382.80 59.67,372.25 59.72,360.04 59.78,348.30 59.84,339.60 59.89,335.99 59.95,336.23 60.00,337.95 60.06,340.26 60.11,342.22 60.17,343.15 60.22,343.10 60.28,342.85 60.33,343.73 60.39,346.95 60.44,351.87 60.50,357.31 60.55,363.15 60.66,375.15 60.72,380.64 60.78,384.96 60.83,386.69 60.89,384.49 60.94,379.90 61.00,378.26 61.05,380.93 61.16,389.61 61.22,392.44 61.27,392.93 61.33,391.24 61.38,388.15 61.44,384.76 61.49,382.16 61.55,381.19 61.60,381.60 61.66,382.78 61.72,384.59 61.77,386.84 61.88,391.78 61.94,394.08 61.99,396.09 62.05,397.74 62.10,399.02 62.16,399.88 62.21,400.05 62.27,398.75 62.32,395.15 62.38,390.36 62.43,388.04 62.49,389.14 62.54,391.84 62.60,395.10 62.66,397.94 62.71,399.88 62.77,400.95 62.82,401.43 62.88,401.61 63.04,401.65 63.10,401.59 63.15,401.30 63.21,400.31 63.26,398.10 63.32,395.29 63.37,393.92 63.43,394.50 63.49,396.00 63.54,397.82 63.60,399.40 63.65,400.42 63.71,400.88 63.76,400.84 63.82,400.35 63.87,399.37 63.93,397.84 63.98,395.81 64.04,393.48 64.09,391.25 64.15,389.63 64.20,389.02 64.26,389.25 64.31,389.92 64.37,390.92 64.43,392.07 64.48,393.12 64.54,393.77 64.59,393.73 64.65,392.79 64.70,390.93 64.81,385.88 64.87,384.01 64.92,383.45 64.98,383.96 65.03,385.05 65.09,386.62 65.20,390.39 65.25,392.08 65.31,393.23 65.37,393.57 65.42,392.91 65.48,391.26 65.59,386.50 65.64,384.69 65.70,384.13 65.75,384.60 65.81,385.60 65.86,387.01 65.92,388.58 65.97,390.00 66.03,390.86 66.08,390.75 66.14,389.38 66.19,386.74 66.31,379.63 66.36,377.00 66.42,376.20 66.47,376.92 66.53,378.47 66.58,380.70 66.64,383.42 66.75,389.30 66.80,392.00 66.86,394.29 66.91,396.05 66.97,397.14 67.02,397.43 67.08,396.79 67.13,395.16 67.19,392.62 67.30,386.49 67.36,384.25 67.41,383.45 67.47,383.81 67.52,384.83 67.58,386.39 67.63,388.32 67.74,392.56 67.80,394.53 67.85,396.25 67.91,397.67 67.96,398.77 68.02,399.58 68.07,400.10 68.13,400.16 68.19,399.23 68.24,396.78 68.30,393.53 68.35,391.96 68.41,392.69 68.46,394.50 68.52,396.69 68.57,398.60 68.63,399.90 68.68,400.62 68.74,400.95 68.85,401.10 68.96,401.05 69.02,400.92 69.07,400.62 69.13,399.97 69.18,398.73 69.24,396.61 69.29,393.42 69.35,389.17 69.40,384.31 69.46,379.66 69.51,376.27 69.57,375.03 69.62,375.54 69.68,377.03 69.73,379.32 69.79,382.16 69.90,388.32 69.96,390.83 70.01,392.00 70.07,391.04 70.12,388.77 70.18,388.04 70.23,389.60 70.34,394.45 70.40,396.08 70.45,396.50 70.51,395.78 70.56,394.32 70.62,392.69 70.67,391.44 70.73,390.98 70.78,391.18 70.84,391.76 70.90,392.64 70.95,393.74 71.06,396.15 71.12,397.27 71.17,398.25 71.23,399.06 71.28,399.69 71.34,400.15 71.39,400.48 71.50,400.85 71.61,400.98 71.67,400.97 71.72,400.76 71.78,399.97 71.84,398.22 71.89,395.98 71.95,394.89 72.00,395.37 72.06,396.58 72.11,398.05 72.17,399.33 72.22,400.20 72.28,400.69 72.33,400.91 72.50,401.03 73.05,400.98 73.11,400.80 73.16,400.13 73.22,398.66 73.27,396.79 73.33,395.87 73.38,396.27 73.44,397.28 73.49,398.51 73.55,399.59 73.60,400.32 73.66,400.73 73.72,400.91 73.94,401.01 74.16,400.94 74.21,400.61 74.27,399.45 74.32,396.87 74.38,393.56 74.43,391.96 74.49,392.65 74.55,394.44 74.60,396.60 74.66,398.49 74.71,399.78 74.77,400.50 74.82,400.83 74.93,400.99 75.21,400.97 75.26,400.78 75.32,399.74 75.37,396.10 75.43,388.00 75.49,377.49 75.54,371.80 75.60,372.61 75.65,376.07 75.71,380.05 75.76,382.79 75.82,383.84 75.87,383.91 75.93,384.13 75.98,384.81 76.04,385.79 76.09,387.08 76.15,388.50 76.20,389.74 76.26,390.48 76.31,390.46 76.37,389.61 76.43,388.12 76.48,386.47 76.54,385.29 76.59,385.11 76.65,385.76 76.70,386.85 76.76,388.31 76.81,390.02 76.92,393.68 76.98,395.36 77.03,396.82 77.09,398.02 77.14,398.96 77.20,399.65 77.25,400.14 77.31,400.47 77.42,400.82 77.64,400.97 77.75,400.93 77.81,400.71 77.86,399.93 77.92,398.19 77.97,395.97 78.03,394.89 78.08,395.36 78.14,396.56 78.19,398.01 78.25,399.28 78.31,400.15 78.36,400.63 78.42,400.85 78.58,400.97 79.13,400.92 79.19,400.60 79.25,398.88 79.30,392.79 79.36,379.28 79.41,362.00 79.47,353.60 79.52,357.24 79.58,366.57 79.63,377.90 79.69,387.78 79.74,394.54 79.80,398.28 79.85,399.94 79.91,400.27 79.96,399.32 80.02,396.82 80.08,393.55 80.13,391.96 80.19,392.65 80.24,394.42 80.30,396.57 80.35,398.44 80.41,399.72 80.46,400.43 80.52,400.76 80.63,400.92 80.79,400.85 80.85,400.74 80.90,400.49 80.96,400.02 81.02,399.21 81.07,397.99 81.13,396.37 81.24,392.75 81.29,391.45 81.35,390.98 81.40,391.17 81.46,391.74 81.51,392.61 81.57,393.70 81.68,396.07 81.73,397.18 81.79,398.14 81.84,398.93 81.90,399.52 81.96,399.80 82.01,399.49 82.07,398.31 82.12,396.66 82.18,395.87 82.23,396.30 82.29,397.29 82.34,398.48 82.40,399.52 82.45,400.22 82.51,400.61 82.56,400.79 82.78,400.88 83.23,400.86 83.28,400.80 83.34,400.47 83.39,399.33 83.45,396.79 83.50,393.54 83.56,391.96 83.61,392.64 83.67,394.39 83.72,396.52 83.78,398.38 83.84,399.65 83.89,400.35 83.95,400.67 84.06,400.83 84.39,400.76 84.44,400.63 84.50,400.32 84.55,399.65 84.61,398.37 84.66,396.19 84.72,392.90 84.78,388.52 84.83,383.49 84.89,378.69 84.94,375.15 85.00,373.76 85.05,374.06 85.11,375.14 85.16,376.74 85.27,380.20 85.33,381.67 85.44,384.38 85.49,386.09 85.61,389.73 85.66,391.42 85.72,392.99 85.77,394.38 85.83,395.46 85.88,396.03 85.94,395.86 85.99,394.67 86.05,392.28 86.10,388.74 86.16,384.49 86.21,380.33 86.27,377.29 86.32,376.20 86.38,376.74 86.43,378.16 86.49,380.32 86.55,383.00 86.66,388.86 86.71,391.59 86.77,393.97 86.82,395.93 86.88,397.41 86.93,398.31 86.99,398.26 87.04,396.93 87.10,394.87 87.15,393.92 87.21,394.55 87.26,395.91 87.32,397.52 87.37,398.92 87.43,399.87 87.49,400.39 87.54,400.63 87.71,400.76 88.26,400.69 88.31,400.45 88.37,399.57 88.43,397.62 88.48,395.13 88.54,393.92 88.59,394.44 88.65,395.78 88.70,397.41 88.76,398.84 88.81,399.81 88.87,400.35 88.92,400.60 89.03,400.72 89.59,400.71 89.64,400.63 89.70,400.24 89.75,398.87 89.81,395.81 89.86,391.90 89.92,390.00 89.97,390.82 90.03,392.92 90.08,395.48 90.14,397.69 90.19,399.19 90.25,399.97 90.31,400.24 90.36,400.19 90.42,399.92 90.47,399.44 90.53,398.73 90.58,397.72 90.64,396.39 90.69,394.74 90.75,392.80 90.86,388.51 90.91,386.51 90.97,384.88 91.02,383.82 91.08,383.45 91.14,383.59 91.19,384.04 91.25,384.74 91.30,385.65 91.41,387.74 91.47,388.65 91.52,389.26 91.58,389.45 91.63,389.19 91.74,387.98 91.80,387.68 91.85,388.04 91.91,388.92 91.96,390.03 92.02,391.32 92.19,395.50 92.24,396.72 92.30,397.76 92.35,398.61 92.41,399.26 92.46,399.75 92.52,400.09 92.63,400.45 92.68,400.50 92.74,400.31 92.79,399.47 92.85,397.56 92.90,395.11 92.96,393.91 93.02,394.44 93.07,395.77 93.13,397.38 93.18,398.79 93.24,399.75 93.29,400.29 93.35,400.53 93.51,400.67 94.12,400.66 94.18,400.48 94.23,399.49 94.29,395.98 94.34,388.18 94.40,378.21 94.45,373.37 94.51,375.47 94.56,380.85 94.62,387.40 94.67,393.10 94.73,397.00 94.78,399.17 94.84,400.16 94.90,400.55 95.01,400.70 95.17,400.67 95.23,400.42 95.28,399.55 95.34,397.61 95.39,395.12 95.45,393.92 95.50,394.44 95.56,395.78 95.61,397.41 95.67,398.82 95.72,399.76 95.78,400.20 95.84,400.24 95.89,399.93 95.95,399.28 96.00,398.24 96.06,396.86 96.17,393.76 96.22,392.65 96.28,392.25 96.33,392.42 96.39,392.91 96.44,393.66 96.55,395.62 96.67,397.59 96.72,398.42 96.78,399.11 96.83,399.64 96.89,400.04 97.00,400.51 97.11,400.67 97.16,400.50 97.22,399.77 97.27,398.09 97.33,395.94 97.38,394.89 97.44,395.35 97.49,396.52 97.55,397.94 97.61,399.18 97.66,400.03 97.72,400.50 97.77,400.72 97.94,400.84 98.77,400.83 98.82,400.61 98.88,399.84 98.93,398.14 98.99,395.95 99.04,394.89 99.10,395.36 99.15,396.54 99.21,397.97 99.26,399.22 99.32,400.08 99.37,400.55 99.43,400.77 99.60,400.89 99.93,400.89 99.98,400.81 100.04,400.34 100.09,398.66 100.15,394.93 100.20,390.17 100.26,387.85 100.31,388.85 100.37,391.43 100.43,394.56 100.48,397.29 100.54,399.16 100.59,400.19 100.65,400.67 100.70,400.85 100.92,400.93 100.98,400.90 101.03,400.72 101.09,400.07 101.14,398.62 101.20,396.77 101.25,395.87 101.31,396.26 101.37,397.27 101.42,398.48 101.48,399.54 101.53,400.27 101.59,400.67 101.64,400.86 101.86,400.97 102.91,400.96 103.02,400.80 103.08,400.58 103.14,400.20 103.19,399.63 103.25,398.88 103.36,397.18 103.41,396.58 103.47,396.36 103.52,396.45 103.58,396.72 103.69,397.64 103.85,399.28 103.96,400.10 104.08,400.61 104.24,400.93 104.30,400.95 104.35,400.86 104.41,400.47 104.46,399.56 104.52,398.39 104.57,397.83 104.63,398.08 104.68,398.71 104.79,400.15 104.85,400.61 104.90,400.86 105.02,401.02 105.84,401.02 105.96,400.85 106.01,400.63 106.07,400.25 106.12,399.67 106.18,398.91 106.29,397.19 106.34,396.58 106.40,396.36 106.45,396.45 106.51,396.72 106.62,397.65 106.78,399.30 106.90,400.13 107.01,400.64 107.17,400.96 107.34,401.02 107.39,400.91 107.45,400.50 107.50,399.58 107.56,398.40 107.61,397.83 107.67,398.08 107.73,398.71 107.84,400.16 107.89,400.62 107.95,400.87 108.06,401.03 110.27,401.01 110.38,400.95 110.43,400.63 110.49,399.50 110.55,397.00 110.60,393.81 110.66,392.25 110.71,392.92 110.77,394.65 110.82,396.74 110.88,398.57 110.93,399.81 110.99,400.51 111.04,400.82 111.15,400.98 111.21,400.96 111.26,400.85 111.32,400.44 111.37,399.54 111.43,398.39 111.49,397.83 111.54,398.07 111.60,398.69 111.71,400.10 111.76,400.55 111.82,400.80 111.93,400.95 113.42,400.89 113.48,400.72 113.53,400.13 113.59,398.83 113.64,397.17 113.70,396.36 113.75,396.71 113.81,397.60 113.86,398.69 113.92,399.64 113.97,400.29 114.03,400.64 114.08,400.81 114.36,400.89 114.80,400.86 114.86,400.78 114.91,400.51 114.97,399.93 115.02,399.17 115.08,398.81 115.14,398.96 115.30,400.28 115.36,400.57 115.47,400.80 117.02,400.70 117.07,400.59 117.13,400.22 117.18,399.39 117.24,398.34 117.29,397.83 117.35,398.04 117.40,398.60 117.51,399.88 117.57,400.28 117.62,400.50 117.73,400.63 119.95,400.48 120.17,400.42 120.22,400.02 120.28,397.84 120.33,390.15 120.39,373.06 120.44,351.21 120.50,340.59 120.55,345.19 120.61,356.99 120.67,371.32 120.72,383.82 120.78,392.37 120.83,397.11 120.89,399.28 120.94,400.11 121.00,400.38 121.22,400.47 121.44,400.45 121.49,400.35 121.55,400.02 121.61,399.26 121.66,398.30 121.72,397.83 121.77,398.03 121.83,398.55 121.94,399.74 121.99,400.11 122.05,400.32 122.21,400.47 123.37,400.42 123.43,400.16 123.49,399.26 123.54,397.25 123.60,394.68 123.65,393.43 123.71,393.97 123.76,395.36 123.82,397.04 123.87,398.51 123.93,399.52 123.98,400.08 124.04,400.33 124.15,400.46 124.76,400.45 124.81,400.35 124.87,400.02 124.92,399.26 124.98,398.30 125.03,397.83 125.09,398.03 125.14,398.55 125.26,399.74 125.31,400.11 125.37,400.32 125.53,400.47 126.91,400.50 126.97,400.42 127.02,399.95 127.08,398.29 127.14,394.58 127.19,389.85 127.25,387.55 127.30,388.56 127.36,391.13 127.41,394.24 127.47,396.96 127.52,398.82 127.58,399.86 127.63,400.34 127.69,400.53 128.02,400.66 128.08,400.65 128.13,400.52 128.19,400.03 128.24,398.93 128.30,397.53 128.35,396.85 128.41,397.16 128.46,397.94 128.52,398.88 128.57,399.70 128.63,400.26 128.68,400.58 128.79,400.80 129.46,400.95 129.51,400.77 129.57,399.76 129.62,396.15 129.68,388.12 129.73,377.86 129.79,372.88 129.85,375.06 129.90,380.62 129.96,387.36 130.01,393.18 130.07,396.81 130.12,397.62 130.18,395.49 130.23,391.84 130.29,390.00 130.34,390.90 130.40,393.11 130.45,395.78 130.51,398.12 130.56,399.72 130.62,400.61 130.67,401.03 130.73,401.20 131.34,401.45 131.39,401.44 131.45,401.30 131.50,400.78 131.56,399.59 131.61,398.07 131.67,397.34 131.73,397.68 131.78,398.54 131.84,399.57 131.89,400.47 131.95,401.10 132.00,401.45 132.11,401.70 133.05,402.05 133.11,401.98 133.16,401.69 133.22,401.04 133.27,400.19 133.33,399.79 133.38,399.99 133.44,400.47 133.55,401.56 133.61,401.92 133.66,402.12 133.83,402.30 136.04,402.67 138.25,402.92 140.46,403.03 142.67,403.07 144.89,403.10 147.10,403.11 149.31,403.09 151.52,402.92 153.73,402.73 155.95,402.54 158.16,402.33 160.37,402.14 162.58,402.01 164.79,401.91 167.01,401.84 169.22,401.85 171.43,401.89 173.64,401.98 174.53,402.04 174.5,402.04 173.9,402.00 173.2,401.96 172.5,401.93 171.9,401.91 171.2,401.89 170.5,401.87 169.9,401.86 169.2,401.85 168.6,401.84 167.9,401.84 167.2,401.84 166.6,401.85 165.9,401.87 165.2,401.89 164.6,401.92 163.9,401.95 163.2,401.98 162.6,402.01 161.9,402.04 161.3,402.08 160.6,402.13 159.9,402.18 159.3,402.23 158.6,402.29 157.9,402.35 157.3,402.41 156.6,402.48 155.9,402.54 155.3,402.60 154.6,402.65 154.0,402.71 153.3,402.76 152.6,402.82 152.0,402.88 151.3,402.95 150.6,403.00 150.0,403.05 149.3,403.09 148.6,403.11 148.0,403.11 147.3,403.11 146.7,403.11 146.0,403.11 145.3,403.10 144.7,403.09 144.0,403.09 143.3,403.08 142.7,403.07 142.0,403.06 141.3,403.04 140.7,403.03 140.0,403.02 139.4,402.99 138.7,402.96 138.0,402.90 137.4,402.84 136.7,402.76 136.0,402.67 135.4,402.57 134.7,402.47 134.0,402.35 133.4,402.17 132.7,401.95 132.1,401.71 131.4,401.47 130.7,401.27 130.1,401.11 129.4,400.96 128.7,400.81 128.1,400.68 127.4,400.57 126.7,400.49 126.1,400.47 125.4,400.47 124.8,400.47 124.1,400.47 123.4,400.47 122.8,400.47 122.1,400.47 121.4,400.47 120.8,400.47 120.1,400.48 119.4,400.51 118.8,400.56 118.1,400.61 117.5,400.68 116.8,400.74 116.1,400.80 115.5,400.84 114.8,400.87 114.1,400.90 113.5,400.92 112.8,400.94 112.1,400.96 111.5,400.98 110.8,401.00 110.2,401.02 109.5,401.03 108.8,401.04 108.2,401.05 107.5,401.06 106.8,401.06 106.2,401.06 105.5,401.05 104.8,401.04 104.2,401.03 103.5,401.01 102.9,401.00 102.2,400.98 101.5,400.96 100.9,400.94 100.2,400.91 99.5,400.89 98.9,400.87 98.2,400.85 97.5,400.83 96.9,400.80 96.2,400.77 95.6,400.74 94.9,400.71 94.2,400.69 93.6,400.67 92.9,400.67 92.2,400.67 91.6,400.68 90.9,400.69 90.3,400.70 89.6,400.72 88.9,400.73 88.3,400.75 87.6,400.76 86.9,400.77 86.3,400.79 85.6,400.81 84.9,400.82 84.3,400.84 83.6,400.86 83.0,400.88 82.3,400.89 81.6,400.91 81.0,400.92 80.3,400.94 79.6,400.95 79.0,400.96 78.3,400.97 77.6,400.98 77.0,400.99 76.3,400.99 75.7,401.00 75.0,401.00 74.3,401.01 73.7,401.02 73.0,401.02 72.3,401.03 71.7,401.04 71.0,401.05 70.3,401.07 69.7,401.09 69.0,401.12 68.4,401.15 67.7,401.19 67.0,401.23 66.4,401.27 65.7,401.32 65.0,401.38 64.4,401.45 63.7,401.55 63.0,401.66 62.4,401.78 61.7,401.91 61.1,402.03 60.4,402.14 59.7,402.24 59.1,402.34 58.4,402.43 57.7,402.53 57.1,402.63 56.4,402.71 55.7,402.79 55.1,402.86 54.4,402.91 53.8,402.94 53.1,402.98 52.4,403.01 51.8,403.03 51.1,403.06 50.4,403.08 49.8,403.09 49.1,403.11 48.4,403.12 47.8,403.13 47.1,403.13 46.5,403.14 45.8,403.15 45.1,403.16 44.5,403.16 43.8,403.17 43.1,403.17 42.5,403.18 41.8,403.18 41.1,403.18 40.5,403.19 39.8,403.19 39.2,403.20 38.5,403.20 37.8,403.21 37.2,403.22 36.5,403.22 35.8,403.23 35.2,403.23 34.5,403.24 33.8,403.24 33.2,403.25 32.5,403.26 31.9,403.26 31.2,403.27 30.5,403.27 29.9,403.28 29.2,403.29 28.5,403.29 27.9,403.30 27.2,403.30"/>
</g>
<g>
<path class="ax" d="M210.70,296.06V413.49H365.37"/>
<text class="tl" x="206.10" y="405.85" text-anchor="end" textLength="2.9" lengthAdjust="spacingAndGlyphs">0</text>
<text class="tl" x="206.10" y="386.28" text-anchor="end" textLength="5.5" lengthAdjust="spacingAndGlyphs">20</text>
<text class="tl" x="206.10" y="366.71" text-anchor="end" textLength="5.5" lengthAdjust="spacingAndGlyphs">40</text>
<text class="tl" x="206.10" y="347.14" text-anchor="end" textLength="5.5" lengthAdjust="spacingAndGlyphs">60</text>
<text class="tl" x="206.10" y="327.57" text-anchor="end" textLength="5.5" lengthAdjust="spacingAndGlyphs">80</text>
<text class="tl" x="206.10" y="308.00" text-anchor="end" textLength="8.5" lengthAdjust="spacingAndGlyphs">100</text>
<text class="tl" x="227.77" y="422.99" text-anchor="middle" textLength="5.5" lengthAdjust="spacingAndGlyphs">10</text>
<text class="tl" x="255.39" y="422.99" text-anchor="middle" textLength="5.5" lengthAdjust="spacingAndGlyphs">20</text>
<text class="tl" x="283.01" y="422.99" text-anchor="middle" textLength="5.5" lengthAdjust="spacingAndGlyphs">30</text>
<text class="tl" x="310.63" y="422.99" text-anchor="middle" textLength="5.5" lengthAdjust="spacingAndGlyphs">40</text>
<text class="tl" x="338.25" y="422.99" text-anchor="middle" textLength="5.5" lengthAdjust="spacingAndGlyphs">50</text>
<text class="tl" x="365.87" y="422.99" text-anchor="middle" textLength="5.5" lengthAdjust="spacingAndGlyphs">60</text>
<path class="tk" d="M207.70,403.70H210.70M207.70,384.13H210.70M207.70,364.56H210.70M207.70,344.99H210.70M207.70,325.42H210.70M207.70,305.85H210.70M227.27,413.49v3.2M254.89,413.49v3.2M282.51,413.49v3.2M310.13,413.49v3.2M337.75,413.49v3.2M365.37,413.49v3.2"/>
<text class="t4" x="210.90" y="420.88" text-anchor="middle">4</text>
<text class="xl" x="288.12" y="434.38" text-anchor="middle" textLength="19.1" lengthAdjust="spacingAndGlyphs">t / min</text>
<text class="yl" transform="translate(194.50,354.77) rotate(-90)" text-anchor="middle" textLength="68.6" lengthAdjust="spacingAndGlyphs">Relative abundance / %</text>
<text class="tp" x="337.00" y="311.20">550°C</text>
<polygon class="bd" points="210.7,403.7 211.0,403.7 211.3,403.7 211.5,403.7 211.8,403.7 212.1,403.7 212.4,403.7 212.6,403.7 212.9,403.7 213.2,403.7 213.5,403.7 213.7,403.7 214.0,403.7 214.3,403.7 214.6,403.7 214.8,403.6 215.1,403.6 215.4,403.6 215.7,403.6 216.0,403.6 216.2,403.6 216.5,403.6 216.8,403.6 217.1,403.6 217.3,403.6 217.6,403.6 217.9,403.6 218.2,403.6 218.4,403.6 218.7,403.6 219.0,403.6 219.3,403.6 219.5,403.6 219.8,403.6 220.1,403.6 220.4,403.6 220.7,403.6 220.9,403.6 221.2,403.6 221.5,403.6 221.8,403.6 222.0,403.6 222.3,403.6 222.6,403.6 222.9,403.6 223.1,403.6 223.4,403.6 223.7,403.6 224.0,403.6 224.2,403.6 224.5,403.6 224.8,403.6 225.1,403.6 225.4,403.6 225.6,403.6 225.9,403.6 226.2,403.6 226.5,403.6 226.7,403.6 227.0,403.6 227.3,403.6 227.6,403.6 227.8,403.6 228.1,403.6 228.4,403.6 228.7,403.6 228.9,403.6 229.2,403.6 229.5,403.5 229.8,403.5 230.1,403.5 230.3,403.5 230.6,403.5 230.9,403.5 231.2,403.5 231.4,403.5 231.7,403.5 232.0,403.5 232.3,403.5 232.5,403.5 232.8,403.5 233.1,403.5 233.4,403.5 233.6,403.5 233.9,403.5 234.2,403.5 234.5,403.5 234.8,403.6 235.0,403.6 235.3,403.6 235.6,403.6 235.9,403.6 236.1,403.6 236.4,403.6 236.7,403.6 237.0,403.6 237.2,403.5 237.5,403.5 237.8,403.5 238.1,403.5 238.3,403.5 238.6,403.5 238.9,403.5 239.2,403.5 239.5,403.6 239.7,403.6 240.0,403.6 240.3,403.6 240.6,403.6 240.8,403.6 241.1,403.6 241.4,403.6 241.7,403.6 241.9,403.6 242.2,403.6 242.5,403.6 242.8,403.6 243.1,403.5 243.3,403.5 243.6,403.5 243.9,403.5 244.2,403.5 244.4,403.5 244.7,403.5 245.0,403.5 245.3,403.5 245.5,403.5 245.8,403.5 246.1,403.5 246.4,403.5 246.6,403.5 246.9,403.5 247.2,403.5 247.5,403.5 247.8,403.5 248.0,403.5 248.3,403.5 248.6,403.5 248.9,403.5 249.1,403.5 249.4,403.5 249.7,403.5 250.0,403.5 250.2,403.5 250.5,403.5 250.8,403.5 251.1,403.5 251.3,403.5 251.6,403.5 251.9,403.5 252.2,403.5 252.5,403.5 252.7,403.5 253.0,403.5 253.3,403.5 253.6,403.5 253.8,403.5 254.1,403.5 254.4,403.5 254.7,403.5 254.9,403.5 255.2,403.5 255.5,403.5 255.8,403.5 256.0,403.5 256.3,403.5 256.6,403.5 256.9,403.5 257.2,403.5 257.4,403.5 257.7,403.4 258.0,403.4 258.3,403.4 258.5,403.4 258.8,403.5 259.1,403.5 259.4,403.5 259.6,403.5 259.9,403.5 260.2,403.5 260.5,403.5 260.7,403.5 261.0,403.5 261.3,403.5 261.6,403.5 261.9,403.5 262.1,403.5 262.4,403.4 262.7,403.4 263.0,403.4 263.2,403.4 263.5,403.4 263.8,403.4 264.1,403.4 264.3,403.4 264.6,403.4 264.9,403.4 265.2,403.4 265.4,403.4 265.7,403.4 266.0,403.4 266.3,403.4 266.6,403.4 266.8,403.4 267.1,403.4 267.4,403.4 267.7,403.4 267.9,403.4 268.2,403.4 268.5,403.4 268.8,403.4 269.0,403.4 269.3,403.4 269.6,403.4 269.9,403.4 270.1,403.4 270.4,403.5 270.7,403.5 271.0,403.5 271.3,403.5 271.5,403.5 271.8,403.5 272.1,403.4 272.4,403.4 272.6,403.4 272.9,403.4 273.2,403.4 273.5,403.4 273.7,403.4 274.0,403.4 274.3,403.4 274.6,403.4 274.8,403.4 275.1,403.4 275.4,403.4 275.7,403.4 276.0,403.4 276.2,403.4 276.5,403.4 276.8,403.4 277.1,403.4 277.3,403.4 277.6,403.4 277.9,403.4 278.2,403.4 278.4,403.4 278.7,403.4 279.0,403.4 279.3,403.4 279.5,403.4 279.8,403.4 280.1,403.4 280.4,403.4 280.7,403.4 280.9,403.4 281.2,403.4 281.5,403.4 281.8,403.4 282.0,403.4 282.3,403.4 282.6,403.4 282.9,403.4 283.1,403.4 283.4,403.4 283.7,403.4 284.0,403.4 284.2,403.4 284.5,403.4 284.8,403.4 285.1,403.4 285.4,403.4 285.6,403.4 285.9,403.4 286.2,403.4 286.5,403.4 286.7,403.4 287.0,403.4 287.3,403.4 287.6,403.4 287.8,403.4 288.1,403.4 288.4,403.4 288.7,403.3 288.9,403.3 289.2,403.3 289.5,403.3 289.8,403.3 290.1,403.3 290.3,403.2 290.6,403.2 290.9,403.2 291.2,403.2 291.4,403.2 291.7,403.2 292.0,403.2 292.3,403.3 292.5,403.3 292.8,403.3 293.1,403.3 293.4,403.3 293.6,403.3 293.9,403.3 294.2,403.2 294.5,403.2 294.8,403.2 295.0,403.2 295.3,403.2 295.6,403.2 295.9,403.2 296.1,403.2 296.4,403.2 296.7,403.2 297.0,403.2 297.2,403.2 297.5,403.2 297.8,403.2 298.1,403.2 298.4,403.2 298.6,403.2 298.9,403.1 299.2,403.1 299.5,403.1 299.7,403.1 300.0,403.1 300.3,403.1 300.6,403.1 300.8,403.0 301.1,403.0 301.4,403.0 301.7,403.0 301.9,403.0 302.2,403.0 302.5,403.0 302.8,403.0 303.1,403.0 303.3,403.0 303.6,402.9 303.9,402.9 304.2,402.9 304.4,402.9 304.7,402.9 305.0,402.9 305.3,402.9 305.5,402.8 305.8,402.8 306.1,402.8 306.4,402.8 306.6,402.8 306.9,402.8 307.2,402.8 307.5,402.8 307.8,402.8 308.0,402.8 308.3,402.8 308.6,402.8 308.9,402.8 309.1,402.8 309.4,402.8 309.7,402.8 310.0,402.8 310.2,402.8 310.5,402.8 310.8,402.8 311.1,402.8 311.3,402.8 311.6,402.8 311.9,402.8 312.2,402.9 312.5,402.9 312.7,402.9 313.0,402.9 313.3,402.9 313.6,402.9 313.8,402.9 314.1,402.9 314.4,402.9 314.7,403.0 314.9,403.0 315.2,403.0 315.5,403.1 315.8,403.1 316.0,403.2 316.3,403.3 316.6,403.3 316.9,403.4 317.2,403.4 317.4,403.4 317.7,403.4 318.0,403.4 318.3,403.4 318.5,403.5 318.8,403.5 319.1,403.5 319.4,403.5 319.6,403.5 319.9,403.5 320.2,403.5 320.5,403.5 320.7,403.6 321.0,403.6 321.3,403.6 321.6,403.6 321.9,403.6 322.1,403.6 322.4,403.6 322.7,403.6 323.0,403.6 323.2,403.6 323.5,403.6 323.8,403.6 324.1,403.6 324.3,403.6 324.6,403.6 324.9,403.7 325.2,403.7 325.4,403.7 325.7,403.7 326.0,403.7 326.3,403.7 326.6,403.7 326.8,403.7 327.1,403.7 327.4,403.6 327.7,403.6 327.9,403.7 328.2,403.7 328.5,403.7 328.8,403.7 329.0,403.7 329.3,403.7 329.6,403.7 329.9,403.7 330.1,403.7 330.4,403.7 330.7,403.7 331.0,403.7 331.3,403.7 331.5,403.7 331.8,403.7 332.1,403.7 332.4,403.7 332.6,403.7 332.9,403.7 333.2,403.7 333.5,403.7 333.7,403.6 334.0,403.6 334.3,403.6 334.6,403.6 334.8,403.6 335.1,403.6 335.4,403.6 335.7,403.6 336.0,403.6 336.2,403.6 336.5,403.6 336.8,403.6 337.1,403.6 337.3,403.6 337.6,403.6 337.9,403.6 338.2,403.6 338.4,403.6 338.7,403.6 339.0,403.5 339.3,403.5 339.5,403.5 339.8,403.5 340.1,403.5 340.4,403.4 340.7,403.4 340.9,403.4 341.2,403.4 341.5,403.4 341.8,403.3 342.0,403.3 342.3,403.3 342.6,403.3 342.9,403.2 343.1,403.2 343.4,403.2 343.7,403.2 344.0,403.1 344.2,403.1 344.5,403.1 344.8,403.1 345.1,403.1 345.4,403.1 345.6,403.1 345.9,403.1 346.2,403.1 346.5,403.1 346.7,403.1 347.0,403.1 347.3,403.1 347.6,403.1 347.8,403.1 348.1,403.1 348.4,403.1 348.7,403.1 348.9,403.1 349.2,403.1 349.5,403.1 349.8,403.1 350.1,403.1 350.3,403.1 350.6,403.1 350.9,403.1 351.2,403.1 351.4,403.1 351.7,403.1 352.0,403.1 352.3,403.1 352.5,403.1 352.8,403.1 353.1,403.1 353.4,403.1 353.7,403.1 353.9,403.1 354.2,403.1 354.5,403.1 354.8,403.1 355.0,403.1 355.3,403.1 355.6,403.1 355.9,403.1 356.1,403.1 356.4,403.1 356.7,403.1 357.0,403.1 357.2,403.1 357.5,403.1 357.8,403.1 358.1,403.1 358.4,403.1 358.6,403.1 358.6,402.4 358.4,402.4 358.1,402.4 357.8,402.4 357.5,402.4 357.2,402.4 357.0,402.4 356.7,402.3 356.4,402.3 356.1,402.3 355.9,402.3 355.6,402.3 355.3,402.3 355.0,402.3 354.8,402.3 354.5,402.3 354.2,402.3 353.9,402.3 353.7,402.3 353.4,402.3 353.1,402.3 352.8,402.3 352.5,402.3 352.3,402.4 352.0,402.3 351.7,402.3 351.4,402.3 351.2,402.3 350.9,402.3 350.6,402.3 350.3,402.3 350.1,402.3 349.8,402.3 349.5,402.3 349.2,402.3 348.9,402.3 348.7,402.3 348.4,402.3 348.1,402.3 347.8,402.3 347.6,402.3 347.3,402.3 347.0,402.3 346.7,402.3 346.5,402.3 346.2,402.3 345.9,402.3 345.6,402.3 345.4,402.3 345.1,402.3 344.8,402.3 344.5,402.3 344.2,402.3 344.0,402.3 343.7,402.3 343.4,402.4 343.1,402.4 342.9,402.4 342.6,402.5 342.3,402.5 342.0,402.6 341.8,402.6 341.5,402.6 341.2,402.6 340.9,402.7 340.7,402.7 340.4,402.7 340.1,402.7 339.8,402.7 339.5,402.8 339.3,402.7 339.0,402.8 338.7,402.8 338.4,402.7 338.2,402.8 337.9,402.7 337.6,402.8 337.3,402.8 337.1,402.8 336.8,402.7 336.5,402.8 336.2,402.8 336.0,402.8 335.7,402.8 335.4,402.8 335.1,402.9 334.8,402.9 334.6,402.9 334.3,402.9 334.0,402.9 333.7,402.9 333.5,402.9 333.2,402.9 332.9,402.9 332.6,402.9 332.4,402.9 332.1,402.9 331.8,402.9 331.5,402.9 331.3,402.9 331.0,402.9 330.7,402.9 330.4,402.9 330.1,402.9 329.9,402.9 329.6,402.9 329.3,402.9 329.0,402.9 328.8,402.9 328.5,402.9 328.2,402.9 327.9,402.9 327.7,402.9 327.4,402.9 327.1,402.9 326.8,402.9 326.6,402.9 326.3,402.9 326.0,402.8 325.7,402.9 325.4,402.9 325.2,402.9 324.9,402.9 324.6,402.9 324.3,402.9 324.1,402.9 323.8,402.9 323.5,402.8 323.2,402.8 323.0,402.8 322.7,402.8 322.4,402.8 322.1,402.7 321.9,402.8 321.6,402.8 321.3,402.8 321.0,402.7 320.7,402.8 320.5,402.7 320.2,402.6 319.9,402.7 319.6,402.6 319.4,402.5 319.1,402.6 318.8,402.6 318.5,402.6 318.3,402.6 318.0,402.6 317.7,402.5 317.4,402.5 317.2,402.5 316.9,402.4 316.6,402.4 316.3,402.4 316.0,402.4 315.8,402.3 315.5,402.3 315.2,402.2 314.9,402.2 314.7,402.1 314.4,402.1 314.1,402.1 313.8,402.2 313.6,402.1 313.3,402.1 313.0,402.1 312.7,402.1 312.5,402.1 312.2,402.0 311.9,402.1 311.6,402.1 311.3,402.1 311.1,402.1 310.8,402.1 310.5,402.0 310.2,402.0 310.0,402.0 309.7,402.0 309.4,401.9 309.1,402.0 308.9,402.0 308.6,402.0 308.3,402.0 308.0,402.1 307.8,402.1 307.5,402.1 307.2,402.1 306.9,402.0 306.6,402.0 306.4,402.0 306.1,402.0 305.8,402.0 305.5,402.0 305.3,402.1 305.0,402.0 304.7,402.1 304.4,402.0 304.2,401.9 303.9,401.9 303.6,401.9 303.3,401.7 303.1,401.9 302.8,401.9 302.5,402.0 302.2,402.1 301.9,402.1 301.7,402.1 301.4,402.1 301.1,402.1 300.8,402.2 300.6,402.1 300.3,402.2 300.0,402.2 299.7,402.2 299.5,402.2 299.2,402.2 298.9,402.3 298.6,402.4 298.4,402.3 298.1,402.3 297.8,402.4 297.5,402.3 297.2,402.4 297.0,402.4 296.7,402.4 296.4,402.4 296.1,402.4 295.9,402.2 295.6,402.2 295.3,402.4 295.0,402.4 294.8,402.4 294.5,402.4 294.2,402.5 293.9,402.3 293.6,402.4 293.4,402.5 293.1,402.4 292.8,402.5 292.5,402.4 292.3,402.5 292.0,402.4 291.7,402.5 291.4,402.5 291.2,402.5 290.9,402.5 290.6,402.4 290.3,402.5 290.1,402.3 289.8,402.5 289.5,402.4 289.2,402.5 288.9,402.5 288.7,402.5 288.4,402.5 288.1,402.6 287.8,402.4 287.6,402.6 287.3,402.5 287.0,402.6 286.7,402.6 286.5,402.6 286.2,402.6 285.9,402.6 285.6,402.6 285.4,402.6 285.1,402.6 284.8,402.6 284.5,402.6 284.2,402.6 284.0,402.5 283.7,402.6 283.4,402.6 283.1,402.6 282.9,402.6 282.6,402.7 282.3,402.6 282.0,402.6 281.8,402.6 281.5,402.6 281.2,402.6 280.9,402.4 280.7,402.5 280.4,402.5 280.1,402.6 279.8,402.5 279.5,402.4 279.3,402.4 279.0,402.4 278.7,402.5 278.4,402.5 278.2,402.4 277.9,402.6 277.6,402.5 277.3,402.5 277.1,402.6 276.8,402.5 276.5,402.3 276.2,402.4 276.0,402.3 275.7,402.4 275.4,402.6 275.1,402.5 274.8,402.5 274.6,402.6 274.3,402.5 274.0,402.5 273.7,402.6 273.5,402.6 273.2,402.6 272.9,402.7 272.6,402.6 272.4,402.6 272.1,402.6 271.8,402.5 271.5,402.6 271.3,402.5 271.0,402.5 270.7,402.6 270.4,402.6 270.1,402.6 269.9,402.6 269.6,402.7 269.3,402.6 269.0,402.6 268.8,402.6 268.5,402.4 268.2,402.6 267.9,402.6 267.7,402.6 267.4,402.7 267.1,402.7 266.8,402.7 266.6,402.7 266.3,402.7 266.0,402.7 265.7,402.7 265.4,402.6 265.2,402.6 264.9,402.5 264.6,402.6 264.3,402.6 264.1,402.6 263.8,402.6 263.5,402.6 263.2,402.6 263.0,402.6 262.7,402.6 262.4,402.6 262.1,402.6 261.9,402.6 261.6,402.5 261.3,402.5 261.0,402.6 260.7,402.5 260.5,402.6 260.2,402.6 259.9,402.7 259.6,402.6 259.4,402.7 259.1,402.7 258.8,402.7 258.5,402.7 258.3,402.6 258.0,402.7 257.7,402.7 257.4,402.5 257.2,402.6 256.9,402.7 256.6,402.7 256.3,402.6 256.0,402.5 255.8,402.6 255.5,402.6 255.2,402.6 254.9,402.6 254.7,402.7 254.4,402.6 254.1,402.7 253.8,402.7 253.6,402.6 253.3,402.6 253.0,402.6 252.7,402.6 252.5,402.6 252.2,402.6 251.9,402.5 251.6,402.5 251.3,402.7 251.1,402.5 250.8,402.6 250.5,402.6 250.2,402.6 250.0,402.7 249.7,402.6 249.4,402.6 249.1,402.6 248.9,402.6 248.6,402.7 248.3,402.7 248.0,402.7 247.8,402.7 247.5,402.7 247.2,402.7 246.9,402.7 246.6,402.7 246.4,402.8 246.1,402.8 245.8,402.7 245.5,402.6 245.3,402.6 245.0,402.5 244.7,402.3 244.4,402.6 244.2,402.4 243.9,402.5 243.6,402.4 243.3,402.7 243.1,402.5 242.8,402.7 242.5,402.6 242.2,402.5 241.9,402.6 241.7,402.7 241.4,402.7 241.1,402.7 240.8,402.8 240.6,402.6 240.3,402.7 240.0,402.7 239.7,402.7 239.5,402.7 239.2,402.7 238.9,402.6 238.6,402.7 238.3,402.7 238.1,402.7 237.8,402.7 237.5,402.8 237.2,402.8 237.0,402.7 236.7,402.7 236.4,402.7 236.1,402.8 235.9,402.8 235.6,402.7 235.3,402.7 235.0,402.6 234.8,402.8 234.5,402.7 234.2,402.7 233.9,402.8 233.6,402.7 233.4,402.6 233.1,402.7 232.8,402.7 232.5,402.6 232.3,402.7 232.0,402.7 231.7,402.7 231.4,402.7 231.2,402.6 230.9,402.7 230.6,402.6 230.3,402.7 230.1,402.7 229.8,402.7 229.5,402.8 229.2,402.8 228.9,402.8 228.7,402.7 228.4,402.7 228.1,402.7 227.8,402.8 227.6,402.7 227.3,402.7 227.0,402.7 226.7,402.7 226.5,402.7 226.2,402.6 225.9,402.6 225.6,402.7 225.4,402.7 225.1,402.6 224.8,402.7 224.5,402.8 224.2,402.8 224.0,402.8 223.7,402.8 223.4,402.8 223.1,402.8 222.9,402.8 222.6,402.8 222.3,402.8 222.0,402.8 221.8,402.8 221.5,402.9 221.2,402.8 220.9,402.8 220.7,402.9 220.4,402.8 220.1,402.8 219.8,402.8 219.5,402.7 219.3,402.7 219.0,402.7 218.7,402.7 218.4,402.7 218.2,402.8 217.9,402.8 217.6,402.8 217.3,402.7 217.1,402.7 216.8,402.7 216.5,402.7 216.2,402.8 216.0,402.8 215.7,402.8 215.4,402.8 215.1,402.8 214.8,402.9 214.6,402.8 214.3,402.8 214.0,402.8 213.7,402.9 213.5,402.9 213.2,402.9 212.9,402.9 212.6,402.8 212.4,402.8 212.1,402.8 211.8,402.9 211.5,402.8 211.3,402.9 211.0,402.9 210.7,402.8"/>
<path class="gr" d="M210.76,403.3v-0.5M211.06,403.3v-0.2M211.19,403.3v-1.3M211.58,403.3v-1.2M211.94,403.3v-0.3M212.58,403.3v-0.2M212.74,403.3v-0.8M213.86,403.3v-0.5M214.46,403.3v-0.2M214.59,403.3v-0.4M215.23,403.3v-2.2M215.66,403.3v-1.1M215.94,403.3v-0.3M216.21,403.3v-0.7M216.59,403.3v-0.7M217.12,403.3v-0.2M217.28,403.3v-0.2M218.09,403.3v-1.5M218.38,403.3v-0.3M218.90,403.3v-0.6M219.12,403.3v-0.6M220.17,403.2v-0.2M220.37,403.2v-0.6M220.82,403.2v-0.2M221.23,403.2v-1.0M222.85,403.2v-0.6M223.20,403.2v-0.2M223.40,403.2v-0.4M223.81,403.2v-0.2M224.05,403.2v-0.3M224.42,403.2v-0.2M224.59,403.2v-0.2M224.97,403.2v-0.2M225.20,403.2v-1.2M225.68,403.2v-1.1M225.88,403.2v-1.1M226.17,403.2v-0.3M226.42,403.2v-0.4M226.85,403.2v-3.9M227.99,403.2v-0.2M228.23,403.2v-0.7M229.31,403.2v-0.3M229.84,403.2v-0.3M230.24,403.2v-0.9M231.07,403.2v-0.2M231.33,403.2v-0.5M231.94,403.2v-0.3M232.42,403.2v-1.1M232.54,403.2v-1.0M232.83,403.2v-0.5M233.17,403.2v-3.6M233.47,403.2v-0.6M234.04,403.2v-0.9M234.39,403.2v-0.6M234.79,403.2v-0.6M235.03,403.2v-0.3M235.74,403.2v-0.9M236.55,403.2v-0.2M237.20,403.2v-0.4M237.54,403.2v-1.9M237.85,403.2v-1.8M238.08,403.2v-0.2M238.45,403.2v-0.8M238.74,403.2v-0.7M238.90,403.2v-0.8M239.39,403.2v-0.2M239.93,403.2v-0.2M240.22,403.2v-0.2M240.39,403.2v-0.3M240.83,403.2v-0.3M241.18,403.2v-0.2M241.35,403.2v-0.3M242.23,403.2v-0.3M242.59,403.2v-0.3M243.27,403.2v-0.6M243.54,403.2v-0.5M243.96,403.1v-1.1M244.38,403.1v-0.5M244.68,403.1v-0.3M245.06,403.1v-0.2M245.35,403.1v-0.5M245.64,403.1v-0.7M246.29,403.1v-0.2M247.62,403.1v-0.6M247.87,403.1v-0.5M248.23,403.1v-0.9M248.80,403.1v-0.2M249.28,403.1v-0.7M249.57,403.1v-1.4M250.36,403.1v-0.3M250.56,403.1v-1.2M250.88,403.1v-0.4M251.21,403.1v-0.3M251.43,403.1v-1.0M252.11,403.1v-0.3M253.29,403.1v-0.2M253.78,403.1v-0.4M254.27,403.1v-0.2M254.92,403.1v-0.2M255.10,403.1v-0.7M255.45,403.1v-0.6M256.00,403.1v-0.2M256.23,403.1v-0.3M256.82,403.1v-0.2M257.19,403.1v-0.2M257.51,403.1v-0.4M257.96,403.1v-0.9M258.06,403.1v-0.3M258.56,403.1v-0.9M258.65,403.1v-0.4M259.03,403.1v-0.7M259.73,403.1v-0.9M259.93,403.1v-1.7M260.21,403.1v-0.9M260.57,403.1v-1.4M261.52,403.1v-0.4M261.80,403.1v-0.2M262.10,403.1v-0.7M262.70,403.1v-0.3M263.28,403.1v-0.2M263.68,403.1v-0.5M263.89,403.1v-1.9M264.13,403.1v-0.3M264.90,403.1v-0.4M265.18,403.1v-0.3M265.47,403.1v-0.3M265.87,403.1v-0.4M266.06,403.1v-1.0M266.65,403.1v-0.2M267.64,403.1v-0.4M267.81,403.1v-0.2M269.07,403.1v-0.6M269.38,403.1v-0.2M269.78,403.1v-0.2M270.11,403.1v-0.4M270.22,403.1v-0.2M270.66,403.1v-0.2M271.27,403.1v-0.2M271.77,403.1v-0.7M272.11,403.1v-0.2M272.47,403.1v-1.4M272.94,403.1v-0.2M273.38,403.1v-0.4M274.55,403.1v-0.7M275.21,403.0v-0.2M275.57,403.0v-0.3M276.21,403.0v-0.3M276.47,403.0v-0.2M276.69,403.0v-0.4M276.95,403.0v-0.3M277.43,403.0v-1.1M277.73,403.0v-2.0M277.91,403.0v-1.7M278.12,403.0v-0.4M278.83,403.0v-0.2M279.17,403.0v-0.9M279.79,403.0v-0.2M280.08,403.0v-0.3M280.29,403.0v-0.2M281.06,403.0v-0.2M281.26,403.0v-0.2M282.15,403.0v-0.5M282.48,403.0v-0.3M282.79,403.0v-0.3M283.11,403.0v-0.4M284.68,403.0v-0.4M284.87,403.0v-0.6M285.29,403.0v-1.2M286.06,403.0v-0.4M286.70,403.0v-0.3M286.94,403.0v-0.2M287.27,403.0v-0.4M287.59,403.0v-0.3M287.89,403.0v-0.6M288.17,403.0v-0.2M288.63,403.0v-1.2M289.23,403.0v-0.3M289.52,403.0v-0.8M289.67,403.0v-0.5M290.10,403.0v-1.0M290.48,403.0v-0.4M291.07,402.9v-0.7M291.42,402.9v-0.3M291.95,402.9v-0.9M292.10,402.9v-0.8M292.52,402.9v-1.3M292.93,402.9v-0.9M293.50,402.9v-0.4M293.61,402.9v-3.9M294.02,402.9v-0.2M294.46,402.9v-1.2M294.58,402.9v-0.4M294.83,402.9v-0.5M295.17,402.9v-0.2M295.49,402.9v-0.3M295.86,402.9v-1.0M296.27,402.9v-0.4M296.52,402.9v-0.2M296.89,402.9v-0.2M296.99,402.9v-1.1M297.43,402.9v-0.2M297.61,402.9v-0.5M297.96,402.8v-1.0M298.72,402.8v-0.2M298.87,402.8v-0.2M299.13,402.8v-0.2M299.63,402.8v-1.7M299.91,402.8v-0.3M300.72,402.8v-0.3M301.45,402.7v-0.5M301.53,402.7v-0.5M301.84,402.7v-0.2M302.19,402.7v-0.4M302.63,402.6v-0.3M302.96,402.6v-0.7M303.19,402.6v-0.2M303.52,402.6v-0.6M303.74,402.6v-0.2M304.06,402.5v-0.2M304.44,402.5v-0.7M304.77,402.5v-0.7M304.91,402.5v-0.2M305.17,402.5v-0.2M305.69,402.5v-0.2M306.57,402.5v-0.8M306.73,402.5v-0.4M307.06,402.5v-0.2M307.33,402.5v-0.2M308.13,402.4v-1.6M308.22,402.4v-0.2M308.67,402.4v-0.3M309.03,402.4v-0.2M309.17,402.4v-1.2M309.62,402.4v-0.3M309.93,402.4v-0.2M310.05,402.4v-0.2M310.55,402.4v-0.2M310.87,402.4v-1.0M311.12,402.4v-0.2M311.34,402.4v-0.3M312.59,402.5v-0.3M313.19,402.5v-0.6M313.56,402.6v-0.2M313.80,402.6v-0.7M314.18,402.6v-0.2M314.53,402.6v-0.5M314.69,402.6v-0.5M315.25,402.7v-0.5M315.65,402.8v-0.4M315.95,402.8v-0.3M316.22,402.8v-0.4M316.54,402.9v-0.3M317.03,403.0v-1.0M317.78,403.1v-0.2M318.37,403.1v-0.9M318.64,403.1v-0.3M319.04,403.1v-0.5M319.17,403.1v-0.3M319.64,403.2v-0.6M319.98,403.2v-0.3M320.10,403.2v-1.4M320.89,403.2v-0.3M322.10,403.2v-0.3M322.35,403.2v-0.4M323.35,403.3v-0.2M326.28,403.3v-0.9M326.47,403.3v-0.2M328.63,403.3v-0.3M330.24,403.3v-0.2M330.86,403.3v-0.2M333.59,403.3v-0.3M334.54,403.3v-0.3M335.46,403.2v-0.3M336.92,403.2v-0.4M337.56,403.2v-0.2M339.73,403.1v-0.3M339.87,403.1v-0.3M341.13,403.0v-0.4M342.76,402.9v-0.2M343.55,402.8v-0.2M345.36,402.7v-0.4M346.28,402.7v-0.2M347.67,402.7v-0.2M348.58,402.7v-0.2M349.77,402.7v-0.2M350.41,402.7v-0.3M351.60,402.7v-0.2M353.67,402.7v-0.2M356.61,402.7v-0.2M357.92,402.7v-0.3M358.16,402.7v-0.2M358.59,402.7v-0.2"/>
<polygon class="tr" points="210.70,403.31 212.08,403.28 212.14,403.19 212.19,402.86 212.25,402.14 212.30,401.21 212.36,400.76 212.41,400.96 212.47,401.46 212.58,402.59 212.64,402.95 212.69,403.15 212.86,403.29 213.74,403.26 213.80,403.11 213.85,402.60 213.91,401.46 213.96,400.00 214.02,399.30 214.07,399.60 214.13,400.39 214.18,401.34 214.24,402.18 214.29,402.74 214.35,403.06 214.46,403.26 215.12,403.25 215.18,403.08 215.23,402.51 215.29,401.23 215.35,399.60 215.40,398.81 215.46,399.15 215.51,400.03 215.57,401.10 215.62,402.03 215.68,402.67 215.73,403.02 215.79,403.19 216.06,403.27 216.78,403.25 216.84,403.18 216.89,402.92 216.95,402.35 217.00,401.61 217.06,401.25 217.11,401.41 217.28,402.71 217.34,402.99 217.45,403.22 218.17,403.23 218.22,403.09 218.28,402.58 218.33,401.45 218.39,400.00 218.44,399.30 218.50,399.60 218.55,400.38 218.61,401.33 218.66,402.16 218.72,402.72 218.77,403.03 218.88,403.23 220.10,403.24 220.16,403.18 220.21,402.99 220.27,402.56 220.32,402.01 220.38,401.74 220.43,401.86 220.60,402.83 220.71,403.16 221.04,403.24 222.59,403.22 222.64,403.17 222.70,402.98 222.76,402.55 222.81,402.01 222.87,401.74 222.92,401.86 223.09,402.82 223.20,403.15 223.53,403.23 225.74,403.22 226.35,403.18 226.41,403.00 226.46,402.37 226.52,400.97 226.57,399.19 226.63,398.32 226.68,398.69 226.74,399.66 226.79,400.83 226.85,401.85 226.90,402.55 226.96,402.94 227.01,403.11 227.23,403.21 228.34,403.20 228.40,403.14 228.45,402.63 228.51,399.87 228.56,390.13 228.62,368.49 228.67,340.84 228.73,327.38 228.78,333.13 228.84,347.42 228.89,362.07 228.95,365.51 229.00,348.84 229.06,319.70 229.11,305.36 229.17,313.82 229.23,333.13 229.28,356.28 229.34,376.41 229.39,390.16 229.45,397.79 229.50,401.29 229.56,402.63 229.61,403.05 229.72,403.19 230.61,403.18 230.66,403.09 230.72,402.78 230.77,402.08 230.83,401.20 230.88,400.76 230.94,400.95 231.00,401.43 231.11,402.52 231.16,402.87 231.22,403.06 231.38,403.19 232.54,403.17 232.60,403.10 232.65,402.85 232.71,402.30 232.76,401.60 232.82,401.25 232.88,401.40 233.04,402.65 233.10,402.92 233.21,403.15 233.93,403.16 233.98,403.06 234.04,402.68 234.09,401.85 234.15,400.79 234.20,400.28 234.26,400.50 234.31,401.07 234.42,402.37 234.48,402.79 234.53,403.02 234.64,403.16 236.08,403.15 236.14,402.97 236.19,401.97 236.25,398.46 236.30,390.65 236.36,380.67 236.41,375.81 236.47,377.92 236.53,383.31 236.58,389.86 236.64,395.57 236.69,399.47 236.75,401.64 236.80,402.63 236.86,403.01 236.97,403.16 237.19,403.16 237.24,403.05 237.30,402.44 237.35,400.31 237.41,395.57 237.47,389.52 237.52,386.58 237.58,387.85 237.63,391.12 237.69,395.09 237.74,398.56 237.80,400.92 237.85,402.24 237.91,402.84 237.96,403.07 238.18,403.17 238.90,403.15 238.96,403.08 239.01,402.84 239.07,402.29 239.12,401.59 239.18,401.25 239.23,401.40 239.40,402.63 239.46,402.91 239.57,403.13 241.67,403.11 241.72,402.90 241.78,402.15 241.83,400.49 241.89,398.37 241.94,397.34 242.00,397.78 242.06,398.92 242.11,400.29 242.17,401.46 242.22,402.18 242.28,402.43 242.33,402.29 242.39,401.84 242.44,401.16 242.55,399.58 242.61,399.01 242.66,398.81 242.72,398.89 242.77,399.14 242.88,400.00 243.05,401.49 243.11,401.74 243.16,401.50 243.22,400.46 243.27,398.99 243.33,398.32 243.38,398.77 243.44,399.73 243.49,400.87 243.55,401.85 243.60,402.52 243.66,402.89 243.71,403.06 243.99,403.15 244.43,403.10 244.49,402.85 244.54,401.98 244.60,400.04 244.65,397.57 244.71,396.36 244.76,396.88 244.82,398.22 244.88,399.84 244.93,401.26 244.99,402.23 245.04,402.76 245.10,403.01 245.26,403.14 245.54,403.12 245.59,403.00 245.65,402.56 245.70,401.61 245.76,400.38 245.82,399.79 245.87,400.04 245.93,400.71 245.98,401.51 246.04,402.21 246.09,402.69 246.15,402.95 246.26,403.12 246.92,403.12 246.98,403.04 247.03,402.73 247.09,402.05 247.14,401.19 247.20,400.76 247.25,400.95 247.31,401.41 247.42,402.48 247.47,402.82 247.53,403.00 247.70,403.13 248.30,403.11 248.36,402.97 248.41,402.47 248.47,401.38 248.53,399.98 248.58,399.30 248.64,399.59 248.69,400.35 248.75,401.27 248.80,402.07 248.86,402.61 248.91,402.92 249.02,403.11 249.96,403.11 250.02,403.03 250.07,402.72 250.13,402.05 250.18,401.18 250.24,400.76 250.29,400.95 250.35,401.41 250.46,402.47 250.52,402.81 250.57,403.00 250.74,403.12 252.73,403.10 252.78,403.00 252.84,402.63 252.89,401.82 252.95,400.78 253.00,400.28 253.06,400.49 253.12,401.05 253.23,402.33 253.28,402.73 253.34,402.96 253.45,403.10 254.66,403.10 254.72,403.03 254.77,402.79 254.83,402.26 254.88,401.58 254.94,401.25 255.00,401.40 255.16,402.60 255.22,402.86 255.33,403.07 257.43,403.09 257.48,403.02 257.54,402.79 257.59,402.26 257.65,401.58 257.70,401.25 257.76,401.40 257.93,402.59 257.98,402.85 258.09,403.07 259.64,403.07 259.70,402.93 259.75,402.44 259.81,401.36 259.86,399.97 259.92,399.30 259.97,399.59 260.03,400.34 260.08,401.25 260.14,402.04 260.19,402.58 260.25,402.88 260.36,403.07 261.58,403.08 261.63,403.01 261.69,402.77 261.74,402.25 261.80,401.58 261.85,401.25 261.91,401.39 262.07,402.58 262.13,402.84 262.24,403.05 263.73,403.07 263.79,402.98 263.84,402.45 263.90,400.58 263.95,396.42 264.01,391.12 264.06,388.53 264.12,389.65 264.18,392.52 264.23,396.00 264.29,399.03 264.34,401.08 264.40,402.04 264.45,401.89 264.51,400.59 264.56,398.74 264.62,397.83 264.67,398.24 264.73,399.27 264.78,400.53 264.84,401.62 264.89,402.37 264.95,402.79 265.00,402.98 265.23,403.08 266.55,403.06 266.61,403.00 266.66,402.76 266.72,402.24 266.77,401.58 266.83,401.25 266.88,401.39 267.05,402.57 267.11,402.83 267.22,403.04 269.32,403.05 269.37,402.95 269.43,402.59 269.48,401.79 269.54,400.77 269.59,400.28 269.65,400.49 269.71,401.04 269.82,402.29 269.87,402.69 269.93,402.91 270.04,403.05 270.70,403.05 270.76,402.96 270.81,402.67 270.87,402.01 270.92,401.17 270.98,400.76 271.03,400.94 271.20,402.42 271.25,402.75 271.36,403.02 272.36,403.04 272.41,402.94 272.47,402.58 272.53,401.78 272.58,400.77 272.64,400.28 272.69,400.49 272.75,401.04 272.86,402.28 272.91,402.68 272.97,402.90 273.08,403.04 274.02,403.04 274.07,402.95 274.13,402.66 274.18,402.01 274.24,401.17 274.29,400.76 274.35,400.94 274.52,402.42 274.57,402.74 274.68,403.01 275.12,403.02 275.18,402.88 275.24,402.40 275.29,401.33 275.35,399.96 275.40,399.30 275.46,399.59 275.51,400.32 275.57,401.22 275.62,402.00 275.68,402.54 275.73,402.84 275.84,403.02 276.78,403.01 276.84,402.84 276.89,402.23 276.95,400.88 277.00,399.16 277.06,398.32 277.12,398.68 277.17,399.61 277.23,400.74 277.28,401.73 277.34,402.40 277.39,402.78 277.45,402.95 277.72,403.04 277.89,403.01 277.94,402.90 278.00,402.48 278.06,401.55 278.11,400.36 278.17,399.79 278.22,400.04 278.28,400.68 278.39,402.13 278.44,402.60 278.50,402.85 278.61,403.02 279.00,402.98 279.05,402.70 279.11,401.71 279.16,399.53 279.22,396.74 279.27,395.38 279.33,395.97 279.38,397.48 279.44,399.31 279.49,400.90 279.55,402.00 279.60,402.60 279.66,402.88 279.77,403.02 280.38,403.01 280.43,402.93 280.49,402.64 280.54,401.99 280.60,401.17 280.65,400.76 280.71,400.94 280.88,402.40 280.93,402.72 281.04,402.98 282.31,402.99 282.37,402.85 282.42,402.37 282.48,401.31 282.53,399.96 282.59,399.30 282.65,399.58 282.70,400.31 282.76,401.20 282.81,401.98 282.87,402.51 282.92,402.80 283.03,402.99 284.53,402.99 284.58,402.93 284.64,402.70 284.69,402.20 284.75,401.56 284.80,401.25 284.86,401.39 285.02,402.51 285.08,402.76 285.19,402.96 286.46,402.96 286.52,402.83 286.57,402.35 286.63,401.30 286.68,399.95 286.74,399.30 286.79,399.58 286.85,400.31 286.90,401.19 286.96,401.96 287.01,402.49 287.07,402.78 287.18,402.96 288.40,402.96 288.45,402.90 288.51,402.68 288.56,402.19 288.62,401.56 288.67,401.25 288.73,401.39 288.89,402.49 288.95,402.74 289.06,402.93 290.33,402.94 290.39,402.84 290.44,402.49 290.50,401.73 290.55,400.75 290.61,400.28 290.66,400.48 290.72,401.01 290.83,402.21 290.88,402.59 290.94,402.80 291.11,402.94 291.99,402.92 292.05,402.84 292.10,402.56 292.16,401.94 292.21,401.15 292.27,400.76 292.32,400.93 292.49,402.33 292.54,402.64 292.65,402.89 293.37,402.89 293.43,402.76 293.48,402.29 293.54,401.26 293.59,399.94 293.65,399.30 293.71,399.57 293.76,400.29 293.82,401.15 293.87,401.91 293.93,402.42 293.98,402.71 294.09,402.89 294.76,402.85 294.81,402.61 294.87,401.77 294.92,399.91 294.98,397.52 295.03,396.36 295.09,396.86 295.14,398.15 295.20,399.71 295.25,401.08 295.31,402.01 295.36,402.52 295.42,402.76 295.59,402.88 296.69,402.85 296.75,402.78 296.80,402.50 296.86,401.90 296.91,401.14 296.97,400.76 297.02,400.92 297.19,402.28 297.24,402.57 297.36,402.81 299.18,402.80 299.24,402.71 299.29,402.38 299.35,401.65 299.40,400.73 299.46,400.28 299.51,400.47 299.57,400.97 299.68,402.10 299.73,402.46 299.79,402.66 299.95,402.79 301.67,402.68 301.72,402.61 301.78,402.36 301.83,401.81 301.89,401.11 301.94,400.76 302.00,400.91 302.17,402.13 302.22,402.40 302.33,402.61 304.27,402.53 304.32,402.45 304.38,402.01 304.43,400.46 304.49,397.02 304.54,392.63 304.60,390.49 304.65,391.41 304.71,393.78 304.77,396.66 304.82,399.18 304.88,400.89 304.93,401.84 304.99,402.26 305.04,402.33 305.10,402.03 305.15,401.26 305.21,400.27 305.26,399.79 305.32,399.99 305.37,400.53 305.48,401.75 305.54,402.14 305.59,402.35 305.76,402.49 306.92,402.45 306.98,402.35 307.03,402.01 307.09,401.24 307.14,400.26 307.20,399.79 307.25,399.99 307.31,400.52 307.42,401.71 307.47,402.10 307.53,402.31 307.70,402.45 308.30,402.42 308.36,402.30 308.42,401.90 308.47,401.00 308.53,399.86 308.58,399.30 308.64,399.54 308.69,400.16 308.80,401.56 308.86,402.01 308.91,402.26 309.02,402.42 309.96,402.41 310.02,402.33 310.07,402.06 310.13,401.44 310.18,400.66 310.24,400.28 310.30,400.44 310.46,401.83 310.52,402.14 310.63,402.39 310.79,402.39 310.85,402.17 310.90,401.39 310.96,399.65 311.01,397.44 311.07,396.36 311.12,396.83 311.18,398.03 311.24,399.49 311.29,400.76 311.35,401.63 311.40,402.11 311.46,402.33 311.62,402.46 312.18,402.46 312.23,402.37 312.29,402.02 312.34,401.25 312.40,400.26 312.45,399.79 312.51,400.00 312.56,400.54 312.67,401.76 312.73,402.15 312.78,402.37 312.95,402.52 313.50,402.55 313.56,402.47 313.61,402.00 313.67,400.32 313.72,396.59 313.78,391.83 313.83,389.51 313.89,390.52 313.95,393.10 314.00,396.23 314.06,398.96 314.11,400.80 314.17,401.66 314.22,401.53 314.28,400.34 314.33,398.66 314.39,397.83 314.44,398.20 314.50,399.15 314.55,400.30 314.61,401.31 314.66,402.00 314.72,402.38 314.77,402.56 315.05,402.68 316.32,402.84 316.38,402.75 316.43,402.42 316.49,401.68 316.54,400.73 316.60,400.28 316.65,400.49 316.71,401.01 316.82,402.20 316.88,402.59 316.93,402.80 317.10,402.97 318.26,403.09 318.31,403.04 318.37,402.87 318.42,402.48 318.48,401.98 318.53,401.74 318.59,401.85 318.76,402.74 318.87,403.05 319.31,403.14 321.52,403.22 323.73,403.28 325.95,403.31 328.16,403.31 330.37,403.30 332.58,403.28 334.79,403.26 337.01,403.22 339.22,403.16 341.43,403.00 343.64,402.82 345.85,402.72 348.07,402.72 350.28,402.72 352.49,402.72 354.70,402.72 356.91,402.72 358.63,402.72 358.6,402.72 358.0,402.72 357.3,402.72 356.6,402.72 356.0,402.72 355.3,402.72 354.6,402.72 354.0,402.72 353.3,402.72 352.7,402.72 352.0,402.72 351.3,402.72 350.7,402.72 350.0,402.72 349.3,402.72 348.7,402.72 348.0,402.72 347.3,402.72 346.7,402.72 346.0,402.72 345.4,402.73 344.7,402.76 344.0,402.80 343.4,402.84 342.7,402.89 342.0,402.95 341.4,403.01 340.7,403.06 340.0,403.11 339.4,403.15 338.7,403.19 338.1,403.21 337.4,403.22 336.7,403.23 336.1,403.24 335.4,403.25 334.7,403.26 334.1,403.26 333.4,403.27 332.7,403.28 332.1,403.28 331.4,403.29 330.8,403.29 330.1,403.30 329.4,403.30 328.8,403.31 328.1,403.31 327.4,403.31 326.8,403.31 326.1,403.31 325.4,403.30 324.8,403.29 324.1,403.28 323.5,403.27 322.8,403.26 322.1,403.24 321.5,403.22 320.8,403.20 320.1,403.18 319.5,403.15 318.8,403.12 318.1,403.09 317.5,403.02 316.8,402.93 316.2,402.84 315.5,402.74 314.8,402.66 314.2,402.61 313.5,402.56 312.8,402.52 312.2,402.48 311.5,402.45 310.8,402.43 310.2,402.43 309.5,402.43 308.9,402.44 308.2,402.45 307.5,402.46 306.9,402.47 306.2,402.49 305.5,402.50 304.9,402.52 304.2,402.54 303.5,402.57 302.9,402.61 302.2,402.66 301.6,402.70 300.9,402.74 300.2,402.78 299.6,402.81 298.9,402.83 298.2,402.84 297.6,402.85 296.9,402.86 296.2,402.88 295.6,402.89 294.9,402.90 294.3,402.91 293.6,402.92 292.9,402.93 292.3,402.93 291.6,402.94 290.9,402.95 290.3,402.96 289.6,402.96 288.9,402.97 288.3,402.98 287.6,402.98 287.0,402.99 286.3,402.99 285.6,403.00 285.0,403.00 284.3,403.00 283.6,403.01 283.0,403.01 282.3,403.02 281.6,403.02 281.0,403.02 280.3,403.03 279.7,403.03 279.0,403.03 278.3,403.04 277.7,403.04 277.0,403.04 276.3,403.05 275.7,403.05 275.0,403.05 274.4,403.05 273.7,403.06 273.0,403.06 272.4,403.06 271.7,403.06 271.0,403.06 270.4,403.07 269.7,403.07 269.0,403.07 268.4,403.07 267.7,403.07 267.1,403.08 266.4,403.08 265.7,403.08 265.1,403.08 264.4,403.08 263.7,403.09 263.1,403.09 262.4,403.09 261.7,403.09 261.1,403.09 260.4,403.10 259.8,403.10 259.1,403.10 258.4,403.10 257.8,403.10 257.1,403.11 256.4,403.11 255.8,403.11 255.1,403.11 254.4,403.11 253.8,403.12 253.1,403.12 252.5,403.12 251.8,403.12 251.1,403.13 250.5,403.13 249.8,403.13 249.1,403.13 248.5,403.13 247.8,403.14 247.1,403.14 246.5,403.14 245.8,403.14 245.2,403.15 244.5,403.15 243.8,403.15 243.2,403.15 242.5,403.15 241.8,403.16 241.2,403.16 240.5,403.16 239.8,403.16 239.2,403.16 238.5,403.17 237.9,403.17 237.2,403.17 236.5,403.17 235.9,403.18 235.2,403.18 234.5,403.18 233.9,403.18 233.2,403.19 232.5,403.19 231.9,403.19 231.2,403.19 230.6,403.20 229.9,403.20 229.2,403.20 228.6,403.21 227.9,403.21 227.2,403.21 226.6,403.21 225.9,403.22 225.2,403.22 224.6,403.22 223.9,403.23 223.3,403.23 222.6,403.23 221.9,403.24 221.3,403.24 220.6,403.25 219.9,403.25 219.3,403.25 218.6,403.26 217.9,403.26 217.3,403.27 216.6,403.27 216.0,403.27 215.3,403.28 214.6,403.28 214.0,403.29 213.3,403.29 212.6,403.30 212.0,403.30 211.3,403.30"/>
</g>
<g>
<path class="ax" d="M387.40,296.06V413.49H542.86"/>
<text class="tl" x="382.80" y="405.85" text-anchor="end" textLength="2.9" lengthAdjust="spacingAndGlyphs">0</text>
<text class="tl" x="382.80" y="386.28" text-anchor="end" textLength="5.5" lengthAdjust="spacingAndGlyphs">20</text>
<text class="tl" x="382.80" y="366.71" text-anchor="end" textLength="5.5" lengthAdjust="spacingAndGlyphs">40</text>
<text class="tl" x="382.80" y="347.14" text-anchor="end" textLength="5.5" lengthAdjust="spacingAndGlyphs">60</text>
<text class="tl" x="382.80" y="327.57" text-anchor="end" textLength="5.5" lengthAdjust="spacingAndGlyphs">80</text>
<text class="tl" x="382.80" y="308.00" text-anchor="end" textLength="8.5" lengthAdjust="spacingAndGlyphs">100</text>
<text class="tl" x="404.56" y="422.99" text-anchor="middle" textLength="5.5" lengthAdjust="spacingAndGlyphs">10</text>
<text class="tl" x="432.32" y="422.99" text-anchor="middle" textLength="5.5" lengthAdjust="spacingAndGlyphs">20</text>
<text class="tl" x="460.08" y="422.99" text-anchor="middle" textLength="5.5" lengthAdjust="spacingAndGlyphs">30</text>
<text class="tl" x="487.84" y="422.99" text-anchor="middle" textLength="5.5" lengthAdjust="spacingAndGlyphs">40</text>
<text class="tl" x="515.60" y="422.99" text-anchor="middle" textLength="5.5" lengthAdjust="spacingAndGlyphs">50</text>
<text class="tl" x="543.36" y="422.99" text-anchor="middle" textLength="5.5" lengthAdjust="spacingAndGlyphs">60</text>
<path class="tk" d="M384.40,403.70H387.40M384.40,384.13H387.40M384.40,364.56H387.40M384.40,344.99H387.40M384.40,325.42H387.40M384.40,305.85H387.40M404.06,413.49v3.2M431.82,413.49v3.2M459.58,413.49v3.2M487.34,413.49v3.2M515.10,413.49v3.2M542.86,413.49v3.2"/>
<text class="t4" x="387.60" y="420.88" text-anchor="middle">4</text>
<text class="xl" x="464.82" y="434.38" text-anchor="middle" textLength="19.1" lengthAdjust="spacingAndGlyphs">t / min</text>
<text class="yl" transform="translate(371.20,354.77) rotate(-90)" text-anchor="middle" textLength="68.6" lengthAdjust="spacingAndGlyphs">Relative abundance / %</text>
<text class="tp" x="511.80" y="311.20">600°C</text>
<polygon class="bd" points="387.4,403.8 387.7,403.8 388.0,403.8 388.2,403.8 388.5,403.8 388.8,403.8 389.1,403.8 389.3,403.8 389.6,403.8 389.9,403.8 390.2,403.8 390.4,403.8 390.7,403.8 391.0,403.8 391.3,403.7 391.5,403.7 391.8,403.7 392.1,403.7 392.4,403.7 392.7,403.7 392.9,403.7 393.2,403.7 393.5,403.7 393.8,403.7 394.0,403.7 394.3,403.7 394.6,403.7 394.9,403.7 395.1,403.7 395.4,403.7 395.7,403.7 396.0,403.7 396.2,403.7 396.5,403.7 396.8,403.7 397.1,403.7 397.4,403.7 397.6,403.7 397.9,403.7 398.2,403.7 398.5,403.7 398.7,403.7 399.0,403.7 399.3,403.7 399.6,403.7 399.8,403.7 400.1,403.7 400.4,403.7 400.7,403.7 400.9,403.7 401.2,403.7 401.5,403.7 401.8,403.7 402.1,403.7 402.3,403.7 402.6,403.7 402.9,403.7 403.2,403.7 403.4,403.7 403.7,403.7 404.0,403.7 404.3,403.7 404.5,403.7 404.8,403.7 405.1,403.7 405.4,403.7 405.6,403.7 405.9,403.7 406.2,403.7 406.5,403.7 406.8,403.7 407.0,403.7 407.3,403.7 407.6,403.7 407.9,403.7 408.1,403.7 408.4,403.7 408.7,403.7 409.0,403.6 409.2,403.6 409.5,403.6 409.8,403.6 410.1,403.6 410.3,403.6 410.6,403.6 410.9,403.6 411.2,403.6 411.5,403.6 411.7,403.6 412.0,403.6 412.3,403.6 412.6,403.6 412.8,403.6 413.1,403.6 413.4,403.6 413.7,403.6 413.9,403.6 414.2,403.6 414.5,403.6 414.8,403.6 415.0,403.6 415.3,403.6 415.6,403.6 415.9,403.6 416.2,403.6 416.4,403.6 416.7,403.6 417.0,403.6 417.3,403.6 417.5,403.6 417.8,403.6 418.1,403.6 418.4,403.6 418.6,403.6 418.9,403.6 419.2,403.6 419.5,403.6 419.8,403.6 420.0,403.6 420.3,403.6 420.6,403.6 420.9,403.6 421.1,403.6 421.4,403.6 421.7,403.6 422.0,403.6 422.2,403.6 422.5,403.6 422.8,403.6 423.1,403.6 423.3,403.6 423.6,403.6 423.9,403.6 424.2,403.6 424.5,403.6 424.7,403.6 425.0,403.6 425.3,403.6 425.6,403.6 425.8,403.6 426.1,403.6 426.4,403.6 426.7,403.6 426.9,403.6 427.2,403.6 427.5,403.6 427.8,403.6 428.0,403.6 428.3,403.6 428.6,403.6 428.9,403.6 429.2,403.6 429.4,403.6 429.7,403.6 430.0,403.6 430.3,403.6 430.5,403.6 430.8,403.6 431.1,403.6 431.4,403.6 431.6,403.6 431.9,403.6 432.2,403.6 432.5,403.6 432.7,403.6 433.0,403.6 433.3,403.6 433.6,403.6 433.9,403.6 434.1,403.6 434.4,403.6 434.7,403.6 435.0,403.6 435.2,403.6 435.5,403.6 435.8,403.6 436.1,403.6 436.3,403.6 436.6,403.6 436.9,403.6 437.2,403.6 437.4,403.5 437.7,403.5 438.0,403.5 438.3,403.5 438.6,403.5 438.8,403.6 439.1,403.6 439.4,403.6 439.7,403.6 439.9,403.6 440.2,403.6 440.5,403.6 440.8,403.6 441.0,403.6 441.3,403.6 441.6,403.6 441.9,403.6 442.1,403.6 442.4,403.6 442.7,403.6 443.0,403.6 443.3,403.6 443.5,403.6 443.8,403.6 444.1,403.5 444.4,403.5 444.6,403.5 444.9,403.5 445.2,403.5 445.5,403.5 445.7,403.5 446.0,403.5 446.3,403.6 446.6,403.6 446.8,403.6 447.1,403.6 447.4,403.6 447.7,403.6 448.0,403.6 448.2,403.6 448.5,403.5 448.8,403.5 449.1,403.5 449.3,403.5 449.6,403.5 449.9,403.5 450.2,403.6 450.4,403.6 450.7,403.6 451.0,403.6 451.3,403.6 451.5,403.6 451.8,403.6 452.1,403.6 452.4,403.6 452.7,403.6 452.9,403.6 453.2,403.6 453.5,403.6 453.8,403.6 454.0,403.6 454.3,403.6 454.6,403.6 454.9,403.6 455.1,403.6 455.4,403.6 455.7,403.6 456.0,403.6 456.2,403.6 456.5,403.6 456.8,403.6 457.1,403.6 457.4,403.6 457.6,403.6 457.9,403.6 458.2,403.6 458.5,403.6 458.7,403.6 459.0,403.6 459.3,403.6 459.6,403.6 459.8,403.6 460.1,403.6 460.4,403.6 460.7,403.6 460.9,403.6 461.2,403.6 461.5,403.6 461.8,403.6 462.1,403.6 462.3,403.6 462.6,403.6 462.9,403.6 463.2,403.6 463.4,403.6 463.7,403.6 464.0,403.6 464.3,403.6 464.5,403.6 464.8,403.6 465.1,403.6 465.4,403.6 465.6,403.6 465.9,403.6 466.2,403.6 466.5,403.6 466.8,403.6 467.0,403.6 467.3,403.6 467.6,403.6 467.9,403.6 468.1,403.6 468.4,403.6 468.7,403.6 469.0,403.6 469.2,403.6 469.5,403.6 469.8,403.6 470.1,403.6 470.3,403.6 470.6,403.6 470.9,403.6 471.2,403.6 471.5,403.6 471.7,403.6 472.0,403.6 472.3,403.6 472.6,403.6 472.8,403.6 473.1,403.6 473.4,403.6 473.7,403.6 473.9,403.6 474.2,403.6 474.5,403.6 474.8,403.6 475.1,403.6 475.3,403.6 475.6,403.6 475.9,403.6 476.2,403.6 476.4,403.6 476.7,403.6 477.0,403.6 477.3,403.6 477.5,403.6 477.8,403.6 478.1,403.6 478.4,403.6 478.6,403.6 478.9,403.6 479.2,403.6 479.5,403.6 479.8,403.6 480.0,403.6 480.3,403.6 480.6,403.6 480.9,403.6 481.1,403.6 481.4,403.6 481.7,403.6 482.0,403.6 482.2,403.6 482.5,403.6 482.8,403.6 483.1,403.6 483.3,403.6 483.6,403.6 483.9,403.6 484.2,403.6 484.5,403.6 484.7,403.6 485.0,403.6 485.3,403.6 485.6,403.6 485.8,403.6 486.1,403.6 486.4,403.6 486.7,403.6 486.9,403.6 487.2,403.6 487.5,403.6 487.8,403.6 488.0,403.6 488.3,403.6 488.6,403.6 488.9,403.6 489.2,403.6 489.4,403.6 489.7,403.6 490.0,403.6 490.3,403.6 490.5,403.6 490.8,403.6 491.1,403.6 491.4,403.6 491.6,403.6 491.9,403.6 492.2,403.6 492.5,403.7 492.7,403.7 493.0,403.7 493.3,403.7 493.6,403.7 493.9,403.7 494.1,403.7 494.4,403.7 494.7,403.7 495.0,403.7 495.2,403.7 495.5,403.7 495.8,403.7 496.1,403.7 496.3,403.7 496.6,403.7 496.9,403.7 497.2,403.7 497.4,403.7 497.7,403.7 498.0,403.7 498.3,403.7 498.6,403.8 498.8,403.8 499.1,403.8 499.4,403.8 499.7,403.8 499.9,403.8 500.2,403.8 500.5,403.8 500.8,403.8 501.0,403.8 501.3,403.8 501.6,403.8 501.9,403.8 502.1,403.8 502.4,403.8 502.7,403.8 503.0,403.8 503.3,403.8 503.5,403.8 503.8,403.8 504.1,403.8 504.4,403.8 504.6,403.8 504.9,403.8 505.2,403.8 505.5,403.8 505.7,403.8 506.0,403.8 506.3,403.8 506.6,403.8 506.8,403.8 507.1,403.8 507.4,403.8 507.7,403.8 508.0,403.8 508.2,403.8 508.5,403.8 508.8,403.8 509.1,403.8 509.3,403.8 509.6,403.8 509.9,403.8 510.2,403.8 510.4,403.8 510.7,403.8 511.0,403.8 511.3,403.8 511.5,403.8 511.8,403.8 512.1,403.8 512.4,403.8 512.7,403.8 512.9,403.8 513.2,403.8 513.5,403.8 513.8,403.8 514.0,403.8 514.3,403.8 514.6,403.8 514.9,403.8 515.1,403.8 515.4,403.8 515.7,403.8 516.0,403.8 516.2,403.8 516.5,403.8 516.8,403.8 517.1,403.8 517.4,403.8 517.6,403.8 517.9,403.8 518.2,403.8 518.5,403.8 518.7,403.8 519.0,403.8 519.3,403.8 519.6,403.8 519.8,403.8 520.1,403.8 520.4,403.8 520.7,403.8 520.9,403.8 521.2,403.8 521.5,403.8 521.8,403.8 522.1,403.8 522.3,403.8 522.6,403.8 522.9,403.8 523.2,403.8 523.4,403.8 523.7,403.8 524.0,403.8 524.3,403.8 524.5,403.8 524.8,403.8 525.1,403.8 525.4,403.8 525.6,403.8 525.9,403.8 526.2,403.8 526.5,403.8 526.8,403.8 527.0,403.8 527.3,403.8 527.6,403.8 527.9,403.8 528.1,403.8 528.4,403.8 528.7,403.8 529.0,403.8 529.2,403.8 529.5,403.8 529.8,403.8 530.1,403.8 530.4,403.8 530.6,403.8 530.9,403.8 531.2,403.8 531.5,403.8 531.7,403.8 532.0,403.8 532.3,403.8 532.6,403.8 532.8,403.8 533.1,403.8 533.4,403.8 533.7,403.8 533.9,403.8 534.2,403.8 534.5,403.8 534.8,403.8 535.1,403.8 535.3,403.8 535.3,403.0 535.1,403.0 534.8,403.0 534.5,403.0 534.2,403.0 533.9,403.0 533.7,403.0 533.4,403.0 533.1,403.0 532.8,403.0 532.6,403.0 532.3,403.0 532.0,403.0 531.7,403.0 531.5,403.0 531.2,403.0 530.9,403.0 530.6,403.0 530.4,403.0 530.1,403.0 529.8,403.0 529.5,403.0 529.2,403.0 529.0,403.0 528.7,403.0 528.4,403.0 528.1,403.0 527.9,403.0 527.6,403.0 527.3,403.0 527.0,403.0 526.8,403.0 526.5,403.0 526.2,403.0 525.9,403.0 525.6,403.0 525.4,403.0 525.1,403.0 524.8,403.0 524.5,403.0 524.3,403.0 524.0,403.0 523.7,403.0 523.4,403.0 523.2,403.0 522.9,403.0 522.6,403.0 522.3,403.0 522.1,403.0 521.8,403.0 521.5,403.0 521.2,403.0 520.9,403.0 520.7,403.0 520.4,403.0 520.1,403.0 519.8,403.0 519.6,403.0 519.3,403.0 519.0,403.0 518.7,403.0 518.5,403.0 518.2,403.0 517.9,403.0 517.6,403.0 517.4,403.0 517.1,403.0 516.8,403.0 516.5,403.0 516.2,403.0 516.0,403.0 515.7,403.0 515.4,403.0 515.1,403.0 514.9,403.0 514.6,403.0 514.3,403.0 514.0,403.0 513.8,403.0 513.5,403.0 513.2,403.0 512.9,403.0 512.7,403.0 512.4,403.0 512.1,403.0 511.8,403.0 511.5,403.0 511.3,403.0 511.0,403.0 510.7,403.0 510.4,403.0 510.2,403.0 509.9,403.0 509.6,403.0 509.3,403.0 509.1,403.0 508.8,403.0 508.5,403.0 508.2,403.0 508.0,403.0 507.7,403.0 507.4,403.0 507.1,403.0 506.8,403.0 506.6,403.0 506.3,403.0 506.0,403.0 505.7,403.0 505.5,403.0 505.2,403.0 504.9,403.0 504.6,403.0 504.4,403.0 504.1,403.0 503.8,403.0 503.5,403.0 503.3,403.0 503.0,403.0 502.7,403.0 502.4,403.0 502.1,403.0 501.9,403.0 501.6,403.0 501.3,403.0 501.0,403.0 500.8,403.0 500.5,403.0 500.2,403.0 499.9,403.0 499.7,403.0 499.4,403.0 499.1,403.0 498.8,403.0 498.6,403.0 498.3,403.0 498.0,403.0 497.7,403.0 497.4,403.0 497.2,403.0 496.9,403.0 496.6,403.0 496.3,403.0 496.1,403.0 495.8,402.9 495.5,402.9 495.2,402.9 495.0,402.9 494.7,402.9 494.4,402.9 494.1,402.9 493.9,402.9 493.6,402.9 493.3,402.9 493.0,402.9 492.7,402.9 492.5,402.9 492.2,402.9 491.9,402.9 491.6,402.9 491.4,402.9 491.1,402.9 490.8,402.9 490.5,402.9 490.3,402.8 490.0,402.8 489.7,402.8 489.4,402.8 489.2,402.8 488.9,402.8 488.6,402.8 488.3,402.8 488.0,402.8 487.8,402.8 487.5,402.8 487.2,402.8 486.9,402.8 486.7,402.8 486.4,402.8 486.1,402.8 485.8,402.8 485.6,402.8 485.3,402.8 485.0,402.8 484.7,402.8 484.5,402.8 484.2,402.8 483.9,402.8 483.6,402.8 483.3,402.8 483.1,402.8 482.8,402.8 482.5,402.8 482.2,402.8 482.0,402.8 481.7,402.8 481.4,402.8 481.1,402.8 480.9,402.8 480.6,402.7 480.3,402.7 480.0,402.7 479.8,402.7 479.5,402.7 479.2,402.8 478.9,402.8 478.6,402.8 478.4,402.8 478.1,402.8 477.8,402.8 477.5,402.7 477.3,402.8 477.0,402.8 476.7,402.8 476.4,402.8 476.2,402.8 475.9,402.8 475.6,402.8 475.3,402.8 475.1,402.9 474.8,402.8 474.5,402.9 474.2,402.8 473.9,402.8 473.7,402.8 473.4,402.8 473.1,402.8 472.8,402.8 472.6,402.8 472.3,402.8 472.0,402.8 471.7,402.8 471.5,402.7 471.2,402.8 470.9,402.8 470.6,402.8 470.3,402.8 470.1,402.8 469.8,402.8 469.5,402.8 469.2,402.8 469.0,402.8 468.7,402.8 468.4,402.8 468.1,402.8 467.9,402.8 467.6,402.8 467.3,402.8 467.0,402.8 466.8,402.8 466.5,402.8 466.2,402.8 465.9,402.8 465.6,402.8 465.4,402.8 465.1,402.8 464.8,402.8 464.5,402.8 464.3,402.8 464.0,402.8 463.7,402.8 463.4,402.8 463.2,402.8 462.9,402.8 462.6,402.8 462.3,402.8 462.1,402.8 461.8,402.8 461.5,402.8 461.2,402.8 460.9,402.8 460.7,402.8 460.4,402.8 460.1,402.8 459.8,402.8 459.6,402.8 459.3,402.8 459.0,402.8 458.7,402.7 458.5,402.8 458.2,402.8 457.9,402.7 457.6,402.6 457.4,402.7 457.1,402.6 456.8,402.6 456.5,402.7 456.2,402.6 456.0,402.6 455.7,402.7 455.4,402.7 455.1,402.7 454.9,402.8 454.6,402.8 454.3,402.8 454.0,402.8 453.8,402.8 453.5,402.7 453.2,402.7 452.9,402.8 452.7,402.7 452.4,402.8 452.1,402.7 451.8,402.7 451.5,402.7 451.3,402.7 451.0,402.7 450.7,402.7 450.4,402.8 450.2,402.7 449.9,402.7 449.6,402.7 449.3,402.8 449.1,402.7 448.8,402.8 448.5,402.7 448.2,402.8 448.0,402.8 447.7,402.7 447.4,402.7 447.1,402.7 446.8,402.7 446.6,402.7 446.3,402.7 446.0,402.7 445.7,402.7 445.5,402.7 445.2,402.8 444.9,402.7 444.6,402.8 444.4,402.8 444.1,402.8 443.8,402.8 443.5,402.8 443.3,402.8 443.0,402.8 442.7,402.7 442.4,402.8 442.1,402.8 441.9,402.7 441.6,402.7 441.3,402.8 441.0,402.7 440.8,402.7 440.5,402.7 440.2,402.7 439.9,402.8 439.7,402.8 439.4,402.8 439.1,402.8 438.8,402.8 438.6,402.8 438.3,402.7 438.0,402.7 437.7,402.7 437.4,402.8 437.2,402.8 436.9,402.8 436.6,402.8 436.3,402.8 436.1,402.8 435.8,402.8 435.5,402.8 435.2,402.8 435.0,402.7 434.7,402.8 434.4,402.8 434.1,402.7 433.9,402.8 433.6,402.8 433.3,402.8 433.0,402.8 432.7,402.7 432.5,402.7 432.2,402.7 431.9,402.8 431.6,402.7 431.4,402.8 431.1,402.8 430.8,402.8 430.5,402.8 430.3,402.8 430.0,402.8 429.7,402.8 429.4,402.8 429.2,402.7 428.9,402.8 428.6,402.8 428.3,402.8 428.0,402.8 427.8,402.7 427.5,402.8 427.2,402.8 426.9,402.8 426.7,402.8 426.4,402.8 426.1,402.8 425.8,402.8 425.6,402.8 425.3,402.8 425.0,402.8 424.7,402.8 424.5,402.8 424.2,402.8 423.9,402.8 423.6,402.8 423.3,402.8 423.1,402.9 422.8,402.8 422.5,402.8 422.2,402.9 422.0,402.9 421.7,402.9 421.4,402.8 421.1,402.9 420.9,402.9 420.6,402.8 420.3,402.7 420.0,402.8 419.8,402.8 419.5,402.8 419.2,402.8 418.9,402.7 418.6,402.7 418.4,402.7 418.1,402.7 417.8,402.8 417.5,402.8 417.3,402.8 417.0,402.8 416.7,402.9 416.4,402.9 416.2,402.9 415.9,402.9 415.6,402.9 415.3,402.9 415.0,402.8 414.8,402.9 414.5,402.8 414.2,402.9 413.9,402.9 413.7,402.9 413.4,402.9 413.1,402.9 412.8,402.9 412.6,402.9 412.3,402.9 412.0,402.9 411.7,402.9 411.5,402.9 411.2,402.9 410.9,402.9 410.6,402.9 410.3,402.9 410.1,402.9 409.8,402.9 409.5,402.9 409.2,402.9 409.0,402.9 408.7,402.9 408.4,402.9 408.1,402.9 407.9,402.9 407.6,402.9 407.3,402.9 407.0,402.9 406.8,402.9 406.5,402.9 406.2,402.9 405.9,402.9 405.6,402.9 405.4,402.9 405.1,402.9 404.8,402.9 404.5,402.9 404.3,402.9 404.0,402.9 403.7,402.9 403.4,402.9 403.2,402.9 402.9,402.9 402.6,402.9 402.3,402.9 402.1,402.9 401.8,402.9 401.5,402.9 401.2,402.9 400.9,402.9 400.7,402.9 400.4,402.9 400.1,402.9 399.8,402.9 399.6,402.9 399.3,403.0 399.0,402.9 398.7,402.9 398.5,402.9 398.2,402.9 397.9,403.0 397.6,402.9 397.4,402.9 397.1,402.9 396.8,403.0 396.5,403.0 396.2,403.0 396.0,403.0 395.7,403.0 395.4,403.0 395.1,403.0 394.9,403.0 394.6,403.0 394.3,403.0 394.0,403.0 393.8,403.0 393.5,403.0 393.2,403.0 392.9,403.0 392.7,403.0 392.4,403.0 392.1,403.0 391.8,403.0 391.5,403.0 391.3,403.0 391.0,403.0 390.7,403.0 390.4,403.0 390.2,403.0 389.9,403.0 389.6,403.0 389.3,403.0 389.1,403.0 388.8,403.0 388.5,403.0 388.2,403.0 388.0,403.0 387.7,403.0 387.4,403.0"/>
<path class="gr" d="M387.63,403.4v-0.2M387.91,403.4v-0.2M389.25,403.4v-0.2M391.70,403.4v-0.3M394.63,403.4v-0.2M394.96,403.4v-0.2M400.83,403.3v-0.2M402.12,403.3v-0.3M404.40,403.3v-0.8M405.74,403.3v-0.2M406.67,403.3v-0.5M408.30,403.3v-0.2M410.02,403.3v-0.4M410.84,403.3v-0.2M411.70,403.3v-0.3M412.57,403.3v-0.2M413.46,403.3v-0.2M415.20,403.3v-0.2M415.71,403.3v-0.2M416.81,403.2v-0.6M417.22,403.2v-0.3M417.51,403.2v-0.3M417.70,403.2v-0.7M418.20,403.2v-0.3M418.67,403.2v-0.4M419.09,403.2v-0.5M419.63,403.2v-0.2M420.01,403.2v-0.7M420.64,403.2v-1.0M421.17,403.2v-0.2M421.47,403.2v-0.5M421.86,403.2v-0.7M422.11,403.2v-0.5M422.67,403.2v-0.3M423.80,403.2v-1.7M424.31,403.2v-0.6M424.47,403.2v-0.6M425.38,403.2v-0.2M425.63,403.2v-1.2M426.33,403.2v-0.2M427.02,403.2v-0.7M427.57,403.2v-0.2M427.90,403.2v-0.3M428.85,403.2v-0.4M429.07,403.2v-0.2M429.27,403.2v-0.6M430.35,403.2v-0.2M430.56,403.2v-0.5M431.22,403.2v-0.2M432.14,403.2v-0.3M435.85,403.2v-0.2M437.04,403.2v-0.3M439.41,403.2v-0.2M440.01,403.2v-0.2M440.42,403.2v-0.3M440.66,403.2v-0.6M441.81,403.2v-1.8M442.11,403.2v-0.2M443.17,403.2v-0.5M443.99,403.2v-0.5M444.36,403.2v-1.2M444.96,403.2v-0.4M445.08,403.2v-0.7M445.61,403.2v-0.2M446.09,403.2v-0.2M446.61,403.2v-0.2M447.02,403.2v-0.9M447.24,403.2v-0.4M447.93,403.2v-1.0M448.47,403.2v-0.3M448.85,403.2v-0.4M449.73,403.2v-0.4M450.08,403.2v-0.2M450.71,403.2v-0.8M451.03,403.2v-0.7M451.62,403.2v-0.6M451.76,403.2v-0.9M452.51,403.2v-0.4M453.92,403.2v-0.6M454.32,403.2v-0.3M454.56,403.2v-0.4M454.85,403.2v-0.7M455.81,403.2v-0.8M456.74,403.2v-0.3M457.14,403.2v-0.5M458.01,403.2v-0.2M459.13,403.2v-0.6M460.18,403.2v-0.7M460.38,403.2v-0.3M462.01,403.2v-0.3M462.56,403.2v-1.2M463.13,403.2v-0.4M463.50,403.2v-0.4M464.62,403.2v-0.3M464.91,403.2v-0.2M466.88,403.2v-0.4M467.51,403.2v-1.1M469.33,403.2v-0.3M469.48,403.2v-0.2M470.67,403.2v-0.2M472.94,403.2v-0.3M473.88,403.2v-0.2M474.05,403.2v-0.2M474.44,403.2v-0.3M476.12,403.2v-0.2M476.56,403.2v-0.2M477.94,403.2v-0.4M479.07,403.2v-0.4M479.22,403.2v-0.2M479.62,403.2v-0.2M479.91,403.2v-0.2M480.07,403.2v-0.4M480.50,403.2v-0.2M482.21,403.2v-0.2M482.57,403.2v-0.3M482.93,403.2v-0.2M484.01,403.2v-0.2M484.73,403.2v-1.6M486.27,403.2v-0.3M486.81,403.2v-0.2M487.23,403.2v-0.2M487.36,403.2v-0.2M487.69,403.2v-0.5M489.35,403.2v-0.2M489.57,403.2v-0.3M492.14,403.3v-0.3M492.85,403.3v-1.5M503.22,403.4v-0.2M507.45,403.4v-0.4M514.85,403.4v-0.4M516.63,403.4v-0.2M518.99,403.4v-0.2M519.91,403.4v-0.2M520.84,403.4v-0.2M523.77,403.4v-0.2M523.93,403.4v-0.2M525.97,403.4v-0.2M529.39,403.4v-0.2M533.44,403.4v-0.2M534.22,403.4v-0.4"/>
<polygon class="tr" points="387.40,403.41 389.61,403.39 390.77,403.35 390.83,403.24 390.94,402.68 390.99,402.53 391.05,402.59 391.27,403.26 391.49,403.38 393.70,403.37 395.47,403.33 395.58,403.06 395.64,402.83 395.69,402.72 395.81,402.89 395.97,403.27 396.36,403.35 398.57,403.34 400.78,403.32 402.99,403.31 404.82,403.30 404.87,403.22 404.93,402.57 404.99,399.05 405.04,386.64 405.10,359.04 405.15,323.52 405.21,305.36 405.26,310.55 405.32,325.72 405.37,343.04 405.43,355.57 405.48,360.68 405.54,360.08 405.59,357.59 405.65,356.73 405.70,358.07 405.76,360.81 405.81,364.88 405.87,369.90 405.98,380.91 406.04,386.04 406.09,390.51 406.15,394.20 406.20,397.07 406.26,399.21 406.31,400.72 406.37,401.73 406.42,402.38 406.48,402.79 406.53,403.02 406.64,403.23 407.03,403.29 407.14,403.11 407.25,402.42 407.31,402.23 407.36,402.31 407.53,403.00 407.64,403.23 408.86,403.29 411.07,403.27 413.06,403.23 413.11,402.96 413.17,401.50 413.23,396.36 413.28,384.92 413.34,370.28 413.39,363.09 413.45,365.97 413.50,373.41 413.56,382.16 413.61,389.09 413.67,392.64 413.72,392.93 413.78,391.09 413.83,388.50 413.89,386.39 413.94,385.60 414.00,385.96 414.05,386.97 414.11,388.52 414.17,390.44 414.28,394.67 414.33,396.64 414.39,398.35 414.44,399.77 414.50,400.87 414.55,401.69 414.61,402.27 414.66,402.66 414.72,402.91 414.77,403.04 414.83,403.04 414.88,402.77 414.94,402.09 414.99,401.20 415.05,400.76 415.11,400.96 415.16,401.45 415.27,402.56 415.33,402.92 415.38,403.12 415.55,403.25 417.54,403.22 417.59,403.09 417.65,402.65 417.70,401.66 417.76,400.40 417.81,399.79 417.87,400.05 417.93,400.73 417.98,401.56 418.04,402.28 418.09,402.77 418.15,403.05 418.26,403.22 418.37,403.19 418.42,402.94 418.48,402.06 418.53,400.09 418.59,397.58 418.64,396.36 418.70,396.89 418.76,398.24 418.81,399.89 418.87,401.32 418.92,402.28 418.98,402.79 419.03,402.95 419.09,402.88 419.14,402.63 419.20,402.22 419.36,400.40 419.42,399.95 419.47,399.79 419.53,399.85 419.58,400.05 419.70,400.72 419.81,401.46 419.86,401.73 419.92,401.83 419.97,401.71 420.03,401.33 420.08,400.70 420.19,399.10 420.25,398.52 420.30,398.32 420.36,398.43 420.41,398.72 420.47,399.15 420.69,401.40 420.80,402.27 420.91,402.80 421.08,403.13 421.41,403.20 421.46,403.06 421.52,402.55 421.58,401.43 421.63,399.99 421.69,399.30 421.74,399.60 421.80,400.37 421.85,401.31 421.91,402.14 421.96,402.70 422.02,403.01 422.13,403.20 422.79,403.21 422.85,403.14 422.90,402.89 422.96,402.32 423.01,401.60 423.07,401.25 423.12,401.41 423.29,402.68 423.34,402.96 423.46,403.18 424.73,403.20 424.78,403.11 424.84,402.80 424.89,402.10 424.95,401.20 425.00,400.76 425.06,400.95 425.11,401.44 425.23,402.54 425.28,402.89 425.34,403.08 425.50,403.21 426.66,403.20 426.72,403.15 426.77,402.96 426.83,402.54 426.88,402.00 426.94,401.74 426.99,401.86 427.16,402.81 427.27,403.13 427.60,403.21 429.82,403.21 429.98,403.17 430.04,402.95 430.09,402.20 430.15,400.52 430.20,398.38 430.26,397.34 430.31,397.79 430.37,398.95 430.42,400.35 430.48,401.58 430.53,402.42 430.59,402.88 430.64,403.09 430.81,403.21 432.25,403.17 432.30,403.04 432.41,402.41 432.47,402.23 432.52,402.31 432.69,402.94 432.80,403.16 435.01,403.21 436.34,403.20 436.40,403.14 436.45,402.92 436.51,402.45 436.56,401.84 436.62,401.55 436.67,401.68 436.84,402.75 436.89,402.99 437.00,403.18 438.55,403.20 438.61,403.15 438.66,402.99 438.72,402.63 438.77,402.16 438.83,401.94 438.88,402.04 439.05,402.86 439.16,403.14 439.71,403.21 440.43,403.19 440.49,403.03 440.54,402.14 440.60,398.99 440.65,392.01 440.71,383.09 440.76,378.75 440.82,380.63 440.88,385.45 440.93,391.30 440.99,396.40 441.04,399.86 441.10,401.60 441.15,401.80 441.21,400.60 441.26,398.75 441.32,397.83 441.37,398.25 441.43,399.31 441.48,400.60 441.54,401.72 441.59,402.48 441.65,402.91 441.70,403.10 441.93,403.21 442.98,403.20 443.03,403.15 443.09,402.96 443.14,402.54 443.20,402.00 443.25,401.74 443.31,401.86 443.47,402.80 443.58,403.13 443.92,403.21 445.74,403.15 445.80,403.02 445.85,402.59 445.91,401.68 445.96,400.50 446.02,399.79 446.07,399.72 446.18,400.13 446.24,400.17 446.29,399.98 446.46,398.71 446.52,398.42 446.57,398.32 446.68,398.49 446.79,398.96 446.96,399.86 447.01,400.05 447.07,400.10 447.12,399.95 447.18,399.61 447.29,398.64 447.35,398.33 447.40,398.32 447.46,398.56 447.51,398.93 447.62,399.94 447.79,401.56 447.90,402.34 448.01,402.82 448.17,403.12 448.29,403.08 448.34,402.78 448.40,402.08 448.45,401.20 448.51,400.76 448.56,400.95 448.62,401.44 448.73,402.53 448.78,402.88 448.84,403.07 449.00,403.21 449.34,403.19 449.39,403.08 449.45,402.70 449.50,401.87 449.56,400.80 449.61,400.28 449.67,400.50 449.72,401.08 449.83,402.39 449.89,402.81 449.94,403.05 450.05,403.19 450.72,403.20 450.77,403.12 450.83,402.87 450.88,402.31 450.94,401.60 450.99,401.25 451.05,401.40 451.22,402.67 451.27,402.95 451.38,403.17 452.10,403.18 452.16,403.06 452.21,402.62 452.27,401.64 452.32,400.39 452.38,399.79 452.43,400.05 452.49,400.72 452.54,401.54 452.60,402.26 452.65,402.75 452.71,403.02 452.82,403.19 453.76,403.17 453.82,403.00 453.87,402.37 453.93,400.97 453.98,399.19 454.04,398.32 454.09,398.69 454.15,399.66 454.20,400.83 454.26,401.85 454.31,402.55 454.37,402.94 454.42,403.11 454.64,403.21 455.09,403.20 455.14,403.14 455.20,402.78 455.25,401.52 455.31,398.73 455.36,395.16 455.42,393.43 455.47,394.18 455.53,396.11 455.58,398.45 455.64,400.49 455.70,401.89 455.75,402.66 455.81,403.02 455.92,403.20 456.25,403.20 456.30,403.12 456.36,402.87 456.41,402.31 456.47,401.60 456.52,401.25 456.58,401.40 456.75,402.67 456.80,402.95 456.91,403.17 457.91,403.20 457.96,403.15 458.02,402.96 458.07,402.54 458.13,402.00 458.18,401.74 458.24,401.86 458.41,402.80 458.52,403.13 458.85,403.21 459.84,403.20 459.90,403.14 459.95,402.92 460.01,402.45 460.06,401.84 460.12,401.55 460.17,401.68 460.34,402.75 460.40,402.99 460.51,403.18 461.78,403.20 461.83,403.15 461.89,402.99 461.94,402.63 462.00,402.16 462.05,401.94 462.11,402.04 462.28,402.86 462.39,403.14 462.94,403.21 464.60,403.17 464.65,403.04 464.76,402.41 464.82,402.23 464.88,402.31 465.04,402.94 465.15,403.16 467.36,403.21 469.24,403.20 469.30,403.12 469.35,402.87 469.41,402.31 469.47,401.60 469.52,401.25 469.58,401.40 469.74,402.67 469.80,402.95 469.91,403.17 471.73,403.20 471.79,403.14 471.84,402.92 471.90,402.45 471.95,401.84 472.01,401.55 472.06,401.68 472.23,402.75 472.29,402.99 472.40,403.18 474.28,403.17 474.33,403.04 474.44,402.41 474.50,402.23 474.55,402.31 474.72,402.94 474.83,403.16 477.04,403.21 479.25,403.21 481.08,403.20 481.13,403.15 481.19,402.87 481.24,401.86 481.30,399.63 481.35,396.77 481.41,395.38 481.47,395.98 481.52,397.53 481.58,399.40 481.63,401.03 481.69,402.15 481.74,402.77 481.80,403.06 481.91,403.20 484.12,403.21 484.51,403.17 484.56,403.04 484.67,402.41 484.73,402.23 484.78,402.31 484.95,402.94 485.06,403.16 487.27,403.21 487.82,403.17 487.88,403.04 487.99,402.41 488.05,402.23 488.10,402.31 488.27,402.94 488.38,403.16 490.26,403.22 490.31,403.15 490.37,402.90 490.42,402.33 490.48,401.61 490.53,401.25 490.59,401.41 490.76,402.69 490.81,402.98 490.92,403.21 492.25,403.24 492.30,403.15 492.41,402.66 492.47,402.53 492.58,402.73 492.75,403.18 493.02,403.29 495.23,403.34 497.45,403.38 499.66,403.40 501.87,403.41 504.08,403.41 506.29,403.41 508.51,403.41 510.72,403.41 512.93,403.41 515.14,403.41 517.35,403.41 519.57,403.41 521.78,403.41 523.99,403.41 526.20,403.41 528.41,403.41 530.63,403.41 532.84,403.41 535.05,403.41 535.33,403.41 535.3,403.41 534.7,403.41 534.0,403.41 533.3,403.41 532.7,403.41 532.0,403.41 531.3,403.41 530.7,403.41 530.0,403.41 529.4,403.41 528.7,403.41 528.0,403.41 527.4,403.41 526.7,403.41 526.0,403.41 525.4,403.41 524.7,403.41 524.0,403.41 523.4,403.41 522.7,403.41 522.1,403.41 521.4,403.41 520.7,403.41 520.1,403.41 519.4,403.41 518.7,403.41 518.1,403.41 517.4,403.41 516.7,403.41 516.1,403.41 515.4,403.41 514.8,403.41 514.1,403.41 513.4,403.41 512.8,403.41 512.1,403.41 511.4,403.41 510.8,403.41 510.1,403.41 509.4,403.41 508.8,403.41 508.1,403.41 507.5,403.41 506.8,403.41 506.1,403.41 505.5,403.41 504.8,403.41 504.1,403.41 503.5,403.41 502.8,403.41 502.1,403.41 501.5,403.41 500.8,403.41 500.2,403.41 499.5,403.40 498.8,403.40 498.2,403.39 497.5,403.38 496.8,403.37 496.2,403.36 495.5,403.34 494.8,403.33 494.2,403.32 493.5,403.30 492.9,403.29 492.2,403.27 491.5,403.26 490.9,403.25 490.2,403.24 489.5,403.23 488.9,403.22 488.2,403.22 487.5,403.21 486.9,403.21 486.2,403.21 485.6,403.21 484.9,403.21 484.2,403.21 483.6,403.21 482.9,403.21 482.2,403.21 481.6,403.21 480.9,403.21 480.2,403.21 479.6,403.21 478.9,403.21 478.3,403.21 477.6,403.21 476.9,403.21 476.3,403.21 475.6,403.21 474.9,403.21 474.3,403.21 473.6,403.21 472.9,403.21 472.3,403.21 471.6,403.21 471.0,403.21 470.3,403.21 469.6,403.21 469.0,403.21 468.3,403.21 467.6,403.21 467.0,403.21 466.3,403.21 465.6,403.21 465.0,403.21 464.3,403.21 463.7,403.21 463.0,403.21 462.3,403.21 461.7,403.21 461.0,403.21 460.3,403.21 459.7,403.21 459.0,403.21 458.3,403.21 457.7,403.21 457.0,403.21 456.4,403.21 455.7,403.21 455.0,403.21 454.4,403.21 453.7,403.21 453.0,403.21 452.4,403.21 451.7,403.21 451.1,403.21 450.4,403.21 449.7,403.21 449.1,403.21 448.4,403.21 447.7,403.21 447.1,403.21 446.4,403.21 445.7,403.21 445.1,403.21 444.4,403.21 443.8,403.21 443.1,403.21 442.4,403.21 441.8,403.21 441.1,403.21 440.4,403.21 439.8,403.21 439.1,403.21 438.4,403.21 437.8,403.21 437.1,403.21 436.5,403.21 435.8,403.21 435.1,403.21 434.5,403.21 433.8,403.21 433.1,403.21 432.5,403.21 431.8,403.21 431.1,403.21 430.5,403.21 429.8,403.21 429.2,403.21 428.5,403.21 427.8,403.21 427.2,403.21 426.5,403.22 425.8,403.22 425.2,403.22 424.5,403.22 423.8,403.22 423.2,403.22 422.5,403.23 421.9,403.23 421.2,403.23 420.5,403.23 419.9,403.24 419.2,403.24 418.5,403.24 417.9,403.24 417.2,403.25 416.5,403.25 415.9,403.25 415.2,403.26 414.6,403.26 413.9,403.26 413.2,403.26 412.6,403.27 411.9,403.27 411.2,403.27 410.6,403.28 409.9,403.28 409.2,403.28 408.6,403.29 407.9,403.29 407.3,403.29 406.6,403.30 405.9,403.30 405.3,403.30 404.6,403.31 403.9,403.31 403.3,403.31 402.6,403.32 401.9,403.32 401.3,403.32 400.6,403.33 400.0,403.33 399.3,403.33 398.6,403.34 398.0,403.34 397.3,403.34 396.6,403.35 396.0,403.35 395.3,403.36 394.6,403.36 394.0,403.36 393.3,403.37 392.7,403.37 392.0,403.38 391.3,403.38 390.7,403.38 390.0,403.39 389.3,403.39 388.7,403.40 388.0,403.40"/>
</g>
</svg>
</body></html>
